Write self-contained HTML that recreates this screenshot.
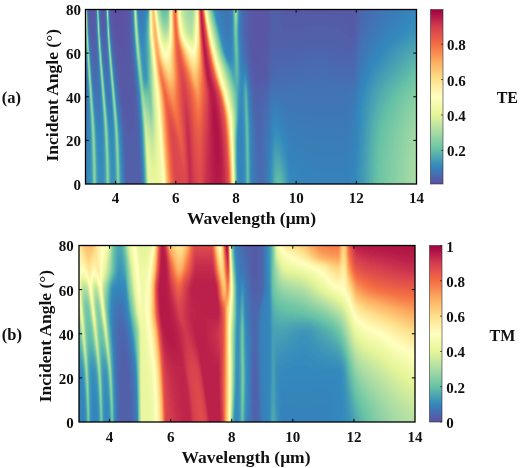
<!DOCTYPE html>
<html lang="en"><head><meta charset="utf-8"><title>TE / TM absorption maps</title>
<style>html,body{margin:0;padding:0;background:#fff}svg{display:block}text{fill:#111}</style></head><body>
<svg width="520" height="468" viewBox="0 0 520 468" font-family="'Liberation Serif','Times New Roman',serif" font-weight="bold">
<defs><linearGradient id="cb" x1="0" y1="1" x2="0" y2="0"><stop offset="0" stop-color="#5e4fa2"/><stop offset="0.05" stop-color="#496aaf"/><stop offset="0.1" stop-color="#3387bc"/><stop offset="0.15" stop-color="#4ba4b1"/><stop offset="0.2" stop-color="#66c2a5"/><stop offset="0.25" stop-color="#89d0a4"/><stop offset="0.3" stop-color="#aadca4"/><stop offset="0.35" stop-color="#c8e99e"/><stop offset="0.4" stop-color="#e6f598"/><stop offset="0.45" stop-color="#f3faac"/><stop offset="0.5" stop-color="#fffebe"/><stop offset="0.55" stop-color="#fff0a6"/><stop offset="0.6" stop-color="#fee08b"/><stop offset="0.65" stop-color="#fdc776"/><stop offset="0.7" stop-color="#fdad60"/><stop offset="0.75" stop-color="#f88c51"/><stop offset="0.8" stop-color="#f46d43"/><stop offset="0.85" stop-color="#e45549"/><stop offset="0.9" stop-color="#d43d4f"/><stop offset="0.95" stop-color="#b81e48"/><stop offset="1" stop-color="#9e0142"/></linearGradient></defs>
<rect width="520" height="468" fill="#fff"/>
<g fill="none" stroke-width="1.02" shape-rendering="crispEdges" transform="translate(0.5 0)">
<path stroke="#5c51a3" d="M113 10v2m1-2v7m1-7v11m1-11v16m1-16v18m1-18v19m1-19v19m1-19v18m1-18v16m1-16v12m1-12v6"/>
<path stroke="#5b53a4" d="M91 10v2m1-2v2m20-2v6m1-4v9m1-4v10m1-6v12m1-7v13m1-11v15m1-14v17m1-17v18m1-19v20m1-22v21m1-25v24m1-30v27m1-33v29m1-29v21m1-21v9"/>
<path stroke="#5956a5" d="M90 10v6m1-4v7m1-7v8m1-10v7m9-7v2m9-2v6m1 0v6m1-1v7m1-1v8m1-2v8m1-2v8m1-4v10m1-7v12m1-11v14m1-13v15m1-16v18m1-19v19m1-22v22m1-26v25m1-33v30m1-42v34m1-43v28m126-28v37m1-37v52m1-52v54m1-54v55m1-55v54m1-54v54m1-54v53m1-53v51m1-51v48m1-48v44m1-44v40m1-40v38m1-38v36m1-36v33m1-33v25"/>
<path stroke="#5758a6" d="M89 10v3m1 3v5m1-2v7m1-6v8m1-11v9m1-16v5m7-5v4m1-2v7m1-9v8m7-8v1m1 5v4m1 2v6m1 0v6m1 1v5m1 1v5m1 1v6m1 0v6m1-1v8m1-5v11m1-9v15m1-13v19m1-19v25m1-25v29m1-30v32m1-35v37m1-45v45m1-60v59m1-87v84m123-84v34m1-34v50m1-13v21m1-6v11m1-9v11m1-10v11m1-12v12m1-12v12m1-13v12m1-14v14m1-17v16m1-20v18m1-22v20m1-22v20m1-22v18m1-21v14m1-22v13m1-38v28"/>
<path stroke="#555aa7" d="M89 13v4m1 4v5m1 0v6m1-4v6m1-8v8m1-19v12m7-13v4m1 1v5m1-6v8m1-16v4m6-3v4m1 5v4m1 4v4m1 2v5m1 1v5m1 1v5m1 2v5m1 1v6m1 1v5m1 1v7m1-1v9m1-3v12m1-6v14m1-10v15m1-13v16m1-14v16m1-16v18m1-19v19m1-22v23m1-107v106m1-61v59m1-44v41m1-25v18m117-94v25m1-25v37m1-3v17m1-1v9m1-1v8m1-3v7m1-5v6m1-5v6m1-6v6m1-6v6m1-7v7m1-7v6m1-7v7m1-9v8m1-10v9m1-11v10m1-14v13m1-20v17m1-26v17m1-27v12m1-40v28m14-28v1m1-1v5m1-5v7m1-7v7m1-7v7m1-7v7m1-7v7m1-7v7m1-7v7m1-7v7m1-7v7m1-7v7m1-7v7m1-7v6m1-6v6m1-6v6m1-6v6m1-6v6m1-6v6m1-6v6m1-6v5m1-5v5m1-5v5m1-5v5m1-5v5m1-5v5m1-5v5m1-5v5m1-5v5m1-5v5m1-5v4m1-4v4m1-4v4m1-4v4m1-4v4m1-4v4m1-4v4m1-4v4m1-4v4m1-4v4m1-4v4m1-4v4m1-4v4m1-4v5m1-5v5m1-5v5m1-5v5m1-5v5m1-5v5m1-5v5m1-5v5m1-5v6m1-6v6m1-6v6m1-6v6m1-6v6m1-6v7m1-7v7m1-7v8m1-8v8m1-8v9m1-9v10m1-10v11m1-11v13m1-13v15m1-15v16m1-16v18m1-18v19m1-19v19m1-19v18m1-18v14m1-14v2"/>
<path stroke="#545ca8" d="M89 17v4m1 5v4m1 2v4m1-2v5m1-5v6m1-13v9m6-26v2m1 6v4m1 2v5m1-3v6m1-18v13m6-12v2m1 7v4m1 4v4m1 3v3m1 3v4m1 2v4m1 3v4m1 3v4m1 2v5m1 3v5m1 3v6m1 3v6m1 2v6m1-1v8m1-5v11m1-9v14m1-12v15m1-15v17m1-16v18m1-19v20m1-95v14m0 59v21m1-76v11m0 41v23m1-64v16m0 18v27m1-49v45m1-32v24m114-109v28m1-3v12m1 0v12m1 2v7m1 1v7m1 0v5m1-1v4m1-3v5m1-4v4m1-4v4m1-4v4m1-4v4m1-5v5m1-5v4m1-5v4m1-5v5m1-6v5m1-6v5m1-8v7m1-16v12m1-27v16m1-28v12m1-40v28m10-28v10m1-10v15m1-15v18m1-17v19m1-15v16m1-14v15m1-15v15m1-15v15m1-15v15m1-15v15m1-15v14m1-14v14m1-14v14m1-14v14m1-14v14m1-14v13m1-14v14m1-14v14m1-14v13m1-13v13m1-13v13m1-13v12m1-12v12m1-13v13m1-13v13m1-13v12m1-12v12m1-12v12m1-12v12m1-12v11m1-11v11m1-11v11m1-11v11m1-12v12m1-12v11m1-11v11m1-11v11m1-11v11m1-11v11m1-11v11m1-11v11m1-11v11m1-11v11m1-11v11m1-11v11m1-11v11m1-10v11m1-11v11m1-11v11m1-11v11m1-11v12m1-12v12m1-12v12m1-12v13m1-12v12m1-12v12m1-12v13m1-13v13m1-13v14m1-13v13m1-13v14m1-13v14m1-14v14m1-13v14m1-13v14m1-13v14m1-12v13m1-11v12m1-11v12m1-10v10m1-9v10m1-10v10m1-11v10m1-14v12m1-24v18m1-20v9"/>
<path stroke="#525fa9" d="M89 21v3m1 6v4m1 2v4m1-1v5m1-4v6m1-10v8m6-32v3m1 7v4m1 3v4m1-1v5m1-10v9m6-19v3m1 8v3m1 5v3m1 3v4m1 3v3m1 3v4m1 3v4m1 3v4m1 3v4m1 4v5m1 4v4m1 5v4m1 4v4m1 3v5m1 1v8m1-3v17m1-14v32m1-30v51m1-49v49m1-48v48m1-174v1m0 15v15m0 94v49m1-133v8m0 75v50m1-120v6m0 61v53m1-108v6m0 45v57m1-98v9m0 24v65m1-85v85m1-63v10m0 17v36m1-19v19m1-10v10m109-174v28m1 0v9m1 0v10m1 2v7m1 2v6m1 2v5m1 0v4m1-1v4m1-2v4m1-4v5m1-5v5m1-5v5m1-5v4m1-4v4m1-5v4m1-5v4m1-4v4m1-5v4m1-5v4m1-5v4m1-8v5m1-16v10m1-26v15m1-27v13m1-41v31m5-31v18m1-18v24m1-24v26m1-26v28m1-18v19m1-14v15m1-12v12m1-10v11m1-10v10m1-9v10m1-10v10m1-10v10m1-10v10m1-10v9m1-10v10m1-10v10m1-10v10m1-10v10m1-10v9m1-10v10m1-10v10m1-10v10m1-11v10m1-10v10m1-10v10m1-11v10m1-10v10m1-10v10m1-10v9m1-10v10m1-10v10m1-10v9m1-9v9m1-10v10m1-10v9m1-9v9m1-9v9m1-9v9m1-10v10m1-10v9m1-9v9m1-9v9m1-9v9m1-9v9m1-9v9m1-9v9m1-9v9m1-9v9m1-9v10m1-10v10m1-9v9m1-9v9m1-9v9m1-9v10m1-9v9m1-9v10m1-10v10m1-9v9m1-9v10m1-10v10m1-9v10m1-10v10m1-9v10m1-10v11m1-10v10m1-9v10m1-10v10m1-9v9m1-8v9m1-8v8m1-7v8m1-7v7m1-6v6m1-6v7m1-6v6m1-6v6m1-7v6m1-8v6m1-12v8m1-19v13m1-22v12"/>
<path stroke="#5061aa" d="M88 10v2m1 12v3m1 7v3m1 3v4m1 0v4m1-2v5m1-7v7m1-41v33m5-28v2m1 9v2m1 5v4m1 0v5m1-6v7m6-23v2m1 9v2m1 6v3m1 4v3m1 3v4m1 3v3m1 4v3m1 4v3m1 4v4m1 5v3m1 5v4m1 5v3m1 5v3m1 5v4m1 5v7m1 7v14m1 4v21m4-173v15m1 18v7m1 8v5m1 7v5m1 6v4m1 6v7m1 7v15m0 10v17m1-25v42m1-16v25m1-8v18m107-174v28m1 0v8m1 1v8m1 2v6m1 3v5m1 3v4m1 3v3m1 1v4m1-1v5m1-3v5m1-4v6m1-6v6m1-6v5m1-6v6m1-6v5m1-6v5m1-6v5m1-5v4m1-5v4m1-5v4m1-5v3m1-6v3m1-9v5m1-16v10m1-24v13m1-23v12m1-43v38m1-38v36m1-36v36m1-36v37m1-19v19m1-13v13m1-11v12m1-10v10m1-9v9m1-8v9m1-9v9m1-8v8m1-8v8m1-7v7m1-7v7m1-7v7m1-7v7m1-8v8m1-8v8m1-8v8m1-8v8m1-8v7m1-8v8m1-8v8m1-8v8m1-8v7m1-8v8m1-8v8m1-8v7m1-8v8m1-8v8m1-8v7m1-8v8m1-8v8m1-8v7m1-8v8m1-8v8m1-8v7m1-8v8m1-8v8m1-8v8m1-8v7m1-7v7m1-8v8m1-8v8m1-8v8m1-8v8m1-8v8m1-8v8m1-8v8m1-8v8m1-8v8m1-7v7m1-7v7m1-7v8m1-8v8m1-8v8m1-7v8m1-8v8m1-7v8m1-8v8m1-8v9m1-8v8m1-8v9m1-8v8m1-8v9m1-8v8m1-7v8m1-8v8m1-7v8m1-8v8m1-8v8m1-7v7m1-7v7m1-6v6m1-6v6m1-6v6m1-5v5m1-5v5m1-5v5m1-6v6m1-8v6m1-10v6m1-12v7m1-17v11m1-23v13"/>
<path stroke="#4e63ac" d="M88 12v2m1 13v2m1 8v3m1 4v3m1 1v5m1-2v5m1-5v7m1-15v10m5-36v2m1 9v3m1 6v2m1 3v3m1-2v5m1-22v18m5-22v2m1 9v2m1 7v2m1 5v3m1 4v3m1 3v3m1 4v3m1 4v4m1 4v3m1 5v3m1 6v3m1 5v3m1 5v3m1 6v4m1 8v8m1 13v13m6-135v7m1 10v5m1 8v4m1 7v4m1 6v4m1 8v6m1 9v8m1 9v17m1 6v11m1 9v9m105-174v27m1 1v6m1 2v6m1 3v5m1 3v4m1 4v4m1 3v4m1 2v3m1 2v4m1 0v8m1-6v11m1-9v11m1-11v11m1-12v11m1-11v8m1-9v7m1-8v6m1-7v5m1-6v4m1-5v4m1-5v3m1-5v4m1-7v4m1-8v4m1-10v5m1-16v10m1-21v13m1-18v12m1-14v12m1-12v12m1-11v10m1-10v10m1-10v10m1-9v9m1-9v9m1-9v9m1-8v8m1-8v8m1-8v8m1-8v8m1-8v7m1-7v7m1-7v7m1-7v7m1-7v7m1-7v7m1-7v6m1-6v6m1-7v7m1-7v7m1-7v7m1-7v6m1-7v7m1-7v7m1-7v7m1-8v7m1-7v7m1-7v7m1-8v7m1-7v7m1-7v6m1-7v7m1-7v7m1-7v6m1-7v7m1-7v7m1-7v7m1-7v6m1-7v7m1-7v7m1-7v7m1-7v7m1-7v6m1-6v6m1-6v6m1-6v6m1-6v6m1-6v7m1-7v7m1-7v7m1-7v7m1-6v7m1-7v7m1-7v8m1-7v7m1-7v8m1-7v7m1-7v8m1-7v8m1-8v8m1-7v8m1-8v8m1-7v8m1-8v8m1-7v7m1-7v7m1-6v7m1-7v7m1-7v7m1-7v7m1-7v7m1-7v7m1-7v7m1-7v7m1-7v7m1-7v7m1-7v6m1-6v6m1-8v6m1-10v6m1-11v6m1-12v7m1-17v10m1-23v14m1-14v4"/>
<path stroke="#4d65ad" d="M88 14v2m1 13v2m1 9v2m1 5v3m1 3v4m1-1v5m1-3v6m1-11v10m5-44v2m1 10v2m1 6v3m1 3v3m1 0v5m1-35v8m0 18v9m4-43v1m1 13v2m1 9v2m1 7v2m1 6v2m1 5v2m1 4v3m1 4v3m1 5v3m1 4v3m1 5v3m1 6v2m1 6v2m1 6v3m1 7v4m1 12v7m1 19v12m6-156v9m1 13v4m1 9v4m1 7v4m1 7v3m1 7v5m1 10v5m1 10v7m1 14v9m1 12v8m104-165v25m1 2v6m1 1v6m1 2v6m1 2v4m1 3v4m1 4v4m1 3v2m1 3v3m1 3v6m1 2v8m1-3v12m1-10v16m1-16v20m1-21v20m1-23v16m1-18v12m1-14v9m1-11v7m1-9v6m1-7v5m1-7v5m1-6v4m1-7v3m1-7v4m1-9v4m1-10v5m1-13v8m1-14v9m1-11v9m1-9v8m1-9v8m1-8v8m1-8v7m1-7v7m1-7v7m1-7v6m1-6v6m1-6v6m1-6v6m1-6v6m1-7v6m1-6v6m1-6v6m1-6v6m1-6v5m1-5v5m1-6v6m1-6v6m1-6v5m1-5v5m1-5v5m1-6v6m1-6v5m1-5v5m1-5v5m1-6v6m1-6v5m1-5v5m1-6v6m1-6v5m1-6v6m1-6v6m1-6v6m1-7v6m1-6v6m1-6v6m1-6v6m1-7v7m1-7v6m1-6v6m1-6v6m1-6v6m1-7v7m1-7v7m1-7v7m1-7v7m1-7v7m1-6v6m1-6v6m1-6v7m1-7v7m1-6v6m1-6v7m1-6v6m1-6v7m1-6v6m1-6v7m1-6v6m1-5v6m1-6v6m1-5v6m1-6v6m1-5v5m1-5v6m1-6v6m1-6v6m1-5v5m1-5v6m1-6v6m1-6v6m1-6v6m1-6v6m1-6v6m1-6v6m1-6v6m1-6v6m1-7v6m1-6v6m1-8v6m1-10v5m1-10v5m1-10v5m1-12v6m1-15v9m1-19v11m1-15v8m1-8v1"/>
<path stroke="#4b68ae" d="M88 16v2m1 13v2m1 9v2m1 6v3m1 4v3m1 1v5m1-2v6m1-7v8m1-28v22m4-44v2m1 10v2m1 7v2m1 4v3m1 2v4m1-45v6m0 35v7m4-49v2m1 13v1m1 10v2m1 7v2m1 6v2m1 5v3m1 4v3m1 4v3m1 5v2m1 5v3m1 5v3m1 5v3m1 5v3m1 6v3m1 8v4m1 15v6m7-149v18m1 17v5m1 10v3m1 8v3m1 8v3m1 7v3m1 10v5m1 10v5m1 13v8m1 14v7m103-157v14m1 11v6m1 2v5m1 2v5m1 3v3m1 3v3m1 4v4m1 4v2m1 3v3m1 3v4m1 5v7m1 3v8m1 1v8m1-2v11m1-7v14m1-15v21m1-28v28m1-34v26m1-31v15m1-19v10m1-13v8m1-10v6m1-8v5m1-7v4m1-8v4m1-7v3m1-8v4m1-9v4m1-9v5m1-10v7m1-9v7m1-8v7m1-8v7m1-7v6m1-7v7m1-7v6m1-6v6m1-7v6m1-6v6m1-6v6m1-6v6m1-6v5m1-6v6m1-6v6m1-6v5m1-5v5m1-6v6m1-6v6m1-6v5m1-5v5m1-6v6m1-6v5m1-5v5m1-5v5m1-6v5m1-5v5m1-5v5m1-5v5m1-6v5m1-5v5m1-5v5m1-6v6m1-6v5m1-5v5m1-5v5m1-6v6m1-6v6m1-6v5m1-5v5m1-5v5m1-6v6m1-6v6m1-6v6m1-6v6m1-6v5m1-5v5m1-5v5m1-5v5m1-5v5m1-5v6m1-6v6m1-5v5m1-5v5m1-5v6m1-5v5m1-5v6m1-5v5m1-5v6m1-5v5m1-5v6m1-5v5m1-5v6m1-5v5m1-5v5m1-5v6m1-5v5m1-5v5m1-5v6m1-6v6m1-5v5m1-5v5m1-5v5m1-5v5m1-5v5m1-5v5m1-5v5m1-5v5m1-5v5m1-6v6m1-6v6m1-8v6m1-11v7m1-12v6m1-11v5m1-11v5m1-11v6m1-14v9m1-16v10m1-17v12m1-13v8m1-8v3"/>
<path stroke="#496aaf" d="M88 18v2m1 13v2m1 9v2m1 7v2m1 5v3m1 3v4m1 0v5m1-4v6m1-41v7m0 22v12m4-54v1m1 11v2m1 7v2m1 5v3m1 3v3m1-50v2m0 48v5m1-19v18m3-51v1m1 13v2m1 10v1m1 8v2m1 6v2m1 6v2m1 5v2m1 5v3m1 4v3m1 5v2m1 6v2m1 6v2m1 6v2m1 7v3m1 9v5m1 16v7m8-125v4m1 11v4m1 8v3m1 8v3m1 7v3m1 9v4m1 11v4m1 13v5m1 17v5m1 19v5m102-160v15m1 2v5m1 2v5m1 2v4m1 2v3m1 3v3m1 5v3m1 3v3m1 3v3m1 4v6m1 6v6m1 5v6m1 3v7m1 2v9m1-2v11m1-5v12m1-12v17m1-25v28m1-44v35m1-44v19m1-24v11m1-15v8m1-11v7m1-10v6m1-10v5m1-9v4m1-8v3m1-8v4m1-8v4m1-7v4m1-6v5m1-6v5m1-6v6m1-7v6m1-6v6m1-7v6m1-6v6m1-7v6m1-6v6m1-6v5m1-5v5m1-6v6m1-6v6m1-6v5m1-6v6m1-6v6m1-6v5m1-5v5m1-6v6m1-6v5m1-5v5m1-6v6m1-6v5m1-5v5m1-6v6m1-6v5m1-5v5m1-5v5m1-6v6m1-6v5m1-5v5m1-5v5m1-6v6m1-6v5m1-5v5m1-5v5m1-5v5m1-6v6m1-6v5m1-5v5m1-5v5m1-5v5m1-5v5m1-5v5m1-6v6m1-6v6m1-6v6m1-6v6m1-6v6m1-5v5m1-5v5m1-5v5m1-5v6m1-5v5m1-5v6m1-5v5m1-5v5m1-4v5m1-5v5m1-4v5m1-5v5m1-4v5m1-5v5m1-5v6m1-5v5m1-5v6m1-6v6m1-5v5m1-5v5m1-5v5m1-5v5m1-5v5m1-5v5m1-5v6m1-6v6m1-6v6m1-6v6m1-6v6m1-6v6m1-6v5m1-7v5m1-9v6m1-12v6m1-12v6m1-12v5m1-10v5m1-10v5m1-11v7m1-12v8m1-13v9m1-14v10m1-13v9m1-9v5"/>
<path stroke="#486cb0" d="M88 20v1m1 14v2m1 9v2m1 7v3m1 5v3m1 4v4m1 1v4m1-2v6m1-51v4m0 41v6m1-17v12m3-54v1m1 12v1m1 8v2m1 6v2m1 4v3m1 2v4m1-28v5m0 18v8m3-58v1m1 14v1m1 10v2m1 8v1m1 7v2m1 6v2m1 5v3m1 5v2m1 5v2m1 5v3m1 5v3m1 5v2m1 6v2m1 8v2m1 12v5m1 18v9m8-138v4m1 12v3m1 10v2m1 9v2m1 8v2m1 9v3m1 11v4m1 12v5m1 17v5m1 18v6m101-169v24m1 5v4m1 3v4m1 3v4m1 2v2m1 3v2m1 4v3m1 5v2m1 4v2m1 4v3m1 7v5m1 7v5m1 6v6m1 4v8m1 3v8m1 1v9m1-2v11m1-6v13m1-10v15m1-24v25m1-50v50m1-63v18m1-25v11m1-15v8m1-12v7m1-12v6m1-11v5m1-10v4m1-8v3m1-7v3m1-6v4m1-5v4m1-5v4m1-4v4m1-5v5m1-5v4m1-5v5m1-5v5m1-6v5m1-5v5m1-6v6m1-6v6m1-6v5m1-5v5m1-6v6m1-6v6m1-6v5m1-6v6m1-6v6m1-6v5m1-6v6m1-6v6m1-6v6m1-7v6m1-6v6m1-6v6m1-7v6m1-6v6m1-6v6m1-6v5m1-6v6m1-6v6m1-6v6m1-6v5m1-6v6m1-6v6m1-6v6m1-6v5m1-5v5m1-6v6m1-6v6m1-6v6m1-6v6m1-6v6m1-6v5m1-5v5m1-5v5m1-5v5m1-5v5m1-5v5m1-5v6m1-6v6m1-6v6m1-5v5m1-5v6m1-5v5m1-5v6m1-6v6m1-5v6m1-6v6m1-5v6m1-6v6m1-5v6m1-6v6m1-5v6m1-6v6m1-5v5m1-5v6m1-6v6m1-6v6m1-6v6m1-6v6m1-6v6m1-6v6m1-5v5m1-5v5m1-5v5m1-5v5m1-5v4m1-4v4m1-5v5m1-7v5m1-8v5m1-11v6m1-12v6m1-13v6m1-11v5m1-10v5m1-9v5m1-9v6m1-10v7m1-11v8m1-12v8m1-12v8m1-13v10m1-10v6m1-6v3"/>
<path stroke="#466eb1" d="M88 21v1m1 15v1m1 10v1m1 9v2m1 6v3m1 5v3m1 2v4m1 0v4m1-58v3m0 51v6m1-31v8m0 12v10m3-63v2m1 11v1m1 9v1m1 7v2m1 5v3m1 3v3m1-34v3m0 31v5m1-14v13m2-61v1m1 14v1m1 11v1m1 8v2m1 7v2m1 6v2m1 6v2m1 5v2m1 5v3m1 5v2m1 6v2m1 5v2m1 6v3m1 7v3m1 14v4m1 23v9m8-152v5m1 13v3m1 10v3m1 8v3m1 7v3m1 8v3m1 11v3m1 13v3m1 17v5m1 18v5m101-139v6m1 3v4m1 3v5m1 2v2m1 2v2m1 3v2m1 5v2m1 5v2m1 4v2m1 5v4m1 8v5m1 7v6m1 6v6m1 6v8m1 3v10m1 0v11m1-2v11m1-4v6m1-1v1m3-45v45m1-59v15m1-22v10m1-15v7m1-13v7m1-13v5m1-11v4m1-9v4m1-8v4m1-6v3m1-4v3m1-4v4m1-4v4m1-4v3m1-4v4m1-4v4m1-4v4m1-5v5m1-5v5m1-5v5m1-5v5m1-6v6m1-6v5m1-5v5m1-5v5m1-6v6m1-6v6m1-6v6m1-7v6m1-6v6m1-6v6m1-6v6m1-7v6m1-6v6m1-6v6m1-7v7m1-7v7m1-7v6m1-7v7m1-7v7m1-7v7m1-7v6m1-7v7m1-7v7m1-7v7m1-7v6m1-7v7m1-7v7m1-7v7m1-7v7m1-7v7m1-7v7m1-7v6m1-7v7m1-7v7m1-7v7m1-7v7m1-7v7m1-7v7m1-6v7m1-7v7m1-7v7m1-7v7m1-6v7m1-7v7m1-6v7m1-7v7m1-6v6m1-6v7m1-6v6m1-6v6m1-5v6m1-6v6m1-5v5m1-5v6m1-6v6m1-5v5m1-5v5m1-5v5m1-5v5m1-5v5m1-5v5m1-5v5m1-5v5m1-5v4m1-4v4m1-4v4m1-5v5m1-5v4m1-4v4m1-6v4m1-7v5m1-10v6m1-12v6m1-13v6m1-12v5m1-10v5m1-9v5m1-8v5m1-8v5m1-8v6m1-10v7m1-11v8m1-11v7m1-11v8m1-11v8m1-11v8m1-8v5m1-5v3"/>
<path stroke="#4471b2" d="M88 22v2m1 14v1m1 10v2m1 9v2m1 7v2m1 6v2m1 4v3m1 1v4m1-64v2m0 60v5m1-41v5m0 30v6m1-13v5m1-76v1m1 16v1m1 11v2m1 8v2m1 7v2m1 6v2m1 4v3m1-40v3m0 39v4m1-23v5m0 13v8m2-68v2m1 13v1m1 11v1m1 9v1m1 8v1m1 7v1m1 7v2m1 5v2m1 6v2m1 5v3m1 5v2m1 5v2m1 7v2m1 8v4m1 14v5m9-130v5m1 15v3m1 11v2m1 9v2m1 8v2m1 8v3m1 11v3m1 12v4m1 16v4m1 18v5m100-158v24m1 6v4m1 3v4m1 4v3m1 1v2m1 2v2m1 3v2m1 5v3m1 4v2m1 4v3m1 6v5m1 8v5m1 8v5m1 7v8m1 6v10m1 3v11m1 0v11m1-2v2m6-44v44m1-56v12m1-20v10m1-16v8m1-16v6m1-13v5m1-10v4m1-8v3m1-6v3m1-4v3m1-3v3m1-3v3m1-4v4m1-4v4m1-4v4m1-4v4m1-4v4m1-4v4m1-4v4m1-4v4m1-4v4m1-5v6m1-6v6m1-6v6m1-6v6m1-6v6m1-6v6m1-7v7m1-7v7m1-7v7m1-7v6m1-7v7m1-7v7m1-7v7m1-7v7m1-7v7m1-8v8m1-8v8m1-8v7m1-7v7m1-8v8m1-8v8m1-8v8m1-8v8m1-9v8m1-8v8m1-8v8m1-8v8m1-8v8m1-8v8m1-8v8m1-9v9m1-9v9m1-9v8m1-8v8m1-8v8m1-8v8m1-8v9m1-8v8m1-8v8m1-8v8m1-8v8m1-7v7m1-7v8m1-7v7m1-7v7m1-7v7m1-6v6m1-6v7m1-7v7m1-6v6m1-6v6m1-6v6m1-5v5m1-5v5m1-5v5m1-5v5m1-5v5m1-5v6m1-6v5m1-5v5m1-5v5m1-5v5m1-6v5m1-5v5m1-5v4m1-4v4m1-5v4m1-4v3m1-5v4m1-6v3m1-7v4m1-10v6m1-13v6m1-13v6m1-11v5m1-9v5m1-8v4m1-7v5m1-7v4m1-7v5m1-8v5m1-9v7m1-10v7m1-10v7m1-10v7m1-10v8m1-10v7m1-10v8m1-8v5m1-5v3m1-3v1"/>
<path stroke="#4273b3" d="M86 77v24m2-77v1m1 14v1m1 11v1m1 10v1m1 8v2m1 6v3m1 4v3m1 2v4m1-70v2m0 67v4m1-48v3m0 41v6m1-28v9m0 5v11m1-86v1m1 16v1m1 12v1m1 9v1m1 8v1m1 7v2m1 5v2m1-44v2m0 46v3m1-30v4m0 26v4m1-12v12m2-56v1m1 11v1m1 9v1m1 8v1m1 7v2m1 7v1m1 6v2m1 6v2m1 6v2m1 5v2m1 5v2m1 7v2m1 10v3m1 16v5m9-140v5m1 17v3m1 11v3m1 9v2m1 9v1m1 8v2m1 11v3m1 12v3m1 15v5m1 18v4m100-129v5m1 5v3m1 4v5m1 2v2m1 1v1m1 3v1m1 4v2m1 6v1m1 5v2m1 5v2m1 9v5m1 8v5m1 8v6m1 9v10m1 6v12m1 2v11m9-44v17m1-27v10m1-18v9m1-19v8m1-16v6m1-12v5m1-10v4m1-7v4m1-5v3m1-3v3m1-3v3m1-3v3m1-3v3m1-3v4m1-4v4m1-4v4m1-4v5m1-5v5m1-5v5m1-5v6m1-5v5m1-5v6m1-6v6m1-6v6m1-6v6m1-6v6m1-6v6m1-6v6m1-6v6m1-7v7m1-7v7m1-7v7m1-7v7m1-7v7m1-7v7m1-7v7m1-7v7m1-8v8m1-8v8m1-8v8m1-8v8m1-8v8m1-8v8m1-9v9m1-9v9m1-9v9m1-9v9m1-9v9m1-9v9m1-9v9m1-9v9m1-9v9m1-10v10m1-10v10m1-10v10m1-10v10m1-9v9m1-9v9m1-9v9m1-9v9m1-9v9m1-9v9m1-8v8m1-8v8m1-8v8m1-8v8m1-8v8m1-7v7m1-7v7m1-7v7m1-7v7m1-7v7m1-7v7m1-7v7m1-7v7m1-7v7m1-7v7m1-6v6m1-7v7m1-7v7m1-7v6m1-6v5m1-6v6m1-6v5m1-6v5m1-5v4m1-5v4m1-5v4m1-5v3m1-6v4m1-7v4m1-8v4m1-11v6m1-13v7m1-13v6m1-10v5m1-9v5m1-7v4m1-7v5m1-7v5m1-8v5m1-7v5m1-8v6m1-9v6m1-9v6m1-8v6m1-9v6m1-8v6m1-9v7m1-9v7m1-9v7m1-8v6m1-6v4m1-4v2"/>
<path stroke="#4175b4" d="M86 72v5m0 24v7m2-83v1m1 14v1m1 11v2m1 9v2m1 8v2m1 7v2m1 5v3m1 3v3m1-75v2m0 73v4m1-54v2m0 50v4m1-36v4m0 25v7m1-92v1m1 16v1m1 12v1m1 9v1m1 8v2m1 7v1m1 6v3m1-49v2m0 51v3m1-35v2m0 34v4m1-21v5m0 12v7m1-77v1m1 14v1m1 11v1m1 9v1m1 8v1m1 8v1m1 7v2m1 6v2m1 6v2m1 6v2m1 5v2m1 5v2m1 7v3m1 10v4m1 17v6m9-152v6m1 20v2m1 12v2m1 10v2m1 9v2m1 7v2m1 10v3m1 12v3m1 15v3m1 19v4m1 22v3m99-145v4m1 4v5m1 4v3m1 1v2m1 0v2m1 2v2m1 4v2m1 5v2m1 5v2m1 5v4m1 10v4m1 9v5m1 9v9m1 10v12m1 6v13m10-27v27m1-44v12m1-21v9m1-20v9m1-19v7m1-14v5m1-11v4m1-7v3m1-5v4m1-4v3m1-3v3m1-3v4m1-4v4m1-3v3m1-3v4m1-4v4m1-3v4m1-4v5m1-5v6m1-5v5m1-5v6m1-5v6m1-6v7m1-7v7m1-7v7m1-7v7m1-7v7m1-7v8m1-8v8m1-8v8m1-8v8m1-8v8m1-8v8m1-8v8m1-8v8m1-8v9m1-9v9m1-9v9m1-9v9m1-9v9m1-9v9m1-9v9m1-9v9m1-9v9m1-9v9m1-9v9m1-9v9m1-9v10m1-10v10m1-10v10m1-10v10m1-10v10m1-10v10m1-10v10m1-10v10m1-10v10m1-10v10m1-10v10m1-10v10m1-10v10m1-10v10m1-10v10m1-10v10m1-10v10m1-10v10m1-10v10m1-10v10m1-10v10m1-10v9m1-9v9m1-9v9m1-9v9m1-9v9m1-9v9m1-9v9m1-9v9m1-9v9m1-9v9m1-9v9m1-9v8m1-9v8m1-9v8m1-8v7m1-8v7m1-8v6m1-7v6m1-7v5m1-6v4m1-6v4m1-6v4m1-7v3m1-7v4m1-9v5m1-11v5m1-12v6m1-11v6m1-10v5m1-8v5m1-7v4m1-6v4m1-7v5m1-7v5m1-7v4m1-7v5m1-8v6m1-8v6m1-9v6m1-8v6m1-8v6m1-8v6m1-8v6m1-8v6m1-8v6m1-8v6m1-8v6m1-6v5m1-5v3m1-3v1"/>
<path stroke="#3f77b5" d="M86 69v3m0 36v6m1-18v5m1-75v1m1 14v1m1 12v1m1 10v1m1 9v2m1 7v2m1 6v2m1 4v3m1-80v2m0 79v4m1-60v2m0 56v4m1-42v2m0 36v4m1-95v1m0 71v20m1-75v1m2 22v1m1 9v1m1 7v2m1 7v1m1-51v1m0 56v2m1-39v2m0 40v3m1-27v3m0 24v5m1-81v1m0 67v12m1-65v1m1 11v1m1 9v1m1 8v1m1 8v1m1 8v1m1 7v2m1 6v2m1 6v1m1 6v2m1 5v3m1 7v2m1 12v4m1 19v8m9-166v6m1 24v2m1 12v2m1 10v2m1 9v2m1 8v1m1 10v2m1 13v2m1-105v3m0 117v3m1 19v3m1 21v5m82-171v4m1-4v7m1-7v9m1-9v9m1-9v5m12 2v18m1 8v3m1 6v5m1 2v3m1 0v1m1 1v1m1 3v1m1 5v2m1 5v2m1 5v2m1 7v4m1 10v5m1 9v6m1 12v12m1 10v19m12-32v32m1-44v9m1-20v9m1-21v8m1-17v5m1-12v5m1-9v4m1-5v3m1-4v4m1-4v4m1-3v3m1-3v3m1-3v4m1-3v4m1-4v5m1-4v5m1-4v5m1-4v5m1-5v6m1-5v7m1-6v7m1-6v7m1-7v8m1-8v8m1-8v8m1-8v9m1-8v8m1-8v8m1-8v8m1-8v9m1-9v9m1-9v9m1-9v9m1-9v10m1-9v9m1-9v9m1-9v9m1-9v10m1-10v10m1-10v10m1-10v10m1-10v10m1-10v10m1-10v11m1-11v11m1-11v11m1-10v10m1-10v10m1-10v10m1-10v10m1-10v10m1-10v10m1-10v10m1-10v10m1-10v10m1-10v10m1-10v10m1-10v10m1-10v10m1-10v10m1-10v10m1-10v10m1-10v10m1-10v10m1-10v10m1-10v10m1-10v10m1-11v11m1-11v11m1-11v11m1-11v11m1-11v11m1-11v11m1-11v11m1-11v11m1-11v10m1-10v10m1-10v10m1-11v10m1-11v11m1-12v10m1-11v10m1-11v9m1-11v9m1-10v8m1-10v8m1-10v7m1-9v5m1-7v4m1-8v4m1-7v4m1-8v4m1-10v5m1-11v6m1-11v6m1-11v6m1-9v6m1-9v5m1-7v5m1-7v4m1-6v4m1-7v5m1-7v5m1-7v5m1-7v5m1-8v6m1-8v6m1-8v5m1-7v5m1-7v5m1-7v5m1-7v6m1-8v6m1-8v6m1-7v5m1-7v6m1-8v6m1-7v6m1-6v4m1-4v2"/>
<path stroke="#3d79b6" d="M86 67v2m0 45v5m1-31v8m0 5v11m1-85v1m1 14v1m1 12v1m1 10v1m1 10v1m1 8v2m1 6v3m1 4v3m1-84v1m0 85v3m1-64v1m0 62v4m1-48v2m0 42v5m1-99v1m0 67v3m0 20v6m1-80v1m1 11v1m1 10v1m1 9v1m1 8v1m1 7v2m1-55v2m0 59v2m1-42v1m0 45v3m1-32v2m0 32v3m1-83v1m0 61v5m0 12v6m1-70v1m2 21v1m1 8v1m1 8v2m1 7v1m1 8v1m1 7v2m1 5v2m1 6v2m1 6v2m1 7v3m1 13v5m1 22v8m10-147v3m1 12v2m1 10v2m1 9v2m1 8v2m1 9v2m1-88v4m0 96v3m1-100v5m0 109v3m1-120v7m0 131v4m1 20v4m80-166v4m1-4v8m1-4v8m1-5v9m1-7v9m1-9v11m1-15v14m1-19v9m11-9v7m0 18v4m1 7v4m1 7v3m1 2v2m1-1v2m1 0v2m1 2v2m1 5v1m1 6v1m1 6v2m1 9v4m1 11v5m1 10v9m1 15v19m14-25v11m1-22v8m1-21v8m1-20v7m1-14v5m1-10v5m1-7v4m1-4v3m1-3v3m1-3v4m1-4v4m1-3v4m1-3v4m1-3v4m1-3v4m1-3v5m1-4v5m1-4v6m1-4v6m1-5v7m1-6v7m1-6v8m1-8v8m1-8v9m1-8v8m1-8v9m1-9v9m1-9v10m1-9v9m1-9v9m1-9v10m1-10v10m1-9v10m1-10v10m1-10v10m1-10v11m1-10v10m1-10v10m1-10v11m1-11v11m1-11v11m1-11v12m1-11v11m1-11v11m1-11v11m1-11v11m1-11v12m1-12v12m1-12v12m1-12v12m1-12v12m1-12v12m1-12v12m1-12v12m1-12v12m1-12v12m1-12v12m1-12v12m1-12v12m1-12v12m1-12v12m1-12v12m1-12v12m1-12v12m1-12v12m1-12v12m1-12v12m1-12v12m1-12v12m1-12v12m1-12v12m1-12v12m1-12v12m1-12v12m1-13v13m1-13v13m1-13v12m1-13v13m1-13v12m1-14v12m1-13v11m1-13v11m1-13v11m1-13v10m1-12v10m1-13v9m1-13v9m1-12v6m1-10v4m1-7v3m1-7v3m1-8v4m1-9v5m1-10v5m1-10v6m1-9v5m1-9v6m1-8v5m1-8v5m1-7v5m1-7v4m1-6v4m1-6v4m1-6v5m1-7v5m1-7v5m1-8v6m1-8v6m1-8v6m1-8v6m1-7v5m1-7v5m1-7v5m1-7v6m1-7v5m1-7v6m1-7v5m1-7v6m1-8v7m1-9v7m1-7v6m1-6v4m1-4v3"/>
<path stroke="#3b7cb7" d="M86 65v2m0 52v5m1-40v4m0 24v7m1-91v1m1 14v1m1 12v1m1 10v2m1 9v2m1 8v2m1 7v2m1 5v2m1-88v2m0 89v3m1-69v2m0 67v3m1-53v2m0 49v4m1-38v3m0 29v5m1-84v1m0 71v1m1-61v1m1 10v1m1 9v1m1 8v2m1 7v2m1-58v1m0 63v2m1-46v2m0 49v3m1-37v2m0 37v3m1-85v1m0 58v2m0 23v4m1-9v5m1-58v1m1 10v1m1 8v1m1 9v1m1 7v2m1 7v2m1 7v1m1 6v2m1 6v2m1 6v2m1 8v3m1 15v4m11-123v2m1 13v2m1 11v1m1 10v1m1 9v1m1 9v2m1-82v3m0 91v2m1-92v4m0 102v3m1-110v5m0 123v3m1-138v7m0 151v4m78-162v1m1-1v6m1-2v6m1-2v7m1-3v6m1-2v6m1-4v7m1-5v6m1-7v8m1-18v15m1-24v3m10 26v3m1 8v5m1 5v3m1 1v2m1-1v2m1 0v1m1 3v1m1 5v2m1 5v2m1 6v2m1 11v4m1 12v5m1 14v14m1 20v10m14-24v24m1-38v9m1-22v9m1-22v7m1-16v6m1-11v4m1-7v4m1-5v4m1-4v4m1-3v3m1-3v4m1-3v4m1-3v4m1-3v4m1-3v5m1-3v5m1-4v6m1-4v6m1-4v6m1-4v7m1-6v8m1-6v8m1-8v9m1-8v9m1-9v10m1-9v9m1-9v10m1-9v9m1-9v10m1-10v11m1-10v10m1-10v11m1-10v10m1-10v11m1-11v11m1-10v11m1-11v12m1-12v12m1-11v12m1-12v12m1-12v12m1-11v12m1-12v12m1-12v13m1-13v13m1-13v13m1-12v12m1-12v13m1-13v13m1-13v13m1-13v13m1-13v13m1-13v13m1-13v13m1-13v13m1-13v13m1-13v13m1-13v13m1-13v13m1-13v13m1-13v13m1-13v13m1-13v13m1-13v13m1-13v13m1-13v13m1-13v13m1-13v13m1-13v13m1-13v13m1-13v13m1-13v13m1-13v13m1-13v13m1-13v14m1-14v13m1-14v14m1-14v14m1-15v14m1-16v14m1-16v14m1-16v14m1-16v13m1-16v13m1-15v12m1-16v12m1-16v10m1-16v9m1-15v7m1-11v5m1-9v4m1-8v4m1-8v4m1-9v5m1-9v5m1-9v6m1-9v5m1-8v5m1-8v5m1-7v4m1-7v5m1-7v5m1-7v5m1-6v4m1-6v4m1-6v4m1-6v4m1-6v5m1-7v5m1-7v5m1-7v5m1-7v5m1-7v6m1-7v5m1-7v5m1-6v5m1-7v6m1-7v5m1-6v5m1-7v6m1-7v6m1-8v6m1-7v6m1-9v8m1-8v6m1-6v5m1-5v3m1-3v1"/>
<path stroke="#3a7eb8" d="M86 63v2m0 59v6m1-48v2m0 35v7m1-97v1m1 14v1m1 12v1m1 11v1m1 10v1m1 9v1m1 8v2m1 5v3m1-92v1m0 94v2m1-72v1m0 72v4m1-58v1m0 55v4m1-106v1m0 61v2m0 37v5m1-26v9m0 1v12m1-72v1m1 10v1m1 9v1m1 9v1m1 8v1m1-60v1m0 66v2m1-49v1m0 54v2m1-40v1m0 42v3m1-31v2m0 29v4m1-77v1m0 57v6m0 5v8m1-65v1m2 19v1m1 9v1m1 8v1m1 8v1m1 7v2m1 6v2m1 6v2m1 6v2m1 9v4m1 15v5m11-130v2m1 14v1m1 11v2m1 9v2m1 8v2m1-74v2m0 80v2m1-77v3m0 86v2m1-86v3m0 96v3m1-102v4m0 116v3m1-128v6m0 142v3m1-158v3m76-3v2m1-1v6m1-1v5m1-1v5m1 0v5m1-2v5m1-1v4m1-1v4m1-3v5m1-4v5m1-8v6m1-27v20m10 9v3m1 10v5m1 3v3m1 0v2m1-1v1m1 0v1m1 3v1m1 6v1m1 6v1m1 7v3m1 12v5m1 12v7m1 21v25m16-24v11m1-24v8m1-23v8m1-18v6m1-13v5m1-8v4m1-5v4m1-4v4m1-4v4m1-3v4m1-3v4m1-3v4m1-3v4m1-2v4m1-2v4m1-2v5m1-3v5m1-3v6m1-3v6m1-4v7m1-5v8m1-7v9m1-8v9m1-8v9m1-9v10m1-9v10m1-10v11m1-10v11m1-10v10m1-10v11m1-10v11m1-11v12m1-11v12m1-12v13m1-12v12m1-11v12m1-12v13m1-12v13m1-13v13m1-13v14m1-13v14m1-14v14m1-13v14m1-14v14m1-14v15m1-15v15m1-14v14m1-14v15m1-15v15m1-15v15m1-15v15m1-15v15m1-15v15m1-15v15m1-15v15m1-15v15m1-15v15m1-15v16m1-16v16m1-16v16m1-16v16m1-16v16m1-16v16m1-16v16m1-16v16m1-16v16m1-16v16m1-16v16m1-16v16m1-16v16m1-16v16m1-16v16m1-16v16m1-15v15m1-16v16m1-16v15m1-15v15m1-16v15m1-17v15m1-17v15m1-17v14m1-17v15m1-18v15m1-18v14m1-18v14m1-20v13m1-20v11m1-19v9m1-15v6m1-11v4m1-8v4m1-8v4m1-8v4m1-8v5m1-8v5m1-9v5m1-8v5m1-8v5m1-8v5m1-7v4m1-6v4m1-6v4m1-6v4m1-6v4m1-6v5m1-7v5m1-6v4m1-6v4m1-6v5m1-7v5m1-7v5m1-6v4m1-6v5m1-7v5m1-6v5m1-6v5m1-7v5m1-6v5m1-6v5m1-6v5m1-7v6m1-7v5m1-6v5m1-7v6m1-7v6m1-8v7m1-9v8m1-9v7m1-7v6m1-6v4m1-4v2"/>
<path stroke="#3880b9" d="M86 61v2m0 67v9m1-60v3m0 44v7m1-29v16m1-75v1m1 12v1m1 11v1m1 10v1m1 9v2m1 8v2m1 6v2m1-95v1m0 97v3m1-76v1m0 77v3m1-63v2m0 60v4m1-109v1m0 58v2m0 44v5m1-93v1m0 58v3m0 22v6m1-77v1m1 10v1m1 9v1m1 9v1m1 8v1m1-62v1m0 69v1m1-51v1m0 57v2m1-44v2m0 46v2m1-89v1m0 53v2m0 35v3m1-79v1m0 53v3m0 19v5m2-59v1m1 9v1m2 18v1m1 8v1m1 8v1m1 7v1m1 7v1m1 7v3m1 10v4m1 16v6m11-138v2m1 14v2m1 11v1m1 10v1m1 9v1m1-70v2m0 77v1m1-72v2m0 81v3m1-81v3m0 91v2m1-95v4m0 108v4m1-119v5m0 134v3m1-152v7m75-10v2m1 0v5m1 0v4m1 0v5m1-1v5m1 0v4m1-1v4m1-1v4m1-1v4m1-2v4m1-3v4m1-6v6m1-13v8m9-10v1m1 13v3m1 12v3m1 3v3m1-1v2m1-2v2m1-1v1m1 3v2m1 5v1m1 6v2m1 8v4m1 13v4m1 15v11m1 35v5m16-18v18m1-34v9m1-24v7m1-19v6m1-14v5m1-9v4m1-5v3m1-3v3m1-3v4m1-3v4m1-3v4m1-3v4m1-3v5m1-3v5m1-3v5m1-2v5m1-3v6m1-3v6m1-3v6m1-3v7m1-4v8m1-6v9m1-8v10m1-9v10m1-9v10m1-9v11m1-10v11m1-10v11m1-11v12m1-11v12m1-11v12m1-11v12m1-11v12m1-11v13m1-13v14m1-13v14m1-13v14m1-13v14m1-14v15m1-14v15m1-14v15m1-15v16m1-15v16m1-16v16m1-15v16m1-16v17m1-17v17m1-16v17m1-17v17m1-17v18m1-18v18m1-18v18m1-18v18m1-18v18m1-18v18m1-18v18m1-18v18m1-17v17m1-17v17m1-17v17m1-17v17m1-17v17m1-17v17m1-17v17m1-17v17m1-17v17m1-17v17m1-17v17m1-17v17m1-17v17m1-17v17m1-17v17m1-17v17m1-17v17m1-17v17m1-18v18m1-18v17m1-18v17m1-19v17m1-19v16m1-19v16m1-18v15m1-18v15m1-19v15m1-19v14m1-21v15m1-24v14m1-24v12m1-21v10m1-17v7m1-11v4m1-8v4m1-8v4m1-7v4m1-7v4m1-8v5m1-8v5m1-8v4m1-7v4m1-7v5m1-7v4m1-6v4m1-6v4m1-6v5m1-6v4m1-6v4m1-6v5m1-7v5m1-6v4m1-6v4m1-6v5m1-7v5m1-6v4m1-6v5m1-6v4m1-5v4m1-6v5m1-6v5m1-6v5m1-6v4m1-5v4m1-6v5m1-6v5m1-6v5m1-6v5m1-6v5m1-6v5m1-7v6m1-7v6m1-8v6m1-8v7m1-9v8m1-8v6m1-6v4m1-4v2"/>
<path stroke="#3682ba" d="M86 60v1m0 78v13m1-74v1m0 54v12m1-115v1m0 68v5m0 16v10m2-71v1m1 11v1m1 10v1m1 10v1m1 9v1m1 7v2m1-98v1m0 101v3m1-80v1m0 81v3m1-67v1m0 66v4m1-112v1m0 56v1m0 51v5m1-97v1m0 55v2m0 31v7m2-72v1m1 9v1m1 9v1m1 8v1m1-64v1m0 71v2m1-54v1m0 60v1m1-46v1m0 50v2m1-90v1m0 51v1m0 40v3m1-30v2m0 27v5m1-74v1m0 58v12m1-60v1m1 9v1m1 8v1m1 9v1m1 8v2m1 7v2m1 6v2m1 6v2m1 8v2m1 12v5m1 17v8m11-148v2m1 15v1m1 11v2m1 9v2m1 9v1m1-67v1m0 74v2m1-69v2m0 78v1m1-75v3m0 86v2m1-89v4m0 101v3m1-110v5m0 126v3m1-142v6m1-16v5m73-5v2m1 0v4m1 1v4m1 0v4m1 1v3m1 1v3m1 1v3m1 0v3m1 0v4m1-1v3m1-1v4m1-3v4m1-4v5m1-10v7m1-38v18m8-11v14m0 1v6m1 10v4m1 11v4m1 2v3m1-2v3m1-3v1m1-1v2m1 3v1m1 5v1m1 7v1m1 11v4m1 13v5m1 21v16m18-1v10m1-27v7m1-20v6m1-15v5m1-10v5m1-7v4m1-4v4m1-3v3m1-2v3m1-2v3m1-2v4m1-2v4m1-2v4m1-2v4m1-1v4m1-1v5m1-2v5m1-2v6m1-2v7m1-3v7m1-4v8m1-6v10m1-9v11m1-10v11m1-9v11m1-10v11m1-10v12m1-11v12m1-11v13m1-12v13m1-12v14m1-13v14m1-12v14m1-13v15m1-14v15m1-14v16m1-15v16m1-15v17m1-16v17m1-16v16m1-15v15m1-14v14m1-14v14m1-13v13m1-12v12m1-12v12m1-11v11m1-11v11m1-10v10m1-10v10m1-10v10m1-10v10m1-10v10m1-10v10m1-10v10m1-10v10m1-10v10m1-10v10m1-10v10m1-10v10m1-10v10m1-10v10m1-10v10m1-10v10m1-10v10m1-10v10m1-10v10m1-10v10m1-10v10m1-10v10m1-10v10m1-10v10m1-10v10m1-10v10m1-10v10m1-11v11m1-12v12m1-14v14m1-17v17m1-20v20m1-23v19m1-22v18m1-22v17m1-22v17m1-23v15m1-25v15m1-27v15m1-26v12m1-22v10m1-17v7m1-11v4m1-8v4m1-7v4m1-7v4m1-7v4m1-7v4m1-8v5m1-8v5m1-7v4m1-7v5m1-7v4m1-6v4m1-5v3m1-5v4m1-6v4m1-5v4m1-6v4m1-6v4m1-6v5m1-6v4m1-6v4m1-6v5m1-6v4m1-6v5m1-6v4m1-5v4m1-5v4m1-5v4m1-6v5m1-6v5m1-6v5m1-6v5m1-6v5m1-6v5m1-6v5m1-6v5m1-6v5m1-6v4m1-6v5m1-6v5m1-6v5m1-7v6m1-8v7m1-9v7m1-9v8m1-8v6m1-6v5m1-5v3"/>
<path stroke="#3585bb" d="M86 59v1m0 92v20m1-96v2m0 67v17m1-131v1m0 64v3m0 31v15m1-99v1m2 25v1m1 10v1m1 10v1m1 9v2m1 7v2m1-102v2m0 105v2m1-83v1m0 85v4m1-72v1m0 71v5m1-61v1m0 57v7m1-50v2m0 40v8m1-91v1m0 59v23m2-61v1m1 9v1m1 8v2m1-67v1m0 74v1m1-56v1m0 62v2m1-49v1m0 53v2m1-41v1m0 44v3m1-84v1m0 48v2m0 34v4m1-77v1m0 53v4m0 12v7m3-47v1m1 9v1m1 9v1m1 8v1m1 7v1m1 7v2m1 8v4m1 13v4m1 21v7m11-157v2m1 15v2m1 11v1m1 10v1m1 10v1m1-65v2m0 71v1m1-65v2m0 74v2m1-71v2m0 82v2m1-83v3m0 96v2m1-102v4m0 119v3m1-133v5m0 150v3m1-169v5m1-10v1m71-1v1m1 1v4m1 0v4m1 1v3m1 1v3m1 1v3m1 1v3m1 1v3m1 0v3m1 1v3m1-1v3m1 0v3m1-2v4m1-3v4m1-7v6m1-26v16m8-34v7m0 21v3m1 11v6m0 78v48m1-117v3m0 67v47m1-112v3m0 100v9m1-111v2m1-4v2m1-1v1m1 3v1m1 5v1m1 7v2m1 13v3m1 15v6m1 31v24m18-15v12m1-32v8m1-22v6m1-16v5m1-10v4m1-7v4m1-4v4m1-4v4m1-3v4m1-3v4m1-2v4m1-2v4m1-2v4m1-2v5m1-2v5m1-1v4m1-1v5m1-1v6m1-1v5m1-1v7m1-3v8m1-4v9m1-7v10m1-9v11m1-9v11m1-10v12m1-10v12m1-11v13m1-11v13m1-12v14m1-12v12m1-11v11m1-9v9m1-7v7m1-6v6m1-4v4m1-3v3m1-1v1m43-4v4m1-8v8m1-13v13m1-18v18m1-26v18m1-28v16m1-28v15m1-29v15m1-27v12m1-22v9m1-16v7m1-11v4m1-7v4m1-7v3m1-6v4m1-7v4m1-7v4m1-7v4m1-7v4m1-6v4m1-7v4m1-6v4m1-6v4m1-5v3m1-5v4m1-5v3m1-5v4m1-6v4m1-5v3m1-5v4m1-6v4m1-5v4m1-6v4m1-5v3m1-5v4m1-5v4m1-5v3m1-4v3m1-4v3m1-4v3m1-4v3m1-4v3m1-4v3m1-4v4m1-5v4m1-5v4m1-5v4m1-6v5m1-6v5m1-6v5m1-6v5m1-6v5m1-6v4m1-6v5m1-6v5m1-7v6m1-7v6m1-8v6m1-9v8m1-8v7m1-7v5m1-5v3m1-3v2"/>
<path stroke="#3387bc" d="M86 57v2m0 113v12m1-109v1m0 86v22m1-152v1m0 61v2m0 49v23m1-121v1m1 12v1m2 23v1m1 10v2m1 9v1m1 8v2m1-105v1m0 109v3m1-87v1m0 90v4m1-77v1m0 77v7m1-123v1m0 53v1m0 65v10m1-113v1m0 50v2m0 50v12m1-46v3m0 23v14m1-85v1m2 20v1m1 9v1m1-69v1m0 76v2m1 7v1m1-51v1m0 56v2m1-93v1m0 48v1m0 48v3m1-39v1m0 40v4m1-30v3m0 23v7m1-73v1m1 9v1m1 9v1m1 9v1m1 9v1m1 8v1m1 7v2m1 7v2m1 10v3m1 14v5m12-136v2m1 16v1m1 12v1m1 10v1m1 9v2m1-62v2m0 68v1m1-62v2m0 70v2m1-67v3m0 77v2m1-78v3m0 90v3m1-96v4m0 112v3m1-125v5m0 141v4m1-161v5m1-14v3m71-3v3m1 2v2m1 2v3m1 1v3m1 1v3m1 1v3m1 1v3m1 1v3m1 0v3m1 1v2m1 0v3m1 0v3m1-1v2m1-1v2m1-3v3m1-13v10m8-13v2m0 85v56m1-126v5m0 59v14m1-66v4m0 47v16m1-62v3m0 53v44m1-100v2m0 101v6m1-111v1m1-1v1m1 3v1m1 5v2m1 7v2m1 14v4m1 17v7m19 45v3m1-27v9m1-25v6m1-17v6m1-12v5m1-8v4m1-4v3m1-3v3m1-2v3m1-2v4m1-2v3m1-1v3m1-1v4m1-1v3m1 0v4m1-1v4m1 0v5m1 0v4m1 0v6m1 0v6m1-1v7m1-2v8m1-5v11m1-9v12m1-10v10m1-8v8m1-6v6m1-4v4m1-2v2m56-8v8m1-20v19m1-32v16m1-30v15m1-30v15m1-28v13m1-22v9m1-16v7m1-10v4m1-8v4m1-6v3m1-6v3m1-6v4m1-7v4m1-7v4m1-6v4m1-7v4m1-6v4m1-6v4m1-6v4m1-5v3m1-5v3m1-4v3m1-5v3m1-5v4m1-5v3m1-5v4m1-5v3m1-5v4m1-6v4m1-5v4m1-5v3m1-5v4m1-5v4m1-5v4m1-5v3m1-4v4m1-5v4m1-5v4m1-4v3m1-4v3m1-4v3m1-4v3m1-4v4m1-5v4m1-5v4m1-5v4m1-5v4m1-6v5m1-6v4m1-5v4m1-5v4m1-5v4m1-6v5m1-6v5m1-6v5m1-7v6m1-8v6m1-7v6m1-8v7m1-7v5m1-5v4m1-4v2m1-2v1"/>
<path stroke="#3389bd" d="M86 56v1m1-47v1m0 63v1m1 17v2m0 74v16m1-136v1m0 69v41m1-98v1m1 11v1m1 11v1m1 11v1m1 9v2m1 8v1m1-107v1m0 113v2m1 6v4m1-82v1m0 85v8m1-130v1m0 51v1m0 76v10m1-73v1m0 64v15m1-117v1m0 52v3m0 40v19m1-103v1m1 9v1m1 10v1m1 9v1m1-71v1m0 79v1m1-60v1m0 66v2m1 6v2m1-47v1m0 52v2m1-88v1m0 45v1m0 45v4m1-84v1m0 47v2m0 33v8m1-80v1m0 56v21m1-68v1m1 9v1m2 19v1m1 8v1m1 8v1m1 8v2m1 11v4m1 15v5m12-142v1m1 17v1m1 12v1m1 10v1m1 9v1m1-58v1m0 66v1m1-59v2m0 67v1m1-62v2m0 73v2m1-73v3m0 85v2m1-89v4m0 105v3m1-117v5m0 133v3m1-152v5m1-16v3m1-7v1m69-1v2m1 2v2m1 2v2m1 3v2m1 2v2m1 2v2m1 2v2m1 2v2m1 2v2m1 1v2m1 1v3m1 0v2m1 1v1m1 0v2m1-1v2m1-2v2m1-5v4m7 72v53m1-140v2m0 75v8m1-65v4m0 45v10m1-48v4m0 31v12m1-43v3m0 36v14m1-54v2m0 65v34m1-104v2m1-2v1m1 3v1m1 6v1m1 8v2m1 16v4m1 20v11m20 19v10m1-29v6m1-17v5m1-12v4m1-8v4m1-5v4m1-4v4m1-3v4m1-2v3m1-2v4m1-2v4m1-1v3m1-1v4m1 0v4m1-1v4m1 1v4m1 0v5m1 1v5m1 1v5m1 1v6m1 0v8m1-2v3m63-1v1m1-17v17m1-32v17m1-32v15m1-30v14m1-27v12m1-21v9m1-15v7m1-11v5m1-8v4m1-7v4m1-6v3m1-6v4m1-7v4m1-6v3m1-6v4m1-6v3m1-5v3m1-5v3m1-5v3m1-5v4m1-5v3m1-5v4m1-5v3m1-5v4m1-5v3m1-5v4m1-5v3m1-5v4m1-5v3m1-5v4m1-5v3m1-4v3m1-4v3m1-5v4m1-4v3m1-4v3m1-4v3m1-4v3m1-4v3m1-4v3m1-4v3m1-3v3m1-4v3m1-4v3m1-4v3m1-4v3m1-4v3m1-5v4m1-5v4m1-5v4m1-5v4m1-5v4m1-5v4m1-5v4m1-5v4m1-6v5m1-6v5m1-6v5m1-7v5m1-6v5m1-7v6m1-7v6"/>
<path stroke="#358bbc" d="M86 55v1m1-45v1m0 61v1m1-41v1m0 56v2m1 21v5m0 41v25m1-122v1m1 11v1m1 11v1m1 11v1m1 10v1m1 8v2m1-110v1m0 116v3m1-93v1m0 99v5m1-88v1m0 94v8m1-87v1m0 87v15m1-137v1m0 47v1m0 80v19m1-135v1m0 50v1m0 62v21m1-63v58m0 3v2m1-113v1m3-52v1m0 81v1m1-62v1m0 69v1m1-55v1m0 61v2m1-96v1m0 45v1m0 55v3m1-46v1m0 50v5m1-42v1m0 43v9m1-36v4m0 21v17m3-65v1m2 19v1m1 8v1m1 9v2m1 13v4m1 16v7m12-151v2m1 17v1m1 12v1m1 10v1m1 9v1m1-56v1m0 64v1m1-56v1m0 64v2m1-59v1m0 70v2m1-68v2m0 81v2m1-83v4m0 99v2m1-109v6m0 124v3m1-144v6m1-19v3m1-9v2m69-1v1m1 3v2m1 2v2m1 3v1m1 3v1m1 3v1m1 3v1m1 3v2m1 2v1m1 2v2m1 2v1m1 1v2m1 0v2m1 0v1m1 0v1m1-1v2m1-3v2m7 66v4m0 53v1m1-139v3m0 65v7m1-53v4m0 32v9m1-34v6m0 11v14m1-28v5m0 21v10m1-38v2m0 47v16m1-68v2m1-3v2m1 2v1m1 6v1m1 9v3m1 17v4m1 27v13m20 16v8m1-31v7m1-19v4m1-12v4m1-8v4m1-5v3m1-3v3m1-2v3m1-2v3m1-1v3m1-1v3m1-1v4m1-1v4m1 0v3m1 0v4m1 1v4m1 1v4m1 2v4m1 2v5m1 2v6m1 2v1m66-15v15m1-32v17m1-33v15m1-30v15m1-27v12m1-20v9m1-15v7m1-11v5m1-8v4m1-7v4m1-6v3m1-6v3m1-6v4m1-6v3m1-6v4m1-6v4m1-6v3m1-5v3m1-4v3m1-5v3m1-4v2m1-4v3m1-4v3m1-5v3m1-4v3m1-5v3m1-4v3m1-5v3m1-4v3m1-5v4m1-5v3m1-4v3m1-4v3m1-4v3m1-4v2m1-3v2m1-3v3m1-4v3m1-4v3m1-4v3m1-3v2m1-3v2m1-3v3m1-4v3m1-4v3m1-4v3m1-4v3m1-4v4m1-5v4m1-5v4m1-5v4m1-5v4m1-5v4m1-5v4m1-5v4m1-5v3m1-4v3m1-5v4m1-5v4m1-5v4m1-5v4"/>
<path stroke="#378ebb" d="M87 12v1m0 59v1m1-39v1m0 54v1m1-41v1m0 60v3m2-38v1m1 11v1m1 11v1m1 10v1m1 9v2m1 8v3m1-97v1m0 105v6m1 9v10m1-147v1m0 48v1m0 103v11m1-101v1m1 14v2m1-39v1m0 55v4m0 58v3m2-100v1m1 9v1m1 10v1m1 8v1m1-57v1m0 64v2m1-53v1m0 59v2m1-92v1m0 42v1m0 56v5m1-93v1m0 43v2m0 53v9m1-97v1m0 48v3m0 42v18m1-102v1m0 67v29m1-87v1m1 9v1m1 9v1m1 9v1m1 8v2m1 9v2m1 15v3m1 20v11m12-164v2m1 18v1m1 12v1m1 10v1m1 9v1m1-54v1m0 62v1m1-54v2m0 61v1m1-56v2m0 67v1m1-64v3m0 76v2m1-77v4m0 92v3m1-101v8m0 113v3m1-135v6m1-22v4m1-11v1m69-1v1m1 4v1m1 3v1m1 3v1m1 3v1m1 3v1m1 3v2m1 3v1m1 2v1m1 3v1m1 2v1m1 2v1m2 2v1m1 0v1m1 0v1m1-2v2m1-52v50m5 79v20m1-36v3m1-78v3m0 57v5m1-42v4m0 17v11m1-19v11m1-9v21m1-26v3m0 35v9m1-50v1m0 83v22m1-107v1m1 2v1m1 6v1m1 11v3m1 18v3m1 37v20m21-20v7m1-22v5m1-13v4m1-8v3m1-5v3m1-3v3m1-2v3m1-2v3m1-1v3m1-1v3m1 0v3m1 0v3m1 0v3m1 1v4m1 1v3m1 2v4m1 2v4m1 3v5m1 3v3m68-15v15m1-33v17m1-32v14m1-29v14m1-25v12m1-20v9m1-15v7m1-11v5m1-8v4m1-7v4m1-7v4m1-6v3m1-6v4m1-6v3m1-5v3m1-6v4m1-6v4m1-5v3m1-5v3m1-5v3m1-4v3m1-4v2m1-4v3m1-4v3m1-5v3m1-4v3m1-5v3m1-4v3m1-4v3m1-5v3m1-4v3m1-4v3m1-4v2m1-4v3m1-4v3m1-3v2m1-3v2m1-3v2m1-3v2m1-3v3m1-4v3m1-3v2m1-3v2m1-3v2m1-3v3m1-4v3m1-3v2m1-3v2m1-3v3m1-4v3m1-4v3m1-4v3m1-4v3m1-4v3m1-5v4m1-5v4m1-5v4m1-5v4m1-5v4m1-5v4"/>
<path stroke="#3990ba" d="M86 54v1m1-42v1m0 57v1m1 16v1m1 19v2m1-47v1m0 81v39m1-108v1m1 11v1m1 11v1m1 10v1m1 10v1m1 10v3m1-101v1m0 112v6m1-101v1m0 113v17m1-116v1m1-32v1m0 44v1m1-33v1m0 46v1m1 16v3m1-45v1m0 74v37m1-101v1m1 9v1m1-75v1m0 84v1m1-65v1m0 72v1m1 9v1m1-98v1m0 42v1m0 62v3m1-53v1m0 62v6m1-56v1m0 64v10m1-60v2m0 63v9m1-53v10m0 29v14m2-90v1m1 9v1m1 9v1m1 9v1m1 10v2m1 16v4m13-138v1m1 19v1m1 12v1m1 10v1m1-54v1m0 62v1m1-52v2m0 59v1m1-51v1m0 59v1m1-53v2m0 63v2m1-60v2m0 72v2m1-71v4m0 86v2m1-90v9m0 102v2m1-126v29m1-47v4m1-14v2m68-6v1m1 3v1m2 8v1m1 3v1m1 3v1m1 3v1m3 11v1m1 3v1m1 2v1m2 3v1m1 1v1m1 0v1m1 0v1m1-1v1m1-3v2m5 72v5m0 20v13m1-53v4m1-72v6m0 44v7m1-33v17m3-8v2m0 26v7m1-40v1m0 67v15m1-84v1m1 2v1m1 6v1m1 13v3m1 18v4m1 53v4m21-17v9m1-26v5m1-14v4m1-9v4m1-6v3m1-3v3m1-2v3m1-2v3m1-1v3m1-1v3m1 0v3m1 0v3m1 0v4m1 1v3m1 1v4m1 2v4m1 2v4m1 4v4m70-14v16m1-34v17m1-32v15m1-28v14m1-25v11m1-19v9m1-15v7m1-11v5m1-8v4m1-7v3m1-6v4m1-6v3m1-6v4m1-6v3m1-5v3m1-5v3m1-5v3m1-5v3m1-5v3m1-4v3m1-5v3m1-4v3m1-4v2m1-4v3m1-4v3m1-5v3m1-4v3m1-4v3m1-5v3m1-4v3m1-4v3m1-5v3m1-4v3m1-4v3m1-4v3m1-4v3m1-4v3m1-4v3m1-3v2m1-3v2m1-3v2m1-3v3m1-4v3m1-3v2m1-3v2m1-3v2m1-3v3m1-3v2m1-3v2m1-3v2m1-3v3m1-4v3m1-4v3m1-4v3m1-4v3m1-4v3m1-4v3m1-4v3m1-4v3"/>
<path stroke="#3b92b9" d="M86 53v1m1 16v1m1-36v1m0 51v1m1-38v1m0 55v2m1-44v1m0 69v11m2-56v1m1 11v1m1 10v2m1 9v2m1 11v3m1 15v6m1-108v1m1-32v1m0 45v1m1 13v1m1 14v1m1-35v1m0 49v2m1-41v1m0 63v10m2-53v1m1-77v1m0 86v1m1-67v1m0 74v2m1-61v1m0 68v2m1-99v1m0 107v3m1-97v1m0 109v5m1-103v1m0 40v1m0 75v14m1-120v1m0 44v1m1-36v1m0 52v4m1-47v1m0 82v17m2-79v1m1 9v1m1 9v1m1 11v3m1 17v4m13-144v2m1 19v1m1 12v1m1 10v1m1-52v1m0 60v1m1-49v1m0 57v1m1-49v1m0 57v1m1-50v1m0 61v1m1-56v2m0 68v2m1-65v3m0 80v3m1-79v5m0 94v3m1-95v5m1-48v5m0 33v11m1-61v2m1-8v1m67 0v1m1 3v1m1 3v1m2 8v1m1 3v1m1 3v1m1 3v1m1 3v1m1 3v1m3 8v1m1 1v1m1 1v1m1 0v1m1 0v1m1-1v2m1-3v2m5 68v2m0 38v5m1-153v13m0 78v4m1-62v6m0 30v8m4-15v3m0 15v8m1-32v2m0 54v11m1-68v1m1 2v1m1 6v1m1 15v3m1 19v5m22 44v8m1-29v5m1-15v4m1-9v3m1-6v3m1-3v3m1-2v3m1-2v3m1-1v3m1-1v3m1 0v2m1 1v3m1 1v3m1 1v3m1 2v3m1 3v3m1 3v4m1 4v2m71-17v17m1-34v16m1-30v14m1-28v13m1-23v10m1-18v8m1-14v7m1-11v5m1-9v4m1-6v3m1-6v3m1-5v3m1-6v4m1-6v3m1-5v3m1-5v3m1-5v3m1-5v3m1-4v2m1-4v3m1-4v2m1-4v3m1-4v3m1-4v2m1-4v3m1-4v3m1-4v2m1-4v3m1-4v3m1-4v3m1-5v3m1-4v3m1-4v3m1-4v2m1-3v2m1-3v2m1-3v2m1-3v2m1-3v2m1-3v3m1-3v2m1-3v2m1-3v2m1-3v2m1-3v3m1-3v2m1-3v2m1-3v2m1-3v3m1-3v2m1-3v2m1-3v2m1-3v3m1-4v3m1-4v3m1-4v3m1-4v3m1-4v4"/>
<path stroke="#3d95b8" d="M86 52v1m1-39v1m0 54v1m1 16v1m1-36v1m0 52v2m1 23v5m1-57v1m2 24v1m1 11v1m1 10v2m1 12v4m1-109v1m0 125v7m2-145v1m1 15v1m1 12v1m0 43v1m1 15v1m1 19v6m1-53v1m1 10v1m1-79v1m1 98v1m1-63v1m0 71v1m1-59v1m0 69v3m1-60v1m0 74v5m1-68v1m1 14v1m1 15v3m1-42v1m0 68v13m1-72v1m2 20v1m1 9v1m1 13v2m1 19v4m13-149v1m1 20v1m1 12v1m1 10v1m1-50v1m0 58v1m1-47v1m0 55v1m1-47v2m0 54v1m1-48v1m0 59v1m1-53v2m0 64v2m1-60v2m0 76v2m1-71v3m0 89v2m1-87v2m1-45v10m0 15v8m0 11v2m1-61v2m1-9v1m68 4v1m1 3v1m1 3v1m3 12v1m1 3v1m1 3v1m1 3v1m1 2v1m1 2v1m4 7v1m1 0v1m1 0v1m1-2v1m1-11v5m4 71v2m0 45v3m1-160v4m0 13v3m0 71v4m1-52v5m0 20v5m4-4v15m1-22v1m0 46v7m1-56v1m1 2v1m1 6v1m1 17v2m1 22v5m23 23v6m1-17v4m1-10v3m1-6v3m1-3v3m1-2v2m1-1v2m1 0v2m1 0v2m1 0v3m1 1v2m1 2v2m1 2v3m1 2v3m1 3v3m1 4v4m73-16v18m1-34v16m1-31v15m1-28v12m1-22v9m1-16v7m1-13v6m1-11v6m1-9v4m1-7v4m1-6v3m1-5v3m1-6v3m1-5v3m1-5v3m1-5v3m1-5v3m1-5v3m1-4v3m1-5v3m1-4v3m1-4v2m1-4v3m1-4v3m1-4v2m1-4v3m1-4v3m1-4v3m1-4v2m1-4v3m1-4v3m1-4v2m1-4v3m1-4v3m1-4v3m1-4v3m1-4v3m1-4v3m1-3v2m1-3v2m1-3v2m1-3v2m1-3v2m1-2v2m1-3v2m1-3v2m1-3v2m1-2v2m1-3v2m1-3v2m1-3v3m1-3v2m1-3v2m1-3v2m1-3v3m1-4v3m1-3v2"/>
<path stroke="#3f97b7" d="M86 51v1m1-37v1m0 52v1m1-33v1m0 48v1m1 17v1m1-39v1m0 59v4m1-51v1m0 96v9m1-94v1m1 12v1m1 11v1m1 11v1m1 15v3m1-113v1m0 133v9m1-125v1m1 14v1m1 13v1m1 13v1m1-32v1m0 45v2m1-37v1m0 53v3m1-46v1m0 80v18m2-168v1m0 89v1m1-69v1m0 78v1m1 9v2m1-101v1m0 38v1m0 73v3m1-102v1m0 37v1m0 80v6m1-113v1m1 52v1m1-33v1m0 46v2m1 23v7m1-58v1m1 9v1m2 20v1m1 14v3m1 20v4m13-155v2m1 20v1m1 12v1m2-37v1m1 12v1m1 10v1m0 52v1m1-46v2m0 55v2m1-50v1m0 62v1m1-56v3m0 70v3m1-66v2m0 85v2m1-83v1m1-36v15m0 21v1m1-60v2m0 50v6m1-66v1m67-1v1m2 8v1m1 3v1m1 3v1m1 3v1m5 19v1m2 4v1m1 1v1m1 1v1m2 2v1m1 0v1m1-2v2m1-19v6m0 5v4m4 65v2m0 50v3m1-167v4m0 20v2m0 66v3m1-43v5m0 11v4m5-5v1m0 39v6m1-48v1m1 2v1m1 6v2m1 17v3m1 24v7m23 22v6m1-19v4m1-11v4m1-7v3m1-3v2m1-2v3m1-2v3m1-1v3m1-1v3m1 0v3m1 0v3m1 1v3m1 2v3m1 2v3m1 3v4m1 4v2m74-18v18m1-34v16m1-32v14m1-27v12m1-21v9m1-16v7m1-12v6m1-11v6m1-9v4m1-7v4m1-6v3m1-6v4m1-6v3m1-5v3m1-5v3m1-5v3m1-5v3m1-4v3m1-5v3m1-4v2m1-4v3m1-4v2m1-3v2m1-4v3m1-4v3m1-4v2m1-3v2m1-4v3m1-4v3m1-4v2m1-4v3m1-4v3m1-4v3m1-4v2m1-3v2m1-3v2m1-3v2m1-3v2m1-3v2m1-3v2m1-3v2m1-3v3m1-3v2m1-3v2m1-3v2m1-3v2m1-2v2m1-3v2m1-3v2m1-2v2m1-3v2m1-3v2m1-3v3m1-3v2m1-3v2m1-3v3"/>
<path stroke="#4199b6" d="M87 16v1m0 50v1m1 16v1m1-33v1m0 49v1m1 20v2m1 38v12m1-84v1m1 12v1m1 11v1m1 11v2m1 16v4m1 26v8m1-134v1m1-28v1m0 41v1m1-27v1m0 39v1m1-28v1m0 40v1m1 14v1m1 17v2m1 29v9m1-70v1m1 10v1m1 10v1m1-66v1m0 75v1m1 14v3m1 20v7m1-82v1m1-28v1m0 40v1m1 13v2m1-36v1m0 56v4m2-40v1m1 9v1m1 10v2m1 15v2m1 22v5m13-161v1m1 21v1m2 24v1m1-47v1m0 55v1m1-44v1m0 52v1m1-43v1m0 50v1m1-43v1m0 53v1m1-47v2m0 59v1m1-52v1m0 67v2m1-61v2m0 81v2m1-80v1m0 102v2m1-104v1m1-59v2m0 43v5m0 6v2m1-67v2m67-2v1m1 3v1m4 16v1m1 3v1m1 3v1m1 3v1m1 3v1m2 5v1m4 7v1m2 2v1m1-1v1m1-25v5m0 15v3m4 61v1m0 55v1m1-171v3m0 26v2m0 59v5m1-35v11m5 0v2m0 32v5m1 43v18m2-91v1m1 19v2m1 29v8m23 20v7m1-22v4m1-11v3m1-7v3m1-4v3m1-2v2m1-1v2m1 0v2m1 0v2m1 1v2m1 1v3m1 1v3m1 2v3m1 2v3m1 4v3m76-15v18m1-36v16m1-31v13m1-25v10m1-19v8m1-14v6m1-11v5m1-10v5m1-8v4m1-7v4m1-6v3m1-6v3m1-5v3m1-5v3m1-5v3m1-5v3m1-4v2m1-4v3m1-5v3m1-4v3m1-5v3m1-4v3m1-4v2m1-3v2m1-4v3m1-4v3m1-4v3m1-4v2m1-4v3m1-4v3m1-4v3m1-4v2m1-4v3m1-4v3m1-4v3m1-4v3m1-4v2m1-3v2m1-3v2m1-3v2m1-2v2m1-3v2m1-3v2m1-3v2m1-3v2m1-2v2m1-3v2m1-3v2m1-2v2m1-3v2m1-3v2m1-2v1m1-2v2m1-3v2m1-2v2"/>
<path stroke="#439bb5" d="M86 50v1m2-14v1m0 45v1m1 17v1m1-36v1m0 54v2m1-44v1m0 75v8m1-71v1m1 12v1m1 11v1m1 12v1m1 19v3m1-121v1m4 59v1m1-29v1m0 42v1m1-33v1m0 48v2m1-40v1m0 65v5m1-60v1m1-83v1m0 92v1m1-72v1m1 92v1m1-102v1m0 36v1m0 80v3m1-107v1m0 35v1m0 94v10m1-129v1m0 35v1m1 13v1m1-30v1m0 42v1m1 19v4m1-46v1m0 80v6m2-66v1m1 11v1m1 16v2m1 25v9m13-172v2m1 21v1m1 13v1m1 10v1m1 9v1m1-42v1m0 50v1m2-32v1m0 51v1m1-44v1m0 56v2m1-50v2m0 63v2m1-57v1m0 78v2m1-77v1m0 98v3m1-101v1m1-58v3m0 35v5m0 13v1m1-66v1m69 6v1m1 3v1m1 3v1m3 12v1m1 3v1m5 13v1m1 1v1m2 2v1m2 1v1m1-32v6m0 23v2m4 58v1m1-117v3m0 31v2m0 47v10m6-17v1m0 26v5m1-36v1m0 74v9m1-81v1m1 8v2m1 19v3m1 34v8m23 19v5m1-23v4m1-12v3m1-7v3m1-4v2m1-2v3m1-2v3m1-1v2m1 0v3m1 0v3m1 1v2m1 2v2m1 3v2m1 3v3m1 4v3m77-20v20m1-38v15m1-30v13m1-24v9m1-17v7m1-13v6m1-11v6m1-10v5m1-8v4m1-7v3m1-6v4m1-6v3m1-5v3m1-5v3m1-5v3m1-5v3m1-4v2m1-4v3m1-4v2m1-4v3m1-4v2m1-4v3m1-4v3m1-4v2m1-3v2m1-3v2m1-4v3m1-4v3m1-4v2m1-3v2m1-4v3m1-4v3m1-4v3m1-4v2m1-3v2m1-4v3m1-4v3m1-4v3m1-4v3m1-3v2m1-3v2m1-3v2m1-3v2m1-3v2m1-2v2m1-3v2m1-3v2m1-2v1m1-2v2m1-3v2m1-3v2m1-2v2m1-3v2m1-2v1"/>
<path stroke="#459eb4" d="M86 49v1m1-33v1m0 48v1m1-29v1m1 14v1m0 46v1m1 18v2m1 29v5m3-37v1m1 12v2m1 20v4m1-126v1m1 17v1m1-26v1m0 39v1m1-25v1m0 37v1m1-26v1m0 37v1m1 14v1m1 15v2m1 23v5m1-54v1m1-85v1m0 94v1m1 9v1m1-110v1m0 41v1m0 78v2m1 17v3m1-75v1m1 11v1m1-25v1m0 37v1m1 13v1m1-32v1m0 48v3m1 31v8m1-70v1m1 10v1m1 11v1m1 17v2m1 32v1m13-174v1m1 22v1m1 13v1m2-33v1m1 62v1m1-40v1m0 48v1m1-40v1m0 49v1m1-42v2m0 53v1m1-46v2m0 60v1m1-54v1m0 75v2m1-74v1m0 94v3m1-97v1m1-56v5m0 19v11m0 19v1m1-66v1m67-3v1m1 3v1m4 16v1m1 3v1m3 11v1m1 2v1m2 4v1m3 5v1m1 1v1m1 0v1m1 0v1m1-39v6m0 31v1m4 55v2m1-80v2m0 40v5m6-6v2m0 20v4m1-30v1m0 65v8m1-71v1m1 9v2m1 20v3m1 39v10m24-5v5m1-14v3m1-7v2m1-4v3m1-2v2m1-1v2m1-1v3m1 0v2m1 1v2m1 1v2m1 2v3m1 2v3m1 3v2m79-18v20m1-37v14m1-29v12m1-22v9m1-16v7m1-12v5m1-10v5m1-9v4m1-8v5m1-7v3m1-6v3m1-5v3m1-5v3m1-5v3m1-5v3m1-5v3m1-4v3m1-5v3m1-4v2m1-4v3m1-4v3m1-4v2m1-4v3m1-4v3m1-4v3m1-4v2m1-3v2m1-4v3m1-4v3m1-4v3m1-4v2m1-3v2m1-4v3m1-4v3m1-4v3m1-4v2m1-3v2m1-3v2m1-3v2m1-3v2m1-3v2m1-3v2m1-3v2m1-2v1m1-2v2m1-3v2m1-3v2m1-2v1m1-2v2m1-3v2m1-2v1m1-2v2m1-3v2"/>
<path stroke="#47a0b3" d="M87 18v1m0 46v1m1 16v1m1 16v1m1-33v1m0 49v2m1-39v1m0 65v4m1-57v1m1 12v1m1 12v1m1 13v2m1 22v4m4-84v1m2-13v1m0 39v1m1-30v1m0 44v1m1-35v1m0 56v3m2-134v1m1 22v1m0 83v1m1-110v1m0 39v1m0 81v1m1-104v1m0 34v1m0 87v3m3-53v1m1-27v1m0 39v1m1 16v2m1-38v1m0 65v6m1-61v1m2 22v1m1 18v2m16-107v1m1 11v1m1-43v1m0 51v1m1-40v1m1 10v1m0 46v1m1-38v1m0 47v1m1-39v1m0 51v1m1-43v1m0 57v2m1-52v1m0 72v2m1-71v1m0 91v2m1-93v1m1-52v19m0 31v1m1-66v1m66-8v1m3 12v1m1 3v1m1 3v1m3 12v1m1 3v1m3 8v1m6 11v1m1 0v1m1-46v6m0 38v2m4 52v1m1-76v3m0 35v2m6 1v3m0 11v6m1-25v1m0 57v7m1-62v1m1 10v3m1 20v2m1 47v14m24-14v4m1-15v4m1-9v3m1-4v2m1-2v2m1-1v2m1 0v2m1 0v2m1 1v2m1 1v3m1 2v2m1 3v2m1 3v3m79-1v3m1-26v18m1-35v14m1-27v10m1-19v7m1-14v6m1-11v5m1-10v5m1-8v4m1-8v4m1-7v4m1-6v3m1-5v3m1-5v3m1-5v3m1-5v3m1-4v2m1-4v3m1-5v3m1-4v3m1-4v2m1-4v3m1-4v3m1-4v2m1-3v2m1-4v3m1-4v3m1-4v3m1-4v2m1-3v2m1-4v3m1-4v3m1-4v3m1-4v2m1-3v2m1-4v3m1-4v3m1-4v2m1-3v2m1-3v2m1-3v2m1-3v2m1-3v2m1-3v2m1-2v2m1-3v2m1-3v2m1-3v2m1-2v2m1-3v2m1-3v2m1-2v1m1-2v2"/>
<path stroke="#49a2b2" d="M86 48v1m1-30v1m1 19v1m0 41v1m1-28v1m0 43v1m1 17v1m1-36v1m0 60v4m1-52v1m1 12v1m1 12v1m1 14v1m1 25v3m1-134v1m1 17v1m1-24v1m0 37v1m1-23v1m1 48v1m1 13v1m1 15v1m1 20v3m1-45v1m1-89v2m0 97v1m1-76v1m0 85v1m1-110v1m0 121v2m1 20v3m1-115v1m0 32v1m1-22v1m0 32v1m1-23v1m0 34v1m1 13v1m1-29v1m0 43v2m1-35v1m0 60v4m2-44v1m1 12v1m1 19v2m15-123v1m2 24v1m1-41v1m0 49v1m1-38v1m0 46v1m1-37v1m0 44v1m1-36v1m0 45v1m1-37v1m0 49v1m1-41v1m0 55v1m1-49v1m0 69v2m1 21v2m2-91v1m1-66v2m0 53v6m66-68v1m1 3v1m1 3v1m4 16v1m1 3v1m3 11v1m1 2v1m3 6v1m1 1v1m1 1v1m1 1v1m2 2v1m1-62v2m0 7v6m0 46v1m1-15v9m3 55v2m1-72v8m0 24v3m6 6v11m1-18v1m0 50v6m1-54v1m1 12v2m1 20v3m25 48v5m1-16v3m1-9v3m1-5v3m1-3v2m1-1v2m1 0v2m1 0v2m1 1v2m1 2v2m1 2v2m1 3v2m1 4v2m80-8v8m1-29v17m1-34v13m1-25v9m1-17v7m1-13v6m1-11v5m1-9v4m1-8v5m1-8v4m1-7v4m1-6v3m1-5v3m1-5v3m1-5v3m1-5v3m1-4v2m1-4v3m1-4v2m1-4v3m1-4v2m1-3v2m1-4v3m1-4v3m1-4v2m1-3v2m1-3v2m1-4v3m1-4v3m1-4v3m1-4v2m1-3v2m1-4v3m1-4v3m1-4v2m1-3v2m1-4v3m1-4v3m1-4v3m1-4v3m1-4v2m1-3v2m1-3v2m1-2v2m1-3v2m1-3v2m1-3v2m1-2v1m1-2v2m1-3v2m1-3v2m1-2v2"/>
<path stroke="#4ba4b1" d="M86 47v1m1-28v1m0 43v1m2 32v1m1-30v1m0 46v1m1 23v3m2-34v1m1 12v1m1 14v2m1 26v5m1-140v1m2-4v1m1 49v1m1-23v1m0 34v1m1-24v1m0 36v1m1-27v1m0 41v1m1-32v1m0 49v3m1 35v8m1-174v1m0 100v1m1 10v1m1-110v1m0 36v1m0 85v1m1-106v1m0 32v1m0 94v3m4-84v1m0 36v1m1 15v1m1 25v3m1-50v1m1 10v1m1 12v1m1 20v3m15-127v1m1 13v1m2-28v1m1 12v1m0 44v1m1-35v1m1 9v1m1 9v1m0 47v1m1-39v1m0 52v2m1-47v1m0 66v2m1-66v1m0 86v2m1-88v1m2-65v1m0 48v4m0 6v2m69-57v1m1 3v1m1 3v1m3 12v1m5 14v1m5 9v1m1 1v1m1-61v7m0 53v2m1-20v3m0 9v4m3 49v2m1-62v9m0 12v3m7 3v1m0 44v5m1-47v1m1 13v2m1 21v3m25 50v5m1-18v3m1-9v2m1-4v2m1-3v3m1-2v3m1-1v2m1 0v3m1 0v2m1 2v2m1 2v3m1 2v3m82-9v12m1-33v16m1-32v12m1-22v8m1-15v6m1-12v5m1-10v5m1-8v4m1-8v4m1-7v4m1-7v4m1-6v3m1-5v3m1-5v3m1-5v3m1-5v3m1-4v2m1-4v3m1-4v2m1-4v3m1-4v3m1-4v2m1-3v2m1-4v3m1-4v3m1-4v3m1-4v2m1-3v2m1-3v2m1-4v3m1-4v3m1-4v2m1-3v2m1-4v3m1-4v3m1-4v2m1-3v2m1-3v2m1-3v2m1-4v3m1-4v3m1-4v3m1-3v2m1-3v2m1-3v2m1-3v2m1-3v2m1-2v1m1-2v2m1-3v2m1-2v1"/>
<path stroke="#4ea7b0" d="M88 40v1m0 39v1m1-26v1m0 40v1m1 17v1m1-33v1m0 53v3m1-44v1m2 26v1m1 15v2m1 29v5m1-146v1m1 18v1m1 14v1m1-21v1m3 75v1m1 17v2m1-38v1m0 69v6m2-142v1m0 88v1m1-110v1m0 122v2m1 23v3m1-120v1m0 30v1m1-20v1m0 30v1m1 12v1m1 12v1m1-26v1m0 39v2m1-31v1m0 53v3m2-35v1m1 12v1m1 22v2m15-130v1m1 13v1m1 11v1m1 9v1m1-35v1m1 10v1m0 41v1m1-33v1m0 42v1m1-34v1m0 45v1m1-37v1m0 50v1m1 20v2m1-63v1m0 83v2m1-85v1m1-2v1m1-64v2m0 40v6m0 12v1m67-66v1m1 3v1m4 16v1m1 3v1m2 7v1m3 8v1m5 10v1m1 1v1m1 1v1m1 0v1m1-24v3m0 16v3m3 43v3m1-51v12m7 7v1m0 39v4m1-41v1m1 14v2m1 22v3m26 37v4m1-11v3m1-5v2m1-2v2m1-1v2m1-1v2m1 1v2m1 0v3m1 1v2m1 3v2m1 3v2m83-16v17m1-37v15m1-29v11m1-20v7m1-14v6m1-11v5m1-9v4m1-8v4m1-7v4m1-7v4m1-7v4m1-6v3m1-5v3m1-5v2m1-4v3m1-5v3m1-4v2m1-4v3m1-4v2m1-3v2m1-4v3m1-4v3m1-4v2m1-3v2m1-3v2m1-4v3m1-4v3m1-4v2m1-3v2m1-3v2m1-4v3m1-4v3m1-4v2m1-3v2m1-4v3m1-4v3m1-4v2m1-3v2m1-3v2m1-3v2m1-3v2m1-3v2m1-3v2m1-3v2m1-3v2m1-3v2m1-3v2m1-2v1m1-2v2m1-3v2"/>
<path stroke="#50a9af" d="M86 46v1m1-26v1m0 41v1m1 15v1m1 15v1m1-27v1m0 43v1m1 20v2m1-40v1m0 79v8m1-75v1m2 30v2m1 32v8m1-155v1m1 18v1m1-20v1m1 47v1m1-21v1m0 32v1m1 13v1m1-25v1m0 38v1m1-29v1m0 45v1m1-35v1m0 64v4m1-58v1m1 11v1m1-76v1m0 89v2m1-109v1m0 30v1m0 101v3m3-100v1m0 31v1m1 12v1m1 14v1m1 23v2m1-43v1m2 24v2m1 22v2m15-133v1m3-11v1m1 55v1m1 8v1m1 10v1m1-32v1m0 43v1m1-35v1m0 48v1m1-43v1m0 61v2m1 21v2m2-83v1m1-63v1m0 28v11m0 19v1m66-71v1m3 12v1m1 3v1m1 3v1m3 12v1m2 6v1m1 2v1m3 6v1m1 1v1m1 1v1m4 7v1m1-28v3m0 22v3m2 61v24m1-75v8m0 18v4m8-28v1m0 34v4m1-36v1m1 15v2m1 23v4m26 37v3m1-11v3m1-6v2m1-2v2m1-1v2m1-1v2m1 1v2m1 1v2m1 1v2m1 3v2m1 3v1m84-22v22m1-40v13m1-26v9m1-17v6m1-12v5m1-10v5m1-9v4m1-7v4m1-7v3m1-6v3m1-6v4m1-6v3m1-6v4m1-5v2m1-4v3m1-5v3m1-4v2m1-4v3m1-4v2m1-3v2m1-3v2m1-4v3m1-4v2m1-3v2m1-3v2m1-3v2m1-4v3m1-4v3m1-4v3m1-4v2m1-3v2m1-4v3m1-4v3m1-4v2m1-3v2m1-4v3m1-4v3m1-4v2m1-3v2m1-3v2m1-3v2m1-3v2m1-3v2m1-3v2m1-3v2m1-3v2m1-3v2m1-2v1m1-2v2"/>
<path stroke="#52abae" d="M87 22v1m0 39v1m1-22v1m1 14v1m0 37v1m1 17v1m1-30v1m0 48v2m1 37v5m1-66v1m1 12v1m1 18v2m1 38v2m3-123v1m3 5v1m0 33v1m1 14v1m1 16v2m1 28v3m2-133v1m1-19v1m0 125v1m1 26v4m1-97v1m1 11v1m2-9v1m1 47v1m1-27v1m0 48v2m2-29v1m1 14v1m1 23v2m16-121v1m1 11v1m1-36v1m0 44v1m1-33v1m0 40v1m1-31v1m1 9v1m0 39v1m1-30v1m0 41v1m1-33v1m0 46v1m1-41v1m0 58v2m1-58v1m0 78v2m1-80v1m2-63v3m0 17v8m0 31v1m1-74v1m66 6v1m1 3v1m4 16v1m1 3v1m2 7v1m4 10v1m5 10v1m1 1v1m1 1v1m1-31v2m0 28v3m2 56v2m0 24v5m1-137v9m0 46v2m0 8v18m8-23v1m0 29v4m1-31v1m0 82v9m1-75v3m1 24v4m26 36v4m1-12v3m1-7v3m1-3v2m1-1v2m1-1v2m1 1v2m1 1v2m1 1v2m1 3v2m86-25v18m1-35v13m1-24v9m1-16v6m1-11v5m1-10v5m1-8v4m1-8v4m1-7v4m1-6v3m1-6v3m1-5v3m1-6v4m1-5v2m1-4v3m1-5v3m1-4v2m1-4v3m1-4v2m1-3v2m1-3v2m1-4v3m1-4v3m1-4v2m1-3v2m1-3v2m1-3v2m1-3v2m1-4v3m1-4v2m1-3v2m1-3v2m1-4v3m1-4v2m1-3v2m1-3v2m1-4v3m1-4v2m1-3v2m1-3v2m1-3v2m1-3v2m1-3v2m1-3v2m1-3v2m1-3v2m1-3v2m1-2v2"/>
<path stroke="#54aead" d="M86 45v1m1-23v1m1 54v1m2-9v1m0 40v1m1 19v1m1-35v1m0 68v5m2-47v1m1 19v2m2-120v1m1 18v1m1-18v1m1 14v1m0 30v1m1-19v1m0 30v1m2-9v1m0 35v1m1-26v1m0 41v1m1-31v1m0 57v3m1-50v1m1-82v1m0 92v1m1-110v1m0 31v1m0 93v2m1-111v1m0 28v1m0 109v4m1-130v1m1 11v1m1 10v1m0 29v1m1 12v1m1-23v1m0 35v1m1 21v2m1-38v1m1 11v1m1 14v1m1 24v3m15-139v1m2 25v1m1 9v1m1-31v1m1 10v1m0 37v1m1-29v1m0 37v1m1-28v1m0 39v1m1-31v1m0 43v2m1 18v1m1-55v1m0 76v1m1-77v1m1-2v1m1-60v3m0 8v6m0 40v1m1-74v1m65 1v1m4 16v1m1 3v1m7 24v1m4 8v1m1 1v1m2 4v1m1 1v1m1-35v3m0 33v1m2 54v1m0 31v4m1-144v3m0 9v2m0 43v1m8 6v2m0 23v4m1-26v2m0 70v10m1-63v2m1 26v6m26 34v4m1-13v2m1-6v2m1-3v2m1-1v2m1-1v2m1 1v1m1 2v1m1 2v2m1 3v2m86-9v9m1-31v16m1-31v12m1-22v7m1-13v5m1-10v4m1-8v4m1-8v4m1-7v4m1-7v4m1-7v4m1-6v3m1-5v3m1-6v4m1-5v2m1-4v3m1-5v3m1-4v2m1-4v3m1-4v2m1-3v2m1-3v2m1-3v2m1-4v3m1-4v2m1-3v2m1-3v2m1-3v2m1-3v2m1-4v3m1-4v3m1-4v2m1-3v2m1-4v3m1-4v2m1-3v2m1-3v2m1-4v3m1-4v3m1-4v2m1-3v2m1-3v2m1-3v2m1-3v2m1-3v2m1-3v2m1-3v2m1-2v1"/>
<path stroke="#56b0ad" d="M86 44v1m1-21v1m0 36v1m1-20v1m0 34v1m1-21v1m0 35v1m1 16v1m1-27v1m0 44v2m1 32v3m1-55v1m1 13v1m1 20v2m2-123v1m1-16v1m1 18v1m0 30v1m3 7v1m0 31v1m1 13v1m1 15v2m1 25v3m1-46v1m1-84v1m0 94v1m1-110v1m0 126v2m1 30v8m1-110v1m1 11v1m1 11v1m1-19v1m0 30v1m1 13v1m1-24v1m0 43v2m1-35v1m2 26v2m1 25v2m15-142v1m1 14v1m2-22v1m1 51v1m2-18v1m1 48v1m1-29v1m0 41v1m1-37v1m0 54v2m1 21v2m2-76v1m1-58v8m0 47v1m1-74v1m66 5v1m1 3v1m1 3v1m3 12v1m1 3v1m1 3v1m1 3v1m1 2v1m1 2v1m3 6v1m1 1v1m3 6v1m1 2v1m1 1v1m1-38v2m0 37v1m1-5v7m1 0v5m0 44v2m0 36v2m1-148v2m0 14v2m0 39v2m8 9v2m0 16v5m1-20v2m0 60v8m1-51v2m1 30v7m27 20v3m1-7v2m1-3v2m1-1v1m1 0v2m1 0v2m1 1v2m1 2v2m88-12v15m1-34v14m1-29v11m1-19v7m1-13v6m1-10v4m1-8v4m1-7v3m1-6v3m1-6v3m1-6v4m1-6v3m1-5v3m1-6v4m1-5v2m1-4v3m1-5v3m1-4v2m1-4v3m1-4v2m1-3v2m1-3v2m1-3v2m1-4v3m1-4v2m1-3v2m1-3v2m1-3v2m1-3v2m1-3v2m1-4v3m1-4v2m1-3v2m1-4v3m1-4v3m1-4v2m1-3v2m1-3v2m1-4v3m1-4v2m1-3v2m1-3v2m1-3v2m1-3v2m1-3v2m1-3v2m1-3v2"/>
<path stroke="#58b2ac" d="M89 92v1m1-22v1m0 37v1m1 18v1m1-31v1m0 61v3m1-51v1m1 13v1m1 21v2m2-126v1m1-14v1m0 32v1m2-1v1m0 28v1m1 12v1m1 12v1m1-20v1m0 32v1m1-23v1m0 37v1m1-27v1m0 51v2m2-30v1m1-81v1m0 98v2m1-114v1m0 26v1m1-15v1m4 43v1m0 32v1m1 19v2m1 32v6m1-59v1m1 16v1m1 26v3m15-146v1m2 26v1m1 9v1m1-29v1m1 10v1m0 35v1m1-26v1m0 34v1m1-26v1m1 50v1m1 17v2m1-51v1m0 72v1m1-73v1m2-3v1m1-74v1m0 62v4m64-70v1m1 3v1m4 16v1m1 3v1m8 26v1m4 8v1m3 7v1m1-41v2m0 40v1m1-21v15m0 7v2m1-4v2m0 5v2m0 41v1m0 40v3m1-153v2m0 18v2m0 34v3m8 13v16m1-13v2m0 52v6m1-41v2m1 35v7m27 16v3m1-8v2m1-3v2m1-2v2m1 0v2m1 0v2m1 1v2m1 2v2m89-19v20m1-38v14m1-26v10m1-17v6m1-12v5m1-9v4m1-8v4m1-7v4m1-7v4m1-6v3m1-6v4m1-6v3m1-5v3m1-6v4m1-5v3m1-5v3m1-5v3m1-4v2m1-4v3m1-4v2m1-3v2m1-3v2m1-3v2m1-4v3m1-4v2m1-3v2m1-3v2m1-3v2m1-3v2m1-3v2m1-4v3m1-4v2m1-3v2m1-3v2m1-4v3m1-4v2m1-3v2m1-3v2m1-4v3m1-4v2m1-3v2m1-3v2m1-3v2m1-3v2m1-3v2m1-3v2"/>
<path stroke="#5ab4ab" d="M86 43v1m1-19v1m0 34v1m1-18v1m0 32v1m1-19v1m1 49v1m1-24v1m0 41v1m1-29v1m0 57v3m2-33v1m1 22v3m2-130v1m2 6v1m0 28v1m2-3v1m3 70v1m1 24v2m1-40v1m1-86v1m0 97v1m1-111v1m0 129v1m2-76v1m1-15v1m0 25v1m1-16v1m0 26v1m1-17v1m0 28v1m2-8v1m0 38v2m1-30v1m0 59v4m1-52v1m1 16v1m1 28v4m16-135v1m2-20v1m1 13v1m0 35v1m1 8v1m1 9v1m1-24v1m0 35v1m1-27v1m1 5v1m0 50v1m1 22v2m1 23v1m1-96v1m1-2v1m1-74v1m0 55v6m0 4v3m67-60v1m1 3v1m3 12v1m1 3v1m1 3v1m4 11v1m3 6v1m1 1v1m2 4v1m1 2v1m1 2v1m1-45v3m0 43v1m1-25v3m0 24v1m1-7v2m0 9v2m0 38v1m0 44v2m1-157v2m0 22v3m0 28v3m9 21v3m0 42v7m1-33v3m1 39v10m27 9v3m1-9v3m1-4v2m1-2v2m1 0v2m1 0v2m1 1v2m1 2v1m90-24v21m1-37v12m1-23v8m1-15v6m1-11v5m1-9v4m1-7v4m1-7v4m1-7v4m1-6v3m1-6v4m1-6v3m1-5v3m1-5v3m1-5v3m1-5v3m1-5v3m1-4v2m1-4v3m1-4v2m1-3v2m1-3v2m1-3v2m1-4v2m1-3v2m1-3v2m1-3v2m1-3v2m1-3v2m1-3v2m1-4v3m1-4v2m1-3v2m1-3v2m1-4v2m1-3v2m1-3v2m1-3v2m1-4v2m1-3v2m1-3v2m1-3v2m1-3v2m1-3v2m1-3v2"/>
<path stroke="#5cb7aa" d="M87 26v1m0 32v1m2 31v1m1-20v1m1 53v1m1 28v2m1-44v1m1 14v1m1 24v2m2-133v1m1-11v1m0 30v1m2 1v1m0 26v1m1 12v1m1-17v1m0 28v1m1 13v1m1-21v1m0 34v1m1-24v1m0 46v2m2-124v1m0 99v1m1-84v1m0 102v2m1-116v1m0 24v1m1-13v1m4 43v1m0 30v1m1 17v1m1 29v3m2-30v2m1 30v6m15-157v1m2 26v1m1-30v1m0 38v1m2-16v1m1 10v1m1 10v1m0 33v1m1-25v1m0 37v1m1-33v1m0 48v1m1-47v1m0 68v1m1-69v1m0 91v2m1-94v1m1-2v1m1-74v1m0 44v10m0 13v2m64-74v1m1 3v1m1 3v1m4 16v1m4 15v1m1 2v1m1 2v1m3 6v1m3 6v1m1 2v1m3-42v2m0 47v1m1-28v2m0 28v1m1-11v3m0 13v1m0 36v1m0 47v1m1-160v2m0 27v3m0 8v17m9 27v3m0 33v6m1-23v3m1 46v14m27-2v2m1-8v2m1-4v2m1-2v2m1 0v1m1 1v2m1 1v2m91-2v3m1-28v18m1-33v12m1-21v8m1-14v5m1-10v5m1-8v4m1-7v3m1-6v3m1-6v4m1-6v3m1-6v4m1-6v3m1-5v3m1-5v3m1-5v3m1-5v3m1-5v3m1-4v2m1-4v3m1-4v2m1-3v2m1-3v2m1-4v3m1-4v2m1-3v2m1-3v2m1-3v2m1-3v2m1-3v2m1-3v2m1-4v2m1-3v2m1-3v2m1-4v3m1-4v2m1-3v2m1-3v2m1-4v3m1-4v2m1-3v2m1-3v2m1-3v2m1-3v2m1-3v2"/>
<path stroke="#5eb9a9" d="M86 42v1m2 1v1m0 30v1m1-17v1m0 30v1m1 16v1m1-22v1m0 38v1m1-26v1m0 51v3m1-41v1m1 14v1m1 25v2m2-136v1m2 9v1m0 26v1m2-1v1m2 22v1m0 29v1m1 14v1m1 22v2m1-35v1m1-89v1m1-10v1m0 131v2m3-93v1m0 23v1m1 11v1m1 12v1m1 12v1m1-19v1m0 34v2m1-26v1m0 52v3m1-44v1m1 18v1m1 35v2m15-160v1m1 15v1m3-4v1m0 33v1m1-24v1m0 31v1m1-22v1m0 30v1m1-21v1m0 31v1m1 13v1m1 15v2m1 21v2m1-67v1m0 88v2m3-165v1m0 34v9m0 25v2m67-63v1m1 3v1m1 3v1m3 12v1m1 3v1m5 13v1m3 6v1m3 7v1m1 2v1m1-51v3m0 50v1m1-31v2m0 31v1m1-16v4m0 17v3m0 32v1m0 49v2m1-163v1m0 32v8m9 47v4m0 23v6m1-14v3m29 51v2m1-4v2m1-2v2m1-1v2m1 1v2m1 1v1m92-10v10m1-31v16m1-29v11m1-20v8m1-13v5m1-9v4m1-8v4m1-7v4m1-6v3m1-6v4m1-6v3m1-6v4m1-6v3m1-5v3m1-5v3m1-5v3m1-5v3m1-5v3m1-4v2m1-4v3m1-4v2m1-3v2m1-3v2m1-4v2m1-3v2m1-3v2m1-3v2m1-3v2m1-3v2m1-3v2m1-4v2m1-3v2m1-3v2m1-3v2m1-4v3m1-4v2m1-3v2m1-3v2m1-4v2m1-3v2m1-3v2m1-3v2m1-3v2m1-3v2"/>
<path stroke="#60bba8" d="M87 27v1m0 30v1m1 15v1m2-2v1m0 32v1m1 17v1m1 25v2m2-22v1m1 26v2m2-139v1m1-8v1m0 28v1m1-11v1m1 13v1m0 24v1m1 12v1m1-15v1m0 26v1m2-5v1m1 11v1m0 41v2m1-32v1m1 12v1m1-111v1m0 24v1m0 107v1m1-118v1m1 35v1m2-2v1m1 10v1m0 25v1m1-16v1m0 27v1m1 16v1m1 27v2m1-40v1m1 18v2m18-98v1m1-28v1m3 64v1m2-10v1m0 34v1m1-30v1m0 44v1m1-43v1m0 64v1m1 23v1m1-89v1m1-2v1m1-73v2m0 28v4m0 36v1m65-72v1m1 3v1m4 16v1m1 3v1m6 19v1m3 6v1m2 4v1m1 2v1m1 2v1m1 2v1m1-55v3m0 54v1m1-34v2m0 34v1m1-23v6m0 24v3m0 28v1m0 52v2m1-167v2m9 92v6m0 9v8m1-5v4m29 49v3m1-5v2m1-2v2m1-1v2m1 1v1m94-14v15m1-33v15m1-27v11m1-19v7m1-12v6m1-10v5m1-8v4m1-7v4m1-6v3m1-6v4m1-6v3m1-6v4m1-6v4m1-6v3m1-5v3m1-5v3m1-5v3m1-5v3m1-4v2m1-4v3m1-4v2m1-3v2m1-4v3m1-4v2m1-3v2m1-3v2m1-3v2m1-3v2m1-3v1m1-3v2m1-3v2m1-3v2m1-3v2m1-3v2m1-4v2m1-3v2m1-3v2m1-4v3m1-4v2m1-3v2m1-3v2m1-3v2m1-3v2"/>
<path stroke="#62bda7" d="M86 41v1m1-14v1m1 16v1m1 14v1m0 28v1m2-3v1m0 35v1m1-23v1m0 46v2m1-35v1m1 15v1m1 27v3m2-143v1m1-6v1m0 26v1m1 15v1m2 1v1m1 36v1m1-15v1m0 27v1m1 14v1m1 20v1m2-120v1m0 103v1m1 22v2m1-97v1m1-11v1m1 33v1m1 11v1m3 41v1m1-22v1m0 46v3m1-37v1m1 19v1m16-127v1m1 15v1m2 21v1m1-24v1m0 31v1m1-22v1m0 29v1m1-20v1m1 10v1m0 29v1m1 12v1m1 15v1m1 22v1m1-63v1m0 84v2m1-87v1m1-2v1m1-72v1m0 25v2m0 41v2m64-78v1m4 16v1m1 3v1m3 12v1m2 6v1m1 2v1m4 9v1m2 4v1m5-46v2m1 21v3m0 37v1m1-28v4m0 33v4m0 22v2m0 55v1m1-169v1m9 100v9m1 7v8m0 30v15m29-1v1m1-4v2m1-2v2m1-1v2m1 0v1m95-18v18m1-34v14m1-26v11m1-17v7m1-12v5m1-9v5m1-8v4m1-7v4m1-6v3m1-6v4m1-6v3m1-5v3m1-6v4m1-6v4m1-6v3m1-5v3m1-5v3m1-5v3m1-4v3m1-5v3m1-4v2m1-3v2m1-4v2m1-3v2m1-3v2m1-3v2m1-3v2m1-4v2m1-3v2m1-3v2m1-3v2m1-3v2m1-3v2m1-4v2m1-3v2m1-3v2m1-3v2m1-4v2m1-3v2m1-3v2m1-3v2m1-3v2"/>
<path stroke="#64c0a6" d="M86 40v1m1 16v1m1 15v1m2 0v1m0 30v1m1 16v1m1-21v1m0 43v2m1-32v1m1 15v1m1 29v2m4-131v1m1 36v1m1 12v1m1-13v1m2 22v1m0 29v1m1-19v1m0 37v2m1-28v1m0 61v4m1-158v1m0 105v1m1-89v1m0 111v2m1-121v1m1 33v1m1-11v1m1 10v1m1 10v1m0 23v1m1 12v1m1-16v1m0 30v1m1 24v2m2-13v2m16-130v1m2 27v1m1-26v1m3 35v1m0 26v1m1-17v1m0 27v1m1-20v1m1 5v1m0 41v1m1-40v1m0 60v2m1 21v2m2-85v1m1-72v1m0 22v2m0 45v1m15-81v1m1-1v1m1-1v1m48 6v1m1 3v1m1 3v1m3 12v1m1 3v1m2 7v1m3 8v1m2 4v1m4 9v1m1 2v1m1 2v1m1 2v1m1-60v2m0 60v1m1-40v2m0 41v2m1-34v4m0 41v3m0 18v1m0 58v1m1-171v1m10 125v30m30 13v2m1-2v1m1 0v1m97-20v20m1-35v14m1-24v11m1-18v8m1-12v5m1-9v5m1-8v4m1-7v4m1-6v3m1-6v4m1-6v3m1-5v3m1-5v3m1-6v4m1-6v4m1-6v4m1-6v4m1-5v3m1-5v3m1-5v3m1-4v2m1-4v3m1-4v2m1-3v2m1-3v2m1-3v1m1-3v2m1-3v2m1-3v2m1-3v2m1-3v2m1-3v2m1-4v2m1-3v2m1-3v2m1-3v2m1-4v2m1-3v2m1-3v2m1-3v2m1-3v2"/>
<path stroke="#66c2a5" d="M87 29v1m0 26v1m1-11v1m1 14v1m0 26v1m1 15v1m1-17v1m0 32v1m1 23v1m2-13v1m1 30v3m2-149v1m1 21v1m1 15v1m1-10v1m2 47v1m1-13v1m0 25v1m1 13v1m1 19v1m1 32v4m1-47v1m1-113v1m0 136v2m1-102v1m1-9v1m2 43v1m2-1v1m0 24v1m1 15v1m1-19v1m0 42v1m1-31v1m1 21v1m17-115v1m2-13v1m0 33v1m1-22v1m0 29v1m1-20v1m0 27v1m3 34v1m1 14v1m1 21v1m1-59v1m0 80v1m1-82v1m1-1v1m1-72v1m0 19v2m0 48v1m15-81v1m1-1v1m1-1v1m47 1v1m4 16v1m1 3v1m3 12v1m2 6v1m1 2v1m2 4v1m3 6v1m1 2v1m2 5v1m2 5v1m1-63v2m0 63v1m1-43v2m0 45v1m1-38v3m0 48v4m0 12v2m1-112v1m41 170v1m99-21v21m1-34v13m1-23v11m1-18v8m1-12v6m1-10v5m1-8v5m1-8v4m1-6v4m1-7v4m1-6v4m1-6v3m1-5v3m1-5v3m1-5v3m1-5v3m1-5v3m1-5v3m1-5v3m1-5v3m1-4v2m1-4v3m1-4v2m1-3v2m1-4v3m1-4v2m1-3v2m1-3v2m1-3v2m1-3v2m1-3v1m1-3v2m1-3v2m1-3v2m1-3v2m1-4v3m1-4v2m1-3v2m1-3v2m1-3v2"/>
<path stroke="#69c3a5" d="M86 39v1m2 32v1m1 14v1m1-13v1m0 27v1m1-15v1m0 30v1m1-18v1m0 39v2m1-28v1m1 16v1m1 32v4m2-154v1m1-3v1m2 53v1m1-10v1m0 21v1m2 25v1m1-14v1m0 26v1m1-16v1m0 33v2m1-24v1m0 53v3m1-151v1m0 108v1m1 25v2m2-92v1m1-9v1m0 19v1m2 23v1m2-1v1m0 27v1m1 23v2m1-29v1m1 21v2m16-134v1m2-12v1m0 38v1m3 1v1m1 10v1m0 24v1m1-15v1m0 25v1m1-18v1m0 29v1m1-25v1m0 38v1m1-37v1m0 57v1m1 22v1m3-151v2m0 14v3m0 51v1m1-14v10m13-79v1m1 1v1m1-1v1m1-1v1m1-3v2m48 10v1m1 3v1m3 12v1m1 3v1m2 7v1m6 15v1m3 7v1m2 5v1m2-62v2m0 66v1m1-46v2m0 48v1m1-41v2m0 55v12m1-111v1m141 151v21m1-33v13m1-23v12m1-18v9m1-14v6m1-9v5m1-9v5m1-7v4m1-7v4m1-6v3m1-6v4m1-6v4m1-6v3m1-5v3m1-5v3m1-5v3m1-5v3m1-5v3m1-5v3m1-5v3m1-4v2m1-4v3m1-4v2m1-3v2m1-4v2m1-3v2m1-3v2m1-3v2m1-3v2m1-4v2m1-3v2m1-3v2m1-3v2m1-3v2m1-3v1m1-3v2m1-3v2m1-3v2m1-3v2"/>
<path stroke="#6bc4a5" d="M87 30v1m0 24v1m1-9v1m1 14v1m2 56v1m1 21v2m1-25v1m1 16v2m1 34v4m3-136v1m1-6v1m0 20v1m1-8v1m2 23v1m0 21v1m3 45v1m1-21v1m0 49v3m1-38v1m1-114v1m0 20v1m0 118v2m1-126v1m0 18v1m3 15v1m0 19v1m1-10v1m1 10v1m0 22v1m1 14v1m1-16v1m0 37v2m1-26v1m1 22v1m17-119v1m2-11v1m0 31v1m1-20v1m0 27v1m1 8v1m1-15v1m0 22v1m1-13v1m0 23v1m1 12v1m1 14v1m1 21v1m1-56v1m0 76v2m1-79v1m1-1v1m1-70v2m0 10v2m0 55v2m1-24v8m0 10v5m13-83v1m1 1v1m1-1v1m1-1v1m1-2v1m46 1v1m1 3v1m4 16v1m7 24v1m2 4v1m2 4v1m1 2v1m1 2v1m1 2v1m1 2v1m1 2v1m1-68v2m0 69v1m1-50v3m0 51v1m1-63v21m1-43v1m142 153v20m1-31v14m1-23v11m1-19v10m1-14v7m1-11v5m1-8v5m1-8v4m1-7v4m1-6v4m1-6v3m1-6v4m1-6v4m1-6v4m1-6v3m1-5v3m1-5v3m1-5v3m1-5v3m1-5v3m1-4v3m1-5v3m1-4v2m1-4v3m1-4v2m1-3v2m1-3v2m1-3v1m1-3v2m1-3v2m1-3v2m1-3v2m1-3v2m1-4v2m1-3v2m1-3v2m1-3v2m1-3v2"/>
<path stroke="#6ec5a5" d="M86 38v1m2 32v1m1 14v1m1-11v1m0 25v1m1-13v1m0 27v1m1-15v1m0 34v2m1 37v6m1-47v1m1 37v9m2-168v1m1-1v1m3 44v1m0 19v1m2 2v1m0 22v1m1-12v1m0 24v1m1-14v1m0 30v1m1 27v3m1-146v1m0 111v1m1 27v3m2-116v1m0 17v1m1 11v1m2 23v1m2 1v1m0 24v1m1-14v1m0 34v2m1-23v1m1 22v2m16-138v1m2-10v1m3 40v1m2 22v1m1 7v1m1 5v1m0 35v1m1-34v1m0 53v2m1 21v1m1-76v1m1-1v1m1-69v4m0 2v4m0 59v1m1-32v7m0 23v3m13-85v1m2 1v1m1-1v1m1-2v1m1-4v1m44-1v1m3 12v1m1 3v1m1 3v1m2 8v1m1 3v1m1 3v1m1 3v1m1 2v1m1 2v1m2 4v1m2 4v1m6 17v1m1-72v3m1 19v3m0 55v2m1-67v2m144 135v17m1-29v17m1-26v13m1-20v10m1-16v9m1-12v6m1-10v5m1-8v5m1-7v4m1-7v4m1-6v4m1-6v3m1-5v3m1-6v4m1-6v4m1-6v4m1-6v4m1-6v4m1-6v4m1-5v3m1-5v3m1-5v3m1-4v2m1-4v2m1-3v2m1-3v2m1-4v2m1-3v2m1-3v2m1-3v2m1-3v2m1-3v2m1-4v2m1-3v2m1-3v2m1-3v2m1-3v2"/>
<path stroke="#71c6a5" d="M87 31v1m0 22v1m1-7v1m1 14v1m1 13v1m0 23v1m2 3v1m0 32v1m1-20v1m0 54v4m1-40v1m4-101v1m1-4v1m0 18v1m1 13v1m2 4v1m0 19v1m2 26v1m1 16v2m1-18v1m0 43v2m1-30v1m1-115v1m0 18v1m0 124v3m1-114v1m2 6v1m1 10v1m0 17v1m1-8v1m1 10v1m0 20v1m1 13v1m1 21v1m2 4v2m16-141v1m1 16v1m1 11v1m1-21v1m0 29v1m1-18v1m0 25v1m1 8v1m1-13v1m0 20v1m1 11v1m1-14v1m0 25v1m1 13v1m1 20v1m1-52v1m0 73v1m2-74v1m1-66v2m0 64v1m1-38v5m0 33v3m14-86v1m1 0v1m1-1v1m1-2v1m1-4v1m45 3v1m1 3v1m4 16v1m7 24v1m2 4v1m2 4v1m1 2v1m1 2v1m1 2v1m1 2v1m2-74v5m0 75v1m1-56v2m0 60v2m1-71v2m145 142v12m1-25v23m1-33v14m1-21v11m1-17v9m1-14v7m1-10v6m1-9v5m1-8v5m1-7v4m1-7v4m1-6v4m1-6v4m1-6v3m1-5v3m1-5v3m1-5v3m1-5v3m1-5v3m1-5v3m1-5v3m1-5v3m1-5v3m1-4v2m1-3v2m1-4v3m1-4v2m1-3v2m1-3v2m1-3v2m1-3v1m1-3v2m1-3v2m1-3v2m1-3v2m1-3v2"/>
<path stroke="#74c7a5" d="M86 37v1m1 15v1m1 16v1m1 14v1m2 5v1m0 25v1m1 19v1m1-18v1m0 49v4m1-35v2m3-126v1m1 1v1m2 31v1m1 30v1m2 4v1m0 20v1m1-10v1m1 11v1m0 26v1m1-15v1m0 40v2m1-142v1m0 114v2m1 30v3m1-134v1m2 40v1m2 23v1m1 11v1m1-9v1m0 21v1m1-11v1m0 30v2m1-19v1m1 25v2m18-150v1m3 40v1m0 21v1m1-11v1m1 10v1m0 19v1m1 12v1m2-17v1m0 50v1m1 22v1m1-73v1m1 0v1m1 0v2m1-44v4m0 41v2m12-92v1m1 2v1m1 1v1m1 0v1m1-1v1m1-2v1m1-4v1m44-2v1m3 12v1m1 3v1m1 3v1m2 8v1m1 3v1m1 3v1m13 37v1m1 3v1m1-59v2m0 64v3m1-75v1m146 154v2m1-21v21m1-31v15m1-23v12m1-19v11m1-15v8m1-12v6m1-9v5m1-8v5m1-8v5m1-7v4m1-6v4m1-7v4m1-6v4m1-6v4m1-6v3m1-5v3m1-5v3m1-5v3m1-5v3m1-5v3m1-5v3m1-5v3m1-4v3m1-4v2m1-4v2m1-3v2m1-3v2m1-3v2m1-4v2m1-3v2m1-3v2m1-3v2m1-3v2m1-3v2"/>
<path stroke="#76c8a5" d="M86 36v1m1-5v1m1 16v1m0 19v1m1-6v1m1 13v1m0 21v1m1 15v1m1-11v1m0 28v2m1-16v1m0 46v2m1-29v2m4-106v1m1 15v1m1 13v1m1-6v1m1 11v1m0 17v1m2 26v1m1 15v1m1 25v2m1-23v1m1-100v1m0 131v6m2-127v1m0 15v1m2 22v1m2 5v1m1 31v1m1 20v1m1-16v1m1 26v2m16-146v1m1 16v1m1-23v1m0 33v1m1-19v1m1 12v1m0 23v1m2 17v1m1-8v1m0 17v1m1-11v1m1 4v1m0 32v1m1 19v1m1-49v1m0 69v2m1-71v1m1 0v1m1 1v1m1-48v3m0 47v1m1-9v10m11-93v1m1 2v1m1 1v1m1 0v1m3-5v1m45 2v1m1 3v1m4 16v1m4 15v1m1 2v1m1 2v1m2 4v1m2 4v1m1 2v1m1 2v1m1 2v1m1 2v1m1 2v1m1 3v1m1 3v1m1-62v2m0 69v1m0 34v11m1-123v2m148 141v16m1-27v19m1-27v13m1-20v11m1-17v10m1-14v7m1-10v6m1-9v5m1-8v5m1-7v4m1-7v4m1-6v4m1-6v3m1-6v4m1-6v4m1-6v4m1-6v3m1-5v3m1-5v3m1-5v3m1-5v3m1-4v3m1-5v3m1-5v3m1-4v2m1-3v2m1-3v2m1-4v2m1-3v2m1-3v2m1-3v2m1-3v1m1-2v1"/>
<path stroke="#79c9a5" d="M87 52v1m2 31v1m1 14v1m1-8v1m0 22v1m1-9v1m0 26v1m1 30v3m1-25v2m3-131v1m2 21v1m1 13v1m3 35v1m0 18v1m1-8v1m0 19v1m1-9v1m0 23v1m1-12v1m0 35v2m1-139v1m0 118v2m1-119v1m0 154v5m1-129v1m2 8v1m1 10v1m1 10v1m0 16v1m1 11v1m1-7v1m1 11v1m0 26v2m1-14v2m0 42v4m1-20v3m16-150v1m3 39v1m2-4v1m0 19v1m1-9v1m0 16v1m1 10v1m1 13v1m1 13v1m1-29v1m0 46v2m1-47v1m0 67v1m1-68v1m1 0v1m1 1v1m1-51v2m0 51v2m1-14v3m0 10v2m11-94v1m1 2v1m1 1v1m2-1v1m1-2v1m1-3v1m44-3v1m3 12v1m1 3v1m1 3v1m2 8v1m1 3v1m1 3v1m4 11v1m2 4v1m6 17v1m2 7v1m1-65v2m0 72v2m0 30v2m0 11v8m1-132v1m149 151v8m1-22v22m1-31v15m1-22v12m1-19v11m1-15v9m1-13v7m1-10v6m1-9v5m1-8v5m1-7v4m1-7v5m1-7v4m1-6v4m1-6v3m1-6v4m1-6v4m1-6v4m1-6v4m1-6v4m1-5v3m1-5v3m1-5v3m1-5v3m1-4v2m1-3v2m1-4v3m1-4v2m1-3v2m1-3v2m1-4v2m1-3v2"/>
<path stroke="#7ccaa5" d="M86 35v1m1-3v1m1 16v1m0 17v1m2 10v1m2 53v1m1-12v1m0 39v3m1-20v2m4-129v1m1 33v1m1 13v1m1-4v1m0 15v1m1 11v1m1 12v1m2 6v1m0 21v1m1-10v1m0 32v2m1-16v1m2-104v1m1 12v1m0 13v1m1 11v1m1 10v1m1 11v1m1-5v1m1 29v1m1-7v1m0 24v1m1-10v1m0 37v4m1-13v4m17-137v1m1-21v1m0 31v1m1-17v1m1 12v1m1 11v1m1 11v1m0 14v1m1-5v1m1 7v1m0 20v1m1-17v1m0 29v1m1 18v1m1 22v1m1-66v1m1 0v1m1 1v1m1-53v1m0 55v1m1-19v4m0 15v2m14-90v1m1-1v1m1-2v1m1-3v1m45 1v1m1 3v1m4 16v1m4 15v1m1 2v1m3 7v1m2 4v1m1 2v1m1 2v1m1 2v1m1 2v1m2 6v1m1 4v1m1-67v1m0 76v2m0 26v2m0 21v4m1-137v1m151 144v16m1-26v22m1-30v14m1-20v11m1-17v10m1-14v8m1-12v6m1-9v5m1-8v5m1-7v4m1-7v4m1-6v4m1-7v4m1-6v4m1-6v3m1-5v3m1-5v3m1-5v3m1-5v3m1-5v3m1-5v3m1-5v3m1-5v3m1-4v3m1-4v2m1-4v2m1-3v2m1-3v2m1-4v3m1-4v2"/>
<path stroke="#7ecca5" d="M87 51v1m2 13v1m0 17v1m1 14v1m1-6v1m0 20v1m1-7v1m0 23v1m1-10v1m0 36v2m1-15v2m3-136v1m1 22v1m1 0v1m3 37v1m2 23v1m0 17v1m1 14v1m1 23v1m1-13v2m1-106v1m1 13v1m3 21v1m1 10v1m1 26v1m1-5v1m0 16v1m1 17v2m1-8v1m0 33v3m1-5v5m16-160v1m3 14v1m0 24v1m1 8v1m1 7v1m1-6v1m1 10v1m0 13v1m1 12v1m2-12v1m0 43v1m1-43v1m0 64v1m1-64v1m1 0v1m1 1v1m1-55v1m0 57v1m1-24v4m0 21v2m11-97v1m1 2v1m1 1v1m1 0v1m1-1v1m1-2v1m1-3v1m44-4v1m3 12v1m1 3v1m1 3v1m2 8v1m1 3v1m1 3v1m3 8v1m3 7v1m4 11v1m1 2v1m1 2v1m1 3v1m1 4v2m1-70v1m0 79v2m0 22v2m0 27v4m1-142v1m152 157v4m1-20v20m1-29v17m1-24v13m1-19v11m1-17v11m1-15v8m1-11v6m1-9v5m1-8v5m1-7v4m1-7v4m1-6v4m1-7v4m1-6v4m1-6v4m1-6v3m1-5v3m1-5v3m1-5v3m1-5v3m1-5v3m1-4v3m1-5v3m1-5v3m1-4v2m1-3v2m1-3v2m1-4v3"/>
<path stroke="#81cda5" d="M87 34v1m1 16v1m0 15v1m1 14v1m1-3v1m0 16v1m1-4v1m0 18v1m1 17v1m1-8v1m0 33v2m1-11v2m6-100v1m0 13v1m1 12v1m1 11v1m1-4v1m0 15v1m1 12v1m1-5v1m0 18v1m1-7v1m0 28v2m1-135v1m0 124v2m1-123v1m3 39v1m0 12v1m2 22v1m1-3v1m0 13v1m1-3v1m0 14v1m1-4v1m0 20v1m1-5v2m0 27v4m1 3v8m16-169v1m1 17v1m1-19v1m0 29v1m2-2v1m1 11v1m1 24v1m1-2v1m0 11v1m1-6v1m1 4v1m0 27v1m1 17v1m1-41v1m0 62v1m1-62v1m1 0v1m1 1v1m1-57v1m0 59v1m1-30v5m0 27v1m10-101v1m1 3v1m1 2v1m1 1v1m1 0v1m1-1v1m1-2v1m1-3v1m45 0v1m1 3v1m3 12v1m1 3v1m7 23v1m3 7v1m1 2v1m1 2v1m3 9v1m1 3v1m1 5v1m1-73v2m0 82v2m0 19v1m0 33v3m1-146v1m154 150v12m1-23v23m1-31v15m1-21v12m1-19v11m1-16v10m1-14v8m1-11v6m1-9v5m1-8v5m1-7v4m1-7v4m1-6v4m1-6v3m1-6v4m1-6v4m1-6v4m1-6v4m1-6v4m1-6v4m1-5v3m1-5v3m1-5v3m1-5v3m1-4v3m1-4v2m1-3v2"/>
<path stroke="#84cea5" d="M86 34v1m1 15v1m2 15v1m2 45v1m1-4v1m0 19v2m1-6v1m0 29v3m1-7v3m3-142v1m1 6v1m0 15v1m1 15v1m2 12v1m1 11v1m2 23v1m1 29v1m1-5v1m0 25v2m1-6v2m2-109v1m1 12v1m0 11v1m2 22v1m3 35v1m1-2v1m0 17v2m1-2v2m0 22v3m17-155v1m3 17v1m0 22v1m1 8v1m1 7v1m1-4v1m0 10v1m1 0v1m0 9v1m1-4v1m0 16v1m1 13v1m1-24v1m0 40v1m1-39v1m0 60v1m1-60v1m1 0v1m1 1v1m1-59v1m0 61v1m1-36v5m0 33v1m10-101v1m3 8v1m1 0v1m2-2v1m1-3v1m44-5v1m3 12v1m1 3v1m3 12v1m1 3v1m2 6v1m1 2v1m3 7v1m4 11v1m1 2v1m1 2v1m3 13v2m1-76v1m0 86v2m0 15v2m0 37v2m1-149v1m156 147v16m1-25v25m1-33v14m1-20v12m1-18v11m1-16v9m1-13v7m1-10v6m1-9v5m1-8v5m1-7v4m1-7v4m1-6v4m1-6v3m1-5v3m1-5v3m1-5v3m1-5v3m1-5v3m1-5v3m1-5v3m1-5v3m1-4v2m1-4v3m1-4v2"/>
<path stroke="#86cfa5" d="M88 66v1m1 14v1m1-1v1m0 14v1m1-2v1m1 14v1m0 17v1m1-3v1m0 26v2m1-1v3m5-119v1m1 13v1m1 24v1m1 11v1m1-2v1m0 13v1m1 12v1m1-3v1m0 15v1m1-3v1m0 22v2m1-132v1m0 129v2m0 30v2m1-145v1m1 13v1m2 12v1m1 10v1m1 10v1m0 11v1m1-1v1m0 11v1m1-1v1m1 12v1m0 15v1m1 2v2m0 17v3m18-134v1m1-17v1m2 28v1m1 11v1m0 13v1m1-2v2m0 7v1m1 2v1m0 6v2m1 13v1m1-12v1m0 24v1m1 17v1m1-37v1m0 58v1m1-58v1m1 0v1m1 1v1m1-61v1m0 63v1m1-41v4m0 39v1m11-98v1m1 2v1m3 2v1m3-12v2m42-2v1m2 8v1m1 3v1m3 12v1m1 3v1m3 11v1m3 8v1m3 7v1m1 2v1m1 2v1m4 12v1m1 3v1m1 7v1m1-78v1m0 89v2m0 11v2m0 41v2m1-152v1m158 145v19m1-27v18m1-25v13m1-20v12m1-18v11m1-15v8m1-12v6m1-9v5m1-8v5m1-8v5m1-7v4m1-7v4m1-6v4m1-6v4m1-6v3m1-5v3m1-5v3m1-5v3m1-5v3m1-5v3m1-5v4m1-5v3m1-5v3"/>
<path stroke="#89d0a4" d="M86 33v1m1 1v1m0 13v1m1 2v1m1 14v1m1 27v1m1 0v1m0 14v1m1-1v1m0 15v1m1-1v1m0 23v2m1 4v6m0 17v4m3-173v1m1 8v1m1 29v1m1 13v1m2 12v1m2 23v1m0 12v1m1-1v1m0 13v1m1-1v1m0 19v2m1 2v3m0 20v7m1-156v1m2 38v1m1 11v1m1 10v1m2 22v1m1 12v1m1 14v2m1 5v3m0 10v4m17-150v1m2 3v1m0 26v1m1-12v1m1 29v1m1-6v1m1 13v1m0 4v2m1 4v6m1 0v1m2 7v1m0 37v1m1-35v1m0 56v1m1-56v1m1 0v1m1 1v1m1-63v1m0 65v1m1-44v2m0 44v2m1-11v5m9-97v1m1 3v1m1 2v1m1 1v1m1 0v1m1-1v1m1-2v1m1-3v1m1-8v1m43 2v1m3 12v1m1 3v1m2 8v1m1 3v1m1 3v1m2 6v1m3 7v1m1 2v1m4 11v1m1 2v1m1 2v1m1 3v1m1 3v1m1 7v2m1-81v1m0 92v3m0 5v3m0 45v2m1-155v1m159 156v9m1-21v21m1-29v16m1-23v12m1-19v11m1-17v10m1-14v8m1-11v6m1-9v5m1-8v5m1-8v5m1-7v4m1-6v4m1-7v4m1-6v4m1-6v4m1-6v4m1-6v4m1-6v4m1-5v3m1-5v3m1-5v3"/>
<path stroke="#8cd1a4" d="M88 65v1m1 14v1m1 1v1m1 27v1m1 15v1m1 1v1m0 19v3m1 12v17m4-146v1m3 30v1m0 10v1m1 11v1m1 0v1m0 11v1m1 0v1m1 24v1m1 1v1m0 16v2m1 7v5m0 7v8m1-137v1m1 3v1m0 9v1m1 2v1m2 22v1m1 10v1m0 9v1m1 1v1m1 11v1m0 9v1m1 2v2m0 9v2m1 10v10m17-147v1m1 18v1m2 22v1m1-9v1m1 12v1m0 10v1m1 2v4m2 13v1m0 12v1m1-10v1m0 22v1m1-20v1m0 35v1m1-33v1m0 54v1m1-54v1m0 77v2m1-79v1m1 1v1m1-65v1m0 67v1m1-48v3m0 48v1m1-17v5m0 5v4m9-100v1m3 8v1m1 0v1m1-1v1m1-2v1m1-3v1m1-8v1m42-3v1m2 8v1m1 3v1m3 12v1m4 15v1m2 5v1m1 2v1m3 7v1m1 2v1m1 2v1m5 17v1m1 8v1m1-83v1m0 96v5m0 50v2m1-158v1m161 153v13m1-24v24m1-32v15m1-22v12m1-18v10m1-15v9m1-13v7m1-10v5m1-8v5m1-8v5m1-7v4m1-7v4m1-6v4m1-6v3m1-5v3m1-5v3m1-5v3m1-5v3m1-5v3m1-5v3"/>
<path stroke="#8fd2a4" d="M86 32v1m1 3v1m0 11v1m1 4v1m1 14v1m1 25v1m1 2v1m0 11v1m1 2v1m0 12v1m1 3v2m0 15v2m4-138v1m2 28v1m1 13v1m0 9v1m3 36v1m1 12v1m1 1v1m0 10v1m1 3v1m0 13v2m1-127v1m0 140v7m4-100v1m0 8v1m1 10v1m2 14v1m0 7v1m1 3v1m0 7v1m1 5v1m0 6v2m20-119v1m0 24v1m1-10v1m1 12v1m0 14v1m1 6v1m3 32v1m1 13v1m1-18v1m0 33v1m1-31v1m0 52v1m1-52v1m0 75v1m1-76v1m1 1v1m1-67v1m0 69v1m1-50v1m0 52v1m1-21v3m0 14v2m10-98v1m1 2v1m5 0v1m1-8v1m43 1v1m3 12v1m1 3v1m2 8v1m1 3v1m1 3v1m5 14v1m4 11v1m1 2v1m1 2v1m1 2v1m1 3v1m1 4v1m1 8v1m1-85v1m0 154v1m164-9v17m1-27v19m1-27v14m1-20v11m1-17v10m1-15v8m1-11v6m1-9v5m1-8v5m1-8v5m1-7v4m1-7v4m1-6v4m1-6v4m1-6v4m1-6v3m1-5v3m1-5v4"/>
<path stroke="#91d3a4" d="M88 64v1m1 14v1m1 3v1m0 9v1m1 4v1m0 9v1m1 4v1m0 9v2m1 6v2m0 9v4m5-125v1m0 11v1m1 15v1m2 16v1m0 8v1m1 2v1m0 8v1m1 2v1m1 12v1m0 8v1m1 3v1m0 8v1m1 5v2m0 8v3m2-117v1m2 36v1m2 14v1m1 10v1m0 7v1m1 10v1m1 5v1m0 5v1m1 7v6m18-124v1m1 18v1m2 22v1m2 6v1m0 7v1m3 22v1m0 9v1m1-7v1m0 19v1m1 16v1m1 22v1m1-50v1m0 72v2m1-74v1m1 1v1m1-69v1m0 71v1m1-53v2m0 54v1m1-24v2m0 19v2m8-107v1m1 3v1m1 3v1m1 2v1m1 1v1m1 0v1m1-1v1m1-2v1m2-9v1m42-4v1m3 12v1m3 12v1m4 15v1m1 2v1m1 2v1m3 7v1m1 2v1m1 2v1m4 12v1m1 3v1m1 4v2m1 7v1m1-87v1m0 156v2m1-162v1m164 159v8m1-21v21m1-30v16m1-23v12m1-19v11m1-16v9m1-13v7m1-10v6m1-9v5m1-8v5m1-8v5m1-7v4m1-6v4m1-6v3m1-6v4m1-6v4m1-5v3"/>
<path stroke="#94d4a4" d="M87 37v1m0 9v1m1 6v1m1 14v1m0 8v1m1 5v1m0 7v1m1 6v1m0 7v1m1 6v2m0 6v1m1 10v9m7-88v1m0 7v1m2 16v1m1 11v1m0 7v1m1 4v1m0 6v1m1 5v1m0 6v1m1 8v8m2-104v1m1 5v1m0 7v1m1 4v1m1 11v1m0 6v1m1 10v1m1 4v1m0 5v1m1 5v2m0 3v1m1 7v5m19-111v1m1 18v1m1-11v1m0 22v1m1-8v1m1 12v1m0 12v1m1-1v2m0 4v1m3 24v1m0 7v1m2-1v1m0 30v1m1-28v1m0 49v1m1-48v1m0 70v1m1-71v1m1 1v1m1-71v1m0 73v1m1-56v2m0 57v1m1-28v3m0 23v1m9-103v1m4 9v1m1-1v1m1-2v1m1-3v1m1-7v1m43 0v1m1 3v1m2 8v1m1 3v1m2 8v1m1 3v1m5 15v1m5 14v1m1 2v1m1 2v1m3 13v1m1 7v2m1-90v1m0 159v1m1-164v1m166 154v14m1-25v25m1-33v14m1-21v12m1-18v11m1-15v8m1-12v6m1-9v5m1-8v5m1-8v5m1-7v4m1-7v4m1-6v4m1-6v4m1-6v4"/>
<path stroke="#97d5a4" d="M86 31v1m2 31v1m1 6v1m1 14v1m0 5v1m1 8v1m0 5v1m1 9v6m7-82v1m0 7v1m2 18v1m0 6v1m1 11v1m1 5v1m0 5v1m1 6v1m0 4v1m1 7v6m2-106v1m1 9v1m2 34v1m2 16v1m0 4v1m1 6v1m0 3v1m1 8v3m23-72v1m0 15v1m2 10v4m3 26v2m0 3v2m1-4v1m0 17v1m1-14v1m0 28v1m1-26v1m0 47v1m1-46v1m0 68v1m1-69v1m1 1v1m1 3v1m1-58v1m0 60v1m1-32v3m0 27v2m8-109v1m2 7v1m1 2v1m1 1v1m3 0v1m1-3v1m1-7v1m42-5v1m3 12v1m3 12v1m3 11v1m5 14v1m1 2v1m1 2v1m1 2v1m4 12v1m1 3v1m1 6v1m1 8v1m1-92v1m0 161v2m1-167v1m168 150v19m1-28v18m1-25v13m1-20v12m1-18v11m1-15v8m1-11v6m1-9v5m1-8v5m1-8v5m1-7v4m1-6v4m1-6v4"/>
<path stroke="#99d6a4" d="M86 10v1m1 27v1m0 7v1m1 8v1m0 6v1m1 14v1m1 8v1m0 3v1m1 10v5m7-84v1m0 9v1m2 22v1m0 5v1m2 18v1m0 4v1m1 7v1m0 3v1m1 8v4m5-66v1m0 5v1m1 6v1m1 11v1m0 4v1m1 6v1m0 2v1m1 8v3m22-68v1m1-9v1m0 20v1m2 7v1m0 10v1m4 34v3m1-1v1m0 15v1m1-12v1m0 26v1m1-24v1m0 45v1m1-44v1m0 66v1m1-67v1m1 1v1m1-74v1m1 17v1m1 25v5m0 32v1m8-109v1m1 3v1m1 3v1m1 2v1m1 1v1m1 0v1m1-1v1m2-3v1m1-7v1m43-1v1m1 3v1m2 8v1m1 3v1m2 8v1m1 3v1m2 6v1m1 2v1m1 2v1m6 17v1m1 2v1m1 2v1m1 3v1m1 3v1m1 6v1m1 8v1m1-94v1m0 164v1m1-169v1m169 160v10m1-22v22m1-30v15m1-22v12m1-19v11m1-16v9m1-13v7m1-10v6m1-9v5m1-8v5m1-7v4m1-6v4"/>
<path stroke="#9cd7a4" d="M86 30v1m2 25v1m1 14v2m0 2v2m1 10v3m9-49v1m0 5v1m2 20v1m0 4v1m1 7v1m0 2v1m1 9v3m4-80v1m1 18v1m2 25v1m1 7v1m0 2v1m1 8v2m24-63v1m1 15v1m0 13v1m1-2v1m0 8v1m5 38v1m0 13v1m1 15v1m1-22v1m0 43v1m1-42v1m0 64v1m1-65v2m1 0v1m1-76v1m0 77v1m1-62v2m0 63v1m1-43v5m0 38v1m9-105v1m4 9v1m1-1v1m1-2v1m2-8v1m42-6v1m3 12v1m3 12v1m3 11v1m4 11v1m1 2v1m1 2v1m1 2v1m1 2v1m5 17v1m1 6v1m1 8v1m1-96v1m0 166v2m172-15v15m1-25v25m1-33v14m1-21v12m1-18v11m1-15v8m1-12v7m1-10v5m1-8v5m1-7v5"/>
<path stroke="#9fd8a4" d="M86 11v1m1 27v1m0 5v1m1 11v1m0 2v2m1 11v2m9-52v1m0 7v1m2 24v1m0 3v1m1 8v1m0 2v1m1 9v2m6-55v1m1 15v1m0 3v1m1 8v1m0 2v1m1 9v2m24-46v1m1 12v1m2 10v1m0 6v1m5 40v1m0 11v1m1-9v1m1 46v1m1-40v1m0 62v1m1-62v1m1 0v1m1-78v1m0 79v1m1-64v1m0 66v1m1-48v4m0 44v1m8-110v1m2 7v1m1 2v1m1 1v1m3 0v1m1-3v1m1-6v1m22-11v4m1-4v4m20 5v1m1 3v1m2 8v1m1 3v1m2 8v1m1 3v1m2 6v1m1 2v1m7 20v1m1 2v1m1 2v1m1 3v1m1 4v1m1 6v1m1 8v1m1-98v1m1-3v1m173 152v19m1-28v18m1-25v13m1-20v12m1-17v10m1-15v8m1-11v6m1-8v5"/>
<path stroke="#a2d9a4" d="M87 40v1m0 3v1m1 13v2m11-18v1m0 3v1m1 10v3m1 10v2m7-37v1m1 10v1m0 1v1m1 10v2m26-39v1m1 15v1m0 11v1m1 1v1m0 4v1m5 42v1m0 9v1m1-7v1m0 22v1m1-20v1m0 40v1m1-38v1m0 59v2m1-60v1m1 0v1m1-80v1m0 81v1m1-66v1m0 68v1m1-51v2m0 49v2m1-15v6m7-102v1m1 3v1m3 8v1m1 0v1m1-1v1m2-3v1m1-6v1m21-12v6m1-2v3m1-3v3m1-7v1m17-1v1m4 17v1m3 12v1m3 11v1m3 8v1m1 2v1m1 2v1m1 2v1m1 2v1m1 2v1m3 9v1m2 8v1m1 6v1m1 8v2m1-101v1m1-3v1m174 162v10m1-22v22m1-30v15m1-22v12m1-19v12m1-17v10m1-13v8"/>
<path stroke="#a4daa4" d="M86 29v1m1 11v3m11-20v1m0 5v1m1 12v3m8-30v1m1 13v1m0 3v1m1 12v1m26-22v1m1-4v1m0 15v1m1-1v1m0 9v1m1 3v4m5 44v1m0 7v1m1-5v1m0 20v1m1-18v1m0 38v1m1-36v1m0 57v1m1-57v1m1 0v1m1-107v1m0 24v1m0 83v1m1-68v1m0 70v1m1-54v2m0 53v1m1-20v4m0 6v4m9-98v1m1 2v1m3 3v1m1-2v1m22-19v6m1 0v2m1-1v3m1-3v2m1-8v3m18 1v1m2 8v1m2 8v1m1 3v1m13 43v1m1 2v1m2 6v1m1 5v1m1 6v1m1 9v1m1-103v1m177 156v15m1-25v25m1-32v14m1-21v12m1-17v11"/>
<path stroke="#a7dba4" d="M86 12v1m12 12v1m0 3v1m10 1v3m29 6v1m6 61v7m1 16v1m1-16v1m0 36v1m1 22v1m1-55v1m1 0v2m1-108v2m0 21v1m0 85v1m1-70v1m0 72v1m1-57v2m0 56v1m1-24v3m0 14v2m6-112v1m1 4v1m1 3v1m3 8v1m1 0v1m2-1v1m1-3v1m1-6v1m19-13v4m1 2v2m1 0v2m1 0v2m1-3v2m1-7v2m17-5v1m2 8v1m2 8v1m3 12v1m1 3v1m1 3v1m2 6v1m1 2v1m1 2v1m4 11v1m1 2v1m3 9v1m1 3v1m1 5v1m1 6v1m1 9v1m0 21v2m1-128v1m1-2v1m178 155v18m1-27v18m1-24v14"/>
<path stroke="#aadca4" d="M86 28v1m12-3v3m9-14v1m28 9v1m1-2v1m0 13v1m1 9v1m7 57v1m0 17v1m1 21v1m1-33v1m0 54v1m1-53v1m1 1v1m1-107v2m0 17v2m0 87v1m1-72v1m0 74v1m1-59v1m0 59v1m1-28v3m0 19v2m9-101v1m1 2v1m2 3v1m1-1v1m2-3v1m1-6v1m19-10v3m1 1v2m1 0v2m1 0v1m1-2v1m1-6v1m18-1v1m2 8v1m2 8v1m1 3v1m4 15v1m4 11v1m1 2v1m1 2v1m3 9v1m1 2v1m2 7v1m1 5v1m1 6v1m1 9v2m0 14v5m0 2v4m1-133v1m180 164v9m1-19v19"/>
<path stroke="#acdda4" d="M107 14v1m28 9v1m1 0v1m0 11v1m1 3v2m0 4v1m7 59v1m0 15v1m1-13v1m0 33v1m1-31v1m0 52v1m1-51v1m1 1v1m1-106v3m0 12v2m0 90v1m1-74v1m0 76v1m1-61v1m0 61v1m1-32v3m0 24v2m6-115v1m1 4v1m1 3v1m1 3v1m1 2v1m1 1v1m2 1v1m1-2v1m2-7v1m18-15v5m1 2v2m1 1v2m1 0v2m1-1v2m1-3v2m1-7v2m17-7v1m2 8v1m2 8v1m3 12v1m1 3v1m1 3v1m8 24v1m1 2v1m3 9v1m2 10v1m1 6v1m1 10v4m0 5v5m0 11v4"/>
<path stroke="#aedea3" d="M86 13v1m50 12v1m1 16v4m7 61v1m0 13v1m1-11v1m0 31v1m1-29v1m0 50v1m1-49v1m1 1v1m1-104v12m0 93v1m1-76v1m0 78v1m1-63v1m0 63v1m1-36v3m0 29v2m6-116v1m2 8v1m4 9v1m3-3v1m18-20v1m1 4v2m1 2v2m1 1v1m1 1v1m1 0v1m1-2v2m1-7v2m1-11v1m17 6v1m2 8v1m2 8v1m1 3v1m4 15v1m1 2v1m1 2v1m1 2v1m1 2v1m1 2v1m1 2v1m3 9v1m1 2v1m1 3v1m1 3v1m2 13v1m1 13v5m0 20v3"/>
<path stroke="#b1dfa3" d="M86 27v1m21-18v4m28 9v1m1 3v1m0 8v1m8 72v1m0 11v1m1-9v1m0 29v1m1-27v1m0 48v1m1-47v1m1 1v1m1 1v1m1 3v1m1-65v1m0 65v1m1-41v4m0 34v1m7-112v1m2 7v1m1 2v1m1 1v1m2 1v1m1-2v1m2-7v1m17-15v4m1 2v2m1 2v1m1 1v2m1 0v2m1-1v2m1-2v1m1-6v1m1-11v2m16 0v1m2 8v1m2 8v1m3 12v1m1 3v1m1 3v1m8 24v1m1 2v1m4 14v1m1 5v1m2 48v3"/>
<path stroke="#b3e0a2" d="M135 22v1m1 5v1m0 6v1m8 74v2m0 8v1m1-7v1m0 27v1m1-25v1m0 46v1m1-45v1m1 1v1m1 1v2m1-80v1m0 81v1m1-67v1m0 67v2m1-47v4m0 39v2m6-118v1m1 4v1m1 3v1m3 8v1m1 0v1m2-1v1m1-3v1m1-5v1m17-12v2m1 2v1m1 2v1m1 2v1m1 1v1m1 0v1m1-2v1m1-6v2m1-11v1m17 4v1m2 8v1m2 8v1m1 3v1m5 18v1m1 2v1m1 2v1m1 2v1m1 2v1m1 2v1m3 9v1m1 2v1m1 3v1m1 4v1m1 5v1m1 6v1m1 43v2"/>
<path stroke="#b5e1a2" d="M86 14v1m0 11v1m50 2v2m0 2v2m8 77v2m0 3v3m1 21v1m1-23v1m0 44v1m1-43v1m1 1v1m1 2v1m1-82v1m0 83v1m1-69v1m0 70v1m1-52v4m0 45v1m9-106v1m1 2v1m2 3v1m1-1v1m2-3v1m1-5v1m16-18v4m1 3v1m1 2v2m1 1v2m1 1v1m1 1v1m1 0v1m1-2v2m1-6v1m1-11v2m18 7v1m2 8v1m3 12v1m1 3v1m2 6v1m7 21v1m1 2v1m4 15v1m1 5v1m1 6v1m1 44v2"/>
<path stroke="#b8e2a1" d="M135 21v1m1 9v2m8 81v3m1-2v1m0 23v2m1 22v1m1-41v1m1 1v2m1 1v1m1 2v1m1-71v1m0 72v1m1-57v4m0 50v2m1-23v14m5-111v1m1 4v1m1 3v1m3 8v1m3 0v1m18-20v2m1 2v2m1 2v1m1 2v1m1 1v1m1 1v2m1-1v2m1-2v1m1-6v2m1-11v2m16-4v1m1 4v1m2 8v1m2 8v1m1 3v1m3 11v1m7 21v1m3 9v1m1 2v1m1 3v1m2 11v1m1 6v1m1 45v3"/>
<path stroke="#bae3a1" d="M86 15v1m0 9v1m49-6v1m10 95v1m0 21v1m1-19v1m0 41v1m1-39v1m1 2v1m1 1v1m1-85v1m0 86v1m1-73v1m0 74v1m1-60v2m0 56v1m1-28v4m0 14v3m8-101v1m1 2v1m2 3v1m1-1v1m2-3v1m1-5v1m15-19v1m1 5v1m1 3v1m1 2v1m1 2v1m1 1v1m1 2v1m1 0v1m1-2v1m1-5v1m1-10v1m18 5v1m2 8v1m3 12v1m3 10v1m1 2v1m1 2v1m1 2v1m1 2v1m1 2v1m2 6v1m1 2v1m2 6v1m1 3v1m1 4v1m2 13v1m1 47v2"/>
<path stroke="#bce4a0" d="M135 19v1m10 97v1m0 18v2m1-17v1m1 3v1m1 2v1m1 1v1m1-87v1m0 88v2m1-76v1m0 76v2m1-64v2m0 59v2m1-33v3m0 21v3m5-116v1m1 4v1m1 3v1m3 8v1m3 0v1m2-6v1m15-19v3m1 3v2m1 2v1m1 2v1m1 2v1m1 1v2m1 1v1m2-1v1m1-5v1m1-10v2m15-11v1m1 4v1m3 13v1m2 8v1m1 3v1m2 7v1m1 3v1m7 21v1m3 9v1m3 12v1m1 5v1m1 7v1m1 48v2"/>
<path stroke="#bfe5a0" d="M86 24v1m49-15v1m0 7v1m10 99v1m0 16v1m1-14v1m0 38v1m1-36v1m1 2v1m1 1v2m1 2v1m1-78v1m0 79v1m1-67v2m0 63v2m1-38v3m0 27v2m8-105v1m1 2v1m2 3v1m1-1v1m2-3v1m2-24v2m14 2v1m1 4v1m1 2v1m1 2v1m1 2v1m1 2v1m2 1v1m1-1v1m1-5v2m1-10v1m17-2v1m1 4v1m2 8v1m9 32v1m1 2v1m1 2v1m3 9v1m2 6v1m1 3v1m1 5v1m1 5v1m1 7v1m1 49v1"/>
<path stroke="#c1e6a0" d="M86 16v1m49-6v3m0 2v2m10 101v1m0 13v2m1-12v1m0 36v1m1-34v1m1 2v1m1 2v1m1-91v1m0 92v1m1-80v1m0 81v1m1-69v1m0 67v1m1-42v3m0 32v2m5-119v1m1 4v1m1 3v1m3 8v1m3 0v1m2-6v1m1-19v2m14 1v2m1 3v1m1 2v1m1 2v1m1 2v1m2 3v1m1 0v1m1-1v1m1-4v1m1-10v2m15-13v1m1 4v1m3 13v1m3 12v1m1 3v1m1 3v1m2 6v1m1 2v1m1 2v1m4 12v1m1 2v1m2 6v1m2 7v1m2 11v1m1 7v1m1 49v2"/>
<path stroke="#c3e79f" d="M86 17v1m0 5v1m49-10v2m10 104v2m0 10v1m1-9v1m0 34v1m1-32v1m0 54v1m1-53v1m1 2v1m1-93v1m0 94v2m1-83v1m0 83v2m1-72v1m0 69v2m1-46v2m0 37v2m4-127v1m4 18v1m1 2v1m2 3v1m1-1v1m2-3v1m1-4v1m1-18v1m13-5v1m1 6v1m1 3v1m1 2v1m1 2v1m1 2v1m1 1v1m1 1v1m3-3v1m1-9v1m1-15v2m16 9v1m1 4v1m2 8v1m1 3v1m4 15v1m6 18v1m3 9v1m2 6v1m2 9v1m2 14v1m1 50v2"/>
<path stroke="#c6e89f" d="M86 18v1m0 3v1m59 99v2m0 5v3m1 25v2m1-30v1m0 51v2m1-51v1m1 2v1m1 3v1m1-85v1m0 86v2m1-75v1m0 72v2m1-51v3m0 41v2m5-122v1m1 4v1m1 3v1m3 8v1m3 0v1m3-22v2m13-6v2m1 5v1m1 3v1m1 2v1m1 2v1m1 2v1m1 1v1m2 1v1m1-1v1m1-3v1m1-9v1m1-14v1m18 18v1m3 12v1m1 3v1m1 3v1m3 9v1m1 2v1m1 2v1m1 2v1m2 6v1m1 2v1m2 6v1m2 7v1m1 5v1m1 5v1m1 8v2m1 50v2"/>
<path stroke="#c8e99e" d="M86 19v3m59 102v5m1-4v1m0 30v1m1-27v1m0 49v1m1-48v2m1 1v1m1-96v1m0 98v1m1-87v1m0 89v1m1-77v1m0 75v2m1-56v3m0 46v3m1-27v14m3-118v1m4 18v1m1 2v1m3 3v1m2-3v1m1-4v1m1-16v1m13-5v1m1 5v1m1 3v1m1 2v1m1 2v1m3 5v1m2 0v1m1-3v1m1-9v2m1-15v2m14-3v1m1 4v1m1 4v1m4 17v1m5 18v1m5 15v1m3 9v1m2 6v1m1 4v1m2 11v1m1 9v1m1 51v1"/>
<path stroke="#caea9e" d="M146 126v1m0 28v1m1-25v1m0 46v2m1-45v1m1 1v2m1 2v2m1-90v1m0 91v2m1-80v1m0 78v1m1-60v3m0 52v2m1-33v4m0 14v4m5-110v1m1 3v1m3 8v1m1 0v1m2-1v1m3-20v2m13-6v1m1 5v1m1 3v1m1 2v1m1 2v1m1 1v1m1 1v1m2 1v1m2-2v1m1-8v1m1-14v1m17 11v1m2 8v1m5 19v1m4 12v1m1 2v1m3 9v1m2 6v1m1 3v1m1 4v1m1 4v1m2 16v2m1 50v2"/>
<path stroke="#cdeb9d" d="M146 127v1m0 26v1m1-23v1m0 44v1m1-42v1m1 2v1m1-100v1m0 102v1m1 3v1m1-82v1m0 80v2m1-65v3m0 57v2m1-38v3m0 22v3m3-124v1m1 5v1m3 12v1m1 2v1m3 3v1m2-3v1m1-4v1m1-14v1m13-6v1m1 5v1m2 6v1m2 4v1m2 2v1m2 0v1m2-9v2m1-15v2m14-5v1m1 4v1m1 4v1m2 8v1m2 8v1m1 3v1m1 3v1m1 3v1m3 9v1m1 2v1m3 9v1m1 2v1m6 24v1m1 5v1m1 11v3m1 49v1"/>
<path stroke="#cfec9d" d="M146 128v2m0 23v1m1-21v1m0 42v1m1-40v1m1 2v1m1-102v1m0 104v2m1-94v1m0 95v2m1-85v1m0 83v2m1-69v2m0 62v2m1-43v3m0 28v4m6-112v1m4 9v1m2-1v1m2-5v1m1-14v1m13-6v1m2 8v1m2 5v1m2 3v1m2 1v1m2-2v1m1-6v1m1-14v2m17 8v1m2 8v1m5 19v1m1 2v1m4 12v1m3 9v1m1 2v1m1 3v1m1 3v1m1 4v1m2 11v1m1 13v4m1 46v2"/>
<path stroke="#d1ed9c" d="M146 130v1m0 21v1m1-19v1m0 39v2m1-38v1m1 2v2m1 3v1m1-96v1m0 98v2m1-88v1m0 86v2m1-73v2m0 66v2m1-48v3m0 35v3m4-124v1m1 4v1m2 7v1m1 2v1m1 1v1m2 1v1m2-3v1m2-16v2m13-7v1m1 4v1m1 3v1m1 2v1m1 2v1m1 1v1m2 2v1m2 0v1m1-2v1m1-6v1m1-13v1m15-2v1m3 13v1m2 8v1m1 3v1m1 3v1m5 16v1m1 2v1m2 6v1m1 2v1m5 19v1m1 4v1m1 6v1m1 16v5m1 43v2"/>
<path stroke="#d3ed9c" d="M146 131v1m0 18v2m1-17v1m0 37v1m1-35v1m1 3v1m1-106v1m0 108v2m1-99v1m0 101v1m1-90v1m0 89v2m1-77v2m0 70v3m1-53v2m0 41v3m3-133v1m3 15v1m4 9v1m4-5v1m1-12v1m13-7v1m1 4v1m1 3v1m1 2v1m3 5v1m2 1v1m3-6v1m1-13v2m14-9v1m2 9v1m1 4v1m2 8v1m4 15v1m2 6v1m1 2v1m3 9v1m3 9v1m1 2v1m1 3v1m1 3v1m2 10v1m2 27v4m1 41v1"/>
<path stroke="#d6ee9b" d="M146 132v2m0 15v1m1-14v1m0 35v1m1-33v1m1 3v2m1-109v1m0 111v2m1 2v2m1-93v1m0 92v2m1-80v1m0 75v2m1-57v2m0 46v3m1-29v11m4-106v1m2 7v1m1 2v1m1 1v1m2 1v1m1-2v1m1-2v1m2-14v1m12-16v2m1 7v1m1 4v1m2 6v1m1 1v1m1 1v1m5 2v1m1-5v1m1-12v1m18 10v1m3 12v1m3 10v1m4 12v1m3 9v1m4 14v1m1 4v1m2 11v1m1 24v2m1 40v2"/>
<path stroke="#d8ef9b" d="M146 134v2m0 10v3m1-12v1m0 32v2m1-31v2m1 3v1m1 4v1m1-103v1m0 105v2m1 0v2m1-84v2m0 78v2m1-62v3m0 51v3m1-37v5m0 11v7m3-118v1m2 9v1m4 9v1m4-5v1m1-11v1m12-15v1m3 15v1m4 8v1m1 0v1m1 0v1m1-1v1m2-5v1m1-12v2m14-11v1m1 4v1m1 4v1m3 13v1m1 3v1m2 7v1m1 3v1m3 9v1m1 2v1m3 9v1m3 9v1m1 3v1m3 14v1m1 6v1m1 25v2m1 40v2"/>
<path stroke="#daf09a" d="M146 136v5m0 1v4m1-8v1m0 30v1m1-27v1m1 3v2m1-113v1m0 115v2m1-106v1m0 108v2m1-98v1m0 97v2m1-87v1m0 82v3m1-67v2m0 57v3m1-43v3m0 23v5m2-129v1m2 11v1m2 7v1m1 2v1m1 1v1m3 0v1m1-2v1m2-13v1m12-15v1m1 6v1m1 4v1m1 3v1m1 2v1m1 1v1m1 1v1m5 2v1m1-4v1m1-11v1m13-17v1m4 19v1m1 4v1m7 26v1m4 12v1m2 6v1m1 2v1m3 11v1m1 4v1m2 12v1m1 26v2"/>
<path stroke="#ddf19a" d="M146 141v1m1-3v1m0 28v1m1-25v1m1 4v1m1-115v1m0 118v2m1 3v2m1-101v1m0 100v2m1-90v1m0 86v2m1-71v2m0 62v3m1-49v3m0 31v6m3-128v1m2 9v1m4 9v1m1-1v1m3-5v1m1-10v1m12-15v1m1 6v1m1 4v1m8 13v1m3-14v2m1-19v1m13 5v1m1 4v1m1 4v1m4 17v1m1 3v1m1 3v1m2 6v1m3 9v1m1 2v1m2 6v1m3 9v1m1 3v1m3 14v1m1 7v1m1 27v2"/>
<path stroke="#dff299" d="M147 140v2m0 24v2m1-23v2m1 3v2m1 4v2m1-111v1m0 113v2m1-104v1m0 103v2m1-93v1m0 89v3m1-76v2m0 67v4m1-55v2m0 40v4m2-138v1m4 19v1m2 4v1m3 0v1m3-13v1m12-15v1m3 14v1m1 2v1m1 1v1m2 2v1m1 0v1m1 0v1m2-1v1m1-4v1m1-9v1m1-19v2m16 18v1m2 8v1m4 15v1m3 9v1m3 9v1m3 9v1m3 11v1m1 4v1m1 5v1m2 36v2"/>
<path stroke="#e1f399" d="M147 142v1m0 21v2m1-19v1m1 4v1m1-119v1m0 123v2m1 3v2m1-107v1m0 106v3m1-97v1m0 93v3m1-81v2m0 73v3m1-60v2m0 46v5m4-131v1m3 10v1m3 3v1m2-3v1m1-3v1m1-9v1m13-9v1m1 4v1m1 3v1m3 5v1m4 3v1m2-4v1m1-9v2m1-19v2m12-4v1m5 24v1m7 26v1m3 9v1m3 9v1m2 6v1m1 3v1m1 4v1m1 4v1m2 12v2m1 29v1"/>
<path stroke="#e4f498" d="M147 143v2m0 17v2m1-16v2m1 3v2m1-122v1m0 126v2m1-116v1m0 118v3m1 0v2m1-100v1m0 97v2m1-85v2m0 78v3m1-65v2m0 53v5m1-40v22m2-123v1m2 9v1m4 9v1m2-1v1m3-12v1m12-16v1m1 6v1m3 10v1m1 1v1m3 3v1m3 0v1m2-10v1m1-18v1m13 1v1m1 4v1m1 4v1m1 4v1m2 8v1m1 3v1m1 3v1m1 3v1m2 6v1m3 9v1m2 6v1m1 2v1m2 6v1m5 22v1m1 8v1m1 29v2"/>
<path stroke="#e6f598" d="M147 145v2m0 13v2m1-12v1m0 31v2m1-29v2m1-125v1m0 129v2m1-119v1m0 122v2m1-113v1m0 112v3m1-104v1m0 100v4m1-90v1m0 83v4m1-71v2m0 60v4m1-48v4m0 22v9m1-138v1m2 11v1m2 7v1m1 2v1m1 1v1m2 1v1m2-3v1m1-3v1m1-8v1m12-16v1m2 10v1m1 3v1m4 6v1m2 1v1m3-3v1m1-7v1m1-18v2m12-6v1m5 24v1m5 19v1m3 9v1m2 6v1m3 9v1m2 6v1m1 3v1m1 4v1m1 4v1m2 14v1m1 30v2"/>
<path stroke="#e7f59a" d="M147 147v3m0 7v3m1-9v2m0 26v3m1-25v2m1-128v1m0 132v2m1 4v3m1-117v1m0 116v3m1-108v1m0 105v3m1-94v1m0 88v5m1-78v2m0 66v6m1-57v3m0 35v8m4-129v1m4 9v1m17-26v1m1 5v1m1 4v1m2 5v1m2 2v1m4 3v1m1-1v1m1-3v1m1-7v1m1-17v2m14 3v1m1 4v1m4 17v1m1 3v1m3 10v1m1 2v1m2 6v1m3 9v1m7 29v1m1 9v1m1 31v1"/>
<path stroke="#e8f69b" d="M147 150v7m1-4v3m0 21v2m1-20v2m1-132v2m0 135v3m1-125v1m0 128v4m1-122v1m0 120v4m1-113v1m0 109v5m1-101v2m0 94v6m1-86v2m0 74v7m1-67v3m0 46v8m2-147v1m3 13v1m1 2v1m1 1v1m3 0v1m1-2v1m2-10v1m15-1v1m2 3v1m3 3v1m1 0v1m4-8v1m1-16v2m13-4v1m3 14v1m2 8v1m3 11v1m4 13v1m3 9v1m3 9v1m1 3v1m1 3v1m1 4v1m1 4v1m1 5v1m1 9v2m1 30v2"/>
<path stroke="#e9f69d" d="M148 156v3m0 14v4m1-16v3m1-136v1m0 140v3m1 5v4m1-1v4m1-2v2m1-104v1m0 102v1m1-89v2m0 83v4m1-174v1m0 100v2m0 57v14m1-167v1m0 122v12m2-123v1m1 4v1m4 9v1m1-1v1m3-5v1m1-7v1m11-25v1m1 8v1m1 5v1m1 4v1m4 8v1m1 0v1m5 0v1m1-6v1m1-15v2m12-11v1m5 24v1m5 19v1m2 6v1m3 9v1m2 6v1m1 2v1m3 11v1m4 26v1m1 31v1"/>
<path stroke="#eaf79e" d="M148 159v6m0 2v6m1-9v3m1-140v1m0 144v5m1-134v1m0 137v3m1-130v1m1 11v1m1 12v1m1 13v2m1 14v2m1 18v11m0 12v22m0 9v1m1-160v1m3 13v1m2 4v1m3 0v1m3-10v1m11-25v1m1 8v1m1 5v1m2 7v1m1 1v1m6 6v1m1-1v1m2-7v1m1-14v1m13-6v1m1 4v1m1 4v1m1 4v1m2 8v1m1 3v1m1 3v1m1 3v1m2 6v1m3 9v1m2 6v1m3 9v1m1 3v1m2 8v1m1 4v1m1 5v1m1 11v2m1 30v2"/>
<path stroke="#ebf7a0" d="M148 165v2m1 0v5m1-147v2m0 150v7m2-131v1m1 11v1m1 12v1m1 13v1m1 14v2m1-91v1m0 106v4m0 45v9m2-153v1m3 10v1m3 3v1m2-3v1m1-3v1m12-30v1m3 18v1m3 6v1m3 3v1m1 0v1m3-2v1m1-5v1m1-14v2m12-13v1m5 24v1m8 29v1m2 6v1m3 9v1m3 11v1m3 15v1m1 12v1m1 31v1"/>
<path stroke="#ecf7a1" d="M149 172v12m1-160v1m1 17v1m1 9v1m1 11v1m1 12v1m1 12v2m1-81v1m0 93v2m1 15v3m1 47v12m2-149v1m1 3v1m3 5v1m2-1v1m3-10v1m11-24v1m1 7v1m1 5v1m5 12v1m1 0v1m3 2v1m1-1v1m1-2v1m2-17v2m14-4v1m1 4v1m7 28v1m2 6v1m2 6v1m3 9v1m2 6v1m1 3v1m2 8v1m1 4v1m2 19v2m1 30v1"/>
<path stroke="#edf8a3" d="M150 23v1m4 52v1m1 12v1m1 13v2m1 14v3m1-97v1m0 120v26m1-141v1m3 10v1m1 1v1m2 1v1m2-3v1m1-3v1m12-29v1m3 17v1m1 2v1m1 1v1m9 1v1m1-11v1m13-10v1m3 14v1m2 8v1m1 3v1m1 3v1m1 3v1m2 6v1m5 16v1m5 18v1m3 15v1m1 14v2m1 29v2"/>
<path stroke="#eef8a4" d="M150 21v2m1 18v1m1 9v1m1 11v1m1 11v1m1 12v1m1 13v1m1-84v1m0 97v2m1 20v7m1 32v6m1-148v1m4 9v1m2-1v1m3-10v1m12-16v1m1 5v1m4 10v1m3 3v1m1 0v1m2 0v1m1-2v1m1-5v1m1-11v2m12-17v1m5 24v1m5 19v1m3 9v1m2 6v1m3 9v1m4 16v1m1 4v1m1 6v1m1 15v1m1 30v1"/>
<path stroke="#eff9a6" d="M150 19v2m3 41v1m1 11v1m1 12v1m1-76v1m0 87v2m1 13v2m1 17v5m1 26v13m2-138v1m1 2v1m1 1v1m2 1v1m2-3v1m1-3v1m1-6v1m11-24v1m1 7v1m2 9v1m5 8v1m3 2v1m3-5v1m1-10v1m13-12v1m1 4v1m1 4v1m1 4v1m3 12v1m1 3v1m4 13v1m2 6v1m2 6v1m1 2v1m2 6v1m1 3v1m1 4v1m4 32v2m1 29v2"/>
<path stroke="#f0f9a7" d="M150 18v1m1 21v1m1 9v1m1 10v1m1 11v1m1 11v2m1 11v2m1 13v2m1-89v1m0 103v4m1-102v1m0 123v9m1 17v2m4-137v1m16-32v1m2 12v1m2 6v1m1 1v1m2 2v1m6 3v1m2-13v1m1-24v1m17 34v1m3 11v1m2 6v1m2 6v1m2 6v1m3 9v1m4 16v1m1 4v1m1 6v1m1 17v2m1 29v1"/>
<path stroke="#f1f9a9" d="M150 16v2m2 31v1m3 34v1m1-72v1m0 83v1m1-78v1m0 90v2m1 14v3m1 20v6m1-119v1m0 137v7m1-141v1m2 4v1m3 0v1m3-9v1m11-23v1m1 6v1m1 5v1m4 9v1m3 3v1m1 0v1m2 0v1m2-5v1m1-9v2m1-25v3m10-4v1m1 5v1m2 10v1m1 4v1m2 8v1m5 19v1m2 6v1m2 6v1m3 9v1m2 6v1m1 3v1m4 21v1m1 18v1m1 29v2"/>
<path stroke="#f2faaa" d="M150 10v6m1 23v1m2 20v1m1 11v1m1 10v1m1 11v2m1 12v2m1-84v1m0 97v2m1-94v1m0 111v5m1 18v7m2-131v1m3 3v1m2-3v1m1-3v1m2-35v5m13 19v1m5 8v1m3 2v1m2-1v1m1-4v1m1-8v1m1-23v3m12 5v1m3 14v1m3 12v1m1 3v1m8 27v1m5 18v1m1 4v1m1 4v1m1 7v1m1 18v2m1 29v1"/>
<path stroke="#f3faac" d="M152 48v1m1 10v1m1 11v1m2 22v1m1 13v1m1 14v2m1 17v3m1-107v1m0 124v5m1 14v2m3-136v1m2-1v1m3-9v1m1-26v5m10-2v1m1 6v1m1 5v1m2 5v1m1 1v1m2 2v1m5 4v1m4-31v2m17 27v1m3 11v1m2 6v1m2 6v1m2 6v1m3 9v1m1 3v1m1 3v1m4 22v1m1 19v1m1 29v2"/>
<path stroke="#f4faad" d="M151 38v1m3 31v1m1 11v1m1-69v1m0 78v1m1-73v1m0 84v2m1 13v2m1 15v4m1 16v5m1-121v1m0 134v5m1-137v1m1 1v1m2 1v1m2-3v1m1-3v1m1-5v1m1-22v3m10-4v1m1 6v1m2 8v1m3 5v1m3 3v1m1 0v1m4-3v1m1-8v1m1-19v3m10-11v1m1 5v1m2 10v1m1 4v1m2 8v1m5 19v1m2 6v1m2 6v1m3 9v1m4 15v1m2 9v1m1 8v1m1 19v2m1 29v2"/>
<path stroke="#f5fbaf" d="M152 47v1m1 10v1m1 10v1m1 11v1m1 10v1m1 11v2m1-78v1m0 90v2m1-87v1m0 101v2m1 16v4m1 15v4m3-128v1m2-1v1m4-27v3m12 6v1m6 11v1m3 2v1m2-1v1m2-10v1m1-17v2m12-1v1m3 14v1m3 12v1m1 3v1m5 17v1m3 9v1m2 6v1m2 7v1m2 8v1m1 5v1m1 8v1m1 20v1m1 30v1"/>
<path stroke="#f6fbb0" d="M151 37v1m2 19v1m2 22v1m1 10v1m1 11v1m1 13v2m1 14v3m1-97v1m0 111v3m1-111v1m0 124v5m1-127v1m1 1v1m2 1v1m2-3v1m1-3v1m1-5v1m1-17v3m9-19v1m1 9v1m1 6v1m3 10v1m1 1v1m2 2v1m5 4v1m2-4v1m1-7v1m1-16v2m16 17v1m1 3v1m3 11v1m2 6v1m4 13v1m2 6v1m2 6v1m2 8v1m3 19v1m1 20v1m1 30v2"/>
<path stroke="#f7fcb2" d="M152 46v1m2 21v1m1 10v1m1-65v1m0 74v1m1-69v1m0 79v1m1-74v1m0 85v2m1 14v2m1 15v3m1 14v3m1 13v3m2-134v1m2-1v1m4-22v2m9-20v1m7 30v1m4 4v1m1 0v1m2-1v1m1-3v1m1-7v1m1-15v2m10-16v1m1 5v1m2 10v1m1 4v1m7 28v1m2 6v1m2 6v1m6 21v1m2 8v1m1 5v1m1 9v1m1 20v1m1 31v3"/>
<path stroke="#f8fcb4" d="M151 36v1m2 19v1m1 10v1m2 21v1m1 10v2m1 12v1m1-80v1m0 93v2m1-91v1m0 104v3m1 13v4m1 13v3m1-132v1m2 1v1m2-3v1m1-3v1m1-5v1m1-13v2m9-21v1m1 8v1m1 6v1m1 4v1m1 2v1m5 8v1m1 0v1m6-6v1m1-14v2m12-6v1m3 14v1m3 12v1m1 3v1m3 10v1m2 6v1m2 6v1m1 2v1m2 6v1m1 3v1m5 29v1m1 20v2m1 32v3"/>
<path stroke="#f9fcb5" d="M153 55v1m2 22v1m1 9v1m1-66v1m0 75v1m1 12v2m1 13v2m1 14v2m1-101v1m0 114v2m1-114v1m0 127v3m2-127v1m2-1v1m4-19v1m9-21v1m1 8v1m7 21v1m5 4v1m1-1v1m1-3v1m2-18v2m16 12v1m1 3v1m3 11v1m5 17v1m3 9v1m4 15v1m1 4v1m1 5v1m1 10v1m1 21v1m1 34v1"/>
<path stroke="#fafdb7" d="M151 35v1m1 9v1m2 20v1m1 10v1m1-62v1m0 70v1m1 10v1m1-69v1m0 80v1m1-76v1m0 88v2m1 14v2m1 13v3m1 13v3m1-125v1m2 1v1m2-3v1m1-3v1m1-5v1m1-11v1m11-6v1m1 4v1m2 4v1m1 1v1m5 6v1m1 0v1m4-8v1m1-11v1m10-20v1m1 5v1m2 10v1m1 4v1m7 28v1m2 6v1m4 13v1m2 6v1m1 3v1m1 3v1m4 26v1m1 21v1"/>
<path stroke="#fbfdb8" d="M151 34v1m2 19v1m1 10v1m1 10v1m1 9v1m1 9v2m1 11v2m1 12v2m1-84v1m0 97v2m1 13v2m1-108v1m0 120v3m2-120v1m2-1v1m4-18v1m9-22v1m1 8v1m3 13v1m3 5v1m2 2v1m1 0v1m3 2v1m1-1v1m1-3v1m1-6v1m1-11v2m12-10v1m3 14v1m3 12v1m1 3v1m3 10v1m2 6v1m2 6v1m6 22v1m1 4v1m1 5v1m1 11v1m1 21v1"/>
<path stroke="#fcfeba" d="M152 44v1m4 40v1m1-62v1m0 70v1m1-65v1m0 76v1m1 13v1m1 14v2m1-94v1m0 106v2m1 13v2m1 13v2m2-131v1m2-3v1m1-3v1m1-5v1m1-10v1m9-22v1m2 14v1m6 14v1m7 3v1m1-6v1m1-10v1m17 13v1m3 11v1m5 17v1m3 9v1m3 11v1m3 15v1m1 11v2m1 20v2"/>
<path stroke="#fdfebb" d="M151 33v1m2 19v1m1 10v1m1 10v1m1-59v1m1 76v1m1 12v1m1-71v1m0 82v2m1 13v2m1 13v2m1 13v2m1-116v1m0 128v2m1-129v1m2-1v1m4-17v1m10-14v1m1 6v1m1 3v1m8 13v1m1 0v1m1 0v1m1-1v1m3-16v1m10-23v1m1 5v1m2 10v1m1 4v1m2 8v1m5 19v1m2 6v1m4 13v1m2 6v1m1 3v1m2 8v1m1 4v1m2 19v1m1 21v1"/>
<path stroke="#fefebd" d="M151 32v1m1 10v1m1 8v1m1 10v1m1 10v1m1 9v1m1-60v1m0 67v1m1 11v2m1 12v1m1-78v1m0 90v2m1-89v1m0 101v2m1-101v1m0 113v2m1 13v2m2-126v1m2-3v1m1-3v1m1-5v1m1-9v1m9-23v1m4 21v1m1 1v1m1 1v1m4 5v1m5 1v1m1-6v1m1-9v1m12-12v1m3 14v1m3 12v1m4 14v1m2 6v1m2 6v1m8 34v1m1 13v1m1 21v1"/>
<path stroke="#ffffbe" d="M151 31v1m4-22v1m1 7v1m0 64v1m1 8v1m1-61v1m0 71v1m1-67v1m0 78v2m1 13v1m1 13v2m1 13v2m1-111v1m0 123v2m3-124v1m1-2v1m2-7v1m1-9v1m9-23v1m1 7v1m1 6v1m5 11v1m2 2v1m3 3v1m2 0v1m2-7v1m1-9v1m17 11v1m2 7v1m1 3v1m3 10v1m2 6v1m3 9v1m2 7v1m1 3v1m3 16v1m1 13v1m1 21v1"/>
<path stroke="#fffebe" d="M151 30v1m1 11v1m1 8v1m1 10v1m1 10v1m1 8v1m2 20v1m1 12v1m1 13v2m1 13v1m1-96v1m0 108v2m1 13v2m1-122v1m1 0v1m1-1v1m2-5v1m12-26v1m2 9v1m5 9v1m3 3v1m2 1v1m2-2v1m1-5v1m1-9v1m10-25v1m1 5v1m2 10v1m1 4v1m2 8v1m5 19v1m8 27v1m3 12v1m1 4v1m1 7v1m1 13v1m1 21v2"/>
<path stroke="#fffdbc" d="M151 29v1m3 31v1m1-51v1m0 60v1m2-47v1m0 64v1m1-59v1m0 68v1m1 12v1m1-73v1m0 85v1m1-83v1m0 95v2m1 13v1m1-106v1m0 119v1m4-120v1m2-7v1m1-9v1m9-23v1m5 22v1m5 7v1m4 3v1m1-2v1m2-13v1m12-14v1m3 14v1m7 27v1m2 6v1m3 9v1m4 15v1m3 17v1m1 13v1m1 22v1"/>
<path stroke="#fffcba" d="M151 28v1m1 12v1m1 8v1m3-32v1m0 61v1m1 8v1m1 10v1m1-63v1m0 73v2m1 13v1m1 13v1m1 13v2m1 13v2m1-118v1m1 0v1m1-1v1m2-5v1m2-12v1m10-15v1m1 5v1m2 5v1m2 3v1m1 1v1m2 2v1m2 2v1m1 0v1m1 0v1m3-6v1m18 2v1m1 3v1m1 3v1m1 3v1m3 10v1m3 9v1m2 6v1m2 7v1m3 13v1m2 22v1m1 22v1"/>
<path stroke="#fffbb8" d="M151 27v1m3 32v1m1 10v1m2-45v1m0 61v1m1-56v1m0 65v1m1 11v1m1-69v1m0 81v2m1-80v1m0 92v1m1-91v1m0 103v1m1 14v1m4-116v1m1-3v1m1-5v1m1-8v1m9-24v1m8 27v1m2 2v1m4 3v1m1-2v1m1-5v1m1-9v1m1-32v12m10 0v1m2 10v1m1 4v1m2 8v1m5 19v1m4 13v1m4 13v1m3 12v1m2 13v1m1 14v1m1 22v2"/>
<path stroke="#fffab6" d="M151 26v1m2 22v1m2-38v1m0 57v1m1-51v1m0 59v1m2 18v1m1 11v1m1 13v1m1 13v2m1 13v1m1-101v1m0 113v2m1-114v1m1 0v1m1-1v1m1-2v1m13-29v1m2 8v1m9 15v1m1 0v1m3-5v1m1-9v1m1-21v4m9-10v1m12 54v1m2 6v1m3 9v1m4 15v1m2 9v1m1 8v1m1 14v1m1 23v1"/>
<path stroke="#fff8b4" d="M151 25v1m1 14v1m2 18v1m2 19v1m1 8v1m1 9v1m1-59v1m0 69v1m1 13v1m1 13v1m1-87v1m0 100v1m1 13v1m1 14v2m4-130v1m1-5v1m1-8v1m9-24v1m2 13v1m3 7v1m1 1v1m3 4v1m2 2v1m3 2v1m1-2v1m2-12v1m1-18v4m11-2v1m3 14v1m3 12v1m1 3v1m7 24v1m4 14v1m2 8v1m2 14v1m1 14v2m1 22v1"/>
<path stroke="#fff7b2" d="M151 24v1m2 23v1m1 9v1m1 10v1m2-42v1m0 58v1m1-53v1m0 61v1m1 11v1m1-65v1m0 77v1m1-75v1m0 87v1m1 13v2m1-98v1m0 110v1m1 14v1m1-124v1m1-1v1m1-2v1m1-3v1m1-5v1m1-8v1m10-16v1m3 10v1m3 5v1m3 4v1m2 2v1m1 0v1m2-1v1m1-5v1m1-8v1m1-15v2m8-22v1m8 41v1m3 11v1m3 10v1m2 6v1m3 9v1m1 3v1m4 18v1m1 9v1m1 15v1m1 22v2"/>
<path stroke="#fff6b0" d="M151 23v1m1 15v1m3-27v1m1 7v1m0 56v1m2 17v1m1 11v1m1 12v2m1 13v1m1 13v1m1 14v1m1-109v1m0 122v1m2-122v1m1-2v1m11-49v1m1 10v1m8 26v1m3 4v1m3 2v1m2-5v1m1-8v1m1-14v2m9-17v1m1 5v1m2 10v1m1 4v1m2 8v1m5 19v1m3 10v1m7 25v1m4 36v1m1 23v1"/>
<path stroke="#fff5ae" d="M151 21v2m3 34v1m1 10v1m2-40v1m0 56v1m1 8v1m1-55v1m0 65v1m1 12v1m1 14v1m1-83v1m0 95v1m1 14v1m1 14v1m1-121v1m3-4v1m1-5v1m1-8v1m8-35v1m3 23v1m1 2v1m6 11v1m3 4v1m1 0v1m2-1v1m3-23v2m11-7v1m3 14v1m7 27v1m5 16v1m3 11v1m2 8v1m1 5v1m1 9v1m1 16v1m1 23v1"/>
<path stroke="#fff3ac" d="M151 20v1m1 17v1m1 8v1m2 19v1m1 9v1m1 7v1m1-50v1m0 57v1m1 11v1m1-61v1m0 72v1m1-70v1m0 83v1m1 13v1m1-93v1m0 105v2m1-106v1m0 118v2m2-119v1m1-2v1m1-3v1m1-5v1m1-8v1m9-25v1m1 7v1m4 12v1m1 1v1m4 6v1m4 4v1m2-5v1m1-8v1m1-11v1m16 16v1m1 3v1m1 3v1m1 3v1m3 10v1m3 9v1m2 6v1m1 3v1m5 29v1m1 16v1m1 23v2"/>
<path stroke="#fff2aa" d="M151 19v1m1 17v1m2 18v1m1-43v1m1 7v1m2 70v1m1-52v1m0 62v1m1 12v1m1 13v2m1-80v1m0 92v1m1 13v1m1 14v1m3-117v1m1-3v1m1-5v1m1-8v1m1-24v10m7-22v1m5 28v1m3 5v1m1 1v1m3 4v1m2 2v1m1 0v1m1-2v1m1-4v1m1-8v1m1-11v1m8-27v1m12 57v1m4 13v1m6 22v1m2 10v1m1 10v1m1 16v1m1 24v1"/>
<path stroke="#fff1a8" d="M151 17v2m2 27v1m2 19v1m1 9v1m1-47v1m0 53v1m2 19v1m1-58v1m0 69v1m1-67v1m0 79v1m1 14v1m1 13v1m1 14v1m1-116v1m1 0v1m3-7v1m2-40v8m0 10v2m8-13v1m1 7v1m1 4v1m1 2v1m6 11v1m1 1v1m2 2v1m4-2v1m1-8v1m1-11v1m9-21v1m1 5v1m2 10v1m1 4v1m2 8v1m6 23v1m2 6v1m3 9v1m5 20v1m1 6v1m1 10v1m1 16v1m1 24v2"/>
<path stroke="#fff0a6" d="M151 16v1m1 19v1m2 18v1m1-41v1m1 7v1m2 13v1m0 54v1m1 10v1m1 12v1m1 13v1m1 14v1m1-89v1m0 101v1m1-101v1m0 114v1m3-114v1m1-3v1m1-4v1m1-9v1m1-39v6m0 20v2m7-25v1m12 41v1m2 2v1m1 0v1m1-2v1m2-10v1m1-11v1m11-10v1m3 14v1m14 52v1m1 3v1m5 44v1m1 25v2"/>
<path stroke="#feefa3" d="M151 14v2m2 29v1m2 19v1m1 9v1m1-45v1m0 51v1m1 7v1m1-49v1m0 58v1m1 12v1m1 13v1m1-75v1m0 88v1m1 13v1m1 14v1m1-113v1m1 0v1m1-1v1m1-3v1m2-12v1m1-12v1m7-25v1m1 9v1m1 7v1m5 13v1m1 1v1m1 1v1m1 1v1m3 4v1m3 1v1m1-4v1m1-7v1m1-11v1m16 13v1m1 3v1m1 3v1m1 3v1m3 10v1m3 9v1m2 6v1m3 12v1m1 4v1m1 6v1m1 10v1m1 17v1m1 26v2"/>
<path stroke="#feeda1" d="M151 11v3m1 21v1m2 18v1m2 19v1m3 26v1m1-54v1m0 65v1m1-63v1m0 75v1m1 14v1m1-86v1m0 98v1m1-98v1m0 111v1m4-112v1m1-5v1m1-8v1m1-12v1m12 2v1m1 1v1m5 9v1m3 4v1m1 0v1m2-4v1m1-7v1m1-11v1m8-30v1m12 57v1m4 13v1m9 46v1m1 17v1m1 27v3"/>
<path stroke="#feec9f" d="M151 10v1m1 23v1m1 9v1m2-29v1m0 47v1m1-41v1m1 57v1m1-45v1m0 51v1m1 9v1m1 12v1m1 13v1m1 14v1m1 13v1m1 14v1m2-109v1m1-1v1m1-2v1m1-5v1m1-8v1m1-12v1m7-26v1m1 9v1m2 11v1m1 2v1m8 15v1m1 1v1m3 1v1m2-9v1m1-11v1m10-18v1m2 10v1m1 4v1m2 8v1m6 23v1m8 28v1m3 16v1m1 11v1m1 17v2m1 28v3"/>
<path stroke="#feeb9d" d="M154 53v1m2 19v1m1-42v1m1 56v1m1-46v1m0 54v1m1 12v1m1 13v1m1-71v1m0 84v1m1 13v1m1 14v1m1-109v1m2 1v1m2-6v1m2-19v1m9-9v1m8 19v1m1 1v1m3 4v1m1 0v1m2-4v1m2-16v1m9-25v1m14 61v1m3 9v1m2 7v1m3 13v1m1 7v1m1 11v1m1 18v1m1 30v1"/>
<path stroke="#feea9b" d="M152 33v1m3 29v1m2 17v1m1-43v1m1 58v1m1-50v1m0 61v1m1-59v1m0 71v1m1 14v1m1-82v1m0 94v1m1-94v1m0 107v1m2-106v1m2-2v1m1-4v1m1-9v2m1-12v1m7-27v1m1 9v1m6 20v1m1 1v1m1 1v1m3 5v1m4 3v1m1-3v1m1-7v1m1-10v1m11-14v1m3 14v1m2 8v1m1 3v1m1 3v1m1 3v1m3 10v1m5 16v1m3 12v1m3 25v1m1 18v1"/>
<path stroke="#fee999" d="M152 32v1m1 10v1m1 8v1m1-36v1m0 44v1m1-38v1m0 46v1m2 15v1m1 8v1m1 12v1m1 13v1m1 14v1m1 13v1m1 14v1m1-106v1m0 119v1m2-119v1m1-2v1m1-4v1m1-8v1m1-12v1m12-1v1m1 1v1m7 13v1m1 1v1m1 0v1m1-1v1m2-9v1m1-10v1m20 25v1m5 16v1m6 25v1m1 7v1m1 12v1m1 18v1"/>
<path stroke="#fee797" d="M152 31v1m5 1v1m0 46v1m2-36v1m0 50v1m1 12v1m1-56v1m0 68v1m1-67v1m0 80v1m1 13v1m1 14v1m1 14v1m3-118v1m1-4v1m1-8v1m1-12v1m7-28v1m2 16v1m1 3v1m7 15v1m1 1v1m6 3v1m1-6v1m1-10v1m8-34v1m7 37v1m6 23v1m3 9v1m5 18v1m3 18v1m2 31v1"/>
<path stroke="#fee695" d="M152 30v1m1 11v1m1 8v1m1-34v1m0 42v1m1-36v1m0 44v1m2-32v1m0 46v1m2-38v1m0 57v1m1 13v1m1 14v1m1-78v1m0 90v1m1-90v1m0 103v1m1 14v1m1-117v1m1 0v1m2-4v1m1-8v2m1-13v1m8-19v1m3 13v1m5 10v1m3 5v1m1 1v1m2 2v1m1-1v1m1-3v1m1-6v1m1-10v1m10-22v1m2 10v1m1 4v1m10 39v1m3 9v1m2 7v1m2 8v1m3 26v1m1 19v1"/>
<path stroke="#fee593" d="M152 29v1m5 4v1m0 44v1m2 15v1m1 11v1m1 13v1m1 14v1m1 13v1m1 14v1m1-102v1m0 115v1m3-115v1m1-3v1m1-7v2m1-14v1m7-29v1m7 29v1m1 1v1m6 11v1m4-6v1m1-10v1m9-29v1m2 11v1m3 14v1m2 8v1m1 3v1m1 3v1m1 3v1m8 27v1m4 18v1m1 8v1m1 12v1m1 19v1"/>
<path stroke="#fee491" d="M152 27v2m1 12v1m1-32v1m0 39v1m1 9v1m1 9v1m2 15v1m1-41v1m0 47v1m1-44v1m0 54v1m1-52v1m0 64v1m1-63v1m0 76v1m1 13v1m1 14v1m1 14v1m1-114v1m1 0v1m1-1v1m1-3v1m1-6v1m1-14v1m8-20v1m4 15v1m1 1v1m4 8v1m1 1v1m1 1v1m1 1v1m2 2v1m1-1v1m1-3v1m1-5v1m1-10v1m20 22v1m2 6v1m3 9v1m4 15v1m3 19v1m1 12v1m1 19v1"/>
<path stroke="#fee28f" d="M152 26v1m1 13v1m2-22v1m1 7v1m1 50v1m1-38v1m2 63v1m1 13v1m1 14v1m1-74v1m0 86v1m1-86v1m0 99v1m1 14v1m3-111v1m1-3v1m1-6v2m1-15v1m7-30v1m2 15v1m1 3v1m6 13v1m5 9v1m3-1v1m2-14v1m15 1v1m15 57v1m1 5v1m2 22v1m1 19v1"/>
<path stroke="#fee18d" d="M152 25v1m2-15v1m0 37v1m1 9v1m1 9v1m1-35v1m1 49v1m1 7v1m1 10v1m1 12v2m1 14v1m1 13v1m1 14v1m1-98v1m0 111v1m2-110v1m2-2v1m1-5v1m1-15v1m8-21v1m3 12v1m4 8v1m3 6v1m4 6v1m1-1v1m2-7v1m1-9v1m8-38v1m2 12v1m2 10v1m1 4v1m8 32v1m3 9v1m2 6v1m1 3v1m1 3v1m4 24v1m1 13v1m1 19v1"/>
<path stroke="#fee08b" d="M152 24v1m1 14v1m3-12v1m1 48v1m2-31v1m0 44v1m1-41v1m0 50v1m1-48v1m0 59v1m1-58v1m0 72v1m2 28v1m1 14v1m1-110v1m2 1v1m1-2v1m1-5v2m1-16v1m14-2v1m3 6v1m2 3v1m1 1v1m1 1v1m2 1v1m1-3v1m1-5v1m1-9v1m1-20v3m8-15v1m5 26v1m3 12v1m1 3v1m5 17v1m8 33v1m1 9v1m1 13v1m1 19v1"/>
<path stroke="#fede89" d="M152 23v1m2 24v1m1-29v1m0 37v1m1 9v1m2-27v1m0 41v1m2 17v1m1 12v1m1 15v1m1-70v1m0 83v1m1-83v1m0 95v1m1 14v1m2-107v1m2-1v1m1-4v1m1-16v1m7-32v1m2 15v1m4 10v1m3 6v1m6 11v1m2-2v1m1-5v1m1-9v1m1-27v6m0 3v5m10-8v1m5 23v1m3 11v1m1 3v1m2 6v1m7 25v1m1 4v1m3 30v1m1 19v1"/>
<path stroke="#fedc88" d="M152 21v2m1 15v1m1-27v1m2 54v1m1-32v1m0 39v1m2 14v1m1 9v1m1 12v1m1 15v1m1 14v1m1 13v1m1-94v1m0 107v1m1-107v1m2 1v1m2-4v1m1-16v1m8-23v1m4 14v1m3 6v1m2 4v1m1 1v1m1 1v1m1 1v1m1 1v1m2 1v1m2-6v1m1-9v1m1-31v3m0 14v2m14 10v1m10 36v1m3 11v1m3 15v1m1 9v1m1 14v1m1 19v2"/>
<path stroke="#feda86" d="M152 20v1m1 16v1m1 9v1m1-27v1m0 35v1m1-29v1m2 53v1m1-36v1m1 4v1m0 46v1m1-44v1m0 55v1m1-54v1m0 68v1m1 14v1m1 13v1m1 14v1m2-104v1m1 0v1m1-2v1m1-3v1m1-16v2m7-34v1m3 18v1m1 2v1m11 23v1m2-2v1m1-4v1m1-9v1m1-35v3m0 19v1m20 33v1m11 51v1m1 14v1m1 20v1"/>
<path stroke="#fed884" d="M152 19v1m1 16v1m1-24v1m1 42v1m1 9v1m1 8v1m1-33v1m1 46v1m1 8v1m1 12v1m1 15v1m1-66v1m0 79v1m1-79v1m0 91v1m1-91v1m0 104v1m4-102v1m1-3v1m1-15v2m1-25v8m7-9v1m6 18v1m2 4v1m4 8v1m1 1v1m1 1v1m1-1v1m1-2v1m2-12v1m1-38v2m0 23v1m7-30v1m2 12v1m2 10v1m1 4v1m4 17v1m1 3v1m6 20v1m2 6v1m1 3v1m2 8v1m1 4v1m1 6v1m2 25v1m1 20v1"/>
<path stroke="#fed683" d="M152 17v2m2 27v1m1-25v1m1 7v1m1 6v1m1 44v1m1-34v1m0 39v1m1 8v1m1 12v1m1 14v2m1 14v1m1 13v1m1 14v1m1-103v1m1 1v1m1 0v1m1-1v1m1-3v1m1-14v8m1-35v2m0 8v2m6-20v1m2 14v1m4 10v1m2 4v1m2 4v1m1 1v1m1 1v1m4 6v1m2-6v1m1-8v2m1-42v2m0 26v2m8-25v1m2 11v1m3 14v1m2 8v1m3 11v1m4 13v1m9 45v1m1 15v1m1 20v1"/>
<path stroke="#fed481" d="M152 16v1m1 18v1m1-22v1m1 40v1m1 9v1m1 8v1m3-21v1m1 3v1m0 51v1m1-50v1m0 63v1m1 15v1m1 13v1m1 14v1m4-98v1m1-3v1m1-7v3m1-41v3m0 12v2m11 2v1m9 20v1m1 1v1m2-2v1m1-4v1m1-7v1m1-44v1m0 30v1m19 26v1m2 6v1m6 21v1m3 16v1m1 10v1m1 15v1m1 20v2"/>
<path stroke="#fed27f" d="M152 14v2m1 18v1m1 10v1m3-8v1m1 5v1m0 36v1m1 6v1m1 8v1m1 11v1m1 14v1m1-61v1m0 75v1m1-75v1m0 87v1m1-87v1m0 100v1m1-100v1m2 2v1m2-2v1m1-5v1m1-44v2m0 17v2m5-36v1m1 12v1m1 8v1m2 8v1m1 2v1m3 6v1m2 4v1m3 6v1m1 1v1m3 4v1m1-2v1m1-4v1m1-7v1m1-47v2m0 32v1m14 5v1m10 36v1m5 21v1m3 34v1m1 21v1"/>
<path stroke="#fed07e" d="M152 12v2m1 19v1m1-19v1m0 28v1m1-22v1m0 30v1m1-24v1m0 32v1m1 8v1m2-24v1m1 4v1m0 40v1m1 11v1m1 14v1m1 15v1m1 13v1m1 14v1m1 14v1m1-112v1m2 1v1m1-2v1m1-5v2m1-48v2m0 21v1m5-36v1m9 42v1m2 4v1m1 1v1m3 6v1m1 1v1m1 0v1m1-2v1m2-10v1m1-49v1m0 35v1m7-34v1m4 23v1m1 4v1m8 32v1m6 20v1m2 8v1m2 12v1m1 10v1m1 16v1m1 21v2"/>
<path stroke="#fece7c" d="M152 10v2m1 20v1m2 20v1m3-9v1m1 41v1m1 7v1m1-37v1m0 47v1m1-46v1m0 59v1m1 15v1m1 13v1m1 14v1m1 14v1m2-109v1m1 0v1m1-2v1m1-4v1m1-51v2m0 24v1m6-24v1m1 8v1m1 4v1m4 10v1m7 16v1m5 0v1m1-6v1m1-52v2m0 37v1m9-22v1m4 20v1m2 8v1m1 3v1m1 3v1m1 3v1m5 16v1m2 6v1m4 18v1m1 7v1m1 10v1m1 16v1m1 22v1"/>
<path stroke="#fecc7b" d="M153 30v2m1-16v1m0 26v1m1-20v1m1 7v1m0 30v1m1-25v1m0 32v1m1 7v1m3 25v1m1 14v1m1-57v1m0 71v1m1-71v1m0 83v1m1-83v1m0 96v1m1-96v1m0 109v1m1-109v1m1 1v1m3-4v1m1-54v2m0 27v2m5-38v1m6 34v1m4 9v1m2 4v1m1 1v1m2 4v1m1 1v1m1 0v1m1-2v1m1-4v1m1-6v1m1-54v1m0 40v2m8-30v1m2 11v1m9 39v1m3 9v1m5 18v1m4 29v1m1 16v1m1 22v2"/>
<path stroke="#feca79" d="M153 29v1m1 12v1m1 9v1m1 9v1m3-12v1m0 34v1m1-31v1m0 37v1m1 10v1m1 13v2m1 15v1m1 13v1m1 14v1m1 13v2m3-105v1m1-2v1m1-3v1m1-58v3m0 31v1m9-9v1m4 9v1m1 2v1m2 4v1m6 12v1m1-2v1m1-4v1m1-6v1m1-12v1m14 1v1m7 26v1m7 26v1m2 13v1m2 28v1m1 23v2"/>
<path stroke="#fec877" d="M153 28v1m1-12v1m0 23v1m1-17v1m0 25v1m1-19v1m1 6v1m0 30v1m1-26v1m0 32v1m2 13v1m1-34v1m0 43v1m1-42v1m0 54v1m1 15v2m1 13v1m1 14v1m1-93v1m0 105v1m1-105v1m1 1v1m1 0v1m1-2v1m1-3v1m1-62v3m0 35v1m5-39v1m1 11v1m4 19v1m2 4v1m6 14v1m1 1v1m1 2v1m1 1v1m3-3v1m1-6v1m1-12v2m24 36v1m2 7v1m3 14v1m2 19v1m2 42v2"/>
<path stroke="#fdc776" d="M153 27v1m3 33v1m3-10v1m0 32v1m2 17v1m1 13v1m1-52v1m0 66v1m1-66v1m0 79v1m1-79v1m0 92v1m1 13v1m4-101v1m1-3v1m1-66v3m0 39v2m0 11v5m5-56v1m2 19v1m8 23v1m2 4v1m4 9v1m1 0v1m1-2v1m1-3v1m1-6v1m1-11v1m7-40v1m4 23v1m1 4v1m4 17v1m1 3v1m3 10v1m5 16v1m5 27v1m1 11v1m1 16v1m1 26v3"/>
<path stroke="#fdc574" d="M153 10v1m0 14v2m1-9v1m0 21v1m1-15v1m0 23v1m1-17v1m0 25v1m1-20v1m0 28v1m1-24v1m0 30v1m2-22v1m0 34v1m1 9v1m1 13v1m1 15v1m1 14v1m1 14v1m1 13v1m1-102v1m1 1v1m1 0v1m1-1v1m1-3v1m1-23v11m0 5v3m6-47v1m2 12v1m3 8v1m2 4v1m1 2v1m2 4v1m3 6v1m1 2v1m2 3v1m1-2v1m2-8v1m1-11v2m9-29v1m4 20v1m2 8v1m3 11v1m5 16v1m4 15v1m1 4v1m1 5v1m2 20v1m1 16v1m1 28v1"/>
<path stroke="#fdc372" d="M153 11v1m0 12v1m1-6v1m0 19v1m1 9v1m1 9v1m1 9v1m2-17v1m0 30v1m1 6v1m1-31v1m0 39v1m1-38v1m0 49v2m1 15v1m1 14v1m1-76v1m0 89v1m1-89v1m0 101v1m3-97v1m2-3v1m1-5v1m5-59v1m10 43v1m3 6v1m3 7v1m2 0v1m1-4v1m1-5v1m1-10v1m8-36v1m2 11v1m4 19v1m5 19v1m11 48v1m1 12v1m1 16v1"/>
<path stroke="#fdc171" d="M153 12v2m0 8v2m1 14v1m1-12v1m1 7v1m1 6v1m1 5v1m0 28v1m3 22v1m1 12v1m1-47v1m0 62v1m1-62v1m0 75v1m1 13v2m1 13v1m2-97v1m2 0v1m1-2v1m1-5v2m6-49v1m1 7v1m2 7v1m1 2v1m2 4v1m5 12v1m2 4v1m1 2v1m2 3v1m1-1v1m1-4v1m1-5v1m1-10v2m6-52v1m16 75v1m4 14v1m4 24v1m1 12v1m1 16v1"/>
<path stroke="#fdbf6f" d="M153 14v1m0 5v2m1-2v1m0 16v1m1-10v1m0 19v1m1 9v1m1 9v1m3-11v1m0 31v1m1 8v1m1 12v1m1 15v2m1 14v1m1 13v1m1-85v1m0 98v1m1-98v1m2 3v1m1-1v1m1-2v1m1-4v1m5-61v1m6 32v1m2 4v1m1 2v1m2 4v1m2 4v1m3 7v1m1 1v1m1-1v1m1-4v1m1-5v1m1-9v1m12-16v1m9 35v1m3 9v1m1 3v1m4 19v1m3 39v1"/>
<path stroke="#fdbd6d" d="M153 15v5m1 1v1m0 14v1m1 10v1m1-12v1m0 20v1m1-15v1m0 23v1m1 8v1m1-23v1m0 28v1m2-22v1m0 35v1m1-34v1m0 45v1m1 15v1m1-58v1m0 72v1m1-72v1m0 84v1m1 14v1m2-94v1m2 1v1m2-5v1m6-50v1m2 11v1m7 19v1m2 4v1m2 4v1m1 2v1m4 1v1m1-5v1m1-9v1m11-22v1m2 9v1m2 8v1m1 3v1m1 3v1m1 3v1m2 6v1m7 25v1m1 4v1m2 15v1m1 12v1m1 17v1"/>
<path stroke="#fdbb6c" d="M154 22v1m0 12v1m1-7v1m0 16v1m1 9v1m2-8v1m2 39v1m1 7v1m1 11v2m1-43v1m0 56v2m1 14v2m1 13v1m1-82v1m0 94v2m1-95v1m2 3v1m2-2v1m1-3v1m5-62v1m2 18v1m5 15v1m1 2v1m8 20v1m1 1v1m1-1v1m1-3v1m1-5v1m1-9v2m7-48v1m2 12v1m20 86v1m1 9v1m1 12v1m1 17v1"/>
<path stroke="#fdb96a" d="M154 23v1m0 9v2m1-5v1m0 14v1m1-9v1m1 6v1m0 21v1m1 8v1m1-21v1m0 26v1m1-24v1m1 36v1m1 11v1m1 15v1m1 15v1m1-68v1m0 81v1m1 13v1m2-90v1m2 1v1m1-2v1m1-3v1m5-62v1m1 10v1m3 14v1m1 2v1m4 10v1m2 4v1m2 4v1m2 5v1m3 4v1m1-3v1m1-5v1m1-8v1m1-24v5m5-37v1m2 13v1m2 11v1m4 19v1m5 19v1m4 12v1m3 11v1m5 39v1m1 17v1"/>
<path stroke="#fdb768" d="M154 24v3m0 3v3m1-2v1m0 12v1m1-7v1m0 16v1m1 9v1m1-16v1m0 23v1m2 13v1m1-26v1m1 2v1m0 40v1m1 14v2m1-53v1m0 67v1m1 13v2m1-79v1m0 91v1m1-91v1m0 103v2m2-102v1m1 0v1m1-2v1m1-3v1m1-43v10m0 21v6m10-25v1m4 10v1m2 4v1m2 4v1m2 5v1m1 1v1m1 0v1m1-3v1m1-5v1m1-8v1m1-28v3m0 5v5m21 34v1m3 10v1m2 8v1m1 4v1m1 6v1m1 9v1m1 13v1m1 17v1"/>
<path stroke="#fdb567" d="M154 27v3m1 2v1m0 10v1m1-5v1m0 14v1m1-10v1m1 5v1m1 29v1m2 13v1m1 10v1m1-38v1m0 51v1m1 16v1m1-65v1m0 77v1m1 14v1m1 13v1m1-101v1m1 1v1m2-1v1m1-3v1m1-46v2m0 10v4m0 14v3m0 6v2m4-58v1m1 10v1m2 10v1m4 11v1m1 2v1m3 7v1m2 4v1m2 5v1m2 4v1m1 0v1m1-3v1m1-5v1m1-8v1m1-31v2m0 13v3m10-13v1m1 4v1m1 4v1m3 12v1m1 3v1m4 13v1m3 9v1m6 35v1m1 13v1m1 17v1"/>
<path stroke="#fdb365" d="M155 33v1m0 7v2m1 10v1m1-8v1m0 17v1m1 8v1m1-18v1m1 3v1m0 26v1m1 6v1m1 10v1m1 13v2m1-49v1m0 63v2m1 13v1m1-75v1m0 87v2m1-88v1m0 100v1m3-97v1m1-1v1m1-3v1m1-49v2m0 16v14m0 11v2m6-42v1m7 21v1m3 7v1m2 4v1m2 5v1m3 1v2m1-6v1m1-8v2m1-34v1m0 18v3m8-27v1m6 29v1m3 11v1m2 6v1m8 31v1m1 6v1m2 24v1m1 17v2"/>
<path stroke="#fdb163" d="M155 34v3m0 1v3m1-1v1m0 11v1m1 10v1m1-12v1m1 27v1m1 5v1m1-23v1m0 28v1m1-27v1m0 36v1m1 13v1m1 16v1m1-61v1m0 73v2m1 13v1m1 13v2m1-98v1m1 1v1m1 0v1m1-1v1m1-3v1m1-52v2m0 45v1m4-60v1m1 10v1m3 13v1m1 2v1m1 2v1m4 10v1m3 7v1m2 5v1m2 4v1m1 0v1m1-1v1m1-6v2m1-8v1m1-36v1m0 22v2m6-42v1m3 18v1m4 19v1m12 44v1m3 17v1m1 9v1m1 14v1m1 18v1"/>
<path stroke="#fdaf62" d="M155 37v1m1 3v2m0 7v2m1-5v1m0 14v1m1 9v1m1-16v1m1 3v1m2 41v1m1-34v1m0 45v2m1 15v2m1 13v1m1-71v1m0 83v2m1-84v1m0 96v1m3-92v1m2-3v1m1-54v1m0 48v1m11-27v1m1 2v1m3 7v1m3 7v1m2 5v1m2 3v1m1-1v1m1-5v1m1-8v1m1-39v2m0 25v2m5-51v1m2 13v1m11 51v1m4 12v1m4 16v1m3 23v1m1 14v1m1 18v1"/>
<path stroke="#fdad60" d="M156 43v2m0 3v2m1-2v1m0 12v1m1-9v1m0 17v1m1 7v1m1 5v1m1 6v1m1 8v2m1 12v1m1-43v1m0 57v2m1-57v1m0 69v2m1 13v1m1 13v2m1-94v1m1 1v1m2 0v1m1-2v1m1-57v2m0 50v2m4-62v1m3 20v1m6 17v1m3 7v1m3 8v1m2 4v1m2 1v1m1-5v2m1-9v2m1-42v1m0 29v2m11-16v1m13 49v1m3 14v1m1 7v1m2 25v1m1 18v1"/>
<path stroke="#fcaa5f" d="M156 45v3m1 1v1m0 10v1m1-7v1m1 3v1m2 6v1m1 2v1m0 31v1m1-30v1m0 41v2m1 14v2m1 14v1m1-67v1m0 79v2m1-80v1m0 91v2m3-88v1m1-1v1m1-2v1m1-59v1m0 54v1m5-52v1m1 5v1m4 13v1m1 2v1m3 7v1m3 7v1m1 2v1m2 5v1m2 3v1m2-3v1m1-8v1m1-44v1m0 32v2m10-23v1m2 9v1m2 8v1m1 3v1m1 3v1m1 3v1m4 12v1m2 6v1m6 37v1m2 34v1"/>
<path stroke="#fca85e" d="M157 50v2m0 6v2m1 10v1m1 7v1m1-17v1m0 21v1m1 6v1m1 7v1m1 12v1m1-39v1m0 53v1m1-52v1m0 65v2m1 12v2m1-77v1m0 89v1m1-89v1m1 1v1m1 1v1m1-1v1m1-2v1m1-62v2m0 56v1m4-63v1m4 23v1m1 2v1m3 8v1m3 7v1m1 2v1m3 8v1m2 4v1m1 1v1m1-1v1m1-3v2m1-9v2m1-47v1m0 35v1m6-48v1m2 12v1m12 51v1m5 18v1m1 4v1m2 13v1m1 10v1m1 14v1m1 19v2"/>
<path stroke="#fca55d" d="M157 52v6m1-3v1m0 13v1m1-11v1m0 17v1m2 12v1m2 19v2m1 14v2m1 13v2m1-63v1m0 75v1m1 13v2m2-85v1m2 1v1m1-2v1m1-64v1m0 59v1m1-14v5m3-54v1m1 9v1m8 27v1m1 2v1m3 7v1m1 2v1m2 5v1m3 4v1m1-2v1m1-8v2m1-50v1m0 37v2m9-31v1m4 19v1m6 22v1m8 32v1m2 19v1m1 14v1m1 20v1"/>
<path stroke="#fba35c" d="M158 56v1m0 11v1m2-6v1m0 19v1m1-18v1m1 2v1m0 28v1m1-27v1m0 36v1m1-35v1m0 48v2m1-48v1m0 61v1m1 13v2m1-73v1m0 84v2m1-85v1m0 97v1m2-95v1m1 0v1m1-2v1m1-67v2m0 61v1m1-19v4m0 5v3m5-41v1m1 3v1m3 9v1m1 2v1m4 10v1m4 11v1m2 4v1m1 1v1m1 0v1m1-2v1m1-7v2m1-53v1m0 40v2m5-59v1m2 13v1m11 51v1m4 12v1m2 7v1m4 23v1m2 26v1m1 20v1"/>
<path stroke="#fba05b" d="M158 57v1m0 9v1m1-8v1m0 15v1m2 12v1m1 7v1m1 10v1m1 13v2m1 14v2m1-59v1m0 70v2m1 13v1m1-82v1m0 94v2m1-95v1m1 1v1m1 0v1m1-2v1m1-69v1m0 64v1m1-25v5m0 12v2m3-58v1m1 9v1m4 15v1m3 8v1m1 2v1m3 7v1m1 2v1m1 2v1m2 5v1m2 4v1m1 0v1m1-2v1m1-6v2m1-57v2m0 43v1m10-28v1m1 4v1m1 4v1m2 8v1m1 3v1m1 3v1m7 23v1m2 8v1m1 4v1m1 5v1m1 8v1m1 10v1m1 15v1m1 20v2"/>
<path stroke="#fb9d59" d="M158 58v1m0 7v1m2-3v1m0 17v1m1-16v1m1 2v1m0 25v1m1-24v1m0 32v2m1-32v1m0 43v2m1-43v1m0 56v2m1 13v1m1-68v1m0 80v2m1 12v2m3-89v1m1-2v1m1-72v2m0 66v1m1-31v5m0 19v2m7-37v1m6 17v1m5 14v1m2 4v1m2 3v1m1-2v2m1-6v2m1-60v1m0 46v2m17 1v1m4 12v1m8 47v1m1 15v1m1 21v1"/>
<path stroke="#fa9b58" d="M158 59v2m0 4v1m1-5v1m0 13v1m2 12v1m1 6v1m1 9v1m1 13v1m1 15v1m1-54v1m0 66v2m1 12v2m1-78v1m0 89v2m1-90v1m1 1v1m2 0v1m1-74v1m0 69v1m1-36v4m0 26v2m2-76v1m1 14v1m6 28v1m1 2v1m1 2v1m3 7v1m1 2v1m1 2v1m1 2v1m2 5v1m2 4v1m2 1v1m1-5v2m1-63v1m0 49v2m6-56v1m2 12v1m1 5v1m4 19v1m7 25v1m7 30v1m1 8v1m1 11v1m1 15v1m1 21v2"/>
<path stroke="#fa9857" d="M158 61v4m1-3v1m0 11v1m1 6v1m3-8v1m0 29v1m1-28v1m0 39v2m1-39v1m0 52v2m1 12v2m1-64v1m0 75v2m1 13v1m1-87v1m1 1v1m1 0v1m1-1v1m1-77v2m0 71v2m1-47v9m0 32v1m2-76v1m2 23v1m1 4v1m1 3v1m2 6v1m4 11v1m5 14v1m1 2v1m2 4v1m2 3v1m1 0v1m1-4v1m1-12v2m1-20v4m6-35v1m12 54v1m5 17v1m2 9v1m3 27v1m1 15v1m1 22v2"/>
<path stroke="#fa9656" d="M160 65v1m1 2v1m0 18v1m1-17v1m0 22v1m1 8v1m1 12v1m1 14v2m1-50v1m0 62v1m1-61v1m0 73v1m1-73v1m0 85v2m2-83v1m1 0v1m1-1v1m1-81v3m0 75v1m1-51v3m0 42v2m2-77v1m1 13v1m4 21v1m3 9v1m3 7v1m1 2v1m1 2v1m1 2v1m3 8v1m1 2v1m1 1v1m1 1v1m1 0v1m1-4v2m1-67v1m0 54v3m1-28v5m0 4v5m4-54v1m5 31v1m1 4v1m1 4v1m3 12v1m1 3v1m2 6v1m4 12v1m1 3v1m2 8v1m2 11v1m1 8v1m1 12v1m1 15v1m1 23v3"/>
<path stroke="#f99355" d="M159 63v1m0 9v1m1-8v1m0 13v1m2 12v1m1-19v1m0 26v1m1-25v1m0 35v2m1-35v1m0 47v2m1-47v1m0 59v2m1 12v2m1-71v1m0 82v2m1-83v1m2 3v1m1-1v2m1-86v3m0 79v2m1-55v2m0 47v2m2-78v1m1 13v1m6 27v1m2 5v1m1 2v1m5 14v1m1 2v1m3 7v1m1 1v1m1 0v1m1-3v2m1-70v1m0 58v3m1-34v3m0 14v3m13-6v1m14 62v1m2 28v1m1 25v1"/>
<path stroke="#f99153" d="M159 64v1m0 7v1m2-4v1m0 16v1m1-15v1m1 28v1m1 11v1m1 13v2m1 13v2m1-57v1m0 68v2m1 12v2m1-80v1m1 1v1m1 1v1m1 0v1m1-88v1m0 84v1m1-57v1m0 51v1m1-20v7m1-65v1m2 21v1m1 4v1m1 3v1m2 6v1m5 14v1m1 2v1m1 2v1m1 2v1m3 8v1m1 2v1m2 4v1m1 0v1m1-2v1m1-72v1m0 62v3m1-39v2m0 20v2m7-38v1m1 5v1m4 19v1m4 15v1m7 24v1m2 9v1m1 6v1m2 21v1m1 16v1"/>
<path stroke="#f98e52" d="M159 65v1m0 5v1m1-5v1m0 11v1m2 12v1m1-17v1m0 23v1m1-22v1m0 31v2m1-31v1m0 43v1m1-42v1m0 55v1m1-54v1m0 65v2m1-66v1m0 77v2m1 13v1m1-89v1m1 1v1m1 0v1m1-3v2m1-61v2m0 53v2m1-27v5m0 7v5m1-69v1m1 12v1m6 27v1m1 2v1m1 2v1m5 14v1m1 2v1m1 2v1m1 2v1m2 4v1m1 2v1m1 0v1m1-2v2m1-75v1m0 66v2m1-43v2m0 24v3m5-54v1m15 67v1m4 16v1m3 21v1m1 12v1m1 16v1"/>
<path stroke="#f88c51" d="M159 66v5m2-1v1m0 14v1m1-13v1m0 17v1m1 7v1m1 10v1m1 13v2m1 13v2m1 11v2m1-63v1m0 74v2m1-75v1m0 87v2m1-87v1m1 1v1m1 0v2m1-3v2m1-64v1m0 57v2m1-32v3m0 17v3m1-71v1m1 12v1m4 19v1m5 15v1m1 2v1m1 2v1m1 2v1m5 14v1m1 2v1m1 2v1m1 0v2m1-2v1m1-77v1m0 69v3m1-47v1m0 29v2m4-63v1m2 13v1m3 17v1m1 4v1m1 4v1m3 12v1m4 13v1m1 2v1m3 10v1m3 14v1m1 6v1m1 9v1m1 12v1m1 16v1"/>
<path stroke="#f88950" d="M160 68v1m0 9v1m1-8v1m0 12v1m2-8v1m1 2v1m0 28v1m1-27v1m0 38v2m1-38v1m0 50v2m1-50v1m0 61v1m1 13v1m1-72v1m0 84v2m2-82v1m1 1v1m1-2v2m1-68v2m0 60v2m1-37v3m0 23v3m1-73v1m2 19v1m1 4v1m3 10v1m2 6v1m1 2v1m5 14v1m1 2v1m1 2v1m1 2v1m1 2v1m1 2v1m1 2v1m1 1v1m1-2v2m1-80v1m0 73v2m1-50v1m0 32v3m13-15v1m2 7v1m2 6v1m4 12v1m5 26v1m2 22v1m1 16v1"/>
<path stroke="#f8864f" d="M160 69v1m0 7v1m2-4v1m0 15v1m1 7v1m1-18v1m0 26v1m1-25v1m0 35v2m1-35v1m0 47v2m1-47v1m0 58v2m1-59v1m0 70v2m1-70v1m0 81v2m1-82v1m2 4v1m1-1v2m1-71v1m0 64v3m1-42v2m0 29v2m2-62v1m3 15v1m3 10v1m3 8v1m1 2v1m1 2v1m1 2v1m6 18v1m1 2v1m1 1v1m1-1v1m1-5v2m1-53v1m0 36v3m7-48v1m1 5v1m4 19v1m4 15v1m7 24v1m1 4v1m3 22v1m1 13v1m1 16v1"/>
<path stroke="#f7844e" d="M160 70v1m0 5v1m1-5v1m0 10v1m1-9v1m1 2v1m0 18v1m1 9v1m1 11v1m1 14v1m1 12v2m1-56v1m0 67v2m1 12v2m1-79v1m1 1v1m1 2v1m1 0v1m1-74v2m0 68v3m1-47v2m0 33v4m1-78v1m1 12v1m1 6v1m3 11v1m1 3v1m8 24v1m1 2v1m1 2v1m1 2v1m1 2v1m1 3v1m1 2v1m1 1v1m1-1v2m1-84v1m0 78v1m1-55v1m0 40v4m5-65v1m20 90v1m1 7v1m1 9v1m1 13v1m1 16v1"/>
<path stroke="#f7814c" d="M160 71v5m1-3v1m1 15v1m1-11v1m0 16v1m1-15v1m0 22v2m1-22v1m0 31v2m1-31v1m0 43v2m1-43v1m0 54v1m1-53v1m0 64v2m1-65v1m0 76v2m1-76v1m1 1v1m2 3v1m1-76v1m0 73v2m1-51v2m0 39v4m1-81v1m1 12v1m2 10v1m4 14v1m1 2v1m1 2v1m1 2v1m1 2v1m1 2v1m1 2v1m2 6v1m1 2v1m1 2v1m1 2v1m1 3v1m1 2v1m1 1v2m1-1v1m1-86v1m0 80v2m1-58v1m0 45v4m6-62v1m3 17v1m1 4v1m1 4v1m3 12v1m6 19v1m2 7v1m5 33v1m1 13v1m1 16v2"/>
<path stroke="#f67f4b" d="M161 74v1m0 7v1m1-7v1m0 11v1m1 6v1m1 8v1m1 11v1m1-28v1m0 40v2m1-40v1m0 51v2m1 11v2m1-62v1m0 73v2m2-71v1m1 1v1m1 1v1m1-79v2m0 76v2m1-56v3m0 45v4m1-84v1m0 52v7m4-33v1m1 3v1m8 25v1m1 2v1m4 12v1m1 3v1m1 2v2m1 1v1m1-1v2m1-89v1m0 83v2m1-61v1m0 50v3m1-28v8m3-59v1m9 50v1m2 7v1m4 12v1m2 6v1m2 8v1m1 4v1m1 5v1m1 7v1m1 10v1m1 13v1m1 17v1"/>
<path stroke="#f67c4a" d="M161 75v1m0 5v1m1-5v1m1 2v1m0 13v1m1-12v1m0 19v1m1-18v1m0 27v2m1 12v2m1 12v2m1-49v1m0 59v2m1-59v1m0 70v2m1-71v1m1 2v1m1 1v1m1 1v1m1-81v1m0 80v2m1-61v3m0 52v4m1-87v1m0 47v4m0 7v6m1-53v1m1 5v1m4 15v1m2 6v1m1 2v1m1 2v1m1 2v1m1 2v1m2 6v1m1 2v1m1 2v1m1 2v1m1 3v1m1 3v1m1 3v1m1 1v2m1-1v1m1-4v2m1-64v1m0 54v2m1-33v3m0 8v5m6-43v1m1 5v1m4 19v1m5 18v1m1 2v1m8 38v1m2 24v1m1 17v1"/>
<path stroke="#f67a49" d="M161 76v2m0 1v2m1-3v1m0 8v1m1-7v1m1 2v1m0 17v1m1-16v1m0 25v1m1-24v1m0 35v2m1-35v1m0 46v2m1-46v1m0 57v1m1 12v2m1-68v1m0 81v1m2-78v1m1 1v1m1-84v2m0 83v1m1-65v3m0 59v3m1-89v1m0 44v2m0 17v6m3-48v1m1 3v1m3 10v1m6 18v1m3 9v1m1 2v1m1 3v1m1 3v1m1 3v1m1 2v1m1-1v2m1-93v1m0 88v1m1-66v1m0 57v2m1-38v3m0 16v4m4-60v1m5 29v1m6 24v1m6 20v1m3 15v1m2 18v1m1 14v1m1 17v1"/>
<path stroke="#f57748" d="M161 78v1m1 0v1m0 6v1m1 6v1m1 7v1m1 10v1m1-22v1m0 33v1m1-32v1m0 44v1m1-43v1m0 54v2m1-55v1m0 65v2m1-65v1m0 78v2m1-79v1m2 4v1m1-87v2m0 86v1m1-68v2m0 65v2m1-90v1m0 41v2m0 25v15m1-73v1m1 5v1m3 11v1m1 3v1m2 6v1m1 2v1m1 2v1m1 2v1m1 2v1m2 6v1m1 2v1m2 6v1m1 3v1m1 3v2m1 2v2m1 1v2m1-1v1m1-95v1m0 90v2m1-69v1m0 60v2m1-41v1m0 23v4m5-57v1m3 17v1m2 9v1m3 12v1m6 19v1m3 12v1m1 4v1m2 14v1m1 10v1m1 14v1m1 17v2"/>
<path stroke="#f57547" d="M162 80v1m0 4v1m1-4v1m0 9v1m1-8v1m0 14v1m1-13v1m0 21v2m1 11v2m1 12v2m1 11v2m1-52v1m0 62v2m1 13v3m1-76v1m1 1v1m1 2v1m1-90v2m0 89v1m1-71v2m0 69v2m1-91v1m0 38v2m0 42v6m1-78v1m6 24v1m5 15v1m1 2v1m2 6v1m1 2v1m1 3v1m1 3v1m1 4v1m1 3v1m1 2v1m1-1v2m1-4v2m1-8v2m1-45v2m0 28v4m3-75v1m9 50v1m2 7v1m6 19v1m4 20v1m1 8v1m1 10v1m1 14v1m1 18v1"/>
<path stroke="#f57245" d="M162 81v4m1-2v1m0 7v1m1-6v1m0 12v1m1-11v1m0 19v1m1-18v1m0 28v2m1-28v1m0 39v2m1-39v1m0 49v2m1-49v1m0 59v2m1-60v1m0 72v2m1-72v1m1 1v1m1 2v1m1-94v3m0 92v1m1-74v2m0 73v2m1-92v2m0 34v2m0 50v4m2-76v1m1 3v1m1 3v1m1 3v1m1 3v1m2 6v1m1 2v1m1 2v1m1 2v1m2 6v1m1 2v1m1 3v1m1 2v1m1 3v1m1 3v1m1 4v1m1 3v2m1 1v2m1-1v2m1-100v1m0 95v2m1-74v1m0 65v2m1-49v2m0 34v3m6-57v1m1 5v1m4 19v1m6 21v1m1 2v1m5 21v1m3 26v1m1 14v1m1 18v2"/>
<path stroke="#f47044" d="M163 84v2m0 4v1m1-4v1m0 10v1m1-9v1m0 17v1m1-16v1m0 26v1m1-25v1m0 36v2m1-36v1m0 46v2m1-46v1m0 57v1m1-57v1m0 69v2m2-67v1m2-95v3m0 96v1m1-105v1m0 27v2m0 77v1m1-91v1m0 31v2m0 56v2m1-83v1m0 41v4m6-21v1m4 12v1m1 2v1m2 6v1m2 6v1m1 3v1m1 3v2m1 3v2m1 3v1m1 2v1m1 0v1m1-102v1m0 98v2m1-77v1m0 68v2m1-52v1m0 39v3m4-73v1m1 6v1m3 17v1m1 4v1m1 4v1m5 19v1m1 2v1m5 17v1m1 4v1m2 11v1m1 8v1m1 11v1m1 14v1m1 19v1"/>
<path stroke="#f46d43" d="M163 86v4m1-2v1m0 8v1m1 9v1m1 10v2m1-23v1m0 33v2m1-33v1m0 44v1m1 12v2m1-55v1m0 66v2m1-67v1m2 4v1m1-103v5m0 100v1m1-105v3m0 21v3m0 80v1m1-91v1m0 28v2m0 60v2m1-84v1m0 35v5m0 4v8m0 10v20m2-74v1m1 3v1m1 3v1m1 3v1m2 6v1m1 2v1m1 2v1m2 6v1m1 2v1m1 3v1m1 2v1m1 3v1m1 3v1m1 4v1m1 4v1m1 3v2m1 1v2m1-1v2m1-105v1m0 101v1m1-79v1m0 71v2m1-55v1m0 43v2m1-21v5m11-15v1m1 3v1m7 23v1m3 14v1m1 6v1m1 8v1m1 11v1m1 14v1m1 19v2"/>
<path stroke="#f36b43" d="M164 89v1m0 5v2m1-6v1m0 13v2m1-13v1m0 21v2m1 12v1m1 12v2m1-42v1m0 52v2m1 11v3m1-64v1m1 1v1m1 2v1m2-100v3m0 15v3m1-6v2m0 24v2m0 64v1m1-52v3m0 17v10m0 20v3m1-81v1m5 19v1m3 9v1m1 2v1m2 6v1m2 6v1m1 3v1m1 3v2m1 3v2m1 3v2m1 3v1m1 2v2m1-1v2m1-4v2m1-7v2m1-58v1m0 46v3m1-29v5m0 5v4m2-70v1m3 20v1m1 5v1m4 19v1m3 11v1m5 15v1m6 35v1m1 11v1m1 14v1m1 20v2"/>
<path stroke="#f26944" d="M164 90v5m1-3v1m0 11v1m1-10v1m0 19v1m1-18v1m0 29v2m1-29v1m0 39v2m1-39v1m0 49v2m1-50v1m0 60v2m1-60v1m1 1v1m1 2v1m1 1v1m1-100v5m0 6v4m0 87v1m1-89v2m0 19v3m0 67v1m1-85v1m0 29v2m0 53v2m1-10v7m1-75v1m1 3v1m1 3v1m1 3v1m2 6v1m1 2v1m2 6v1m1 2v1m2 6v1m1 3v1m1 3v1m1 4v1m1 4v1m1 4v2m1 2v2m1 2v2m1-1v2m1-110v1m0 105v2m1-84v1m0 76v3m1-62v1m0 50v2m1-34v3m0 14v4m1-82v1m7 45v1m9 33v1m3 11v1m1 4v1m1 5v1m1 6v1m2 21v1m1 14v1m1 21v2"/>
<path stroke="#f06744" d="M165 93v2m0 7v2m1-8v1m0 16v2m1-16v1m0 26v2m1-26v1m0 36v2m1-36v1m0 46v2m1-47v1m0 57v2m1 14v3m1-72v1m2 4v1m1-96v6m0 92v1m1-88v2m0 14v3m0 71v1m1-85v1m0 26v2m0 57v2m1-84v1m0 65v6m0 7v6m5-65v1m3 9v1m2 6v1m1 2v1m1 3v1m1 3v1m1 3v1m1 4v2m1 3v2m1 4v1m1 3v2m1 2v1m1 0v2m1-4v2m1-87v1m0 80v2m1-65v1m0 53v3m1-39v2m0 21v4m3-70v1m1 6v1m3 17v1m2 9v1m3 12v1m3 9v1m1 2v1m7 33v1m1 8v1m1 12v1m1 14v2m1 21v3"/>
<path stroke="#ef6645" d="M165 95v2m0 3v2m1-5v1m0 14v1m1-13v1m0 23v2m1-23v1m0 33v2m1 11v2m1-44v1m0 54v2m1-55v1m0 67v3m2-66v1m1 2v1m1 2v1m1-87v2m0 9v3m0 75v1m1-85v1m0 23v2m0 61v1m1-84v1m0 58v6m0 19v2m1-82v1m1 3v1m1 3v1m1 3v1m2 6v1m1 2v1m1 3v1m1 2v1m2 6v1m1 3v1m1 3v1m1 3v2m1 4v1m1 4v2m1 3v2m1 3v2m1 1v2m1 0v2m1-4v3m1-7v2m1-68v1m0 57v2m1-42v1m0 27v3m2-80v1m3 20v1m1 5v1m4 19v1m1 3v1m3 10v1m4 12v1m1 3v1m2 9v1m1 5v1m2 16v1m1 12v1m1 15v1"/>
<path stroke="#ee6445" d="M165 97v3m1-2v1m0 11v2m1-11v1m0 20v2m1 11v2m1-31v1m0 41v2m1-41v1m0 51v2m1-52v1m0 63v3m1-65v1m1 2v1m1 2v1m2-83v9m0 79v1m1-64v2m0 64v1m1-50v24m0 27v2m1-14v14m4-68v1m2 6v1m2 6v1m1 2v1m1 3v1m2 7v1m1 4v1m1 4v2m1 4v2m1 3v2m1 3v2m1 1v3m1-1v2m1-3v2m1-93v1m0 85v2m1-71v1m0 60v3m1-47v2m0 31v3m1-91v1m7 45v1m5 20v1m7 24v1m3 18v1m1 9v1m1 12v1m1 15v1"/>
<path stroke="#ed6246" d="M166 99v2m0 7v2m1-8v1m0 17v2m1-18v1m0 28v2m1-28v1m0 38v2m1 11v2m1-49v1m0 60v2m1-61v1m1 2v1m2 4v1m2-82v2m0 17v2m0 67v1m1-85v1m0 29v4m0 53v1m1-84v1m0 64v4m0 14v3m1-82v1m1 3v1m1 3v1m2 6v1m2 6v1m1 3v1m1 2v1m1 3v1m1 2v1m1 4v1m1 4v2m1 4v2m1 4v2m1 3v2m1 3v2m1 2v2m1-1v2m1-3v2m1-96v1m0 88v3m1-75v1m0 64v2m1-50v1m0 36v2m1-21v7m2-63v1m1 6v1m3 17v1m2 9v1m8 28v1m5 23v1m1 7v1m1 9v1m1 12v1m1 15v2"/>
<path stroke="#eb6046" d="M166 101v7m1-5v1m0 14v2m1-15v1m0 25v2m1-25v1m0 35v2m1-36v1m0 45v3m1-46v1m0 56v3m1-58v1m2 4v1m1 2v1m1 2v1m1-84v1m0 14v2m0 70v1m1-85v1m0 25v3m0 58v1m1-24v4m0 21v2m1-83v1m0 71v10m1-78v1m2 6v1m2 6v1m1 3v1m2 6v1m2 6v1m1 4v1m1 5v1m1 5v1m1 5v2m1 3v2m1 3v2m1 2v2m1-1v3m1-4v3m1-100v1m0 92v2m1-78v1m0 67v3m1-55v2m0 39v3m1-27v3m0 7v4m4-53v1m1 5v1m4 19v1m1 3v1m1 3v1m4 12v1m3 10v1m1 4v1m1 4v1m2 14v1m1 9v1m1 12v2m1 15v1"/>
<path stroke="#ea5e47" d="M167 104v1m0 11v2m1-12v1m0 22v2m1-22v1m0 32v2m1-33v1m0 42v2m1 12v2m1-54v1m1 1v1m1 2v1m1 2v1m1 2v1m1-84v2m0 9v3m0 73v1m1-85v1m0 22v2m0 62v1m1-85v1m0 53v6m0 27v2m1-17v4m0 10v4m2-78v1m1 3v1m1 2v1m1 3v1m1 3v1m1 2v1m1 3v1m1 2v1m1 3v1m1 4v1m1 5v2m1 4v2m1 5v2m1 3v3m1 2v3m1 1v3m1-1v3m1-4v3m1-104v1m0 95v3m1-82v1m0 71v2m1-58v1m0 44v3m1-32v2m0 14v3m1-77v1m6 37v1m6 23v1m1 2v1m3 9v1m4 20v1m2 18v1m1 13v1m1 15v1"/>
<path stroke="#e95c47" d="M167 105v2m0 6v3m1-9v1m0 19v2m1-19v1m0 29v2m1-30v1m0 39v2m1-40v1m0 50v3m1-51v1m0 63v3m1-65v1m1 2v1m1 2v1m1 2v1m1-83v9m0 77v1m1-85v1m0 19v2m0 65v1m1-85v1m0 42v10m0 35v1m1-85v1m0 63v3m0 18v3m1-84v1m0 75v3m1-75v1m2 6v1m1 3v1m2 6v1m1 3v1m1 2v1m1 3v1m1 4v2m1 5v1m1 5v2m1 5v2m1 4v2m1 3v2m1 2v2m1 0v3m1-4v3m1-8v3m1-86v1m0 74v3m1-62v1m0 48v3m1-101v1m0 64v1m0 19v4m2-73v1m1 6v1m3 17v1m2 9v1m4 15v1m6 20v1m1 4v1m1 4v1m1 6v1m1 7v1m1 10v1m1 13v1m1 15v2"/>
<path stroke="#e85b48" d="M167 107v6m1-5v2m0 14v3m1-16v1m0 26v2m1-27v1m0 36v2m1-37v1m0 46v3m1 13v3m1-61v1m1 2v1m2 5v1m2-81v1m0 15v3m0 68v2m1-86v1m0 30v11m0 46v2m1-86v1m0 58v4m0 24v2m1-85v1m0 68v6m0 3v7m2-78v1m1 3v1m2 6v1m1 3v1m1 3v1m1 2v1m1 3v2m1 4v2m1 4v2m1 5v3m1 4v3m1 3v3m1 2v3m1 1v3m1 0v3m1-4v3m1-111v1m0 102v3m1-11v3m1-66v1m0 52v3m1-41v2m0 24v3m4-62v1m1 5v1m4 19v1m1 3v1m1 3v1m5 15v1m4 18v1m2 14v1m1 10v1m1 13v1m1 16v2"/>
<path stroke="#e75948" d="M168 110v1m0 11v2m1-12v1m0 22v3m1-24v1m0 32v3m1-34v1m0 43v2m1-44v1m0 56v3m1-57v1m2 4v1m1 3v1m1 2v2m1-85v2m0 11v2m0 73v1m1-86v1m0 25v4m0 59v1m1-86v1m0 51v6m0 30v2m1-21v3m0 16v4m1-85v1m1 3v1m2 6v1m1 3v1m1 3v1m1 3v1m1 2v1m1 4v1m1 5v1m1 5v2m1 6v2m1 5v2m1 4v3m1 2v3m1 1v4m1-1v4m1-5v4m1-116v1m0 106v4m1-94v1m0 81v3m1-70v1m0 56v3m1-46v2m0 29v3m1-86v1m0 66v5m5-39v1m1 4v1m8 29v1m2 6v1m4 21v1m1 8v1m1 10v1m1 13v2m1 16v2"/>
<path stroke="#e55749" d="M168 111v4m0 2v5m1-9v1m0 19v2m1-20v1m0 29v2m1-30v1m0 39v3m1-41v1m0 51v4m1-53v1m1 1v1m1 2v1m1 3v1m1 3v1m1-84v11m0 76v1m1-86v1m0 20v4m0 64v1m1-86v1m0 44v6m0 38v1m1-87v1m0 61v3m0 23v2m1-86v1m0 72v12m2-78v1m1 3v1m1 3v1m1 3v1m1 3v1m1 2v2m1 3v2m1 4v2m1 5v2m1 6v2m1 5v3m1 4v3m1 2v3m1 2v3m1 0v3m1-4v4m1-9v4m1-99v1m0 85v3m1-74v1m0 60v3m1-109v1m0 58v1m0 34v3m1-25v3m0 5v5m1-69v1m1 6v1m5 27v1m4 15v1m1 2v1m1 2v1m4 14v1m1 4v1m1 5v1m1 6v1m1 8v1m1 10v2m1 13v1m1 17v2"/>
<path stroke="#e45549" d="M168 115v2m1-3v2m0 14v3m1-17v1m0 26v2m1-27v1m0 36v2m1-37v1m0 47v3m1-48v1m1 1v1m1 2v1m1 3v1m1 3v1m1 3v1m1-86v2m0 15v3m0 69v2m1-87v1m0 36v7m0 45v2m1-88v1m0 55v5m0 28v3m1-88v1m0 66v5m0 12v5m1-86v1m1 3v1m1 3v1m1 3v1m1 3v1m1 3v1m1 3v1m1 4v1m1 5v2m1 5v2m1 6v3m1 5v3m1 4v3m1 2v4m1 1v4m1-1v4m1-4v5m1-126v1m0 115v5m1-105v1m0 89v4m1-79v1m0 64v3m1-54v1m0 38v3m1-91v1m0 60v2m0 13v3m3-58v1m1 5v1m2 10v1m2 8v1m1 3v1m1 3v1m5 15v1m1 3v1m2 9v1m1 5v1m1 6v1m1 8v1m1 11v1m1 13v2m1 17v2"/>
<path stroke="#e3534a" d="M169 116v2m0 9v3m1-13v1m0 22v3m1-24v1m0 32v3m1-34v2m0 42v3m1-44v1m0 57v2m1-58v2m1 1v1m1 3v1m1 3v1m1 3v2m1-86v2m0 9v4m0 74v1m1-87v1m0 27v8m0 54v2m1-89v1m0 50v4m0 36v1m1-88v1m0 62v3m0 22v3m1-88v1m1 3v1m1 3v1m1 3v1m1 3v1m1 3v1m1 3v1m1 4v2m1 5v2m1 5v3m1 6v3m1 5v3m1 4v3m1 3v3m1 2v3m1 0v4m1-3v4m1-131v1m0 121v5m1-16v5m1-85v1m0 68v3m1-114v1m0 54v2m0 42v3m1-35v2m0 18v4m1-75v1m1 6v1m3 17v1m2 9v1m7 24v1m3 11v1m3 18v1m1 8v1m1 11v2m1 13v1m1 18v3"/>
<path stroke="#e2514a" d="M169 118v9m1-9v2m0 17v3m1-20v2m0 27v3m1-29v1m0 37v4m1-40v1m0 51v5m1-54v1m1 1v2m1 2v1m1 3v2m1 3v2m1-86v9m0 79v2m1-88v1m0 21v5m0 64v1m1-89v1m0 44v5m0 41v2m1-89v1m0 57v4m0 28v3m1-90v1m0 71v18m1-86v1m1 3v1m1 3v1m1 3v1m1 3v1m1 3v2m1 4v2m1 5v2m1 6v2m1 7v2m1 6v3m1 4v4m1 2v4m1 1v4m1 0v4m1-3v5m1-137v1m0 127v5m1-116v1m0 99v5m1-91v1m0 72v4m1-64v1m0 47v4m1-40v1m0 24v3m3-64v1m1 5v1m4 19v1m1 3v1m2 6v1m1 2v1m1 2v1m3 10v1m2 9v1m1 5v1m1 7v1m1 8v2m1 11v1m1 13v2m1 19v3"/>
<path stroke="#e1504b" d="M170 120v2m0 12v3m1-15v1m0 23v3m1-25v1m0 33v3m1-35v2m0 44v5m1-48v1m1 2v1m1 2v2m1 3v2m1 3v2m1 2v2m1-89v2m0 14v5m0 70v3m1-91v1m0 37v6m0 48v2m1-90v1m0 52v4m0 35v2m1-91v1m0 65v5m0 18v4m1-89v1m1 3v1m1 3v1m1 3v1m1 3v2m1 3v2m1 4v2m1 5v2m1 6v3m1 6v4m1 5v4m1 4v3m1 3v3m1 2v4m1 0v5m1-3v5m1-9v5m1-122v1m0 105v6m1-98v1m0 77v4m1-69v1m0 52v3m1-100v1m0 55v1m0 28v3m1-20v6m1-59v1m3 17v1m1 4v1m1 4v1m3 11v1m5 15v1m2 8v1m1 5v1m1 5v1m1 7v1m1 9v1m1 11v2m1 13v2m1 20v2"/>
<path stroke="#df4e4b" d="M170 122v12m1-11v2m0 18v3m1-21v2m0 27v4m1-30v1m0 38v5m1-42v2m1 1v2m1 2v2m1 3v2m1 3v2m1 2v3m1-90v4m0 4v6m0 78v2m1-92v2m0 28v7m0 56v3m1-92v1m0 47v4m0 41v2m1-92v1m0 60v4m0 27v3m1-91v1m0 77v10m1-84v1m1 3v1m1 3v1m1 4v1m1 4v2m1 4v2m1 5v2m1 7v2m1 8v3m1 6v3m1 4v4m1 2v4m1 2v5m1 0v5m1-3v7m1-150v1m0 138v7m1-17v6m1-105v1m0 82v6m1-127v1m0 50v1m0 56v4m1-49v1m0 32v4m1-84v1m0 56v3m0 6v5m2-57v1m1 5v1m5 23v1m5 15v1m2 7v1m1 4v1m2 11v1m1 7v1m1 9v1m1 12v2m1 13v2"/>
<path stroke="#de4c4b" d="M171 125v3m0 11v4m1-16v2m0 21v4m1-25v2m0 31v5m1-35v2m0 45v5m1-49v2m1 2v3m1 2v4m1 1v4m1 1v3m1-89v4m0 86v3m1-93v2m0 19v7m0 66v3m1-94v1m0 42v4m0 47v3m1-94v2m0 54v4m0 34v3m1-93v2m0 68v7m0 10v8m1-91v1m1 3v2m1 2v2m1 3v2m1 4v2m1 4v2m1 5v3m1 6v3m1 8v3m1 6v4m1 4v4m1 2v5m1 2v5m1 0v7m1-3v11m1-162v1m0 146v15m1-145v1m0 118v6m1-112v1m0 89v6m1-83v1m0 61v4m1-107v1m0 52v1m0 37v4m1-33v2m0 14v5m1-68v1m3 17v1m1 4v1m1 4v1m1 3v1m2 7v1m1 2v1m1 2v1m1 2v1m2 6v1m3 14v1m1 6v1m1 7v1m1 9v2m1 12v2m1 13v3"/>
<path stroke="#dd4a4c" d="M171 128v11m1-10v3m0 13v5m1-19v3m0 23v5m1-28v3m0 33v9m1-42v5m1 0v6m1 0v5m1 0v5m1-1v5m1-1v5m1-96v3m0 9v7m0 76v4m1-97v2m0 34v6m0 54v4m1-96v1m0 49v4m0 41v4m1-95v1m0 62v5m0 25v4m1-94v2m1 3v1m1 3v1m1 4v2m1 4v2m1 4v2m1 6v2m1 7v3m1 8v4m1 6v4m1 4v4m1 3v4m1 3v5m1 2v8m3-146v1m0 125v10m1-123v1m0 96v6m1-138v1m0 47v1m0 66v5m1-60v1m0 42v3m1-90v1m0 51v2m0 21v4m2-65v1m1 5v1m5 23v1m5 15v1m2 7v1m1 4v1m1 5v1m1 6v1m1 7v2m1 9v2m1 12v2m1 14v3"/>
<path stroke="#dc484c" d="M172 132v13m1-11v5m0 8v10m1-20v9m0 12v12m1-28v12m0 17v13m1-36v14m1-9v15m1-10v15m1-11v14m1-10v12m1-105v9m0 87v10m1-105v2m0 25v7m0 64v9m1-104v2m0 44v3m0 49v8m1-102v1m0 57v4m0 34v7m1-99v1m0 73v23m1-93v1m1 3v2m1 4v2m1 4v2m1 4v3m1 5v3m1 7v4m1 8v3m1 7v4m1 4v4m1 3v6m1 2v9m3-162v1m1 152v10m1-134v1m0 103v7m1-98v1m0 72v6m1-117v1m0 48v2m0 46v4m1-93v1m0 49v1m0 27v4m1-75v1m3 17v1m1 4v1m1 4v1m1 3v1m3 10v1m1 2v1m1 2v1m2 6v1m1 4v1m1 4v1m1 5v1m1 6v2m1 7v2m1 9v2m1 12v2m1 15v3"/>
<path stroke="#da464d" d="M173 139v8m1-1v12m1-4v17m1-9v22m1-16v16m1-11v11m1-8v8m1-6v6m1-5v5m1-108v4m0 11v10m0 80v3m1-105v2m0 37v5m0 60v1m1-102v2m0 51v4m1-53v2m0 65v6m0 23v2m1-94v2m1 3v2m1 4v2m1 4v2m1 5v2m1 6v3m1 8v3m1 8v4m1 7v4m1 4v5m1 4v6m1 5v1m3-164v1m1 16v1m1 123v8m1-152v1m0 44v1m0 79v6m1-75v1m0 52v5m1-49v1m0 32v4m1-27v11m1-56v1m1 5v1m1 5v1m1 4v1m2 8v1m1 3v1m1 2v1m4 12v1m1 3v1m1 4v1m1 4v1m1 5v2m1 6v1m1 8v2m1 9v3m1 11v3m1 15v5"/>
<path stroke="#d9444d" d="M182 80v11m1-10v3m0 29v5m1-34v2m0 45v4m1-47v2m0 58v5m1-61v2m0 77v13m1-87v2m1 4v2m1 4v2m1 5v3m1 6v3m1 8v4m1 8v4m1 7v5m1 4v6m1 4v6m4-165v1m1 16v1m1 12v1m0 119v15m1-166v1m0 42v1m0 86v7m1-129v1m0 45v1m0 58v5m1-102v1m0 46v1m0 37v5m1-83v1m0 48v2m0 11v6m1-61v1m1 5v1m3 14v1m4 14v1m1 2v1m1 2v1m2 7v1m1 4v1m1 4v1m1 6v1m1 6v2m1 8v2m1 10v2m1 12v3m1 17v6"/>
<path stroke="#d8434e" d="M183 84v6m0 13v10m1-27v3m0 38v4m1-41v2m0 52v4m1-54v2m0 67v8m1-72v2m1 4v2m1 4v3m1 5v2m1 7v4m1 8v4m1 8v5m1 7v5m1 5v7m5-163v1m1 16v1m1 12v1m1 11v1m0 94v7m1-135v1m0 43v1m0 64v6m1-62v1m0 43v4m1-86v1m0 45v2m0 19v5m3-54v1m1 4v1m1 4v1m1 3v1m1 3v1m1 2v1m4 12v1m1 4v1m1 4v1m1 4v2m1 5v1m1 7v2m1 8v2m1 10v3m1 12v4"/>
<path stroke="#d7414e" d="M183 90v13m1-14v4m0 30v4m1-35v3m0 45v4m1-48v3m0 59v5m1-62v2m0 80v1m1-77v2m1 5v2m1 5v3m1 8v3m1 9v5m1 8v5m1 7v6m1 6v3m7-137v1m1-29v1m0 39v1m0 102v10m1-102v1m0 71v7m1-114v1m0 43v1m0 48v6m1-47v1m0 26v6m1-71v1m1 5v1m2 10v1m2 8v1m3 9v1m1 2v1m1 2v1m1 3v1m1 4v1m1 4v1m1 5v1m1 5v2m1 7v2m1 8v3m1 10v3m1 13v5"/>
<path stroke="#d63f4f" d="M184 93v7m0 16v7m1-28v3m0 38v4m1-41v2m0 53v4m1-55v3m0 68v9m1-74v2m1 5v2m1 6v3m1 8v4m1 10v4m1 9v6m1 7v9m6-167v1m1 16v1m1-25v1m0 35v1m1 11v1m0 113v12m1-156v1m0 40v1m0 79v8m1-121v1m0 41v1m0 55v6m1-97v1m0 41v2m0 33v6m1-76v1m0 46v6m1-47v1m1 4v1m2 9v1m2 7v1m1 2v1m3 9v1m1 3v1m1 4v1m1 4v1m1 5v1m1 6v2m1 7v2m1 9v2m1 11v4m1 14v6"/>
<path stroke="#d43d4f" d="M184 100v16m1-18v4m0 30v4m1-35v3m0 45v5m1-48v2m0 61v5m1-63v3m1 4v3m1 6v4m1 8v5m1 9v6m1 9v7m7-159v1m1 16v1m1-23v1m1 8v1m0 36v1m1-29v1m0 38v1m0 88v8m1-128v1m0 39v1m0 62v7m1-103v1m0 39v1m0 41v6m1-39v4m0 6v9m2-50v1m1 4v1m1 4v1m1 3v1m2 6v1m1 2v1m1 2v1m1 3v1m1 3v1m1 4v1m1 4v2m1 4v2m1 6v2m1 7v2m1 9v4m1 11v4m1 16v8"/>
<path stroke="#d23a4e" d="M185 102v5m0 20v5m1-28v3m0 38v4m1-41v3m0 53v5m1-55v2m1 5v3m1 7v3m1 10v6m1 9v7m1 9v9m7-169v1m1 16v1m1 12v1m1-25v1m0 34v1m1 10v1m0 97v14m1-103v1m0 70v7m1-109v1m0 37v1m0 48v7m1-88v1m0 39v2m0 19v8m1-63v1m1 5v1m1 4v1m2 8v1m1 2v1m3 9v1m2 7v1m1 4v1m1 5v1m1 5v2m1 6v2m1 7v3m1 10v3m1 12v5"/>
<path stroke="#d0384e" d="M185 107v20m1-20v4m0 30v4m1-34v3m0 45v5m1-48v3m0 61v4m1-60v3m1 7v5m1 11v5m1 11v8m8-160v1m2-3v1m0 31v1m1-23v1m0 32v1m1-26v1m0 35v1m0 112v5m1-146v1m0 36v1m0 78v9m1-81v1m0 56v9m1-96v1m0 36v2m0 29v9m1-71v1m2 10v1m1 3v1m2 7v1m1 2v1m1 2v1m2 6v1m1 4v1m1 4v2m1 4v1m1 6v2m1 6v2m1 8v3m1 10v4m1 13v5"/>
<path stroke="#cd364d" d="M186 111v4m0 21v5m1-27v3m0 37v5m1-40v3m0 52v6m1-53v3m1 9v5m1 11v7m1 12v10m8-171v1m1 17v1m1-19v1m0 29v1m1 10v1m1-24v1m0 33v1m1-27v1m0 34v1m0 88v11m1-128v1m0 34v1m0 66v8m1-103v1m0 34v1m0 40v10m1-80v1m0 41v3m1-40v1m2 9v1m1 3v1m2 6v1m1 2v1m1 2v1m1 3v1m1 4v1m1 5v1m1 4v2m1 6v2m1 6v3m1 8v3m1 11v4m1 14v10"/>
<path stroke="#cb334d" d="M186 115v21m1-19v3m0 28v6m1-32v3m0 43v6m1-44v4m1 10v6m1 12v10m9-160v1m1 17v1m1-17v1m0 27v1m1-20v1m0 29v1m1-22v1m0 31v1m1-25v1m0 32v1m0 100v10m1-137v1m0 32v1m0 75v10m1-112v1m0 31v2m0 51v10m1-89v1m0 34v6m0 3v15m1-54v1m1 4v1m1 4v1m1 3v1m1 2v1m2 6v1m1 2v1m1 3v2m1 3v2m1 4v1m1 5v2m1 6v2m1 7v2m1 9v4m1 11v5m1 19v4"/>
<path stroke="#c9314c" d="M187 120v5m0 17v6m1-23v4m0 32v7m1-34v5m1 11v9m1 13v12m9-173v1m1 17v1m2-6v1m0 27v1m1-20v1m0 29v1m1-23v1m0 30v1m1-25v1m0 30v1m0 86v18m1-99v1m0 63v11m1-68v3m0 24v18m1-71v1m1 4v1m1 4v1m2 6v1m1 2v1m2 6v1m1 4v1m1 4v1m1 4v2m1 5v2m1 6v2m1 7v3m1 10v4m1 12v6"/>
<path stroke="#c72e4c" d="M187 125v17m1-13v6m0 16v10m1-22v11m0 23v11m1-25v16m10-165v1m1 17v1m1-14v1m0 25v1m1-17v1m0 25v1m1-18v1m0 27v1m1-21v1m0 28v1m1-23v1m1 5v1m0 28v1m0 75v17m1-116v1m0 29v1m0 45v13m1-83v1m1 4v1m2 7v1m2 6v1m1 2v1m1 3v1m1 4v1m1 4v2m1 4v2m1 5v2m1 6v3m1 7v3m1 11v4m1 14v12"/>
<path stroke="#c52c4b" d="M188 135v16m1-1v23m1 2v9m11-157v1m1-12v2m0 22v1m1-15v1m0 23v1m1-16v1m0 24v2m1-19v1m0 26v1m1-21v1m0 27v1m1-23v1m0 26v1m0 93v7m1-122v1m0 26v2m0 59v17m1-99v1m0 30v16m0 4v11m1-57v1m1 3v1m1 3v1m1 2v1m1 3v1m1 2v1m1 3v1m1 4v2m1 4v1m1 5v1m1 6v2m1 7v2m1 8v4m1 11v6m1 20v5"/>
<path stroke="#c32a4b" d="M201 25v2m1-9v1m0 20v1m1-13v1m0 21v1m1-14v1m0 22v1m1-16v1m0 24v1m1-19v1m0 24v2m1-21v1m0 24v1m1-20v1m0 24v1m0 78v17m1-115v1m0 25v4m0 16v4m0 11v25m1-81v1m1 3v1m1 3v1m1 2v1m2 6v1m1 3v2m1 4v1m1 4v2m1 4v3m1 5v3m1 6v3m1 9v5m1 12v7"/>
<path stroke="#c1274a" d="M201 24v1m1-6v1m0 18v1m1-11v2m0 18v1m1-12v1m0 20v1m1-14v1m0 21v2m1-17v1m0 22v1m1-18v2m0 21v1m1-18v2m0 20v2m1-18v1m0 22v2m0 60v29m1-109v1m1 3v1m1 3v1m1 2v1m1 2v1m1 3v1m1 4v2m1 3v2m1 4v2m1 5v2m1 6v3m1 6v4m1 10v5m1 14v18"/>
<path stroke="#be254a" d="M201 10v1m0 12v1m1-4v1m0 15v2m1-8v1m0 16v1m1-10v2m0 17v1m1-12v1m0 19v1m1-14v1m0 20v1m1-15v1m0 19v1m1-15v1m0 18v1m1-15v1m0 19v2m1-17v1m0 24v83m1-104v1m1 3v1m1 2v1m1 2v2m1 2v2m1 4v2m1 3v2m1 4v2m1 5v3m1 6v3m1 7v4m1 11v7"/>
<path stroke="#bc2249" d="M201 11v4m0 5v3m1-2v2m0 12v1m1-5v2m0 12v2m1-7v1m0 14v2m1-10v2m0 15v2m1-12v2m0 16v2m1-13v1m0 17v1m1-13v1m0 16v1m1-13v2m0 15v2m1-14v1m0 18v5m1-20v1m0 90v12m1-99v1m1 2v1m1 3v1m1 3v2m1 4v2m1 3v2m1 4v2m1 6v3m1 6v3m1 8v6m1 12v25"/>
<path stroke="#ba2049" d="M201 15v5m1 3v4m0 5v3m1-2v2m0 9v1m1-4v2m0 10v2m1-6v1m0 12v2m1-8v1m0 14v1m1-10v2m0 14v1m1-11v2m0 13v1m1-10v1m0 12v2m1-11v2m0 13v3m1-14v1m0 40v49m1-86v1m0 87v10m1-95v2m1 2v2m1 3v2m1 4v2m1 3v2m1 4v3m1 6v3m1 6v5m1 9v8"/>
<path stroke="#b81e48" d="M202 27v5m1 3v9m1-1v3m0 4v3m1-3v3m0 7v2m1-5v3m0 8v3m1-7v2m0 10v2m1-8v2m0 9v2m1-8v2m0 9v1m1-7v1m0 9v3m1-10v2m0 12v26m1-36v2m0 49v36m1-83v2m0 80v11m1-89v3m1 2v3m1 3v2m1 3v3m1 4v4m1 5v4m1 7v6m1 11v29"/>
<path stroke="#b61b48" d="M204 46v4m1 3v7m1 0v8m1-2v10m1-4v9m1-4v4m0 1v4m1-5v3m0 3v3m1-5v3m0 4v5m1-8v3m0 31v15m1-45v4m0 56v20m1-75v4m0 69v13m1-81v3m0 73v5m1-76v3m1 3v3m1 5v4m1 5v5m1 8v10m0 22v8"/>
<path stroke="#b41947" d="M209 81v1m1 2v3m1 1v4m1 0v31m1-26v8m0 25v23m1-51v4m0 48v17m1-65v3m0 58v12m1-68v3m0 59v11m1-67v5m0 55v7m1-58v5m0 47v6m1-48v8m0 29v11m1-30v22"/>
<path stroke="#b11747" d="M213 105v9m0 4v12m1-24v4m0 22v22m1-45v4m0 38v16m1-53v5m0 42v12m1-51v6m0 37v12m1-46v9m0 24v14m1-34v29"/>
<path stroke="#af1446" d="M213 114v4m1-8v22m1-19v38m1-32v42m1-33v37m1-25v24"/>
</g>
<g fill="none" stroke-width="1.02" shape-rendering="crispEdges" transform="translate(0.5 0)">
<path stroke="#555aa7" d="M252 246v4m1-4v24m1-24v27m1-27v26"/>
<path stroke="#545ca8" d="M250 246v4m1-4v12m1-8v23m1-3v8m1-5v7m1-8v8m1-34v32m1-32v29"/>
<path stroke="#525fa9" d="M123 368v54m1-58v58m1-58v58m1-54v54m1-45v45m1-21v21m120-176v2m1-2v6m1-2v9m1-1v15m1 0v7m1-2v6m1-4v6m1-6v6m1-8v7m1-10v8m1-37v33"/>
<path stroke="#5061aa" d="M121 361v61m1-69v69m1-72v18m1-18v14m1-11v11m1-6v10m1-4v13m1-5v29m1-7v28m1-6v6m116-176v1m1-1v4m1-2v5m1-1v7m1 0v11m1 3v7m1 0v6m1-2v7m1-5v7m0 99v30m1-136v8m0 110v18m1-137v8m1-10v8m1-12v9m1-42v36"/>
<path stroke="#4e63ac" d="M119 368v14m1-31v71m1-78v17m1-21v13m1-13v10m1-8v8m1-4v7m1-2v7m1-1v7m1 0v8m1 2v20m1 1v21m1 0v6m114-176v2m1-1v4m1-1v4m1-1v6m1 0v8m1 3v8m1 2v6m1 0v7m1-2v7m0 74v50m1-129v7m0 59v33m1-98v6m0 62v42m1-111v6m0 83v40m1-131v7m0 123v1m1-134v8m1-14v11m1-47v39"/>
<path stroke="#4d65ad" d="M118 362v21m1-38v23m0 14v40m1-86v15m1-19v12m1-13v9m1-8v8m1-4v6m1-1v5m1 0v5m1 1v5m1 1v6m1 2v8m1 5v16m1 6v15m1 5v1m111-176v1m1-1v3m1-1v4m1-1v3m1 0v4m1 1v6m1 2v8m1 3v6m1 2v7m1 0v6m0 122v1m1-124v6m0 51v17m1-72v7m0 39v13m1-59v7m0 42v13m1-63v7m0 55v21m1-84v6m0 84v33m1-125v5m0 120v1m1-129v6m1-14v10m1-49v43"/>
<path stroke="#4b68ae" d="M118 341v21m0 21v39m1-92v15m1-19v10m1-11v7m1-7v6m1-4v5m1-1v5m1 0v5m1 1v4m1 2v4m1 2v4m1 3v5m1 4v9m1 9v13m1 6v14m110-175v1m1 0v3m1-1v3m1 0v3m1-1v5m1-1v5m1 2v7m1 3v6m1 3v7m1 2v6m1 0v7m0 62v53m1-117v51m1-48v39m1-39v42m1-43v20m0 17v18m1-57v9m0 55v20m1-87v6m0 92v22m1-122v4m1-8v5m1-11v7m1-50v44"/>
<path stroke="#496aaf" d="M117 339v50m1-62v14m1-18v7m1-10v6m1-6v5m1-4v4m1-2v4m1 0v4m1 1v4m1 2v4m1 2v4m1 2v4m1 3v4m1 3v6m1 6v12m1 9v10m1 9v6m108-176v1m1 0v3m1 0v3m1-1v4m1-1v4m1 0v4m1 0v7m1 2v6m1 3v6m1 4v6m1 2v7m1 0v22m0 19v21m4-42v17m1-30v11m0 28v16m1-61v4m0 71v17m1-96v3m0 108v8m1-122v2m1-6v3m1-9v5"/>
<path stroke="#486cb0" d="M116 342v23m1-39v13m0 50v20m1-89v7m1-10v6m1-7v4m1-4v4m1-3v4m1-1v3m1 1v3m1 1v4m1 2v4m1 2v4m1 3v3m1 3v4m1 3v4m1 5v7m1 11v10m1 9v10m108-169v3m1 0v3m1 0v4m1-1v4m1-1v5m1-1v6m1 1v6m1 2v6m1 3v7m1 3v6m1 3v13m0 85v18m1-94v19m5-23v28m1-41v5m0 54v12m1-76v2m0 95v11m1-112v2m1-5v1m1-5v2m1-51v44"/>
<path stroke="#466eb1" d="M116 326v16m0 23v13m1-59v7m0 83v13m1-107v5m1-8v5m1-6v5m1-4v4m1-2v3m1 0v3m1 1v3m1 1v3m1 3v3m1 3v3m1 3v4m1 3v3m1 4v3m1 5v4m1 8v10m1 11v8m1 9v7m106-176v3m1 1v3m1 0v4m1 0v4m1-1v5m1-1v5m1 0v5m1 2v5m1 3v6m1 4v6m1 3v9m1 7v19m0 12v54m7-88v4m0 41v9m1-62v1m0 84v10m1-99v1m1-5v1m1-4v1m1-8v3"/>
<path stroke="#4471b2" d="M115 328v25m1-35v8m0 52v9m1-74v6m1-9v5m1-6v3m1-4v3m1-2v3m1-1v3m1 0v3m1 1v3m1 2v2m1 3v3m1 3v3m1 3v3m1 4v3m1 4v3m1 4v4m1 6v6m1 13v8m1 10v7m105-169v1m1 2v4m1 0v4m1 0v5m1-1v5m1-1v5m1-1v5m1 0v5m1 2v6m1 3v6m1 4v7m1 5v10m0 95v5m1-84v12m7-30v5m0 25v11m1-52v2m0 73v9m1-88v1m0 112v4m1-121v1m1-4v1m1-6v2"/>
<path stroke="#4273b3" d="M115 319v9m0 25v10m1-50v5m0 69v10m1-88v4m1-6v3m1-4v3m1-3v2m1-1v2m1-1v3m1 0v3m1 2v2m1 2v3m1 2v3m1 3v3m1 3v3m1 4v3m1 4v3m1 4v3m1 5v5m1 11v8m1 11v7m1 10v4m104-175v4m1 2v4m1 0v5m1 0v5m1-1v4m1 0v3m1 1v4m1 1v5m1 3v5m1 4v7m1 4v8m1 7v13m0 68v14m8-92v25m1-39v3m0 60v10m1-78v1m0 102v9m1-116v1m1-4v1m1-5v1"/>
<path stroke="#4175b4" d="M114 322v19m1-28v6m0 44v8m1-63v5m0 84v11m1-102v3m1-5v3m1-3v2m1-2v2m1-1v2m1-1v2m1 1v2m1 2v3m1 2v2m1 3v2m1 3v3m1 3v3m1 4v3m1 4v3m1 4v3m1 5v3m1 8v8m1 12v7m1 10v7m103-172v2m1 3v4m1 2v5m1 0v6m1-1v4m1-1v3m1 0v3m1 2v3m1 3v5m1 3v6m1 5v6m1 6v8m1 12v68m9-89v4m0 47v9m1-67v1m0 92v9m1-106v1m1-4v1m1-5v1m1-51v46"/>
<path stroke="#3f77b5" d="M114 315v7m0 19v8m1-41v5m0 58v6m1-72v3m0 100v14m1-119v3m1-4v2m1-2v2m1-2v2m1-1v2m1-1v2m1 1v2m1 1v3m1 2v3m1 3v2m1 3v2m1 4v2m1 4v3m1 4v3m1 4v3m1 5v3m1 6v5m1 14v6m1 11v6m103-163v4m1 3v5m1 2v6m1 0v3m1 0v2m1 0v2m1 1v3m1 2v4m1 4v5m1 4v7m1 4v7m1 7v9m0 83v7m10-104v5m0 31v11m1-57v2m0 79v11m1-96v1m1-4v1m1-5v1m1-6v2"/>
<path stroke="#3d79b6" d="M113 319v10m1-20v6m0 34v7m1-52v4m0 69v5m1-80v3m1-4v2m1-3v2m1-2v2m1-2v2m1-1v2m1-1v2m1 0v3m1 1v2m1 3v2m1 3v3m1 3v2m1 3v3m1 4v2m1 5v2m1 5v2m1 5v3m1 6v3m1 12v7m1 12v5m1 14v3m101-176v2m1 4v5m1 3v6m1 2v4m1-1v3m1-1v2m1 0v2m1 2v2m1 4v3m1 6v5m1 6v6m1 5v7m1 9v15m0 57v11m10-92v31m1-44v3m0 62v14m1-84v2m0 107v8m1-120v1m1-5v1m1-5v2"/>
<path stroke="#3b7cb7" d="M113 312v7m0 10v8m1-32v4m0 47v5m1-60v3m0 78v6m1-88v2m1-4v3m1-3v2m1-2v2m1-2v2m1-1v2m1-1v2m1 0v2m1 2v2m1 2v3m1 3v2m1 3v3m1 3v2m1 4v3m1 4v3m1 4v3m1 4v3m1 6v3m1 8v7m1 13v6m1 13v6m101-171v4m1 5v5m1 4v6m1 0v3m1-1v2m1-1v1m1 1v1m1 3v2m1 5v4m1 7v6m1 6v6m1 6v7m0 90v2m1-75v57m11-91v8m0 37v17m1-68v2m0 86v19m1-111v2m1-6v2m1-5v1m1-51v46"/>
<path stroke="#3a7eb8" d="M113 307v5m0 25v6m1-42v4m0 56v3m1-65v2m0 87v6m1-97v3m1-4v2m1-2v2m1-2v2m1-2v2m1-1v2m1-1v2m1 0v2m1 1v3m1 2v2m1 4v2m1 3v2m1 4v2m1 4v2m1 5v2m1 5v2m1 5v2m1 6v3m1 7v4m1 15v5m1 15v4m101-161v5m1 5v7m1 3v4m1-1v3m1-2v2m1-2v2m1 0v2m1 3v3m1 6v5m1 8v6m1 6v6m1 7v11m0 71v8m12-99v37m1-49v10m0 44v32m1-90v3m0 97v17m1-121v2m1-6v3m1-8v3"/>
<path stroke="#3880b9" d="M79 421v1m33-111v15m1-24v5m0 36v4m1-49v3m0 63v4m1-72v3m0 95v7m1-106v2m1-3v2m1-2v2m1-2v2m1-2v2m1-2v3m1-1v2m1 0v2m1 1v2m1 2v3m1 3v3m1 3v2m1 4v2m1 4v2m1 4v3m1 4v3m1 4v3m1 5v3m1 6v4m1 13v6m1 16v4m100-163v5m1 6v6m1 6v5m1 2v3m1-1v2m1-2v1m1-1v1m1 1v1m1 5v2m1 9v5m1 9v5m1 7v6m1 12v13m0 48v10m13-93v44m1-55v97m1-102v11m0 67v41m1-122v5m1-10v4m1-14v7"/>
<path stroke="#3682ba" d="M79 395v26m1-22v23m1-16v16m1-6v6m30-117v6m0 15v5m1-32v3m0 45v4m1-55v2m0 70v4m1-78v2m0 105v10m1-118v2m1-3v2m1-3v3m1-3v3m1-3v3m1-2v2m1-1v3m1-1v3m1 0v3m1 2v2m1 4v2m1 4v2m1 4v2m1 4v2m1 4v2m1 5v2m1 5v2m1 6v2m1 7v2m1 11v6m1 17v5m100-154v4m1 8v6m1 5v4m1 1v4m1-3v3m1-4v2m1-2v1m1 1v2m1 5v3m1 11v5m1 9v5m1 8v9m0 78v6m1-68v18m0 12v18m15-88v67m1-76v117m1-123v123m1-176v39m0 7v19m0 96v15m16-15v15m1-17v17m1-17v17m1-17v17m1-17v17m1-17v17m1-17v17m1-16v16m1-16v16m1-16v16m1-16v16m1-15v15m1-15v15m1-15v15m1-14v14m1-14v14m1-14v14m1-14v14m1-13v13m1-13v13m1-13v13m1-13v13m1-13v13m1-13v13m1-14v14m1-14v14m1-14v14m1-15v15m1-15v15m1-15v15m1-16v16m1-16v16m1-17v17m1-17v17m1-17v17m1-18v18m1-18v18m1-18v18m1-18v18m1-18v18m1-18v18m1-18v18m1-17v17m1-15v15m1-13v13m1-8v8"/>
<path stroke="#3585bb" d="M79 382v13m1-8v12m1-6v13m1-5v15m1-4v10m10-2v2m1-9v9m1-6v6m17-122v5m0 26v4m1-40v4m0 52v3m1-61v3m0 76v5m1-85v2m0 117v11m1-132v3m1-4v3m1-3v2m1-2v2m1-2v2m1-2v3m1-2v3m1-1v3m1 0v3m1 2v3m1 3v3m1 4v2m1 4v2m1 4v2m1 4v2m1 5v2m1 5v2m1 6v2m1 6v3m1 9v4m1 20v3m100-145v5m1 9v4m1 5v4m1 1v3m1-3v2m1-4v2m1-3v2m1 1v1m1 7v3m1 13v5m1 9v6m1 11v11m0 59v8m1-44v12m18-73v96m1-127v142m14-27v27m1-31v16m1-17v15m1-15v15m1-15v15m1-15v15m1-15v15m1-15v15m1-15v16m1-15v15m1-15v15m1-15v15m1-15v16m1-16v16m1-16v16m1-16v17m1-16v16m1-16v16m1-16v16m1-16v17m1-17v17m1-17v17m1-17v17m1-17v17m1-17v17m1-17v16m1-16v16m1-17v17m1-17v16m1-16v16m1-16v16m1-17v16m1-16v16m1-16v15m1-15v15m1-15v15m1-15v14m1-15v15m1-15v15m1-15v15m1-15v15m1-15v15m1-15v15m1-14v15m1-15v17m1-17v19m1-18v23m1-22v30m1-29v29m1-27v27m1-24v24m1-18v18"/>
<path stroke="#3387bc" d="M79 375v7m1-4v9m1-3v9m1-1v9m1 1v10m1 6v4m8-8v8m1-22v20m1-21v14m1-11v14m1-6v12m10-10v10m1-6v6m4-112v11m1-24v3m0 35v4m1-46v2m0 59v3m1-66v2m0 84v5m1-93v3m1-4v2m1-3v2m1-3v3m1-3v3m1-3v3m1-3v3m1-2v3m1-2v4m1-2v5m1 1v4m1 3v3m1 5v2m1 4v2m1 4v2m1 4v2m1 5v2m1 5v2m1 6v2m1 6v2m1 9v3m1 20v4m99-151v4m1 10v4m1 9v4m1 5v5m1-1v6m1-7v3m1-5v1m1-2v1m1 1v2m1 8v4m1 14v4m1 11v7m0 84v4m1-73v10m0 39v10m20-148v20m1 15v127m12-35v35m1-41v14m1-16v12m1-12v11m1-11v11m1-11v11m1-11v11m1-12v12m1-12v12m1-12v12m1-12v13m1-13v13m1-13v13m1-13v13m1-13v13m1-13v13m1-13v13m1-13v14m1-14v14m1-14v14m1-14v14m1-14v14m1-14v14m1-14v14m1-14v14m1-14v14m1-14v14m1-14v14m1-14v13m1-13v13m1-13v13m1-13v13m1-13v12m1-12v12m1-12v12m1-12v12m1-12v12m1-12v12m1-12v11m1-11v11m1-11v11m1-11v11m1-11v11m1-11v11m1-11v12m1-12v12m1-12v12m1-12v13m1-13v14m1-14v15m1-15v17m1-17v20m1-20v26m1-26v44m1-44v44m1-44v44m1-43v43m1-41v41"/>
<path stroke="#3389bd" d="M79 371v4m1-2v5m1-1v7m1 1v7m1 3v7m1 6v10m8-24v20m1-26v12m1-11v10m1-5v8m1-1v9m1 4v8m8-18v18m1-22v12m1-7v11m1 1v5m3-118v6m0 11v4m1-32v4m0 42v3m1-52v3m0 64v3m1-72v3m0 91v6m1-101v2m1-3v2m1-4v3m1-4v3m1-3v3m1-3v3m1-3v3m1-2v3m1-2v3m1-2v4m1 2v4m1 5v2m1 5v3m1 5v1m1 4v2m1 4v2m1 4v3m1 5v2m1 6v2m1 6v2m1 9v2m1 19v4m99-143v4m0 166v2m1-158v4m0 149v5m1-145v3m1 7v8m1-3v5m1-9v4m1-8v2m1-3v1m1 2v2m1 10v3m1 15v4m1 14v10m0 67v7m1-59v39m20-152v14m1 21v14m1 10v117m10-43v43m1-48v13m1-15v9m1-11v9m1-9v9m1-9v9m1-10v10m1-10v10m1-10v9m1-10v10m1-10v10m1-10v10m1-11v11m1-11v11m1-11v11m1-12v12m1-12v12m1-12v12m1-12v12m1-13v13m1-13v13m1-13v13m1-13v13m1-13v13m1-13v13m1-13v13m1-13v13m1-13v13m1-12v12m1-12v12m1-11v11m1-11v11m1-10v10m1-10v10m1-10v10m1-9v9m1-9v9m1-9v9m1-8v8m1-8v8m1-8v8m1-8v8m1-8v8m1-8v8m1-8v8m1-8v8m1-8v8m1-8v8m1-8v8m1-8v8m1-8v8m1-8v8m1-8v8m1-8v8m1-7v7m1-7v7m1-7v7m1-7v8m1-8v10m1-10v51m1-49v49m1-45v45m1-23v23m1-8v8"/>
<path stroke="#358bbc" d="M79 369v2m1 0v2m1 0v4m1 2v6m1 5v5m1 7v6m7-1v15m1-41v13m1-15v9m1-6v7m1-2v7m1 1v6m1 6v7m7 4v4m1-30v12m1-11v7m1-1v6m1 4v8m3-118v5m0 21v3m1-37v2m0 49v3m1-57v2m0 70v3m1-76v1m0 100v7m1-110v2m1-3v2m1-4v2m1-3v2m1-3v3m1-3v3m1-2v2m1-2v3m1-2v3m1-1v2m1 2v4m1 6v3m1 5v2m1 6v2m1 4v1m1 5v1m1 5v1m1 6v2m1 6v2m1 6v2m1 8v3m1 17v4m1 31v2m98-168v3m0 155v8m1-152v3m0 130v16m1-137v3m0 125v14m1-127v8m1-6v4m1-9v3m1-9v2m1-4v1m1 3v2m1 11v5m1 14v5m1 19v9m0 51v7m22-143v13m1 17v7m9 67v45m1-49v11m1-13v8m1-9v7m1-8v6m1-6v6m1-7v7m1-7v6m1-7v7m1-7v7m1-8v7m1-7v7m1-8v8m1-9v8m1-8v8m1-9v9m1-9v8m1-9v9m1-10v10m1-10v10m1-11v10m1-11v11m1-11v11m1-11v11m1-12v12m1-12v12m1-11v11m1-11v11m1-10v10m1-10v11m1-10v10m1-9v10m1-9v9m1-8v9m1-8v8m1-8v8m1-7v8m1-7v7m1-7v7m1-6v7m1-7v7m1-6v6m1-6v6m1-5v5m1-5v5m1-5v5m1-5v5m1-5v5m1-4v4m1-4v4m1-4v4m1-4v4m1-4v4m1-4v4m1-4v4m1-3v4m1-4v4m1-4v4m1-4v4m1-4v4m1-3v3m1-2v4m1-2v6m1-2v24m1-12v27m1-16v24m1-13v13"/>
<path stroke="#378ebb" d="M79 367v2m1-1v3m1 0v2m1 2v4m1 6v5m1 8v4m1 15v5m6-41v26m1-33v7m1-7v5m1-3v6m1 0v5m1 4v4m1 7v5m7-16v27m1-35v9m1-5v6m1 1v5m1 5v5m3-113v3m0 29v3m1-42v2m0 54v2m1-60v1m0 75v3m1-81v2m0 108v10m1-121v1m1-3v2m1-4v2m1-4v3m1-4v3m1-3v3m1-2v3m1-2v2m1-1v2m1 0v2m1 2v2m1 8v2m1 7v1m1 6v2m1 5v1m1 4v2m1 4v2m1 6v1m1 6v2m1 7v1m1 9v1m1 16v4m1 30v5m97 1v1m1-165v2m0 146v7m1-141v2m0 115v13m1-118v4m0 87v34m1-105v8m0 102v9m1-121v5m1-11v2m1-9v2m1-5v2m1 3v1m1 15v4m1 15v5m0 89v3m1-69v10m0 31v10m22-147v11m1 23v7m1 27v59m7-16v43m1-47v8m0 45v5m1-60v6m1-7v5m1-6v5m1-5v4m1-5v5m1-6v5m1-5v5m1-6v5m1-6v6m1-6v5m1-6v6m1-7v6m1-7v6m1-6v6m1-7v6m1-7v7m1-8v7m1-8v7m1-8v8m1-8v7m1-8v7m1-8v8m1-8v8m1-9v8m1-8v8m1-7v8m1-8v8m1-7v8m1-7v7m1-6v7m1-6v7m1-6v7m1-6v7m1-6v7m1-6v6m1-5v6m1-5v6m1-5v5m1-4v5m1-5v5m1-4v5m1-4v4m1-4v5m1-4v4m1-4v4m1-4v4m1-3v3m1-3v4m1-4v4m1-4v4m1-3v3m1-3v3m1-3v3m1-3v3m1-2v3m1-3v3m1-3v3m1-2v2m1-2v2m1-2v3m1-1v2m1 0v2m1 0v4m1 0v12m1-2v13m1-2v13m1-3v16m1-3v3"/>
<path stroke="#3990ba" d="M79 365v2m1-1v2m1 1v2m1 2v2m1 7v3m1 9v4m1 14v5m6-44v8m1-10v3m1-3v3m1-1v3m1 2v4m1 5v4m1 7v4m1 13v7m6-44v13m1-14v6m1-1v5m1 3v4m1 6v4m1 14v4m1-112v8m1-25v3m0 35v2m1-45v1m0 58v2m1-63v1m0 79v4m1-86v1m0 120v17m1-140v2m1-4v2m1-4v2m1-5v3m1-4v3m1-3v3m1-1v2m1-1v2m1-1v2m1 0v2m1 3v1m1 8v2m1 7v2m1 6v1m1 6v1m1 4v1m1 5v1m1 6v2m1 6v1m1 8v1m1 8v2m1 14v3m1 30v4m97-169v1m0 171v3m1-162v2m0 139v5m1-132v2m0 95v18m1-101v12m0 26v49m1-63v16m0 64v22m1-107v4m1-13v3m1-10v2m1-5v1m1 3v3m1 16v3m1 17v9m0 75v5m1-56v31m22-148v11m1 25v9m1 18v16m0 59v33m6-50v33m1-39v7m0 43v9m1-62v6m1-7v5m1-6v5m1-5v4m1-5v5m1-5v4m1-5v4m1-5v5m1-5v4m1-5v4m1-5v5m1-6v5m1-6v5m1-5v4m1-5v5m1-6v5m1-6v5m1-6v5m1-6v5m1-6v5m1-6v6m1-7v6m1-7v6m1-6v6m1-7v6m1-6v6m1-5v6m1-6v6m1-5v6m1-5v6m1-5v6m1-5v6m1-5v6m1-4v5m1-4v5m1-4v5m1-4v5m1-4v5m1-4v5m1-4v5m1-4v4m1-3v4m1-3v4m1-4v4m1-3v4m1-4v4m1-3v3m1-3v4m1-3v3m1-3v3m1-3v3m1-2v3m1-3v3m1-3v3m1-2v2m1-2v3m1-3v3m1-2v2m1-2v3m1-2v2m1-2v2m1-1v3m1-1v3m1 0v2m1 1v3m1 1v9m1 2v9m1 2v8m1 1v12m1-3v6"/>
<path stroke="#3b92b9" d="M79 363v2m1 0v1m1 1v2m1 2v2m1 5v4m1 9v3m1 14v4m6-42v3m1-4v2m1-2v2m1 0v2m1 2v3m1 5v4m1 8v3m1 12v5m6-42v5m1-4v3m1 1v4m1 4v4m1 7v3m1 13v5m1-114v6m0 8v4m1-31v2m0 40v2m1-48v1m0 61v2m1-66v1m0 84v6m1-93v1m1-3v1m1-3v1m1-4v2m1-6v3m1-4v3m1-3v3m1-1v3m1-1v2m1 0v1m1 1v1m1 3v2m1 7v2m1 8v1m1 7v1m1 5v2m1 4v1m1 5v1m1 6v1m1 7v1m1 7v2m1 8v1m1 14v2m1 30v3m97-164v2m0 166v3m1-157v2m0 134v3m1-125v2m0 73v20m1-71v26m1 2v64m1-81v6m1-16v3m1-11v2m1-6v2m1 4v2m1 17v3m1 23v8m0 62v5m24-141v9m1 22v5m0 108v5m6-63v8m0 33v12m1-57v6m0 59v2m1-68v4m1-5v4m1-5v4m1-4v4m1-5v4m1-4v4m1-5v4m1-5v4m1-4v4m1-5v4m1-5v4m1-5v4m1-5v4m1-5v5m1-6v5m1-6v5m1-6v5m1-6v5m1-6v5m1-6v5m1-6v5m1-6v5m1-6v5m1-5v5m1-6v5m1-5v5m1-4v5m1-5v5m1-4v5m1-4v5m1-4v5m1-4v5m1-3v4m1-3v5m1-4v5m1-3v4m1-3v4m1-3v4m1-3v4m1-3v4m1-3v4m1-3v4m1-3v4m1-3v3m1-3v4m1-3v3m1-2v3m1-3v3m1-2v3m1-3v3m1-3v3m1-2v3m1-3v3m1-2v2m1-2v3m1-2v2m1-2v2m1-1v2m1-2v2m1-1v2m1-2v2m1 0v1m1 0v2m1 0v3m1 0v3m1 0v4m1 3v8m1 4v7m1 3v6m1 1v8m1 0v6"/>
<path stroke="#3d95b8" d="M79 362v1m1 0v2m1 1v1m1 2v2m1 5v2m1 10v3m1 13v4m5-35v29m1-35v3m1-4v3m1-2v2m1 0v2m1 2v2m1 5v3m1 9v3m1 12v3m5-35v26m1-30v2m1-2v3m1 1v3m1 6v2m1 9v2m1 13v3m1-113v4m0 18v2m1-35v2m0 44v3m1-52v1m0 64v3m1-70v1m0 91v6m1-100v1m1-3v1m1-4v2m1-5v2m1-6v2m1-4v3m1-3v3m1 0v2m1 0v2m1 0v2m1 1v1m1 3v1m1 8v1m1 8v2m1 6v2m1 5v1m1 5v1m1 5v1m1 5v2m1 7v1m1 7v1m1 9v1m1 13v2m1 29v3m97-159v1m0 163v2m1-152v2m0 129v3m1-120v1m0 59v13m3-34v6m0 89v11m1-119v2m1-11v2m1-6v1m1 5v2m1 18v3m1 28v7m0 49v6m24-146v10m1 27v4m5 61v27m1-39v6m0 53v7m1-68v4m1-6v5m1-5v4m1-5v4m1-4v4m1-5v4m1-4v4m1-5v4m1-4v3m1-4v4m1-5v4m1-4v3m1-4v3m1-4v3m1-4v3m1-4v3m1-4v3m1-4v3m1-5v4m1-5v4m1-5v4m1-5v4m1-5v4m1-4v3m1-3v3m1-3v2m1-2v2m1-2v3m1-3v3m1-3v4m1-3v4m1-3v4m1-3v4m1-2v4m1-3v4m1-3v4m1-2v4m1-3v4m1-3v4m1-2v3m1-2v3m1-2v3m1-2v3m1-2v3m1-2v3m1-3v3m1-2v3m1-2v3m1-3v3m1-2v3m1-3v3m1-2v2m1-2v3m1-2v2m1-1v2m1-2v2m1-1v2m1-2v2m1-1v2m1-2v2m1-1v2m1-1v1m1 0v2m1 0v1m1 1v1m1 1v2m1 1v2m1 2v5m1 7v5m1 4v6m1 2v5m1 1v7m1 0v6"/>
<path stroke="#3f97b7" d="M79 360v2m1 0v1m1 1v2m1 2v1m1 5v2m1 10v2m1 14v2m5-35v4m0 29v20m1-57v2m1-2v1m1-1v2m1 0v2m1 2v2m1 5v2m1 9v3m1 12v3m5-37v5m0 26v21m1-54v3m1-2v2m1 2v2m1 6v3m1 8v3m1 12v3m1-113v3m0 24v2m1-38v1m0 49v2m1-55v1m0 68v2m1-73v1m0 98v5m1-106v1m1-3v1m1-4v1m1-5v2m1-7v3m1-6v4m1-3v3m1 0v3m1 0v2m1 0v2m1 1v2m1 3v1m1 7v2m1 8v1m1 7v1m1 6v1m1 5v1m1 5v1m1 5v1m1 7v2m1 7v1m1 9v1m1 12v2m1 29v2m97-155v2m0 159v2m1-148v2m0 123v4m1-116v2m0 50v7m3-15v7m0 53v29m1-106v2m1-11v1m1-6v2m1 5v3m1 18v4m1 31v8m0 33v8m24-149v9m1 33v4m1 23v69m4-37v10m0 27v13m1-57v5m0 66v3m1-76v5m1-5v3m1-4v4m1-4v3m1-4v4m1-4v3m1-3v3m1-4v3m1-4v4m1-4v3m1-4v3m1-4v4m1-5v4m1-5v4m1-5v4m1-5v4m1-5v4m1-5v4m1-5v3m1-4v3m1-4v3m1-3v2m1-2v1m1-2v2m1-2v2m1-2v2m1-2v2m1-2v2m1-2v2m1-1v1m1-1v2m1-1v2m1-2v3m1-2v4m1-2v3m1-2v3m1-2v4m1-2v3m1-2v3m1-2v4m1-2v3m1-2v3m1-2v3m1-2v3m1-2v3m1-2v2m1-2v3m1-2v3m1-2v2m1-2v3m1-2v2m1-1v2m1-2v2m1-1v2m1-2v3m1-2v2m1-1v2m1-2v2m1-1v2m1-1v1m1-1v2m1-1v2m1-1v2m1 0v2m1 0v2m1 0v2m1 1v2m1 2v2m1 6v6m1 5v4m1 4v4m1 2v4m1 1v6m1 2v4"/>
<path stroke="#4199b6" d="M79 358v2m1 0v2m1 1v1m1 3v1m1 4v2m1 10v2m1 13v3m5-36v3m1-6v2m1-2v2m1-1v1m1 1v1m1 2v2m1 5v2m1 9v2m1 13v2m5-36v2m1-4v2m1 0v1m1 2v2m1 6v2m1 9v2m1 12v3m1-112v2m0 29v2m1-41v1m0 52v2m1-58v1m0 71v3m1-77v1m0 104v4m1-111v1m1-3v1m1-5v2m1-7v3m1-8v3m1-6v3m1-2v3m1 0v3m1 1v2m1 1v1m1 2v1m1 4v1m1 7v1m1 9v1m1 7v1m1 6v1m1 5v1m1 5v1m1 5v1m1 7v1m1 8v1m1 8v2m1 11v2m1 28v3m97-151v1m0 156v2m1-144v1m0 119v3m1-110v1m0 46v3m3-1v53m1-75v3m1-13v2m1-6v2m1 6v2m1 20v3m0 94v2m1-60v12m0 8v13m24-149v8m1 38v4m1 21v6m0 69v14m4-58v7m0 50v8m1-69v4m1-6v4m1-4v4m1-5v4m1-4v4m1-4v3m1-3v3m1-4v4m1-4v3m1-4v3m1-3v3m1-4v3m1-4v3m1-4v3m1-3v2m1-3v2m1-4v3m1-4v3m1-4v3m1-3v2m1-3v2m1-2v1m1-2v2m1-2v2m1-2v1m1-1v1m1-1v1m1-1v1m1-1v1m1-1v1m1-1v2m1-1v1m1-1v2m1-2v2m1-1v2m1-1v3m1-2v3m1-2v3m1-1v3m1-2v3m1-2v3m1-1v3m1-2v3m1-2v3m1-2v3m1-2v3m1-2v3m1-2v2m1-1v2m1-2v3m1-2v2m1-1v2m1-2v3m1-2v2m1-1v2m1-2v2m1-1v2m1-1v2m1-2v2m1-1v2m1-1v2m1-1v1m1-1v2m1 0v1m1 0v2m1 0v2m1 1v1m1 1v2m1 2v2m1 4v4m1 7v4m1 4v4m1 2v4m1 1v4m1 2v6m1 3v1"/>
<path stroke="#439bb5" d="M79 357v1m1 1v1m1 2v1m1 2v2m1 4v1m1 10v2m1 13v2m5-35v2m1-5v2m1-2v2m1-1v2m1 1v1m1 2v1m1 5v2m1 9v2m1 13v2m5-37v3m1-3v1m1 0v2m1 2v1m1 6v2m1 9v2m1-81v6m0 87v2m1-111v2m0 33v1m1-43v1m0 55v1m1-60v1m0 75v3m1 29v4m2-118v1m1-5v1m1-8v3m1-8v3m1-6v3m1-2v3m1 0v3m1 1v3m1 1v2m1 2v1m1 4v1m1 7v1m1 9v1m1 7v1m3 18v1m1 5v1m1 7v1m1 8v1m1 8v1m1 12v1m1 28v2m97-147v2m0 153v1m1-141v2m0 114v3m1-106v2m0 42v2m4-17v3m1-14v2m1-6v1m1 7v3m1 20v5m0 86v3m1-46v8m25-96v6m1 18v7m0 89v10m3-65v46m1-55v6m0 65v6m1-80v5m1-5v3m1-4v4m1-4v3m1-3v3m1-3v3m1-3v3m1-4v3m1-3v3m1-3v2m1-3v3m1-4v3m1-3v2m1-3v2m1-3v3m1-4v3m1-4v2m1-3v2m1-2v1m1-2v2m1-2v1m1-2v2m1-2v1m1-1v1m1-1v1m1-1v1m1-2v2m1-2v2m1-1v1m1-1v1m1-1v1m1-1v2m1-1v1m1-1v1m1 0v1m1-1v2m1-1v2m1-1v2m1-1v3m1-2v3m1-1v2m1-1v3m1-2v3m1-2v3m1-1v2m1-1v2m1-1v2m1-2v3m1-2v3m1-2v2m1-1v2m1-1v2m1-2v2m1-1v2m1-1v2m1-1v1m1-1v2m1-1v2m1-1v1m1 0v1m1-1v2m1-1v2m1-1v1m1 0v2m1 0v1m1 1v1m1 1v2m1 1v1m1 2v2m1 3v3m1 7v4m1 4v4m1 3v3m1 2v3m1 2v4m1 3v6"/>
<path stroke="#459eb4" d="M79 356v1m1 0v2m1 1v2m1 2v1m1 5v1m1 9v2m1 13v2m1 21v4m4-60v2m1-4v1m1-1v1m1 0v1m1 1v2m1 2v1m1 5v1m1 10v1m1 13v2m1 21v1m3-52v9m1-16v2m1-2v2m1 0v1m1 3v1m1 5v2m1 10v1m1-84v5m0 6v3m0 83v1m1-111v2m0 36v2m1-46v1m0 57v2m1 17v5m1-86v1m0 113v3m1-119v1m1-4v1m1-6v2m1-10v3m1-9v4m1-6v3m1-2v3m1 1v2m1 2v2m1 2v2m1 2v2m1 4v1m1 7v1m1 9v1m1 7v1m1 7v1m1 5v1m1 4v1m1 5v1m1 7v1m1 8v1m1 8v1m1 12v1m1 27v2m97-143v1m0 150v2m1-138v1m0 108v5m1-101v1m0 38v3m4-12v4m1-16v1m1-6v2m1 8v3m1 22v7m0 76v3m26-138v7m1 20v4m0 106v6m1-96v67m1-48v43m1-50v13m0 46v9m1-70v6m0 77v3m1-87v4m1-4v4m1-4v3m1-3v3m1-3v3m1-3v3m1-3v3m1-4v3m1-3v3m1-3v3m1-4v3m1-3v2m1-3v3m1-4v3m1-4v3m1-3v2m1-3v2m1-2v1m1-2v2m1-2v1m1-2v2m1-2v1m1-1v1m1-1v1m1-1v1m1-1v1m1-2v1m1-1v1m1 0v1m1-1v1m1-1v1m1-1v1m1 0v1m1-1v1m1-1v2m1-1v1m1 0v1m1-1v2m1-1v2m1-1v2m1-1v3m1-2v3m1-1v2m1-1v2m1-1v3m1-2v3m1-2v3m1-2v2m1-1v2m1-1v2m1-1v2m1-1v2m1-2v2m1-1v2m1-1v2m1-1v2m1-1v1m1-1v2m1-1v2m1-1v2m1-1v1m1 0v1m1 0v1m1 0v1m1 1v1m1 1v1m1 1v1m1 1v2m1 1v2m1 3v2m1 6v4m1 5v3m1 4v3m1 2v3m1 2v3m1 3v4m1 3v4"/>
<path stroke="#47a0b3" d="M79 354v2m1 0v1m1 2v1m1 3v1m1 5v1m1 8v2m1 14v1m1 20v3m3-51v14m1-21v2m1-4v2m1-2v2m1 0v1m1 1v1m1 3v1m1 5v1m1 9v2m1 12v2m1 19v4m3-55v4m0 9v6m1-23v1m1-1v1m1 1v1m1 3v1m1 5v1m1 10v2m1-86v3m0 14v2m0 79v2m1-112v2m0 40v1m1 13v2m1-65v1m0 84v3m1-90v1m0 117v4m1-124v1m1-4v1m1-7v2m1-11v3m1-9v3m1-5v3m1-2v3m1 1v3m1 2v2m1 2v2m1 3v1m1 5v1m1 7v1m1 9v1m1 7v1m1 7v1m1 5v1m2 10v1m1 7v1m1 7v2m1 8v1m1 11v2m1 25v3m97-140v2m0 146v2m1-135v1m0 101v6m1-95v3m0 33v2m4-5v3m1-18v2m1-6v2m1 9v2m1 27v6m0 67v3m26-144v9m1 25v2m1 15v5m0 67v9m1-74v17m0 43v11m1-69v8m0 68v7m1-82v5m1-5v4m1-4v4m1-3v3m1-3v3m1-3v3m1-3v3m1-3v3m1-3v2m1-2v2m1-3v3m1-3v2m1-3v3m1-3v2m1-3v2m1-2v1m1-2v2m1-2v1m1-2v2m1-2v1m1-1v1m1-2v1m1-1v1m1-1v1m1-1v1m1-1v1m1-1v1m3-1v1m1-1v1m1-1v1m1-1v1m1 0v1m1-1v1m1-1v1m1 0v1m1-1v2m1-1v1m1 0v1m1-1v2m1-1v2m1-1v2m1-1v3m1-1v2m1-1v2m1-1v2m1-1v2m1-1v2m1-1v2m1-1v2m1-1v2m1-1v2m1-2v2m1-1v2m1-1v2m1-1v2m1-1v2m1-1v1m1 0v1m1-1v2m1-1v2m1-1v2m1-1v2m1 0v1m1 0v2m1 0v2m1 0v2m1 1v1m1 2v1m1 3v2m1 5v3m1 6v3m1 4v3m1 2v3m1 2v3m1 2v4m1 2v5m1 2v2"/>
<path stroke="#49a2b2" d="M79 353v1m1 1v1m1 2v1m1 3v1m1 5v1m1 8v1m1 14v2m1 19v2m3-52v4m0 14v5m1-28v2m1-4v2m1-1v1m1 0v2m1 1v1m1 3v1m1 5v1m1 8v2m1 13v1m1 18v3m3-54v3m0 19v5m1-30v2m1-2v2m1 1v1m1 3v1m1 5v1m1 10v1m1-87v3m0 19v2m0 76v1m1-111v1m0 43v2m0 84v4m1-138v1m0 62v2m1-68v1m0 88v3m1-94v1m0 122v4m1-129v1m1-5v2m1-9v3m1-12v3m1-9v3m1-5v3m1-2v3m1 1v3m1 2v3m1 2v2m1 4v1m1 5v1m1 7v1m1 9v1m1 7v1m1 7v1m1 5v1m1 5v1m1 4v1m1 6v2m1 7v1m1 9v1m1 11v1m1 25v2m96 28v1m1-164v1m0 143v2m1-132v1m0 93v7m1-86v12m0 18v3m4 0v3m0 88v11m1-118v2m1-6v1m1 10v3m1 30v5m0 58v4m26-156v15m1 31v3m1 13v4m0 81v8m1-86v4m0 71v7m1-79v3m0 83v6m1-91v3m1-3v3m1-2v2m1-2v3m1-3v3m1-3v3m1-3v3m1-3v3m1-3v3m1-3v3m1-3v2m1-2v2m1-3v2m1-2v2m1-3v2m1-2v2m1-2v1m1-2v2m1-2v1m1-1v1m1-2v2m1-2v1m1-1v1m1-1v1m1-1v1m1-1v1m1-1v1m1-1v1m1-1v1m1-1v1m1-1v1m1-1v1m1-1v1m1 0v1m1-1v1m1-1v1m1 0v1m1-1v1m1 0v1m1 0v1m1-1v1m1 0v1m1 0v1m1 0v1m1 0v2m1-1v2m1-1v2m1-1v2m1-1v2m1-1v2m1-1v2m1-1v2m1-1v2m1-1v1m1 0v1m1-1v2m1-1v2m1-1v2m1-1v2m1-1v2m1-1v1m1 0v1m1 0v1m1 0v1m1 0v2m1 0v1m1 1v1m1 1v1m1 1v2m1 1v2m1 2v2m1 4v3m1 6v3m1 4v3m1 2v3m1 2v3m1 3v2m1 3v3m1 3v4"/>
<path stroke="#4ba4b1" d="M79 351v2m1 1v1m1 2v1m1 3v1m1 5v1m1 7v2m1 13v2m1 18v3m3-53v3m0 23v5m1-35v2m1-3v1m1-1v2m1 0v1m1 2v1m1 3v1m1 5v1m1 8v1m1 13v2m1 17v2m3-53v2m0 27v4m1-36v2m1-1v1m1 2v1m1 3v1m1 5v1m1 9v2m1-88v2m0 24v1m0 73v2m1-111v1m0 46v2m0 80v2m1-135v1m0 65v2m1 22v3m1 30v5m1-135v1m1-5v1m1-10v3m1-13v4m1-9v3m1-5v3m1-3v4m1 1v3m1 3v2m1 3v2m1 4v2m1 5v1m1 7v1m1 9v1m1 7v1m1 7v1m2 11v1m2 11v1m1 8v1m1 9v1m1 11v1m1 24v2m96 29v1m1-162v1m0 141v1m1-129v1m0 81v11m1-67v18m4 6v4m0 46v38m1-105v1m1-6v2m1 11v2m1 33v5m0 49v4m26-161v9m1 43v3m1 12v4m0 93v6m1-95v3m0 82v7m1-89v3m0 92v3m1-97v3m1-2v2m1-2v3m1-2v2m1-2v2m1-2v2m1-2v2m1-2v2m1-2v2m1-2v2m1-2v2m1-2v2m1-2v1m1-2v2m1-2v1m1-1v1m1-2v2m1-2v1m1-1v1m1-1v1m1-2v1m1-1v1m1-1v1m1-1v1m1-1v1m1-1v1m1-1v1m1-1v1m1-1v1m1-1v1m1-1v1m1-1v1m1-1v1m1 0v1m1-1v1m1-1v1m1 0v1m1-1v1m1 0v1m1-1v2m1-1v1m1 0v1m1-1v2m1-1v2m1-1v2m1-1v2m1-1v2m1-1v2m1-1v2m1-1v2m1-1v2m1-1v2m1-1v2m1-1v2m1-1v2m1-1v1m1 0v1m1 0v1m1 0v1m1 0v1m1-1v2m1-1v2m1-1v2m1 0v1m1 0v1m1 1v1m1 1v1m1 1v1m1 1v1m1 2v1m1 3v1m1 4v2m1 6v3m1 4v3m1 3v2m1 3v2m1 3v3m1 2v3m1 3v3m1 2v4"/>
<path stroke="#4ea7b0" d="M79 350v1m1 2v1m1 2v1m1 3v1m1 5v1m1 7v1m1 14v1m1 18v2m3-52v2m0 31v4m1-41v2m1-3v2m1-1v1m1 1v1m1 2v1m1 3v1m1 5v1m1 8v1m1 13v1m1 17v2m3-53v2m0 33v4m1-41v1m1 0v1m1 2v1m1 3v1m1 5v1m1 9v1m1-88v2m0 27v2m0 70v1m1-110v1m0 49v1m0 77v2m1-65v3m1-74v1m0 95v2m1-100v1m0 132v11m1-147v1m1-5v1m1-13v4m1-13v3m1-7v2m3 1v2m1 4v2m1 4v1m1 5v1m1 6v1m1 7v1m1 9v1m1 7v1m1 7v1m1 6v1m1 4v1m1 5v1m1 5v1m1 8v1m1 9v1m1 11v1m1 22v3m96-143v1m0 171v2m1-160v1m0 138v2m1-127v1m0 70v10m5-28v5m0 24v17m1-66v2m1-6v2m1 11v2m1 36v5m0 39v5m27-107v2m1 12v3m0 103v6m1-104v3m0 92v6m1-98v3m1-1v2m1-1v2m1-2v2m1-1v2m1-2v2m1-2v2m1-2v2m1-1v1m1-1v1m1-2v2m1-2v2m1-2v2m1-2v2m1-2v1m1-2v2m1-2v2m1-2v1m1-1v1m1-1v1m1-1v1m1-2v1m1-1v1m1-1v1m1-1v1m1-1v1m1-1v1m1-1v1m1-1v1m1-1v1m1-1v1m1-1v1m1-1v1m2 0v1m1-1v1m2 0v1m1-1v1m1 0v1m1-1v1m1 0v1m1 0v1m1-1v1m1 0v1m1 0v1m1-1v2m1-1v2m1-1v2m1-1v2m1-1v2m1-1v2m1-1v2m1-1v2m1-1v2m1-1v2m1-1v2m1-1v2m1-1v2m1-1v2m1-1v2m1-1v1m1 0v1m1 0v1m1 0v2m1 0v1m1 0v2m1 1v1m1 1v1m1 1v1m1 2v1m1 2v2m1 4v1m1 5v3m1 5v2m1 4v2m1 3v2m1 3v2m1 3v2m1 3v3m1 2v3m1 2v2"/>
<path stroke="#50a9af" d="M79 349v1m1 1v2m1 2v1m1 3v1m1 5v1m1 7v1m1 14v1m1 18v1m3-53v3m0 37v4m1-47v2m1-2v1m1 0v1m1 1v1m1 2v1m1 3v1m1 5v1m1 7v2m1 13v1m1 17v1m3-53v2m0 39v4m1-47v2m1 0v1m1 2v1m1 3v1m1 5v1m1-63v2m0 70v1m1-89v2m0 31v1m0 68v1m1-58v2m0 73v2m1-132v1m0 71v2m1 22v2m1-103v1m1-4v1m1-6v2m1-16v4m1-13v4m4-4v3m1 4v2m1 4v2m1 4v2m1 6v1m1 7v1m1 9v1m2 15v1m1 6v1m2 10v1m1 5v1m1 8v1m1 9v1m1 11v1m1 21v2m96-139v1m0 169v1m1-157v2m0 134v2m1-124v1m0 62v7m5-13v24m1-47v2m1-6v1m1 12v2m1 39v6m0 27v6m27-105v3m1 11v3m1 5v3m0 101v3m1-103v2m1-1v3m1-2v3m1-2v2m1-1v2m1-2v2m1-2v2m1-1v1m1-1v2m1-2v2m1-2v1m1-1v1m1-1v1m1-2v2m1-2v2m1-2v1m1-1v1m1-1v1m1-1v1m1-1v1m1-2v2m1-2v1m1-1v1m1-1v1m1-1v1m1-1v1m1-1v1m1-1v1m1-1v1m1-1v1m1-1v1m1-1v1m1-1v1m1 0v1m1-1v1m1-1v1m1 0v1m1-1v1m2 0v1m2 0v1m1 0v1m1-1v1m1 0v1m1 0v1m1-1v1m1 0v1m1 0v1m1 0v1m1-1v2m1-1v2m1-1v2m1-1v2m1-1v2m1-1v2m1-1v2m1 0v1m1 0v1m1 0v1m1 0v1m1 0v1m1 0v1m1 0v1m1 0v1m1 0v2m1 0v1m1 1v2m1 0v2m1 1v1m1 1v2m1 2v1m1 4v2m1 4v2m1 5v3m1 3v3m1 2v3m1 2v3m1 2v3m1 2v3m1 2v3m1 2v3m1 1v1"/>
<path stroke="#52abae" d="M79 347v2m1 1v1m1 3v1m2 9v1m1 7v1m1 13v2m1 17v2m3-54v2m0 44v5m1-54v2m1-2v2m1 0v1m1 1v1m1 2v1m1 3v1m1 5v1m1 7v1m1 13v2m1 16v2m3-54v2m0 45v4m1-52v1m1 1v1m1 2v1m1 3v1m1 5v1m1-67v5m0 2v4m0 65v1m1-89v1m0 34v1m0 66v1m1-109v1m0 53v2m0 69v2m1-56v3m1-80v1m0 100v2m2-109v1m1-9v4m1-18v4m6-5v3m1 4v2m1 5v1m1 7v1m1 7v1m1 9v1m1 8v1m1 6v1m1 6v1m1 5v1m1 4v1m1 5v1m1 8v1m1 9v1m1 10v2m1 20v2m96-136v1m0 167v1m1-154v1m0 131v2m1-121v1m0 56v5m6-27v2m1-7v2m1 12v2m1 43v9m0 9v9m27-104v5m1 12v2m1 5v3m1 1v3m1-1v2m1-1v2m1-1v2m1-1v2m1-2v2m1-1v1m1-1v2m1-2v2m1-2v2m1-2v2m1-2v2m1-2v2m1-2v1m1-1v1m1-1v1m1-1v1m1-1v1m1-1v1m1-1v1m1-2v1m1-1v1m1-1v1m1-1v1m1-1v1m1-1v1m1-1v1m1-1v1m1-1v1m1-1v1m1-1v1m3 0v1m1-1v1m1-1v1m1 0v1m1-1v1m1 0v1m1-1v1m1 0v1m1-1v1m1 0v1m1-1v1m1 0v1m1 0v1m1-1v1m1 0v1m1 0v1m1-1v2m1-1v1m1 0v1m1 0v1m1 0v1m1 0v1m1 0v1m1 0v1m1 0v2m1-1v2m1-1v2m1-1v2m1-1v2m1-1v2m1 0v1m1 0v1m1 0v1m1 1v1m1 1v1m1 1v1m1 2v1m1 1v1m1 3v1m1 3v2m1 4v2m1 5v2m1 4v2m1 3v2m1 3v2m1 3v2m1 3v2m1 2v3m1 2v3m1 1v3"/>
<path stroke="#54aead" d="M79 346v1m1 2v1m1 3v1m1 4v1m2 12v1m1 13v1m1 18v1m3-54v2m0 51v6m1-61v1m1-1v1m1 0v2m1 1v1m1 2v1m2 9v1m2 21v1m1 17v1m2-46v8m1-16v2m0 51v5m1-58v1m1 1v1m1 2v1m3-59v3m0 11v2m0 62v1m1-90v2m0 36v2m0 63v1m1-109v1m0 56v1m0 67v1m1-129v1m0 77v2m1-83v1m0 103v2m1-108v1m1-5v1m1-12v4m1-18v4m6-3v2m1 5v2m1 5v2m1 7v1m1 7v1m1 9v1m1 8v1m1 6v1m2 12v1m3 19v1m1 9v1m1 10v1m1 19v3m96-133v1m0 165v1m1-152v1m0 128v2m1-118v1m0 52v3m6-20v2m1-7v2m1 12v3m0 95v2m1-48v9m27-100v5m1 15v2m1 5v2m1 2v2m1 0v2m1 0v1m1-1v2m1-1v2m1-1v1m1-1v2m1-2v2m1-2v2m1-1v1m1-1v1m1-1v1m1-1v1m1-1v1m1-1v1m1-1v1m1-1v1m1-1v1m1-1v1m1-1v1m12-1v1m1-1v1m1-1v1m1-1v1m2 0v1m1-1v1m1 0v1m1-1v1m1 0v1m1-1v1m1 0v1m1-1v1m1 0v1m1 0v1m1-1v1m1 0v1m1-1v2m1-1v1m1 0v1m1 0v1m1-1v2m1-1v2m1-1v2m1-1v2m1-1v2m1-1v2m1 0v1m1 0v1m1 0v1m1 0v1m1 0v1m1 0v2m1 0v1m1 0v1m1 1v1m1 1v1m1 1v1m1 2v1m1 1v1m1 3v1m1 3v1m1 4v2m1 5v2m1 4v2m1 3v2m1 3v2m1 3v2m1 2v3m1 2v2m1 2v3m1 1v3m1 0v4"/>
<path stroke="#56b0ad" d="M79 345v1m1 2v1m1 3v1m1 4v1m1 5v1m2 20v1m1 17v2m3-55v2m0 59v12m1-75v2m1-2v2m1 0v1m1 2v1m1 2v1m1 4v1m2 13v1m1 12v1m1 16v2m2-50v5m0 8v4m1-22v2m0 58v11m1-70v1m1 1v1m1 2v1m1 4v1m1 5v1m1-71v2m0 16v2m0 59v1m1-90v1m0 40v1m0 61v1m1-50v2m0 63v2m1-48v1m1 22v2m1-111v1m1-5v1m1-16v5m1-15v1m6-1v2m1 6v1m1 6v1m1 7v2m1 7v1m1 9v1m1 8v1m2 14v1m2 10v1m1 5v1m1 7v1m1 9v1m1 10v1m1 18v2m96-129v1m0 163v1m1-150v1m0 125v2m1-115v2m0 48v2m6-15v2m1-7v2m1 13v2m0 91v2m28-142v5m1 18v2m1 4v3m1 1v3m1 0v2m1 0v2m1-1v1m1-1v2m1-1v2m1-2v2m1-1v1m1-1v1m1-1v2m1-2v2m1-2v2m1-2v2m1-2v2m1-2v2m1-2v2m1-2v2m1-2v2m1-2v2m1-1v1m1-1v1m1-1v1m1-1v1m1-1v1m1-1v1m1-1v1m1-1v1m1-1v1m1-1v1m1-1v1m1-1v1m1-1v1m1-1v1m1-1v1m2 0v1m1-1v1m2 0v1m1-1v1m1 0v1m1-1v1m1 0v1m1-1v1m1 0v1m1 0v1m1-1v1m1 0v1m1-1v1m1 0v1m1 0v1m1-1v2m1-1v1m1 0v1m1 0v1m1 0v1m1 0v1m1 0v1m1 0v2m1-1v2m1 0v1m1 0v1m1 0v1m1 0v1m1 0v2m1 0v1m1 1v1m1 1v1m1 1v1m1 1v2m1 1v1m1 2v2m1 3v1m1 4v1m1 4v3m1 4v2m1 3v2m1 3v2m1 3v2m1 2v2m1 3v2m1 2v2m1 1v3m1 1v2m1 1v3"/>
<path stroke="#58b2ac" d="M79 343v2m1 2v1m1 3v1m1 4v1m1 5v1m1 7v1m1 12v1m1 17v1m2-46v13m1-22v2m1-4v2m1-1v1m1 1v1m1 2v1m2 7v1m1 5v1m1 7v1m1 12v1m1 16v1m2-51v3m0 17v3m1-26v1m1-1v2m1 1v1m1 2v1m1 4v1m1 5v1m1-72v2m0 20v1m0 57v1m1-90v1m0 42v1m0 59v1m1-108v1m0 60v2m0 60v1m1-127v1m0 81v2m1-87v1m0 108v2m1-114v1m1-5v1m1-19v4m8-4v2m1 5v2m1 7v1m1 8v1m1 9v1m1 8v1m1 7v1m1 6v1m1 5v1m1 4v1m1 5v1m1 6v2m1 8v2m1 10v1m1 17v2m96-126v1m0 160v2m1-148v1m0 122v2m1-111v1m0 45v2m6-11v2m1-7v2m1 13v3m0 86v2m28-169v29m1 21v2m1 4v2m1 2v2m1 1v2m1 0v2m1-1v2m1-1v1m1-1v2m1-1v1m1-1v2m1-2v2m1-1v1m1-1v1m1-1v1m1-1v1m1-1v1m1-1v1m1-1v1m1-1v1m1-1v1m1-1v1m1-1v2m1-1v1m1-1v1m1-1v1m1-1v1m1-1v1m1-1v1m1-1v1m1-1v1m1-1v1m1-1v1m1-1v1m1-1v1m1-1v1m2 0v1m1-1v1m1-1v1m1 0v1m1-1v1m2 0v1m2 0v1m2 0v1m1 0v1m1-1v1m1 0v1m1-1v1m1 0v1m1 0v1m1-1v1m1 0v1m1 0v1m1 0v1m1 0v1m1-1v2m1 0v1m1 0v1m1 0v1m1 0v2m1-1v2m1 0v1m1 0v1m1 0v1m1 1v1m1 1v1m1 1v1m1 1v1m1 1v1m1 2v1m1 2v1m1 3v2m1 3v2m1 4v1m1 4v3m1 3v2m1 3v2m1 3v2m1 2v2m1 2v3m1 1v3m1 1v2m1 1v3m1 0v3m1 0v3"/>
<path stroke="#5ab4ab" d="M79 342v1m1 3v1m1 3v1m3 18v1m1 12v1m1 17v1m2-49v4m0 13v3m1-28v3m1-4v2m1-1v2m1 1v1m1 2v1m1 3v1m1 3v1m1 5v1m1 7v1m1 12v1m1 16v1m2-52v2m0 23v2m1-30v2m1-1v1m1 2v1m4-58v1m0 23v2m0 54v1m1-45v2m0 56v1m1-44v2m0 57v1m1-42v2m1 22v1m2-122v3m1-23v5m8-2v2m1 6v1m1 7v2m1 8v1m1 9v1m1 8v1m1 7v1m1 6v1m1 5v1m2 10v1m1 6v1m1 9v1m1 11v1m1 16v2m96-123v1m0 158v1m1-145v2m0 118v2m1-108v1m0 42v2m6-7v2m1-7v1m1 15v6m0 77v3m28-170v3m1 47v3m1 4v2m1 2v2m1 1v2m1 0v2m1-1v2m1-1v2m1-1v1m1-1v2m1-2v2m1-1v1m1-1v2m1-2v2m1-1v1m1-1v1m1-1v1m1-1v1m1-1v1m1-1v1m1-1v1m1-1v1m1-1v1m1 0v1m1-1v1m1-1v1m1-1v1m1-1v1m1-1v1m1-1v1m1-1v1m1-1v1m1-1v1m1-1v1m3 0v1m1-1v1m3 0v1m1-1v1m1 0v1m1-1v1m1 0v1m1-1v1m1 0v1m1-1v1m1 0v1m1-1v1m1 0v1m2 0v1m1 0v1m1-1v1m1 0v1m1 0v1m1 0v1m1-1v2m1-1v1m1 0v2m1-1v2m1 0v1m1 0v1m1 0v1m1 0v2m1 0v1m1 0v1m1 1v1m1 1v1m1 1v1m1 1v1m1 1v1m1 2v1m1 2v1m1 3v1m1 4v1m1 4v2m1 3v2m1 4v2m1 3v2m1 3v2m1 2v2m1 2v2m1 2v2m1 2v2m1 1v2m1 1v2m1 1v2m1 1v2"/>
<path stroke="#5cb7aa" d="M79 341v1m1 3v1m2 9v1m1 5v1m2 19v1m1 16v2m2-52v4m0 20v3m1-33v2m1-3v2m1 0v1m1 1v2m1 2v1m1 3v1m4 30v1m1 16v1m2-54v3m0 27v2m1-33v1m1 0v1m1 2v1m1 3v1m1 4v1m1 5v1m1-74v2m0 26v1m0 52v1m1-89v1m0 46v1m0 54v1m1-107v1m0 65v1m0 55v1m1-126v1m0 86v1m1-91v1m0 112v2m1-118v1m1-13v6m1-21v1m8 2v1m1 7v1m1 7v1m1 9v1m1 9v1m1 8v1m1 7v1m1 6v1m2 11v1m1 4v1m1 6v1m1 9v1m1 11v1m1 15v2m96-120v1m0 156v1m1-142v1m0 114v3m1-105v1m0 39v2m6-3v2m0 94v5m1-107v2m1 19v5m0 70v2m29-119v2m1 6v1m1 2v2m1 1v2m1 0v2m1-1v2m1-1v2m1-1v2m1-2v2m1-1v1m1-1v2m1-1v1m1-1v1m1-1v2m1-1v1m1-1v1m1-1v1m1-1v1m1-1v1m1-1v1m1-1v1m1-1v1m1 0v1m1-1v1m1-1v1m1-1v1m1-1v1m1-1v1m1-1v1m1-1v1m1-1v1m3 0v1m1-1v1m1-1v1m2 0v1m1-1v1m1-1v1m2 0v1m2 0v1m2 0v1m2 0v1m2 0v1m1 0v1m1-1v1m1 0v1m1-1v1m1 0v1m1 0v1m1 0v1m1-1v1m1 0v1m1 0v1m1 0v1m1 0v2m1 0v1m1 0v1m1 0v1m1 0v2m1 0v1m1 1v1m1 1v1m1 1v1m1 1v1m1 1v1m1 2v1m1 2v1m1 3v1m1 3v2m1 3v2m1 3v2m1 4v2m1 3v2m1 3v2m1 2v2m1 2v2m1 2v2m1 2v2m1 0v3m1 0v3m1 0v3m1 0v3m1 0v2"/>
<path stroke="#5eb9a9" d="M79 339v2m1 3v1m1 4v1m1 4v1m1 5v1m1 7v1m1 11v1m1 16v1m2-54v4m0 27v2m1-38v3m1-3v2m1 0v2m1 1v1m1 3v1m1 3v1m1 4v1m1 5v1m1 7v1m1 11v1m1 15v2m2-55v2m0 32v2m1-37v2m1 0v1m1 2v1m1 3v1m1 4v1m2-68v1m0 29v1m1-38v1m0 48v1m0 52v1m1-39v2m0 51v2m1-126v1m0 88v1m1-93v1m0 115v2m1-121v1m1-18v6m9-14v2m1 6v2m1 7v1m1 8v2m1 9v1m1 8v1m1 7v1m1 6v1m1 6v1m1 4v1m2 11v1m1 9v1m1 10v2m1 15v1m96-117v1m0 154v1m1-140v1m0 110v3m1-101v1m0 36v2m6 1v2m0 83v9m1-100v2m1 22v5m0 62v3m29-119v2m1 6v2m1 2v1m1 1v2m1 0v2m1 0v1m1 0v1m1-1v2m1-1v1m1-1v2m1-1v1m1-1v2m1-1v1m1-1v1m1-1v2m1-2v2m1-1v1m1-1v1m1-1v1m1-1v1m1-1v1m1-1v1m1 0v1m1-1v1m1-1v1m1-1v1m1-1v1m1-1v1m1-1v1m1-1v1m2 0v1m1-1v1m1-1v1m1-1v1m2 0v1m1-1v1m1-1v1m2 0v1m1-1v1m1 0v1m1-1v1m1 0v1m1-1v1m1 0v1m1-1v1m1 0v1m1-1v1m1 0v1m1-1v1m1 0v1m2 0v1m1 0v1m1 0v1m1-1v1m1 0v1m1 0v1m1 0v1m1 0v1m1 0v2m1 0v1m1 0v1m1 0v1m1 1v1m1 0v2m1 0v2m1 1v1m1 1v1m1 1v1m1 2v1m1 2v1m1 3v1m1 3v1m1 4v1m1 4v1m1 4v2m1 3v2m1 3v2m1 3v1m1 3v1m1 2v2m1 2v2m1 0v2m1 1v2m1 1v2m1 1v2m1 0v3m1 1v1"/>
<path stroke="#60bba8" d="M79 338v1m1 4v1m1 4v1m3 18v1m1 11v1m1 16v1m1 23v2m1-82v4m0 33v3m1-45v4m1-2v2m1 1v1m1 2v1m1 3v1m4 22v1m1 11v1m1 15v1m2-55v2m0 36v2m1-40v1m1 1v1m1 2v1m3-48v9m0 54v1m1-76v2m0 31v1m0 49v1m1-39v2m0 49v1m1-106v1m0 69v1m0 49v1m1-34v1m1 24v2m1-124v1m1-22v5m9-9v1m1 7v1m1 7v2m1 8v1m1 10v1m1 8v1m1 7v1m2 13v1m2 10v1m1 5v1m1 9v1m1 10v1m1 15v2m1 46v6m95-167v1m0 151v2m1-32v4m1-97v2m0 32v2m6 5v3m0 65v15m1-89v1m1 26v4m0 55v3m29-120v4m1 6v2m1 2v2m1 1v1m1 1v1m1 0v2m1-1v2m1-1v1m1-1v2m1-1v1m1-1v2m1-1v1m1-1v2m1-1v1m1-1v1m1-1v1m1 0v1m1-1v1m1-1v1m1-1v1m1-1v1m1-1v1m1 0v1m1-1v1m1-1v1m1-1v1m1-1v1m1-1v1m1-1v1m2 0v1m1-1v1m1-1v1m1-1v1m2 0v1m1-1v1m1-1v1m2 0v1m1-1v1m2 0v1m2 0v1m2 0v1m2 0v1m2 0v1m2 0v1m1 0v1m1-1v1m1 0v1m1 0v1m1-1v1m1 0v1m1 0v1m1 0v1m1 0v1m1 0v1m1 0v2m1 0v1m1 0v1m1 1v1m1 0v1m1 1v1m1 2v1m1 1v1m1 1v1m1 2v1m1 2v1m1 3v1m1 3v1m1 3v2m1 3v2m1 3v2m1 3v2m1 3v2m1 3v2m1 2v2m1 1v2m1 2v2m1 0v2m1 1v2m1 1v2m1 0v3m1 0v2m1 1v3m1 0v1"/>
<path stroke="#62bda7" d="M79 337v1m1 4v1m1 4v1m1 5v1m1 5v1m2 18v1m1 16v1m1 22v2m1-87v7m0 40v2m1-51v4m1-1v3m1 1v2m1 2v1m1 3v1m1 4v1m1 4v1m1 5v1m3 34v1m1 22v2m1-80v2m0 40v2m1-44v2m1 1v1m2 7v1m1 4v1m1-59v2m0 9v2m0 51v1m1-76v1m0 34v1m0 47v1m1-89v1m0 52v1m0 47v1m1-34v1m0 47v1m1-124v1m0 91v2m1-97v1m0 120v2m1-128v2m1-25v4m10 3v1m1 7v1m1 9v1m1 10v1m1 8v1m2 15v1m1 5v1m1 5v1m1 4v1m1 5v1m1 8v2m1 10v1m1 15v1m1 42v6m95-160v1m0 149v1m1-136v1m0 99v6m1-91v5m0 24v3m6 10v3m0 34v28m1-73v2m1 28v4m0 48v3m29-121v4m1 8v2m1 2v2m1 1v2m1 0v2m1-1v2m1 0v1m1-1v2m1-1v1m1 0v1m1-1v1m1 0v1m1-1v1m1-1v2m1-1v1m1-1v1m1-1v2m1-1v1m1-1v1m1-1v1m1-1v1m1-1v1m1 0v1m1-1v1m1-1v1m1-1v1m1-1v1m1-1v1m2 0v1m1-1v1m1-1v1m1-1v1m2 0v1m1-1v1m1-1v1m2 0v1m1-1v1m2 0v1m1-1v1m1 0v1m1-1v1m1 0v1m1-1v1m1 0v1m1-1v1m1 0v1m1-1v1m1 0v1m1-1v1m1 0v1m2 0v1m1 0v1m2 0v1m1 0v1m1 0v1m1 0v1m1 0v1m1 0v1m1 0v2m1 0v1m1 0v2m1 0v1m1 1v1m1 2v1m1 1v1m1 1v1m1 2v1m1 2v1m1 3v1m1 3v1m1 3v1m1 3v2m1 3v2m1 4v1m1 3v2m1 3v2m1 2v2m1 2v1m1 2v2m1 0v2m1 1v2m1 0v3m1 0v2m1 0v3m1 0v3m1 0v3m1 0v1"/>
<path stroke="#64c0a6" d="M79 335v2m1 4v1m1 4v1m1 5v1m2 13v1m1 10v1m1 16v1m1 21v2m1-91v6m0 49v2m1-56v3m1 0v3m1 2v2m1 3v1m1 3v1m1 4v1m1 4v1m2 13v1m1 11v1m1 14v1m1-51v11m0 60v3m1-81v3m0 44v2m1-47v1m1 2v1m1 3v1m1 3v1m2-55v2m0 13v1m1-26v1m0 36v1m1-43v1m0 54v2m0 44v1m1-105v1m0 72v2m0 44v1m1-29v1m0 49v1m1-149v1m0 123v2m1-135v5m11-17v1m1 7v1m1 8v2m1 9v2m1 8v1m1 8v1m1 6v1m2 11v1m1 4v1m1 5v1m1 8v1m1 11v1m1 14v2m1 39v4m95-153v1m0 146v2m1-134v1m0 90v8m1-80v24m6 16v7m0 15v12m1-43v2m0 95v3m1-68v4m0 40v4m29-121v3m1 10v2m1 3v1m1 2v1m1 1v1m1 0v1m1 0v2m1-1v1m1 0v1m1-1v2m1-1v1m1-1v2m1-1v1m1-1v1m1-1v2m1-1v1m1-1v1m1-1v2m1-1v1m1-1v1m1-1v1m1-1v1m1 0v1m1-1v1m1-1v1m1-1v1m1-1v1m2 0v1m1-1v1m1-1v1m1-1v1m2 0v1m1-1v1m1-1v1m2 0v1m1-1v1m2 0v1m1-1v1m2 0v1m2 0v1m2 0v1m1-1v1m1 0v1m1-1v1m1 0v1m2 0v1m1 0v1m1-1v1m1 0v1m1 0v1m1-1v1m1 0v1m1 0v1m1 0v1m1 0v1m1 0v1m1 0v1m1 1v1m1 0v1m1 1v1m1 1v1m1 2v1m1 1v1m1 1v1m1 2v1m1 2v1m1 3v1m1 3v1m1 3v1m1 3v1m1 4v1m1 4v2m1 3v1m1 3v2m1 2v2m1 2v2m1 1v2m1 0v2m1 1v2m1 0v2m1 1v2m1 0v2m1 1v2m1 0v3m1 0v3"/>
<path stroke="#66c2a5" d="M79 334v1m1 5v1m3 17v1m2 17v1m1 16v1m1 20v2m1-92v3m0 57v2m1-60v2m1 1v2m1 4v1m1 4v1m4 20v1m2 18v1m1 14v1m1-55v5m0 11v4m0 55v1m1-80v2m0 49v2m1-51v2m1 2v1m1 3v1m2 9v1m1-62v2m0 16v1m0 48v1m1-77v1m0 38v1m0 44v1m1-32v1m0 42v1m1-29v1m0 42v1m1-123v1m0 95v1m0 46v2m1-22v2m1-143v6m11-13v1m1 6v2m1 8v1m1 10v1m1 9v1m1 8v1m1 6v1m1 6v1m3 15v1m1 8v1m1 10v2m1 14v1m1 37v4m95-148v1m0 144v1m1-131v1m0 77v12m7-25v15m1-29v2m0 91v2m1-61v4m0 32v4m29-122v5m1 11v2m1 3v2m1 1v2m1 0v2m1 0v1m1 0v1m1 0v1m1-1v2m1-1v1m1-1v2m1-1v1m1-1v2m1-1v1m1-1v1m1 0v1m1-1v1m1-1v1m1 0v1m1-1v1m1-1v1m1-1v1m1 0v1m1-1v1m1-1v1m1-1v1m1-1v1m1 0v1m1-1v1m1-1v1m1-1v1m2 0v1m1-1v1m1-1v1m2 0v1m1-1v1m2 0v1m1-1v1m2 0v1m1-1v1m1 0v1m1-1v1m1 0v1m1-1v1m2 0v1m2 0v1m1 0v1m1-1v1m1 0v1m2 0v1m1 0v1m2 0v1m1 0v1m1 0v1m1 0v1m1 0v1m1 0v1m1 1v1m1 0v1m1 1v1m1 1v1m1 2v1m1 1v1m1 1v1m1 2v1m1 2v1m1 2v2m1 2v2m1 3v1m1 3v1m1 3v2m1 3v2m1 3v2m1 2v2m1 2v2m1 2v2m1 1v2m1 1v1m1 1v2m1 0v2m1 1v2m1 0v2m1 0v3m1 0v2m1 1v2m1 1v3"/>
<path stroke="#69c3a5" d="M79 332v2m1 5v1m1 5v1m1 5v1m2 13v1m2 26v1m1-70v28m0 61v2m1-93v3m0 62v2m1-64v2m1 2v1m1 4v2m1 4v1m1 4v1m1 4v1m1 4v1m2 13v1m1 10v1m1 14v1m1-60v6m0 20v2m0 51v2m1-81v2m0 53v2m1-54v1m1 3v1m1 3v1m1 4v1m2-57v1m0 19v1m1-30v1m0 40v2m1-47v1m0 58v1m1-63v1m0 76v1m0 40v1m1-25v1m0 43v2m1-147v1m0 128v3m1-151v5m11-9v2m1 6v1m1 8v2m1 9v2m1 9v1m1 8v1m1 6v1m1 6v1m1 5v1m1 4v1m1 4v1m1 7v2m1 10v1m1 14v2m1 34v4m95-143v1m0 141v2m1-129v1m0 66v10m8-25v2m0 86v3m1-55v6m0 20v6m29-148v30m1 14v2m1 4v1m1 2v1m1 1v1m1 0v2m1-1v2m1-1v2m1-1v1m1 0v1m1-1v1m1 0v1m1-1v1m1 0v1m1-1v1m1-1v2m1-1v1m1-1v1m1-1v2m1-1v1m1-1v1m1-1v1m1-1v2m1-1v1m1-1v1m1-1v1m1-1v1m1 0v1m1-1v1m1-1v1m2 0v1m1-1v1m1-1v1m2 0v1m1-1v1m2 0v1m1-1v1m2 0v1m1-1v1m2 0v1m2 0v1m2 0v1m1-1v1m1 0v1m1-1v1m1 0v1m2 0v1m1 0v1m1-1v1m1 0v1m1 0v1m2 0v1m1 0v1m1 0v1m1 0v1m1 0v1m1 1v1m1 0v1m1 1v1m1 1v1m1 1v2m1 1v1m1 1v1m1 2v1m1 2v1m1 2v1m1 3v1m1 3v2m1 2v2m1 3v1m1 3v2m1 3v2m1 3v1m1 3v1m1 2v2m1 1v2m1 1v2m1 0v2m1 0v2m1 1v2m1 0v2m1 0v2m1 1v2m1 0v3m1 0v3m1 0v3"/>
<path stroke="#6bc4a5" d="M79 331v1m1 6v1m1 5v1m1 5v1m1 6v1m2 17v1m1 15v1m1-74v5m0 28v5m0 55v1m1-93v2m0 67v2m1-68v2m1 2v2m1 4v1m1 5v1m1 4v1m1 4v1m2 11v1m2 17v1m1 14v1m1-63v4m0 28v1m0 48v2m1-81v2m0 57v2m1-57v1m1 3v1m3 14v1m1-64v2m0 21v2m1 11v1m0 40v1m1-29v1m0 39v1m1-26v1m0 38v1m1-122v1m0 98v1m0 40v2m1-146v1m0 132v3m1-157v3m11-5v1m1 7v1m1 8v1m1 10v1m1 10v1m1 8v1m1 6v1m1 6v1m1 5v1m1 4v1m2 12v1m1 10v2m1 14v1m1 33v3m94 23v1m1-162v1m0 139v1m1-126v1m0 58v7m8-13v3m0 79v4m1-46v20m30-101v3m1 4v2m1 1v2m1 0v2m1 0v1m1 0v1m1 0v1m1 0v1m1-1v2m1-1v1m1-1v2m1-1v1m1-1v2m1-1v1m1-1v1m1 0v1m1-1v1m1-1v1m1 0v1m1-1v1m1-1v1m1-1v1m1 0v1m1-1v1m1-1v1m1-1v1m1 0v1m1-1v1m1-1v1m1 0v1m1-1v1m1-1v1m2 0v1m1-1v1m2 0v1m1-1v1m2 0v1m1-1v1m2 0v1m1-1v1m1 0v1m1-1v1m1 0v1m1-1v1m2 0v1m2 0v1m1 0v1m1-1v1m1 0v1m2 0v1m1 0v1m1 0v1m2 0v1m1 0v1m1 0v1m1 0v1m1 1v1m1 0v1m1 1v1m1 1v1m1 1v1m1 2v1m1 1v1m1 2v1m1 2v1m1 2v1m1 3v1m1 3v1m1 3v1m1 3v2m1 3v1m1 4v1m1 3v2m1 2v2m1 2v1m1 2v1m1 1v2m1 0v2m1 1v1m1 1v2m1 0v2m1 0v2m1 0v3m1 0v2m1 0v3m1 0v3m1 0v3"/>
<path stroke="#6ec5a5" d="M79 330v1m1 6v1m4 26v1m1 9v1m1 15v1m1-79v6m0 38v2m0 51v2m1-95v3m0 71v3m1-72v1m1 3v1m1 4v2m1 5v1m1 4v1m2 10v1m2 13v1m1 9v1m2-50v3m0 33v2m0 45v1m1-81v2m0 61v2m1-60v1m1 3v1m1 4v1m1 4v1m2-59v1m0 25v1m0 43v1m1-78v1m0 44v1m1-50v1m0 61v1m0 37v1m1-104v1m0 79v1m0 36v1m1-21v1m0 37v2m1-145v1m0 136v15m1-175v3m11-3v1m1 7v1m1 8v1m1 9v2m1 10v1m1 8v1m1 6v1m1 6v1m1 5v1m2 10v1m1 5v2m1 10v1m1 14v2m1 31v3m94-149v1m0 173v1m1-160v1m0 136v2m1-124v1m0 54v3m8-3v5m0 71v3m31-126v3m1 5v2m1 2v1m1 1v1m1 0v2m1 0v1m1 0v1m1-1v2m1-1v1m1 0v1m1-1v1m1 0v1m1-1v1m1 0v1m1-1v1m1-1v2m1-1v1m1-1v1m1-1v2m1-1v1m1-1v1m1-1v1m1 0v1m1-1v1m1-1v1m1-1v1m1 0v1m1-1v1m1-1v1m1 0v1m1-1v1m1-1v1m1 0v1m1-1v1m1-1v1m1 0v1m1-1v1m1-1v1m1 0v1m1-1v1m2 0v1m1-1v1m2 0v1m2 0v1m2 0v1m2 0v1m2 0v1m2 0v1m1 0v1m2 0v1m1 0v1m1 0v1m5 4v1m1 0v1m1 1v1m1 1v1m1 1v1m1 2v1m1 1v1m1 2v1m1 2v1m1 2v1m1 3v1m1 3v1m1 3v1m1 3v1m1 3v2m1 3v2m1 2v2m1 3v1m1 2v2m1 1v2m1 0v2m1 1v1m1 1v2m1 0v2m1 0v2m1 0v2m1 0v2m1 1v2m1 0v2m1 0v3m1 0v3m1 0v3"/>
<path stroke="#71c6a5" d="M79 329v1m1 6v1m1 6v1m1 5v1m1 6v1m2 16v1m1-66v20m0 61v1m1-81v3m0 46v2m0 48v1m1-95v2m0 77v3m1-77v2m1 3v1m1 4v1m1 6v1m1 4v1m1 5v1m2 11v1m3-33v9m0 56v1m1-67v2m0 38v1m0 42v2m1-82v2m0 65v3m1-65v2m1 3v1m1 4v1m2 10v1m1-65v1m0 27v1m1-36v1m0 46v1m0 37v1m1-26v1m0 35v1m2-107v1m0 101v2m0 34v1m1-146v3m1-24v1m11-1v1m1 7v1m1 7v2m1 9v1m1 10v2m1 8v1m1 6v1m1 6v1m1 5v1m1 5v1m1 4v1m1 5v1m1 10v2m1 13v2m1 29v4m94-145v1m0 171v1m1-158v1m0 133v2m1-70v3m8 5v6m0 60v5m31-125v2m1 6v2m1 2v2m1 0v2m1 0v1m1 0v2m1-1v2m1-1v1m1 0v1m1 0v1m1-1v1m1 0v1m1-1v1m1 0v1m1-1v1m1-1v1m1 0v1m1-1v1m1-1v1m1 0v1m1-1v1m1-1v1m1 0v1m1-1v1m1-1v1m1-1v1m1 0v1m1-1v1m1-1v1m1 0v1m1-1v1m1-1v1m1 0v1m1-1v1m2 0v1m1-1v1m2 0v1m1-1v1m1 0v1m1-1v1m2 0v1m1-1v1m1 0v1m1-1v1m1 0v1m1-1v1m1 0v1m1-1v1m1 0v1m1-1v1m1 0v1m2 0v1m1 0v1m2 0v1m1 0v1m1 0v1m1 0v1m1 0v1m1 0v1m1 0v1m1 0v1m1 1v1m1 1v1m1 1v1m1 2v1m1 1v1m1 2v1m1 2v1m1 2v1m1 3v1m1 3v1m1 3v1m1 3v1m1 3v1m1 3v2m1 3v1m1 3v2m1 1v2m1 1v2m1 1v1m1 1v2m1 0v2m1 0v2m1 0v2m1 0v2m1 0v2m1 0v3m1 0v2m1 0v2m1 0v3m1 0v3m1 0v3"/>
<path stroke="#74c7a5" d="M79 328v1m1 6v1m1 6v1m3 20v1m2-58v2m0 20v5m0 55v1m1-82v2m0 51v2m0 44v2m1-97v3m0 82v3m0 21v2m1-104v1m1 4v1m1 4v1m1 6v1m3 16v1m2 13v1m1 9v1m1-54v4m0 9v6m0 49v1m1-67v1m0 41v2m0 39v1m1-81v1m0 70v3m0 19v1m1-89v1m3 15v1m1-50v8m1-19v2m0 29v1m0 40v1m1-30v1m1-53v1m0 64v1m1-69v1m0 81v1m0 34v1m1-122v1m0 104v1m0 31v2m1-149v4m13-14v1m1 7v1m1 9v2m1 10v1m1 8v2m1 6v1m1 6v1m2 11v1m1 4v1m1 5v1m1 10v1m1 14v1m1 28v3m94-140v1m0 169v1m1-156v1m0 131v1m1-119v1m0 48v2m8 14v6m0 49v5m31-123v3m1 6v2m1 2v2m1 1v1m1 1v1m1 0v1m1 0v1m1 0v1m1 0v1m1-1v2m1-1v1m1 0v1m1-1v1m1-1v2m1-1v1m1-1v1m1 0v1m1-1v1m1-1v1m1 0v1m1-1v1m1-1v1m1 0v1m1-1v1m1-1v1m1-1v1m1 0v1m1-1v1m1-1v1m1 0v1m1-1v1m2 0v1m1-1v1m1 0v1m1-1v1m1-1v1m1 0v1m1-1v1m2 0v1m1-1v1m1 0v1m1-1v1m2 0v1m2 0v1m2 0v1m2 0v1m2 0v1m1 0v1m2 0v1m1 0v1m2 0v1m1 0v1m1 0v1m1 0v1m1 0v1m1 0v1m1 0v1m1 1v1m1 1v1m1 1v1m1 2v1m1 1v1m1 2v1m1 2v1m1 2v1m1 3v1m1 3v1m1 2v2m1 2v2m1 2v2m1 3v1m1 3v2m1 2v2m1 2v1m1 2v1m1 1v2m1 0v2m1 0v2m1 0v2m1 0v2m1 0v2m1 0v2m1 0v2m1 1v2m1 0v2m1 0v2m1 0v3m1 0v3m1 0v3"/>
<path stroke="#76c8a5" d="M79 327v1m1 6v1m2 13v1m1 6v1m2-49v5m0 60v1m1-68v1m0 27v2m0 52v1m1-82v1m0 55v2m0 41v1m1-96v1m0 88v5m0 10v6m1-104v2m1 4v1m1 4v1m1 6v1m1 5v1m1 5v1m2 11v1m2 16v1m1-55v2m0 19v4m0 44v1m1-68v2m0 44v1m0 37v1m1-81v1m0 74v6m0 7v6m1-89v1m1 5v1m1 4v1m2-46v2m0 8v2m0 44v1m1-67v1m0 32v1m1-39v1m0 49v1m0 34v1m1-23v1m0 32v1m1-20v1m0 32v1m1-15v1m0 29v1m1-151v4m13-11v1m1 7v1m1 9v1m1 11v1m1 8v1m1 7v1m1 6v1m1 6v1m1 4v1m1 4v1m1 5v1m1 9v2m1 13v2m1 26v3m94 32v1m1-154v1m0 128v2m1-117v1m0 45v2m8 22v9m0 33v7m31-121v3m1 7v2m1 3v1m1 2v1m1 0v2m1 0v1m1 0v1m1 0v1m1 0v1m1-1v1m1 0v1m1-1v2m1-1v1m1-1v1m1 0v1m1-1v1m1 0v1m1-1v1m1-1v1m1 0v1m1-1v1m1-1v1m1-1v2m1-1v1m1-1v1m1-1v1m1 0v1m1-1v1m2 0v1m1-1v1m1 0v1m1-1v1m1-1v1m1 0v1m1-1v1m2 0v1m1-1v1m1 0v1m1-1v1m2 0v1m2 0v1m2 0v1m1-1v1m1 0v1m1-1v1m1 0v1m1-1v1m1 0v1m2 0v1m1 0v1m1-1v1m1 0v1m1 0v1m2 0v1m1 0v1m1 0v1m1 0v1m1 0v1m1 0v1m1 1v1m1 1v1m1 1v1m1 2v1m1 1v1m1 2v1m1 2v1m1 2v1m1 3v1m1 3v1m1 2v1m1 3v1m1 3v1m1 3v2m1 3v1m1 3v1m1 2v2m1 1v2m1 0v2m1 1v1m1 1v1m1 1v1m1 1v1m1 1v1m1 1v1m1 0v2m1 0v3m1-1v3m1 0v2m1 0v2m1 0v3m1 0v3m1 0v3"/>
<path stroke="#79c9a5" d="M80 333v1m1 7v1m3 20v1m1-58v2m0 5v3m1-11v1m0 30v3m0 48v1m1-82v1m0 58v2m0 38v1m1-97v2m0 94v10m1-99v1m1 5v1m1 4v1m1 6v1m1 5v1m1 5v1m1 5v1m2 13v1m2-47v2m0 25v2m0 41v1m1-68v1m0 47v2m0 33v2m1-81v1m0 81v7m1-84v1m1 5v1m2 10v1m1-53v2m0 12v1m1-24v1m0 72v1m1-27v1m1-56v1m0 67v1m0 30v1m1-103v1m0 84v1m0 30v1m1-121v1m0 107v2m0 26v1m1-152v2m13-8v1m1 7v1m1 9v1m1 10v2m1 8v1m1 7v1m1 6v1m1 6v1m3 15v1m1 9v1m1 14v1m1 25v3m94-133v1m0 166v1m1-152v1m0 124v3m1-114v1m0 43v1m8 33v33m31-118v4m1 8v2m1 3v2m1 1v2m1 0v1m1 1v1m1 0v1m1 0v1m1 0v1m1-1v1m1 0v1m1-1v1m1 0v1m1-1v1m1 0v1m1-1v1m1 0v1m1-1v1m1-1v1m1 0v1m1-1v1m1-1v1m1-1v1m1 0v1m1-1v1m1-1v1m1 0v1m1-1v1m1 0v1m1-1v1m1-1v1m1 0v1m1-1v1m2 0v1m1-1v1m1 0v1m1-1v1m2 0v1m2 0v1m1-1v1m1 0v1m1-1v1m1 0v1m1-1v1m2 0v1m2 0v1m2 0v1m1 0v1m2 0v1m2 0v1m1 0v1m1 0v1m3 1v1m1 0v1m1 0v1m2 2v1m1 1v1m1 1v1m1 2v1m1 1v1m1 2v1m1 2v1m1 2v1m1 3v1m1 3v1m1 2v1m1 3v1m1 3v1m1 3v1m1 3v2m1 2v2m1 2v1m1 2v1m1 1v1m1 1v2m1 0v2m1 0v2m1 0v2m1 0v2m1 0v2m1 0v1m1 0v2m1 0v2m1 0v3m1-1v3m1 0v2m1 0v3m1 0v3m1-1v4"/>
<path stroke="#7ccaa5" d="M79 326v1m1 5v1m1 7v1m1 6v1m1 6v1m2-51v1m0 10v3m0 53v1m1-69v1m0 34v2m0 45v1m1-82v1m0 61v1m0 35v2m1-97v1m1 6v1m1 5v1m2 11v1m4 24v1m2-42v14m0 44v1m1-58v2m0 29v2m0 38v1m1-68v1m0 50v1m0 31v1m1-80v1m1 4v1m1 5v1m1 5v1m2-48v1m0 15v1m1 10v1m1-41v1m0 52v1m0 31v1m1-20v1m0 28v1m1-16v1m0 28v1m1-121v1m0 110v1m0 23v2m1-153v2m13-7v1m1 7v1m1 8v2m1 10v1m1 9v1m1 7v1m1 6v1m1 6v1m1 5v1m1 4v1m1 4v1m1 8v2m1 13v2m1 23v3m94-129v1m0 164v1m1-150v1m0 121v2m1-110v1m0 40v2m39-57v6m1 9v3m1 3v2m1 2v1m1 1v1m1 0v2m1 0v1m1 0v1m1 0v1m1-1v1m1 0v1m1-1v1m1 0v1m1-1v1m1 0v1m1-1v1m1-1v2m1-1v1m1-1v1m1-1v2m1-1v1m1-1v1m1-1v1m1 0v1m1-1v1m1-1v1m1 0v1m1-1v1m1 0v1m1-1v1m1-1v1m1 0v1m1-1v1m1 0v1m1-1v1m2 0v1m1-1v1m1 0v1m1-1v1m1 0v1m1-1v1m2 0v1m2 0v1m2 0v1m1-1v1m1 0v1m1-1v1m1 0v1m2 0v1m1 0v1m1-1v1m1 0v1m3 1v1m1 0v1m1 0v1m4 3v1m1 0v1m1 1v1m1 1v1m1 2v1m1 1v1m1 2v1m1 2v1m1 2v1m1 3v1m1 3v1m1 2v1m1 3v1m1 3v1m1 3v1m1 3v1m1 3v1m1 2v2m1 1v2m1 0v2m1 0v2m1 0v2m1 0v2m1 0v2m1 0v2m1 0v2m1 0v2m1 0v1m1 0v2m1 0v2m1 0v2m1 0v3m1-1v3m1 0v3m1-1v3m1 0v4"/>
<path stroke="#7ecca5" d="M79 325v1m5 35v1m1-60v2m0 14v4m0 48v1m1-69v1m0 37v2m0 42v1m1-82v1m0 63v2m0 32v1m1-96v1m1 5v2m1 5v1m1 5v1m1 5v1m1 6v1m1 5v1m3 19v1m1-55v6m0 14v2m0 41v1m1-59v2m0 33v2m0 35v1m1-68v1m0 52v2m0 28v1m5-57v1m1-55v2m0 17v1m0 40v1m1-68v1m0 36v1m1 12v1m1-59v1m1-4v1m0 87v1m0 26v1m1-121v1m0 112v2m0 20v1m1-153v2m14 2v1m1 8v1m1 10v2m1 9v1m1 7v1m1 6v1m1 6v1m1 5v1m1 4v1m2 12v2m1 13v2m1 22v3m94-125v1m0 161v2m1-148v1m0 118v2m1-107v1m0 37v2m39-60v5m1 13v2m1 5v1m1 2v2m1 1v1m1 0v1m1 1v1m1 0v1m1-1v2m1-1v1m1 0v1m1-1v1m1 0v1m1-1v1m1 0v1m1-1v1m1-1v1m1 0v1m1-1v1m1-1v1m1 0v1m1-1v1m1-1v1m1 0v1m1-1v1m1-1v1m1 0v1m1-1v1m1 0v1m1-1v1m1-1v1m1 0v1m1-1v1m1 0v1m1-1v1m1 0v1m1-1v1m2 0v1m2 0v1m1-1v1m1 0v1m1-1v1m1 0v1m1-1v1m1 0v1m1-1v1m2 0v1m2 0v1m1 0v1m2 0v1m2 0v1m1 0v1m1 0v1m2 0v1m1 0v1m1 0v1m1 0v1m1 0v1m1 0v1m1 0v1m1 1v1m1 1v1m1 2v1m2 4v1m1 2v1m2 6v1m1 3v1m1 2v1m1 3v1m1 2v2m1 2v2m1 2v2m1 2v2m1 2v1m1 1v2m1 1v1m1 1v1m1 1v1m1 1v1m1 1v1m1 0v2m1 0v2m1 0v2m1 0v2m1-1v2m1 0v2m1 0v2m1 0v2m1 0v2m1 0v3m1-1v3m1 0v3m1 0v4m1-1v1"/>
<path stroke="#81cda5" d="M80 331v1m1 7v1m1 6v1m1 6v1m2-53v1m0 20v2m1-23v1m0 40v2m0 39v1m1-15v1m0 30v1m2-90v1m1 6v1m1 5v1m1 5v1m1 6v1m2 12v1m2-43v5m1-5v2m0 22v2m1-20v1m0 37v1m0 33v1m1-68v1m0 55v1m0 26v1m1-79v1m1 4v1m1 5v1m1 5v1m2-50v1m0 20v1m1-29v1m0 38v1m0 34v1m1-79v1m0 84v1m1-18v1m0 26v1m1-103v1m0 114v1m1-121v1m0 115v2m0 16v2m1-154v2m13-4v1m2 15v1m1 10v1m1 9v2m1 7v1m1 6v1m1 6v1m1 5v1m1 4v1m1 5v1m1 6v1m1 13v2m1 22v2m94 39v1m1-145v1m0 114v3m1-104v1m0 34v2m39-66v8m1 16v2m1 5v2m1 2v1m1 1v2m1 0v1m1 0v2m1 0v1m1-1v1m1 0v1m1 0v1m1-1v1m1 0v1m1-1v1m1 0v1m1-1v1m2 0v1m1-1v1m2 0v1m1-1v1m1-1v1m1 0v1m1-1v1m2 0v1m1-1v1m1 0v1m1-1v1m2 0v1m2 0v1m1-1v1m1 0v1m1-1v1m1 0v1m1-1v1m1 0v1m1-1v1m2 0v1m2 0v1m2 0v1m2 0v1m2 0v1m2 0v1m1 0v1m1-1v1m1 0v1m2 0v1m1 0v1m1 0v1m2 0v1m1 0v1m1 0v1m1 0v1m1 0v1m2 2v1m1 1v1m1 2v1m1 2v1m1 1v1m1 2v1m1 3v1m1 2v1m1 3v1m1 2v1m1 3v1m1 2v1m1 3v1m1 3v1m1 3v1m1 2v2m1 1v1m1 1v2m1 0v2m1 0v2m1 0v2m1 0v2m1 0v1m1 0v2m1 0v2m1 0v2m1 0v1m1 0v2m1 0v2m1 0v2m1 0v2m1 0v2m1 0v2m1 0v3m1-1v4m1-1v4m1-1v2"/>
<path stroke="#84cea5" d="M79 324v1m1 5v1m4-27v6m0 50v1m1-37v3m0 42v1m1-26v2m1-44v1m0 67v2m0 26v2m1-95v1m1 4v1m1 6v1m4 25v1m2 12v1m1-51v2m0 5v3m0 47v1m1-57v1m0 26v2m0 36v1m1-61v2m0 39v2m0 30v1m1-68v1m0 57v2m0 22v2m1-79v1m1 4v1m1 5v1m1 5v1m1 5v1m1-56v1m0 60v1m1-28v1m1 11v1m1-61v1m0 72v1m0 24v1m1-12v1m0 23v1m1-122v2m0 118v2m0 12v2m1-154v2m13-3v1m1 7v1m1 7v1m1 9v2m1 9v1m1 8v1m1 6v1m1 6v1m3 16v1m1 5v2m1 12v2m1 21v3m94-119v1m0 158v1m1-33v4m1-100v1m0 29v4m39-71v7m1 22v2m1 5v2m1 2v2m1 1v1m1 1v1m1 0v1m1 1v1m1-1v1m1 0v1m1 0v1m1-1v1m1 0v1m1-1v1m1 0v1m1-1v1m1 0v1m1-1v1m1-1v1m1 0v1m1-1v1m1-1v1m2 0v1m1-1v1m1 0v1m1-1v1m1-1v1m1 0v1m1-1v1m1 0v1m1-1v1m1 0v1m1-1v1m2 0v1m2 0v1m2 0v1m1-1v1m1 0v1m1-1v1m1 0v1m1-1v1m1 0v1m1-1v1m1 0v1m1-1v1m1 0v1m1-1v1m1 0v1m2 0v1m2 0v1m1 0v1m3 1v1m1 0v1m4 2v1m2 2v1m1 0v1m1 1v1m1 2v1m1 2v1m1 1v1m1 2v1m1 3v1m1 2v1m1 3v1m1 2v1m1 2v2m1 2v1m1 3v1m1 3v1m1 2v2m1 2v1m1 1v2m1 1v1m1 1v1m1 1v1m1 1v1m1 0v2m1 0v2m1 0v1m1 0v2m1 0v2m1 0v2m1-1v2m1 0v2m1 0v2m1 0v2m1-1v3m1-1v3m1-1v3m1 0v2m1 0v3m1-1v4m1-1v3"/>
<path stroke="#86cfa5" d="M79 323v1m2 14v1m1 6v1m1 6v1m1-51v2m0 6v2m1-12v1m0 26v2m1-29v1m0 45v2m0 34v1m1-82v1m0 70v2m0 23v1m1-94v1m1 4v1m2 13v1m1 5v1m1 6v1m2 12v1m2-45v1m0 10v3m1-13v1m0 29v1m1-26v1m0 43v1m1-39v1m0 60v1m0 20v1m1-78v1m5-34v2m0 23v1m1-31v1m0 41v1m0 31v1m1-79v1m0 57v1m1 12v1m1-79v1m0 91v1m0 21v1m1-124v3m0 122v2m0 7v3m1-153v1m13-2v1m1 7v1m1 7v1m1 9v1m1 10v1m1 8v1m1 6v1m1 6v1m1 6v1m1 4v1m1 4v1m1 5v1m1 13v1m1 21v2m94-115v1m0 156v1m1-142v1m0 103v6m1-95v1m0 20v8m40-41v3m1 5v2m1 3v1m1 2v1m1 1v1m1 0v1m1 0v2m1-1v1m1 0v1m1 0v1m1-1v1m1 0v1m1-1v1m1 0v1m1-1v1m1 0v1m1-1v1m1-1v1m1 0v1m1-1v1m1-1v1m1 0v1m1-1v1m1-1v1m1 0v1m1-1v1m1-1v1m1 0v1m1-1v1m1 0v1m1-1v1m1 0v1m1-1v1m1 0v1m1-1v1m1 0v1m1-1v1m1 0v1m1-1v1m2 0v1m2 0v1m2 0v1m2 0v1m2 0v1m2 0v1m1 0v1m1-1v1m1 0v1m2 0v1m1 0v1m1 0v1m2 0v1m1 0v1m1 0v1m1 0v1m2 1v1m1 0v1m3 5v1m1 2v1m1 1v1m1 2v1m1 3v1m1 2v1m1 3v1m1 2v1m1 2v1m1 3v1m1 3v1m1 3v1m1 2v1m1 2v2m1 1v1m1 1v2m1 0v2m1 0v2m1 0v2m1 0v1m1 0v2m1 0v2m1 0v1m1 0v2m1 0v2m1 0v1m1 0v2m1 0v2m1 0v2m1-1v2m1 0v2m1 0v2m1 0v3m1-1v3m1-1v3m1 0v3m1-1v4"/>
<path stroke="#89d0a4" d="M80 329v1m1 7v1m3-37v1m0 10v1m1-14v1m0 29v1m0 38v1m1-70v1m0 48v1m0 32v1m1-8v2m0 19v2m2-89v1m1 7v1m1 5v1m1 5v1m2 13v1m2 12v1m1-52v1m0 14v3m1-17v1m0 31v2m0 32v1m1-62v1m0 45v1m0 27v1m1-69v1m0 62v2m0 16v2m2-72v1m1 5v1m1 5v1m1-42v5m1-15v1m0 26v1m1-33v1m0 43v1m1 11v1m0 25v1m1-90v1m0 97v1m1-9v1m1-105v2m0 127v7m1-152v2m13-2v1m1 7v1m1 7v1m1 9v1m1 9v2m1 7v2m1 6v1m1 6v1m1 6v1m1 4v1m1 4v1m1 5v1m1 12v2m1 20v2m94-112v1m0 154v1m1-140v1m0 88v14m1-88v2m0 12v6m40-35v2m1 6v2m1 3v2m1 1v2m1 1v1m1 0v1m1 0v1m1 0v1m1 0v1m1 0v1m1-1v1m1 0v1m1-1v1m1 0v1m1-1v1m1 0v1m1-1v1m1-1v1m1 0v1m1-1v1m1-1v1m1 0v1m1-1v1m1-1v1m1 0v1m1-1v1m1-1v1m1 0v1m1-1v1m1 0v1m1-1v1m1 0v1m1-1v1m1 0v1m1-1v1m1 0v1m2 0v1m2 0v1m1-1v1m1 0v1m1-1v1m1 0v1m1-1v1m1 0v1m1-1v1m1 0v1m1-1v1m1 0v1m2 0v1m2 0v1m1 0v1m2 0v1m1 0v1m1 0v1m3 1v1m1 0v1m1 0v1m1 0v1m1 0v1m1 1v1m1 1v1m1 1v1m1 2v1m1 1v1m1 2v1m1 3v1m1 2v1m1 3v1m1 2v1m1 2v1m1 3v1m1 3v1m1 2v2m1 2v1m1 2v1m1 2v1m1 1v1m1 1v1m1 1v1m1 0v2m1 0v2m1 0v1m1 1v1m1 0v2m1 0v1m1 0v2m1 0v2m1-1v2m1 0v2m1 0v2m1-1v2m1 0v2m1 0v2m1 0v2m1-1v3m1-1v3m1 0v3m1-1v3m1-1v5m1-2v2"/>
<path stroke="#8cd1a4" d="M79 322v1m3 21v1m2-45v1m0 12v1m0 45v1m1-62v1m0 31v2m1-34v1m0 50v2m0 29v1m1-81v1m0 75v2m0 15v2m1-92v1m2 11v1m3 19v1m2 12v1m1-45v6m1-7v1m0 18v2m0 38v1m1-24v1m1-31v1m0 47v1m0 25v1m1-69v1m0 65v3m0 11v2m1-76v1m1 4v1m1 5v1m2-38v3m0 5v2m0 40v1m1-59v1m0 28v1m0 34v1m2-73v1m1 72v1m0 20v1m1-102v1m0 94v1m0 18v1m1-127v2m15-9v1m1 7v1m1 8v2m1 9v1m1 8v1m1 7v1m1 6v1m1 6v1m3 15v1m1 11v2m1 20v2m94 43v2m1-138v1m0 69v18m1-72v12m40-32v3m1 7v1m1 4v1m1 2v1m1 2v1m1 0v1m1 0v1m1 0v1m1 0v1m1 0v1m2 0v1m2 0v1m1-1v1m1 0v1m1-1v1m1-1v1m1 0v1m1-1v1m1-1v1m1 0v1m1-1v1m1-1v1m1 0v1m1-1v1m2 0v1m1-1v1m1 0v1m1-1v1m1 0v1m2 0v1m2 0v1m1 0v1m1-1v1m1 0v1m1-1v1m2 0v1m2 0v1m2 0v1m2 0v1m2 0v1m1 0v1m2 0v1m2 0v1m1 0v1m3 1v1m1 0v1m1 0v1m3 1v1m1 0v1m2 2v1m1 1v1m1 1v1m1 2v1m1 1v1m1 2v1m1 3v1m1 2v1m1 3v1m1 2v1m1 2v1m1 3v1m1 2v2m1 2v1m1 3v1m1 2v1m1 1v2m1 0v2m1 0v2m1 0v2m1 0v1m1 1v1m1 0v2m1 0v2m1 0v1m1 0v2m1 0v1m1 0v2m1 0v1m1 0v2m1 0v2m1-1v2m1 0v2m1 0v2m1-1v3m1-1v2m1 0v2m1 0v3m1-1v3m1-1v3m1-1v4m1-1v3"/>
<path stroke="#8fd2a4" d="M80 328v1m1 7v1m2 14v1m1-53v1m0 14v2m1-19v1m0 34v1m0 34v1m1-17v1m0 27v1m1-81v1m0 78v3m0 10v2m1-91v1m1 4v1m1 6v1m1 6v1m1 5v1m1 6v1m1 6v1m2-39v1m0 6v2m1-10v1m0 21v2m1-22v1m0 35v1m0 29v1m1-63v1m0 49v1m0 23v1m1 1v3m0 5v3m5-101v1m0 10v1m2-24v1m0 45v1m0 28v1m1-18v1m0 23v1m1-90v1m0 77v1m1-83v1m0 96v1m0 15v2m1-128v2m16 0v1m1 8v1m1 9v2m1 8v1m1 7v1m1 6v1m1 6v1m1 5v1m1 4v1m1 4v1m1 10v2m1 19v3m94-107v1m0 150v1m1-74v8m41-76v2m1 8v2m1 3v2m1 2v1m1 1v2m1 0v1m3 2v1m1 0v1m1 0v1m1-1v1m1 0v1m1-1v1m1-1v1m1 0v1m1-1v1m2 0v1m1-1v1m1-1v1m1 0v1m1-1v1m1-1v1m1 0v1m1-1v1m1 0v1m1-1v1m2 0v1m2 0v1m1 0v1m1-1v1m1 0v1m1-1v1m1 0v1m2 0v1m2 0v1m2 0v1m2 0v1m2 0v1m2 0v1m2 0v1m1 0v1m1-1v1m1 0v1m2 0v1m1 0v1m1 0v1m2 0v1m1 0v1m1 0v1m1 0v1m3 2v1m1 0v1m1 1v1m1 1v1m1 2v1m1 1v1m2 6v1m1 2v1m1 3v1m1 2v1m1 2v1m1 3v1m1 2v1m1 3v1m1 2v2m1 1v2m1 1v1m1 1v1m1 1v1m1 1v1m1 0v2m1 0v2m1 0v1m1 0v2m1 0v2m1-1v2m1 0v2m1-1v2m1 0v2m1-1v2m1 0v2m1-1v2m1 0v2m1-1v3m1-1v2m1 0v2m1-1v3m1-1v3m1-1v3m1-1v3m1-1v3m1-1v4m1-1v4m1-2v2"/>
<path stroke="#91d3a4" d="M79 321v1m1 5v1m2 15v1m2-46v1m0 17v1m0 41v1m1-26v1m1-37v1m0 54v1m0 25v1m1 2v10m2-85v1m7-6v2m0 9v1m0 41v1m1-54v1m0 24v1m0 34v1m1-59v1m0 37v1m1-35v1m0 51v1m0 21v1m1-68v1m0 72v5m1-72v1m1 4v1m1 5v1m1 6v1m1-47v2m0 12v1m0 37v1m1-59v1m0 30v1m0 32v1m1-22v1m1-52v1m0 62v1m1 30v1m1-103v1m0 98v1m0 13v1m1-127v1m15-6v1m1 6v1m1 8v1m1 9v1m1 9v1m1 7v1m1 6v1m1 6v1m1 5v1m1 4v1m2 14v2m1 19v2m94-103v1m0 148v1m1-134v1m0 57v3m41-69v1m1 8v2m1 4v1m1 3v1m1 1v1m1 1v1m1 1v1m1 0v1m1-1v1m1 0v1m1 0v1m1-1v1m1 0v1m1-1v1m2 0v1m1-1v1m1 0v1m1-1v1m1-1v1m2 0v1m1-1v1m2 0v1m1-1v1m1 0v1m1-1v1m1 0v1m1-1v1m1 0v1m1-1v1m1 0v1m1-1v1m1 0v1m2 0v1m1 0v1m1-1v1m1 0v1m1-1v1m1 0v1m1-1v1m1 0v1m1-1v1m1 0v1m1-1v1m1 0v1m1-1v1m1 0v1m2 0v1m2 0v1m1 0v1m3 1v1m1 0v1m3 1v1m1 0v1m1 0v1m1 0v1m1 0v1m2 2v1m1 1v1m1 2v1m1 1v1m1 3v1m1 2v1m1 2v1m1 3v1m1 2v1m1 2v1m1 3v1m1 2v1m1 3v1m1 2v1m1 2v1m1 2v1m1 1v1m1 0v2m1 0v2m1 0v1m1 1v1m1 0v2m1 0v1m1 0v2m1 0v1m1 0v2m1 0v1m1 0v2m1 0v1m1 0v2m1-1v2m1 0v2m1-1v2m1 0v2m1 0v2m1-1v2m1 0v2m1 0v2m1-1v3m1-1v3m1-1v3m1-1v4m1-1v3m1-1v3"/>
<path stroke="#94d4a4" d="M81 335v1m2 14v1m1-54v1m0 19v1m1-22v1m0 37v1m0 31v1m1-71v1m0 56v1m0 22v2m1-80v1m1 2v1m2 11v1m1 6v1m1 5v1m1 6v1m2 13v1m1-48v1m0 12v1m1-14v1m0 26v2m1 13v1m0 26v1m1-10v1m0 19v1m1-68v1m1 5v1m4-29v1m0 15v1m1-23v1m0 32v1m1-38v1m0 48v1m0 25v1m1 6v1m1-90v1m0 79v1m0 16v1m1-103v1m0 100v2m0 10v1m1-128v2m15-6v1m2 15v1m1 9v1m1 9v1m1 7v1m1 6v1m1 6v1m1 5v1m2 10v1m1 7v2m1 19v2m1 56v9m93-165v1m0 145v2m1-132v1m0 54v2m41-68v2m1 8v1m1 4v2m1 2v2m1 1v1m1 1v1m1 1v1m1 0v1m2 0v1m1 0v1m1-1v1m1 0v1m1-1v1m1 0v1m1-1v1m1-1v1m1 0v1m1-1v1m1-1v1m1 0v1m1-1v1m1-1v1m1 0v1m1-1v1m1-1v1m1 0v1m1-1v1m1 0v1m1-1v1m1 0v1m1-1v1m1 0v1m2 0v1m1 0v1m1-1v1m1 0v1m2 0v1m2 0v1m2 0v1m2 0v1m2 0v1m2 0v1m1 0v1m1-1v1m1 0v1m2 0v1m1 0v1m1 0v1m2 0v1m1 0v1m1 0v1m3 1v1m1 0v1m2 2v1m3 5v1m2 5v1m1 2v1m1 2v1m1 3v1m1 2v1m1 2v1m1 3v1m1 2v1m1 3v1m1 2v1m1 2v1m1 1v2m1 0v2m1 0v1m1 1v1m1 1v1m1 0v2m1 0v1m1 0v2m1 0v1m1 0v2m1 0v1m1 0v2m1 0v1m1 0v2m1-1v2m1 0v1m1 0v2m1 0v1m1 0v2m1 0v2m1-1v2m1 0v2m1-1v3m1-1v2m1 0v2m1 0v2m1-1v3m1-1v4m1-2v4m1-1v4m1-2v2"/>
<path stroke="#97d5a4" d="M79 320v1m1 5v1m1 7v1m2-33v3m1-9v1m0 21v2m0 37v1m1-63v1m0 39v1m1 18v2m0 19v1m3-71v1m1 6v1m4 27v1m2-42v1m0 14v1m1 14v1m1-28v1m0 40v1m0 24v1m1-63v1m0 54v1m0 17v1m1-68v1m3 17v1m1 6v1m1-49v2m0 17v1m0 34v1m3-67v1m0 64v1m1 12v1m1-88v1m0 103v2m0 6v2m1-128v1m15-5v1m1 7v1m1 7v1m1 9v1m1 8v2m1 7v1m1 6v1m1 6v1m2 11v1m1 4v1m1 6v2m1 18v3m1 51v7m93-11v1m1-129v1m0 51v2m41-67v1m1 8v2m1 4v1m1 3v1m1 2v1m1 1v1m1 1v1m1 0v1m1 0v1m1-1v1m1 0v1m2 0v1m1-1v1m1 0v1m1-1v1m2 0v1m1-1v1m2 0v1m1-1v1m1-1v1m1 0v1m1-1v1m2 0v1m1-1v1m1 0v1m1-1v1m1 0v1m2 0v1m1 0v1m1-1v1m1 0v1m2 0v1m1 0v1m1-1v1m1 0v1m2 0v1m2 0v1m2 0v1m2 0v1m2 0v1m2 0v1m1 0v1m3 1v1m1 0v1m3 1v1m1 0v1m1 0v1m3 2v1m1 0v1m1 1v1m1 1v1m1 1v1m1 2v1m1 2v1m1 2v1m1 2v1m1 3v1m1 2v1m1 2v1m1 3v1m1 2v1m1 3v1m1 2v1m1 2v1m1 1v1m1 1v1m1 1v1m1 0v2m1 0v2m1 0v1m1 0v2m1 0v1m1 0v2m1 0v1m1 0v2m1 0v1m1 0v2m1-1v2m1 0v1m1 0v2m1-1v2m1 0v2m1-1v2m1 0v2m1-1v2m1 0v2m1-1v2m1 0v2m1-1v3m1-1v3m1-1v2m1 0v2m1-1v3m1-1v4m1-1v3m1-1v3"/>
<path stroke="#99d6a4" d="M82 342v1m1-44v3m0 3v2m1-12v1m0 24v1m1-27v1m0 41v1m0 28v1m1-71v1m0 60v1m0 17v1m1-78v1m1 2v1m3 18v1m1 5v1m1 6v1m2 13v1m1-49v1m0 16v1m0 37v1m1-55v1m0 30v1m0 29v1m1-60v1m0 42v1m1-40v1m0 56v2m0 13v2m2-61v1m1 5v1m3-37v1m0 20v1m1-26v1m0 34v1m0 29v1m1-70v1m0 50v1m1 11v1m1-71v1m0 82v1m0 13v1m1-105v2m0 106v6m1-128v2m16 3v1m1 7v1m1 8v2m1 8v1m1 8v1m1 6v1m1 6v1m1 6v1m1 4v1m1 4v1m1 6v1m1 18v2m1 49v5m93-148v1m0 141v2m1-78v2m41-66v1m1 8v1m1 5v1m1 3v1m1 2v1m1 1v1m1 1v1m1 0v1m1 0v1m2 0v1m1 0v1m1-1v1m2 0v1m1-1v1m1 0v1m1-1v1m1-1v1m1 0v1m1-1v1m1-1v1m2 0v1m1-1v1m1 0v1m1-1v1m2 0v1m2 0v1m1 0v1m1-1v1m1 0v1m2 0v1m1 0v1m2 0v1m2 0v1m1 0v1m1-1v1m1 0v1m1-1v1m1 0v1m2 0v1m2 0v1m2 0v1m2 0v1m1 0v1m1 0v1m2 0v1m1 0v1m1 0v1m2 0v1m1 0v1m1 0v1m1 0v1m1 0v1m2 2v1m1 1v1m1 1v1m1 2v1m1 2v1m1 2v1m1 2v1m1 3v1m1 2v1m1 2v1m1 3v1m1 2v1m1 2v2m1 2v1m1 1v2m1 1v1m1 1v1m1 0v2m1 0v1m1 1v1m1 0v2m1 0v1m1 0v2m1 0v1m1 0v2m1 0v1m1 0v2m1-1v2m1 0v1m1 0v2m1-1v2m1 0v1m1 0v2m1-1v2m1 0v2m1-1v2m1-1v3m1-1v2m1-1v3m1-1v2m1 0v2m1-1v3m1-1v3m1-1v2m1 0v2m1-1v4m1-2v4m1-1v4m1-2v2"/>
<path stroke="#9cd7a4" d="M79 319v1m2 13v1m2-36v1m0 8v2m0 40v1m1-56v1m0 26v1m1 15v1m1 19v1m0 15v1m3-70v1m1 6v1m4 27v1m2-24v1m1-19v1m0 32v1m1 13v1m0 21v1m1-4v1m0 11v1m1-66v1m3 17v1m1 6v1m2-54v1m0 36v1m1 11v1m0 22v1m1-80v1m0 85v1m1-91v1m0 96v1m1-106v2m1-15v1m15-3v1m1 6v1m1 7v1m1 8v1m1 9v1m1 8v1m1 6v1m1 6v1m1 6v1m3 16v1m1 17v2m1 46v5m93-142v1m0 138v2m1-125v1m0 47v1m41-66v2m1 7v2m1 4v2m1 3v1m1 2v1m1 1v1m1 1v1m1 0v1m1 0v1m1 0v1m1-1v1m1 0v1m1-1v1m1 0v1m1-1v1m2 0v1m1-1v1m2 0v1m1-1v1m1-1v1m1 0v1m1-1v1m2 0v1m1-1v1m1 0v1m1-1v1m1 0v1m1-1v1m1 0v1m2 0v1m1 0v1m2 0v1m1 0v1m1-1v1m1 0v1m2 0v1m2 0v1m2 0v1m1 0v1m1-1v1m1 0v1m1-1v1m1 0v1m2 0v1m3 1v1m1 0v1m2 0v1m1 0v1m1 0v1m6 5v1m1 0v1m1 1v1m1 1v1m1 2v1m1 2v1m1 2v1m1 2v1m1 3v1m1 2v1m1 2v1m1 3v1m1 2v1m1 2v1m1 3v1m1 1v1m1 2v1m1 1v1m1 0v1m1 1v1m1 0v2m1 0v1m1 0v2m1 0v1m1 0v2m1 0v1m1 0v2m1-1v2m1 0v1m1 0v2m1-1v2m1 0v1m1 0v2m1-1v2m1-1v2m1 0v2m1-1v2m1 0v1m1 0v2m1-1v2m1 0v2m1-1v3m1-1v2m1 0v2m1-1v3m1-1v3m1-1v2m1 0v2m1-1v4m1-2v4m1-1v3m1-1v1"/>
<path stroke="#9fd8a4" d="M80 325v1m2 15v1m1-45v1m0 11v1m1 12v1m0 33v1m1-64v1m0 44v1m0 25v1m1-71v1m0 63v2m0 12v1m1-77v1m1 2v1m2 10v1m1 7v1m2 12v1m2-32v7m1-10v1m0 19v1m0 34v1m1-21v1m0 26v1m1-60v1m0 45v1m1-43v1m0 60v2m0 7v2m1-66v1m1 6v1m1 5v1m3-37v1m0 22v1m0 31v1m2-64v1m1 64v1m1 12v1m1-96v2m1-14v1m15-3v1m2 14v1m1 8v1m1 9v1m1 7v2m1 6v1m2 13v1m1 5v1m1 4v1m1 5v1m1 15v3m1 44v4m93-136v1m0 136v1m1-122v1m0 44v2m41-68v3m1 8v1m1 5v1m1 3v2m1 2v1m1 1v1m1 1v1m1 0v1m1 0v1m1 0v1m2 0v1m2 0v1m1-1v1m1 0v1m1-1v1m1-1v1m1 0v1m1-1v1m1-1v1m2 0v1m1-1v1m1 0v1m1-1v1m1-1v1m1 0v1m1-1v1m1 0v1m2 0v1m1 0v1m1-1v1m1 0v1m1 0v1m2 0v1m2 0v1m1 0v1m2 0v1m2 0v1m2 0v1m2 0v1m2 0v1m1 0v1m2 0v1m1 0v1m2 0v1m1 0v1m3 1v1m1 0v1m1 0v1m1 0v1m1 0v1m1 0v1m1 0v1m2 2v1m2 4v1m1 2v1m1 2v1m1 2v1m1 3v1m1 2v1m1 2v1m1 3v1m1 2v1m1 2v1m1 2v2m1 1v1m1 2v1m1 0v2m1 0v1m1 1v1m1 0v1m1 1v1m1 0v1m1 0v2m1 0v1m1 0v2m1 0v1m1 0v1m1 0v2m1-1v2m1 0v1m1 0v2m1-1v2m1-1v2m1 0v1m1 0v2m1-1v2m1 0v2m1-1v2m1-1v2m1 0v2m1-1v2m1 0v2m1-1v3m1-1v2m1 0v2m1-1v3m1-1v3m1-1v2m1-1v3m1-1v4m1-2v4m1-2v3"/>
<path stroke="#a2d9a4" d="M79 318v1m2 13v1m2-38v2m0 13v1m0 37v1m1-56v1m0 29v1m1 15v1m1-47v1m0 66v1m0 10v1m1-77v1m2 7v1m3 20v1m2 13v1m1-41v2m0 7v1m0 37v1m1-50v1m0 21v1m1-22v1m0 35v1m1 13v1m0 18v1m1 0v7m5-39v1m1-50v1m1-5v1m0 38v1m0 26v1m1-16v1m1-59v1m0 69v1m0 15v1m1-91v1m0 86v1m0 9v1m1-108v1m1-13v1m15-3v1m1 7v1m1 6v1m1 8v1m1 8v2m1 7v1m1 7v1m1 7v1m2 11v1m1 4v1m1 5v1m1 14v2m1 43v4m93 3v2m1-78v2m41-69v3m1 10v1m1 5v1m1 3v1m1 3v1m2 3v1m3 2v1m1 0v1m1-1v1m1 0v1m1-1v1m2 0v1m1-1v1m2 0v1m1-1v1m2 0v1m1-1v1m2 0v1m1-1v1m2 0v1m2 0v1m1 0v1m1-1v1m1 0v1m2 0v1m1 0v1m1 0v1m1-1v1m1 0v1m2 0v1m1 0v1m2 0v1m2 0v1m2 0v1m2 0v1m2 0v1m1 0v1m2 0v1m1 0v1m2 0v1m1 0v1m1 0v1m3 1v1m1 0v1m1 0v1m1 0v1m2 2v1m2 3v1m1 1v1m1 2v1m1 2v1m2 6v1m1 2v1m1 2v1m1 3v1m1 2v1m1 2v1m1 2v1m1 2v1m1 1v2m1 0v1m1 1v1m1 0v2m1 0v1m1 0v2m1 0v1m1 0v1m1 0v2m1 0v1m1 0v2m1-1v2m1 0v1m1 0v1m1 0v2m1-1v2m1-1v2m1 0v1m1 0v2m1-1v2m1-1v2m1 0v2m1-1v2m1-1v2m1 0v2m1-1v2m1 0v2m1-1v2m1 0v2m1-1v3m1-1v2m1-1v3m1-1v3m1-1v2m1-1v3m1-1v3m1-1v3m1-1v4m1-2v2"/>
<path stroke="#a4daa4" d="M80 324v1m2 15v1m1-47v1m1-3v1m0 31v1m0 30v1m1-64v1m0 47v1m0 22v1m1-3v3m0 4v3m2-73v1m2 10v1m1 7v1m2 12v1m2-34v1m0 10v1m1-14v1m0 23v1m1-24v1m1 2v1m0 48v1m1-46v1m1 5v1m1 6v1m1 5v1m1 5v1m1-37v7m1-14v1m0 25v1m1 10v1m1-45v1m0 75v1m1-81v1m1-5v1m0 88v1m0 7v1m1-109v2m1-14v2m16 5v1m2 15v1m1 8v1m1 8v1m1 7v1m1 7v1m1 6v1m3 15v1m1 13v2m1 41v4m93-127v1m0 131v2m1-118v1m0 40v1m41-71v4m1 12v1m1 5v1m1 3v1m1 3v1m1 2v1m2 2v1m1 0v1m2 0v1m2 0v1m2 0v1m1-1v1m2 0v1m1-1v1m2 0v1m1-1v1m1-1v1m1 0v1m1-1v1m1-1v1m1 0v1m1-1v1m1 0v1m1-1v1m1 0v1m2 0v1m1 0v1m2 0v1m1 0v1m2 0v1m1 0v1m2 0v1m1 0v1m1-1v1m1 0v1m2 0v1m2 0v1m2 0v1m2 0v1m1 0v1m2 0v1m1 0v1m3 1v1m1 0v1m1 0v1m5 4v1m1 0v1m1 1v1m1 1v1m1 1v1m1 2v1m1 2v1m1 3v1m1 2v1m1 2v1m1 2v1m1 3v1m1 2v1m1 2v1m1 2v1m1 2v1m1 1v1m1 1v1m1 1v1m1 0v1m1 1v1m1 0v1m1 0v2m1 0v1m1 0v1m1 0v2m1 0v1m1 0v1m1 0v2m1-1v2m1-1v2m1 0v1m1 0v1m1 0v2m1-1v2m1-1v2m1 0v1m1 0v2m1-1v2m1 0v1m1 0v2m1-1v2m1 0v2m1-1v2m1 0v2m1-1v2m1 0v2m1-1v2m1 0v2m1-1v3m1-1v2m1-1v3m1-1v3m1-1v3m1-1v3m1-1v3m1-1v1"/>
<path stroke="#a7dba4" d="M79 317v1m2 13v1m2-39v1m0 17v1m1-21v1m0 33v1m1-35v1m0 49v1m0 20v1m1-71v1m0 71v4m1-74v1m2 7v1m3 20v1m2 13v1m1-42v1m0 12v1m1 10v1m0 30v1m1-18v1m0 23v1m1-10v1m0 15v1m6-76v2m0 7v1m0 34v1m1-23v1m0 28v1m1-61v1m0 65v1m1-14v1m1 11v1m0 13v1m1-92v1m0 90v2m0 4v1m1-109v1m1-13v1m15-1v1m1 6v1m1 7v1m1 7v1m1 8v1m1 8v1m1 7v1m1 7v1m1 6v1m1 5v1m1 4v1m2 16v3m1 39v4m92 37v1m1-160v1m0 127v3m1-115v1m0 37v2m41-72v2m1 15v1m1 5v1m1 3v1m1 3v1m1 2v1m1 1v1m1 0v1m1 0v1m1 0v1m1-1v1m1 0v1m1-1v1m1 0v1m1-1v1m2 0v1m1-1v1m1-1v1m1 0v1m1-1v1m1-1v1m2 0v1m1-1v1m2 0v1m2 0v1m2 0v1m1 0v1m1-1v1m1 0v1m1 0v1m2 0v1m1 0v1m2 0v1m1 0v1m2 0v1m2 0v1m1 0v1m2 0v1m2 0v1m2 0v1m2 0v1m1 0v1m2 0v1m1 0v1m1 0v1m3 1v1m1 0v1m1 0v1m1 0v1m1 0v1m1 0v1m2 2v1m1 1v1m1 1v1m1 2v1m1 2v1m1 3v1m1 2v1m1 2v1m1 2v1m1 3v1m1 2v1m1 2v1m1 2v1m1 2v1m1 1v1m1 1v1m1 0v2m1 0v1m1 0v2m1 0v1m1 0v1m1 0v2m1 0v1m1 0v1m1 0v2m1-1v2m1-1v2m1 0v1m1 0v1m1 0v2m1-1v2m1-1v2m1 0v1m1 0v1m1 0v2m1-1v2m1-1v2m1 0v2m1-1v2m1-1v2m1 0v2m1-1v2m1 0v2m1-1v2m1-1v3m1-1v2m1-1v3m1-1v2m1-1v3m1-1v2m1-1v3m1-1v3m1-1v3m1-2v4m1-2v4m1-2v3m1-1v1"/>
<path stroke="#aadca4" d="M80 323v1m2 15v1m1-48v1m0 19v1m0 34v1m1-22v1m0 27v1m1-13v1m3-46v1m2 10v1m1 7v1m2 12v1m2-35v1m0 14v1m0 33v1m1-51v1m0 26v1m1-27v1m0 39v1m1-38v1m0 51v1m0 13v1m1-63v1m1 5v1m1 6v1m2 11v1m1-39v1m0 10v2m1-18v1m1 38v1m1-47v1m0 57v1m0 17v1m1-81v1m0 73v1m1-80v1m0 93v4m1-110v2m17-6v1m1 7v1m1 7v1m1 8v1m1 8v1m1 7v1m1 7v1m1 6v1m1 5v1m2 10v1m1 9v2m1 38v4m92 39v2m1-158v1m0 124v2m1-76v2m43-48v1m1 3v1m1 3v1m1 2v1m1 1v1m1 0v1m1 0v1m1 0v1m2 0v1m2 0v1m1-1v1m1 0v1m1-1v1m1-1v1m2 0v1m1-1v1m2 0v1m1-1v1m2 0v1m1-1v1m1 0v1m1-1v1m1 0v1m1-1v1m1 0v1m2 0v1m1 0v1m1 0v1m2 0v1m1 0v1m2 0v1m1 0v1m2 0v1m2 0v1m1 0v1m1-1v1m1 0v1m2 0v1m2 0v1m2 0v1m1 0v1m3 1v1m1 0v1m1 0v1m3 1v1m1 0v1m1 0v1m2 2v1m2 2v1m2 4v1m1 2v1m1 3v1m1 2v1m1 2v1m1 2v1m1 3v1m1 2v1m1 2v1m1 2v1m1 2v1m1 1v1m1 1v1m1 0v1m1 1v1m1 0v1m1 1v1m1 0v1m1 0v1m1 0v2m1-1v2m1 0v1m1 0v1m1 0v1m1 0v2m1-1v2m1-1v2m1 0v1m1 0v1m1 0v2m1-1v2m1-1v2m1-1v2m1 0v1m1 0v2m1-1v2m1 0v1m1 0v2m1-1v2m1 0v2m1-1v2m1-1v2m1 0v2m1-1v2m1 0v2m1-1v2m1-1v3m1-1v2m1-1v3m1-1v3m1-1v2m1-1v3m1-1v3m1-2v4m1-2v3m1-1v1"/>
<path stroke="#acdda4" d="M79 316v1m2 13v1m2-18v1m1-24v1m0 36v1m1-38v1m0 52v1m0 17v1m1-71v1m1 1v1m2 7v1m3 20v1m3-29v1m1-2v1m0 28v1m1 13v1m0 20v1m1-7v1m4-31v1m2-34v1m0 13v1m1 10v1m0 26v1m1-61v1m1-5v1m1 82v1m1-94v2m1-13v1m18 3v1m1 7v1m1 8v1m1 8v1m1 7v1m1 7v1m1 6v1m2 11v1m1 4v1m1 8v2m1 36v4m92 42v1m1-34v3m1-109v1m0 31v3m42-52v1m1 4v1m1 3v1m1 3v1m1 2v1m1 1v1m3 2v1m1 0v1m2 0v1m1-1v1m2 0v1m1-1v1m2 0v1m1-1v1m2 0v1m1-1v1m2 0v1m1-1v1m2 0v1m2 0v1m2 0v1m1 0v1m2 0v1m1 0v1m1 0v1m2 0v1m1 0v1m2 0v1m1 0v1m2 0v1m2 0v1m2 0v1m1 0v1m2 0v1m2 0v1m3 1v1m1 0v1m2 0v1m1 0v1m1 0v1m1 0v1m4 3v1m1 0v1m1 1v1m2 3v1m1 1v1m1 2v1m1 3v1m1 2v1m1 2v1m1 2v1m1 3v1m1 2v1m1 2v1m1 2v1m1 2v1m1 1v1m1 1v1m1 0v1m1 1v1m1 0v1m1 0v2m1 0v1m1 0v1m1 0v1m1 0v1m1 0v2m1-1v2m1 0v1m1 0v1m1 0v1m1 0v1m1 0v2m1-1v2m1-1v2m1-1v2m1 0v1m1 0v1m1 0v2m1-1v2m1 0v1m1 0v2m1-1v2m1-1v2m1 0v2m1-1v2m1-1v2m1 0v2m1-1v2m1-1v3m1-1v2m1-1v2m1 0v2m1-1v2m1 0v2m1-1v3m1-2v3m1-1v3m1-2v3m1-1v3m1-1v3m1-2v3m1-1v1"/>
<path stroke="#aedea3" d="M83 291v1m0 54v1m1-58v1m0 38v1m1-40v1m0 54v1m0 15v1m3-65v1m2 10v1m1 7v1m3 20v1m1-44v1m0 17v1m0 31v1m1-21v1m0 26v1m1-57v1m0 42v1m1-41v1m0 54v1m0 10v1m2-57v1m4-21v1m0 15v1m0 29v1m1-51v1m1 40v1m0 21v1m1-11v1m1-65v1m0 75v1m0 9v1m1-95v2m1-12v1m17-4v1m1 6v1m1 7v1m1 8v1m1 8v1m1 7v1m1 7v1m1 6v1m1 6v1m1 4v1m2 12v2m1 34v4m92-126v1m0 170v1m1-154v1m0 116v4m1-105v1m0 27v3m42-50v1m1 4v1m1 3v1m1 3v1m1 2v1m1 1v1m1 1v1m1 0v1m2 0v1m1 0v1m1-1v1m2 0v1m1-1v1m2 0v1m1-1v1m2 0v1m1-1v1m1-1v1m1 0v1m1-1v1m1-1v1m1 0v1m1-1v1m1 0v1m1-1v1m1 0v1m2 0v1m1 0v1m2 0v1m1 0v1m1 0v1m2 0v1m1 0v1m2 0v1m1 0v1m2 0v1m2 0v1m2 0v1m1 0v1m2 0v1m2 0v1m1 0v1m2 0v1m1 0v1m3 1v1m1 0v1m1 0v1m1 0v1m1 0v1m1 0v1m2 2v1m1 1v1m1 1v1m3 8v1m1 2v1m1 2v1m2 6v1m1 2v1m1 2v1m1 2v1m1 2v1m1 1v1m1 1v1m1 0v1m1 1v1m1 0v1m1 0v1m1 0v2m1 0v1m1 0v1m1 0v1m1 0v1m1 0v1m1 0v2m1-1v2m1-1v2m1-1v2m1-1v2m1 0v1m1 0v1m1 0v1m1 0v2m1-1v2m1-1v2m1 0v1m1 0v2m1-1v2m1-1v2m1 0v1m1 0v2m1-1v2m1 0v1m1 0v2m1-1v2m1-1v2m1 0v2m1-1v2m1-1v3m1-1v2m1-1v3m1-1v2m1-1v2m1-1v3m1-1v2m1-1v3m1-1v3m1-2v3m1-1v3m1-2v3m1-1v1"/>
<path stroke="#b1dfa3" d="M79 315v1m1 6v1m2 15v1m1-49v1m0 23v1m1 14v1m0 23v1m1-9v2m1-57v1m1 1v1m6 35v1m2-37v1m0 19v1m1-21v1m0 31v1m1 31v1m1-4v1m0 8v1m1-62v1m2 12v1m1 5v1m1 5v1m1-41v1m1 27v1m1-36v1m0 45v1m1-51v1m0 61v1m0 14v1m1-82v1m0 77v1m1-87v1m1-11v1m17-4v1m2 14v1m1 8v1m1 8v1m1 7v1m1 7v1m2 13v1m2 10v1m1 6v1m1 32v4m92 48v1m1-152v1m0 72v17m0 18v8m1-100v1m0 23v3m42-48v1m1 4v1m1 3v1m1 3v1m1 2v1m2 3v1m1 0v1m1 0v1m2 0v1m2 0v1m1-1v1m2 0v1m1-1v1m2 0v1m1-1v1m3 0v1m1-1v1m2 0v1m2 0v1m2 0v1m1 0v1m2 0v1m1 0v1m3 1v1m1 0v1m3 1v1m2 0v1m1 0v1m2 0v1m2 0v1m2 0v1m1 0v1m2 0v1m2 0v1m1 0v1m3 1v1m1 0v1m4 2v1m1 0v1m2 2v1m1 0v1m1 1v1m1 1v1m1 2v1m1 2v1m1 2v1m1 2v1m1 2v1m1 3v1m1 2v1m1 2v1m1 2v1m1 2v1m1 2v1m1 1v1m1 1v1m1 0v1m1 0v2m1 0v1m1 0v1m1 0v1m1 0v2m1 0v1m1 0v1m1 0v1m1 0v1m1 0v1m1 0v1m1 0v1m1 0v1m1 0v1m1 0v2m1-1v2m1-1v2m1-1v2m1-1v2m1 0v1m1 0v2m1-1v2m1-1v2m1 0v1m1 0v2m1-1v2m1-1v2m1 0v2m1-1v2m1-1v2m1 0v1m1 0v2m1-1v2m1-1v2m1 0v2m1-1v2m1-1v3m1-1v2m1-1v2m1-1v3m1-1v2m1-1v3m1-2v3m1-1v3m1-2v3m1-2v4m1-2v3m1-2v2m1-1v1"/>
<path stroke="#b3e0a2" d="M81 329v1m1-34v5m1-12v1m0 25v1m0 29v1m1-58v1m0 41v1m1-43v1m0 58v1m0 11v1m1-71v1m2 5v1m1 4v1m1 5v1m1 7v1m1 6v1m2 13v1m1-45v1m1-1v1m0 33v1m0 23v1m1-57v1m0 44v1m1-43v1m0 57v2m0 5v1m2-56v1m4-22v1m0 18v1m0 27v1m1-51v1m0 56v1m1-62v1m2-9v1m0 79v1m0 6v1m1-97v2m1-12v2m18 4v1m1 6v1m1 8v1m1 8v1m1 7v1m1 7v1m1 7v1m2 11v1m2 11v1m1 29v4m92-117v1m0 167v1m1-150v1m0 64v7m0 17v18m1-91v1m0 20v2m42-46v1m2 8v1m1 3v1m2 5v1m4 3v1m2 0v1m1-1v1m2 0v1m1-1v1m2 0v1m1-1v1m2 0v1m1-1v1m1-1v1m2 0v1m1-1v1m1 0v1m1-1v1m1 0v1m1-1v1m1 0v1m1 0v1m2 0v1m1 0v1m1 0v1m2 0v1m1 0v1m1 0v1m2 0v1m3 1v1m2 0v1m2 0v1m2 0v1m1 0v1m2 0v1m3 1v1m1 0v1m2 0v1m1 0v1m1 0v1m1 0v1m3 2v1m1 0v1m2 2v1m2 4v1m1 2v1m1 2v1m1 2v1m1 2v1m1 3v1m1 2v1m1 2v1m1 2v1m1 2v1m1 2v1m1 1v1m1 1v1m1 0v1m1 0v1m1 1v1m1 0v1m1 0v1m1 0v1m1 0v2m1-1v2m1-1v2m1-1v2m1-1v2m1-1v2m1-1v2m1-1v2m1-1v2m1-1v2m1-1v2m1 0v1m1 0v1m1 0v1m1 0v2m1-1v2m1-1v2m1 0v1m1 0v2m1-1v2m1-1v2m1 0v1m1 0v2m1-1v2m1-1v2m1 0v2m1-1v2m1-1v2m1-1v2m1 0v2m1-1v2m1-1v2m1-1v3m1-1v2m1-1v2m1-1v3m1-1v2m1-1v2m1-1v3m1-2v3m1-1v2m1-1v3m1-2v3m1-2v3m1-2v3m1-2v2m1-1v1"/>
<path stroke="#b5e1a2" d="M80 321v1m2-28v2m0 5v2m0 34v1m1-50v1m1-2v1m0 43v1m0 20v1m1-5v1m0 9v1m2-68v1m7 4v4m1 13v1m0 28v1m2-4v1m0 15v1m1 0v5m1-61v1m2 12v1m3-9v1m1-25v1m0 33v1m1 10v1m0 18v1m1-72v1m0 63v1m0 12v1m1-83v1m0 81v1m0 4v1m1-97v1m1-11v1m17-2v1m1 6v1m2 15v1m1 8v1m2 15v1m1 7v1m1 6v1m2 10v1m1 5v1m1 27v3m92-112v1m0 165v1m1-148v1m0 61v2m1-48v1m0 17v2m43-39v1m2 6v1m1 3v1m1 1v1m1 1v1m1 0v1m1 0v1m1-1v1m1 0v1m1-1v1m2 0v1m3 0v1m1-1v1m2 0v1m1-1v1m1-1v1m2 0v1m1-1v1m2 0v1m2 0v1m2 0v1m1 0v1m1 0v1m2 0v1m1 0v1m1 0v1m3 1v1m1 0v1m2 0v1m1 0v1m2 0v1m2 0v1m2 0v1m3 1v1m2 0v1m1 0v1m2 0v1m1 0v1m3 1v1m1 0v1m1 0v1m1 0v1m1 0v1m2 2v1m2 3v1m1 1v1m1 2v1m1 2v1m1 2v1m1 2v1m1 3v1m1 2v1m1 2v1m1 2v1m1 2v1m1 2v1m1 1v1m1 1v1m1 0v1m1 0v1m1 1v1m1 0v1m1 0v1m1 0v1m1 0v1m1 0v1m1 0v1m1 0v1m1 0v1m1 0v1m1 0v1m1 0v1m1 0v1m1 0v1m1 0v1m1 0v2m1-1v2m1-1v2m1-1v2m1 0v1m1 0v1m1 0v2m1-1v2m1-1v2m1 0v1m1 0v2m1-1v2m1-1v2m1 0v1m1 0v2m1-1v2m1-1v2m1-1v2m1 0v2m1-1v2m1-1v2m1-1v2m1 0v2m1-1v2m1-1v2m1-1v3m1-2v3m1-1v2m1-1v2m1-1v3m1-2v3m1-2v3m1-2v3m1-2v3m1-2v3m1-2v3m1-2v3m1-2v2m1-1v1"/>
<path stroke="#b8e2a1" d="M79 314v1m2 13v1m1-37v2m0 9v1m1 12v1m1 15v1m1-46v1m0 61v2m0 6v1m1-70v1m3 10v1m2 13v1m2 13v1m1-34v2m0 4v2m0 32v1m1-45v1m1-1v1m0 35v1m1-35v1m0 47v1m5-22v1m1 5v1m1-42v1m0 46v1m1 6v1m1-62v1m2-10v1m0 83v4m1-97v1m1-11v1m17-2v1m1 6v1m1 7v1m1 7v1m1 8v1m1 8v1m2 14v1m1 6v1m1 5v1m1 4v1m2 30v4m92 56v1m1-87v2m1-45v1m0 14v2m42-43v1m1 4v1m1 3v1m2 6v1m2 3v1m1 0v1m1 0v1m2 0v1m2 0v1m2 0v1m1-1v1m1-1v1m2 0v1m1-1v1m3 0v1m1-1v1m2 0v1m2 0v1m2 0v1m2 0v1m1 0v1m1 0v1m2 0v1m1 0v1m1 0v1m1 0v1m2 0v1m1 0v1m2 0v1m1 0v1m2 0v1m2 0v1m2 0v1m1 0v1m2 0v1m2 0v1m1 0v1m3 1v1m1 0v1m6 5v1m1 0v1m1 1v1m1 1v1m1 1v1m1 2v1m1 2v1m1 2v1m2 6v1m1 2v1m1 2v1m1 2v1m1 2v1m1 2v1m1 1v1m1 0v2m1 0v1m1 0v1m1 0v2m1 0v1m1 0v1m1 0v1m1 0v1m1 0v1m1 0v1m1 0v1m1 0v1m1 0v1m1 0v1m1 0v1m1 0v1m1 0v1m1-1v2m1-1v2m1 0v1m1 0v1m1 0v1m1 0v2m1-1v2m1-1v2m1 0v1m1 0v1m1 0v2m1-1v2m1-1v2m1 0v1m1 0v2m1-1v2m1-1v2m1-1v2m1 0v1m1 0v2m1-1v2m1-1v2m1-1v2m1 0v2m1-1v2m1-1v2m1-1v2m1-1v2m1-1v3m1-1v2m1-1v2m1-1v2m1-1v2m1-1v2m1-1v2m1-1v2m1-1v2m1-1v2m1-2v3m1-2v3m1-2v3"/>
<path stroke="#bae3a1" d="M82 291v1m0 12v1m0 31v1m1-50v1m0 29v1m0 26v1m1-12v1m0 17v1m1-1v6m2-67v1m1 3v1m2 10v1m2 14v1m2-29v2m0 8v2m1-15v1m0 24v1m0 26v1m1-53v1m0 37v1m0 20v1m1-8v1m0 12v1m1-60v1m2 9v1m1 6v1m3-7v1m1-27v1m0 35v1m1 10v1m0 16v1m1-72v1m0 65v1m0 10v1m1-84v1m1-10v1m1-11v1m17-2v1m1 6v1m1 7v1m1 7v1m1 8v1m1 8v1m1 7v1m1 6v1m4 24v1m1 21v3m92-104v1m0 161v2m1-145v1m0 56v2m1-42v1m0 11v2m42-43v2m2 8v1m1 3v1m1 2v1m1 2v1m4 3v1m2 0v1m2 0v1m1-1v1m3 0v1m1-1v1m2 0v1m1-1v1m1-1v1m2 0v1m1-1v1m1 0v1m1-1v1m1 0v1m1-1v1m1 0v1m2 0v1m1 0v1m1 0v1m3 1v1m1 0v1m1 0v1m2 0v1m1 0v1m2 0v1m1 0v1m2 0v1m2 0v1m2 0v1m1 0v1m2 0v1m3 1v1m1 0v1m2 0v1m1 0v1m1 0v1m1 0v1m1 0v1m1 0v1m1 0v1m2 2v1m1 1v1m2 4v1m1 2v1m1 2v1m1 3v1m1 2v1m1 2v1m1 2v1m2 5v1m1 2v1m1 1v1m1 0v1m1 1v1m1 0v1m1 0v1m1 1v1m1 0v1m1 0v1m1 0v1m1 0v1m1 0v1m1 0v1m1 0v1m1 0v1m1-1v2m1-1v2m1-1v2m1-1v2m1-1v1m1 0v1m1 0v2m1-1v2m1-1v2m1-1v2m1 0v1m1 0v1m1 0v2m1-1v2m1-1v2m1 0v1m1 0v1m1 0v2m1-1v2m1-1v2m1-1v2m1 0v1m1 0v2m1-1v2m1-1v2m1-1v2m1-1v2m1 0v2m1-1v2m1-1v2m1-1v2m1-1v2m1-1v2m1-1v3m1-2v3m1-2v3m1-1v2m1-1v2m1-2v3m1-2v3m1-2v3m1-2v3m1-2v2m1-1v2m1-2v3"/>
<path stroke="#bce4a0" d="M79 313v1m1 6v1m2-32v2m0 14v1m1 12v1m1-33v1m0 47v1m1-49v1m8 39v1m1-36v1m0 12v1m0 28v1m1-46v1m0 26v1m1 12v1m1-38v1m0 50v1m2-44v1m5-17v1m2-8v1m0 51v1m1-57v1m0 67v1m0 8v1m1-85v2m1-11v2m1-11v1m19 13v1m1 7v1m1 8v1m1 8v1m1 7v1m2 14v1m1 5v1m1 4v1m1 5v1m1 19v3m92-100v1m0 159v1m1-142v1m0 54v1m1-39v1m0 8v2m42-42v1m1 6v1m1 2v1m1 3v1m1 2v1m1 2v1m1 1v1m1 0v1m1 0v1m2 0v1m2 0v1m1-1v1m2 0v1m1-1v1m3 0v1m1-1v1m3 0v1m1-1v1m2 0v1m2 0v1m2 0v1m1 0v1m3 1v1m1 0v1m1 0v1m3 1v1m1 0v1m3 1v1m2 0v1m1 0v1m2 0v1m2 0v1m3 1v1m2 0v1m1 0v1m2 0v1m1 0v1m4 2v1m1 0v1m1 0v1m2 2v1m3 5v1m4 11v1m1 2v1m1 2v1m2 6v1m1 1v1m1 2v1m1 1v1m1 0v1m1 1v1m1 0v1m1 0v1m1 1v1m1 0v1m1 0v1m1 0v1m1 0v1m1 0v1m1 0v1m1-1v2m1-1v2m1-1v1m1 0v1m1 0v1m1 0v1m1 0v1m1 0v1m1 0v1m1 0v1m1 0v1m1 0v1m1 0v2m1-1v2m1-1v2m1 0v1m1 0v1m1 0v2m1-1v2m1-1v2m1-1v2m1 0v1m1 0v1m1 0v2m1-1v2m1-1v2m1-1v2m1-1v2m1 0v1m1 0v2m1-1v2m1-1v2m1-1v2m1-1v2m1-1v2m1-1v2m1-1v2m1-1v2m1-1v3m1-2v3m1-2v2m1-1v2m1-1v2m1-1v2m1-1v2m1-2v3m1-2v2"/>
<path stroke="#bfe5a0" d="M81 327v1m1-40v1m0 17v1m0 28v1m1-50v1m0 56v1m1-9v1m0 14v1m2-64v1m1 1v1m1 3v1m1 4v1m1 5v1m1 7v1m3-23v1m2-3v1m0 40v1m0 17v1m1 5v1m1-60v1m2 9v1m1 6v1m1 6v1m1-31v4m0 32v1m1-18v1m0 22v1m1-52v1m0 37v1m0 19v1m1 5v1m1-3v1m1-78v1m1-10v1m1-10v1m17-1v1m1 6v1m1 6v1m1 7v1m1 8v1m1 8v1m1 7v1m1 7v1m1 6v1m4 34v3m92 62v1m1-88v2m1-37v8m42-41v1m3 13v1m2 5v1m1 1v1m2 1v1m1 0v1m2 0v1m1-1v1m2 0v1m1-1v1m2 0v1m1-1v1m1-1v1m2 0v1m1-1v1m1-1v1m2 0v1m2 0v1m2 0v1m2 0v1m1 0v1m1 0v1m2 0v1m1 0v1m1 0v1m1 0v1m3 1v1m1 0v1m2 0v1m3 1v1m2 0v1m2 0v1m1 0v1m2 0v1m2 0v1m1 0v1m3 1v1m1 0v1m1 0v1m4 3v1m1 0v1m1 1v1m1 1v1m1 1v1m1 2v1m1 2v1m1 2v1m1 2v1m1 2v1m1 2v1m1 3v1m1 2v1m2 4v1m1 1v1m2 2v1m1 0v1m1 0v1m1 1v1m1 0v1m1 0v1m1 0v1m1 0v1m1 0v1m1-1v2m1-1v1m1 0v1m1 0v1m1 0v1m1 0v1m1 0v1m1-1v2m1-1v2m1-1v2m1-1v2m1-1v2m1-1v2m1-1v2m1 0v1m1 0v1m1 0v2m1-1v2m1-1v2m1-1v2m1 0v1m1 0v1m1 0v2m1-1v2m1-1v2m1-1v2m1-1v2m1 0v1m1 0v1m1 0v2m1-1v2m1-1v2m1-1v2m1-1v2m1-1v2m1-1v2m1-1v2m1-1v2m1-1v2m1-1v2m1-1v2m1-1v2m1-1v2m1-1v2m1-1v2m1-2v3m1-2v2m1-1v2"/>
<path stroke="#c1e6a0" d="M79 312v1m1 6v1m2-13v1m1 11v1m1-35v1m0 50v1m0 12v1m8-31v1m2-31v1m0 15v1m1-19v1m0 28v1m0 23v1m1-11v1m1-41v1m0 52v2m0 7v1m6-66v1m0 4v2m1-12v1m2-8v1m0 53v1m1-59v1m0 70v1m0 5v1m1-86v1m1-10v1m19-3v1m1 6v1m1 7v1m1 8v1m1 8v1m1 7v1m1 7v1m1 6v1m1 6v1m1 4v1m1 5v1m1 14v3m1 75v3m91-171v1m0 155v2m1-139v1m0 50v1m43-70v2m1 7v1m1 2v1m1 2v1m1 3v1m3 5v1m2 0v1m1 0v1m1-1v1m2 0v1m1-1v1m2 0v1m1-1v1m3 0v1m1-1v1m3 0v1m2 0v1m1-1v1m1 0v1m1-1v1m1 0v1m2 0v1m1 0v1m1 0v1m3 1v1m1 0v1m1 0v1m1 0v1m2 0v1m1 0v1m2 0v1m1 0v1m2 0v1m2 0v1m2 0v1m1 0v1m2 0v1m3 1v1m1 0v1m3 1v1m1 0v1m1 0v1m1 0v1m1 0v1m2 2v1m1 1v1m1 1v1m1 2v1m1 2v1m1 2v1m1 2v1m1 2v1m1 2v1m1 3v1m1 2v1m1 2v1m1 1v1m1 1v1m1 1v1m1 0v1m1 0v1m1 0v1m1 0v2m1 0v1m1 0v1m1 0v1m1 0v1m1-1v2m1-1v1m1 0v1m1 0v1m1 0v1m1 0v1m1-1v2m1-1v2m1-1v1m1 0v1m1 0v1m1 0v1m1 0v1m1 0v1m1 0v1m1 0v2m1-1v2m1-1v2m1-1v2m1 0v1m1 0v1m1 0v2m1-1v2m1-1v2m1-1v2m1 0v1m1 0v1m1 0v1m1 0v2m1-1v2m1-1v2m1-1v2m1-1v2m1-1v2m1-1v2m1-1v2m1-1v2m1-1v2m1-1v2m1-1v2m1-1v2m1-1v2m1-1v2m1-1v2m1-1v2m1-1v2m1-2v2m1-1v2m1-1v2"/>
<path stroke="#c3e79f" d="M81 326v1m1-40v1m0 20v1m0 25v1m1-50v1m0 34v1m0 21v1m1-6v1m1-53v1m1 0v1m2 5v1m3 18v1m2 13v1m1-38v1m0 17v1m0 25v1m2-46v1m0 58v1m1-2v1m0 5v1m1-59v1m1 4v1m2 11v1m2-25v1m0 7v2m1-15v1m0 26v1m1-31v1m0 39v1m0 17v1m1-63v1m0 55v1m0 11v1m1-73v1m0 72v2m0 1v2m1-86v1m1-10v1m19-3v1m2 14v1m1 8v1m1 8v1m1 7v1m1 7v1m5 37v3m1 72v6m91-14v2m1-136v1m0 48v1m43-71v2m1 8v1m3 9v1m1 2v1m1 1v1m1 0v1m1 0v1m2 0v1m2 0v1m3 0v1m1-1v1m2 0v1m1-1v1m1-1v1m2 0v1m1-1v1m2 0v1m1-1v1m2 0v1m2 0v1m1 0v1m2 0v1m1 0v1m1 0v1m1 0v1m3 1v1m1 0v1m1 0v1m2 0v1m1 0v1m2 0v1m1 0v1m2 0v1m2 0v1m3 1v1m2 0v1m1 0v1m2 0v1m1 0v1m1 0v1m3 1v1m1 0v1m2 2v1m1 0v1m1 1v1m2 4v1m1 2v1m1 2v1m1 2v1m1 2v1m2 6v1m1 2v1m1 2v1m1 1v1m1 1v1m1 1v1m1 0v1m1 0v1m1 0v1m1 0v1m1 1v1m1 0v1m1 0v1m1-1v2m1-1v1m1 0v1m1 0v1m1 0v1m1 0v1m1-1v2m1-1v1m1 0v1m1 0v1m1 0v1m1 0v1m1-1v2m1-1v2m1-1v2m1-1v2m1 0v1m1 0v1m1 0v1m1 0v1m1 0v2m1-1v2m1-1v2m1-1v2m1 0v1m1 0v1m1 0v2m1-1v2m1-1v2m1-1v2m1-1v2m1-1v2m1-1v2m1-1v2m1 0v1m1 0v1m1 0v1m1 0v1m1 0v1m1 0v1m1-1v2m1-1v2m1-1v2m1-1v2m1-1v2m1-1v2m1-1v2m1-2v2m1-1v2m1-1v2"/>
<path stroke="#c6e89f" d="M79 311v1m3-26v1m1 34v1m1-38v1m0 53v1m0 9v1m3-61v1m2 8v1m1 5v1m2 14v1m2-32v1m0 19v1m1-22v1m0 30v1m0 21v1m1-9v1m1-43v1m0 56v5m3-48v1m2 13v1m1-33v1m0 10v1m0 26v1m1 5v1m2 1v1m1-63v1m0 75v1m1-86v2m1-10v1m20 5v1m2 15v1m1 8v1m1 7v1m1 7v1m1 7v1m1 6v1m2 10v1m1 10v2m1 71v4m91-161v1m0 151v1m1-87v2m43-73v3m2 13v1m1 2v1m1 2v1m1 2v1m1 1v1m3 2v1m2 0v1m2 0v1m1-1v1m3 0v1m1-1v1m3 0v1m1-1v1m2 0v1m1-1v1m2 0v1m2 0v1m2 0v1m1 0v1m3 1v1m1 0v1m1 0v1m1 0v1m3 1v1m1 0v1m3 1v1m2 0v1m1 0v1m2 0v1m2 0v1m1 0v1m2 0v1m3 1v1m3 1v1m1 0v1m1 0v1m3 2v1m1 0v1m3 5v1m2 4v1m1 2v1m1 2v1m1 2v1m1 3v1m1 2v1m1 2v1m1 2v1m1 1v1m1 1v1m1 1v1m1 0v1m1 0v1m1 0v1m1 0v1m1 1v1m1 0v1m1-1v2m1-1v1m1 0v1m1 0v1m1 0v1m1 0v1m1 0v1m1-1v1m1 0v1m1 0v1m1 0v1m1-1v2m1-1v2m1-1v1m1 0v1m1 0v1m1 0v1m1 0v2m1-1v2m1-1v2m1-1v2m1-1v2m1 0v1m1 0v1m1 0v1m1 0v2m1-1v2m1-1v2m1-1v2m1-1v2m1 0v1m1 0v1m1 0v1m1 0v1m1 0v1m1 0v2m1-1v2m1-1v2m1-1v2m1-1v2m1-1v2m1-1v1m1 0v1m1-1v2m1-1v2m1-1v2m1-1v2m1-1v2m1-2v2m1-1v2m1-1v2"/>
<path stroke="#c8e99e" d="M80 318v1m2-10v1m0 23v1m1-50v1m0 37v1m0 18v1m1-3v1m0 7v1m7-38v1m3 20v1m1-14v1m1 13v1m0 12v1m3-49v1m4-14v1m0 12v1m1-18v1m0 28v1m1-33v1m0 41v1m0 15v1m1-63v1m0 67v1m1-74v1m1-10v1m1-9v1m19-2v1m1 6v1m1 7v1m1 7v1m1 8v1m1 7v1m1 7v1m1 7v1m1 6v1m1 5v1m1 4v1m1 8v3m1 68v5m91-156v1m0 148v2m1-132v1m0 44v1m43-72v1m1 12v1m1 2v1m1 2v1m1 2v1m1 2v1m2 3v1m1 0v1m2 0v1m2 0v1m1-1v1m2 0v1m1-1v1m3 0v1m1-1v1m3 0v1m1-1v1m2 0v1m1-1v1m1 0v1m2 0v1m2 0v1m1 0v1m1 0v1m4 2v1m1 0v1m1 0v1m3 1v1m1 0v1m2 0v1m3 1v1m2 0v1m2 0v1m1 0v1m2 0v1m1 0v1m2 0v1m1 0v1m3 1v1m1 0v1m1 0v1m1 0v1m2 2v1m1 1v1m1 1v1m1 2v1m2 4v1m1 2v1m1 2v1m1 3v1m1 2v1m1 2v1m1 2v1m1 1v1m1 1v1m1 1v1m1 0v1m1 0v1m1 0v1m1 0v1m1 1v1m1 0v1m1-1v1m1 0v1m1 0v1m1 0v1m1 0v1m1 0v1m1-1v2m1-1v1m1 0v1m1 0v1m1-1v2m1-1v1m1 0v1m1 0v1m1 0v1m1 0v1m1 0v1m1 0v1m1 0v1m1 0v1m1 0v1m1 0v1m1 0v2m1-1v2m1-1v2m1-1v2m1 0v1m1 0v1m1 0v1m1 0v1m1 0v2m1-1v2m1-1v2m1-1v2m1-1v2m1-1v2m1-1v2m1-1v2m1-1v2m1-1v2m1-1v2m1-1v2m1-1v2m1-1v1m1-1v2m1-1v2m1-1v2m1-1v2m1-1v1m1-1v2m1-1v2"/>
<path stroke="#caea9e" d="M79 310v1m2 14v1m1-41v1m0 46v1m1-10v1m0 16v1m1-1v2m0 3v2m1-63v1m1 0v1m1 1v1m1 3v1m1 4v1m4 27v1m1-39v1m0 21v1m1 29v1m1-53v1m0 46v1m1-46v1m1 3v1m3 16v1m2-12v1m1 29v1m2 3v1m0 7v1m1-75v2m1-10v1m1-9v1m19-2v1m1 6v1m1 7v1m1 7v1m1 8v1m3 23v1m4 26v1m1 67v4m91-150v1m0 145v2m1-129v1m0 41v2m44-59v1m5 14v1m1 0v1m1 0v1m1 0v1m2 0v1m1-1v1m2 0v1m1-1v1m2 0v1m1-1v1m1-1v1m2 0v1m1-1v1m1-1v1m2 0v1m1-1v1m2 0v1m1 0v1m1-1v1m1 0v1m3 1v1m1 0v1m1 0v1m1 0v1m3 1v1m1 0v1m1 0v1m2 0v1m1 0v1m2 0v1m1 0v1m2 0v1m2 0v1m3 1v1m2 0v1m1 0v1m3 1v1m1 0v1m5 4v1m1 0v1m1 1v1m1 1v1m1 2v1m1 2v1m2 4v1m2 6v1m1 2v1m1 2v1m1 2v1m1 1v1m1 1v1m1 1v1m1 0v1m1 0v1m1 0v1m2 2v1m1 0v1m1-1v1m1 0v1m1 0v1m1 0v1m1 0v1m1 0v1m1-1v1m1 0v1m1 0v1m1 0v1m1-1v1m1 0v1m1 0v1m1 0v1m1 0v1m1 0v1m1-1v2m1-1v2m1-1v2m1-1v2m1-1v2m1 0v1m1 0v1m1 0v1m1 0v1m1 0v1m1 0v2m1-1v2m1-1v2m1-1v2m1-1v2m1-1v2m1-1v2m1-1v2m1-1v2m1-1v2m1-1v2m1-1v2m1-1v2m1-1v2m1-1v2m1-1v2m1-1v2m1-1v2m1-1v1m1 0v1m1-1v2m1-1v2m1-1v2m1-1v1m1-1v2"/>
<path stroke="#cdeb9d" d="M82 310v1m1 13v1m1-42v1m0 58v3m6-43v1m1 6v1m1 7v1m2 12v1m1-46v1m0 33v1m1 14v1m0 9v1m4-43v1m2 13v1m1-34v1m0 38v1m1-44v1m0 30v1m1-35v1m0 43v1m0 13v1m1-63v1m0 60v2m0 4v1m1-75v1m1-9v1m1-9v1m21 13v1m1 7v1m1 8v1m1 8v1m1 7v1m2 14v1m1 5v1m1 4v1m1 7v1m1 65v3m91-2v2m1-86v1m45-54v1m1 2v1m1 2v1m1 2v1m1 1v1m3 2v1m1 0v1m1-1v1m2 0v1m3 0v1m1-1v1m3 0v1m1-1v1m3 0v1m1-1v1m2 0v1m2 0v1m2 0v1m1 0v1m1 0v1m2 0v1m1 0v1m1 0v1m1 0v1m1 0v1m3 1v1m1 0v1m3 1v1m2 0v1m1 0v1m2 0v1m2 0v1m1 0v1m2 0v1m3 1v1m1 0v1m3 1v1m1 0v1m1 0v1m1 0v1m1 0v1m2 2v1m2 4v1m1 2v1m1 2v1m2 5v1m1 2v1m1 2v1m1 2v1m1 2v1m1 1v1m1 1v1m1 1v1m1 0v1m1 0v1m1 0v1m1 1v1m1 0v1m1 0v1m1-1v1m1 0v1m1 0v1m1 0v1m1 0v1m1 0v1m1-1v1m1 0v1m1 0v1m1-1v2m1-1v1m1 0v1m1 0v1m1 0v1m1-1v2m1-1v2m1-1v1m1 0v1m1 0v1m1 0v1m1 0v1m1 0v2m1-1v2m1-1v2m1-1v2m1-1v2m1-1v2m1-1v2m1 0v1m1 0v1m1 0v1m1 0v1m1 0v1m1 0v1m1 0v1m1 0v1m1 0v1m1 0v1m1 0v1m1 0v1m1 0v1m1-1v2m1-1v2m1-1v2m1-1v2m1-1v2m1-1v1m1-1v2m1-1v2m1-1v2m1-2v2"/>
<path stroke="#cfec9d" d="M80 317v1m1 6v1m1-41v1m0 46v1m1-49v1m0 41v1m0 13v1m5-50v1m6-6v1m0 23v1m1 10v1m0 16v1m1-3v1m0 7v1m1-57v1m1 3v1m1 4v1m2 11v1m2-10v1m2-25v1m0 57v1m1-63v1m0 63v4m1-75v1m1-9v1m20-9v1m1 6v1m1 6v1m1 7v1m1 8v1m1 8v1m1 7v1m1 7v1m1 6v1m3 18v1m1 62v4m91-142v1m0 140v2m1-124v1m0 37v2m44-57v1m2 5v1m1 2v1m1 2v1m2 3v1m1 0v1m2 0v1m2 0v1m2 0v1m1-1v1m3 0v1m1-1v1m3 0v1m1-1v1m3 0v1m2 0v1m2 0v1m2 0v1m1 0v1m1 0v1m4 2v1m1 0v1m1 0v1m1 0v1m3 1v1m1 0v1m2 0v1m3 1v1m2 0v1m3 1v1m2 0v1m1 0v1m3 1v1m1 0v1m3 1v1m1 0v1m2 2v1m2 3v1m2 4v1m1 2v1m1 2v1m1 2v1m1 2v1m1 2v1m1 2v1m1 2v1m2 3v1m1 1v1m1 0v1m1 0v1m2 2v1m1 0v1m1 0v1m1-1v1m1 0v1m1 0v1m1 0v1m1 0v1m1-1v2m1-1v1m1 0v1m1 0v1m1-1v1m1 0v1m1 0v1m1 0v1m1-1v2m1-1v1m1 0v1m1 0v1m1 0v1m1 0v1m1 0v1m1 0v1m1 0v1m1 0v1m1 0v1m1 0v1m1 0v1m1 0v1m1 0v1m1 0v2m1-1v2m1-1v2m1-1v2m1-1v2m1-1v2m1-1v2m1-1v2m1-1v2m1-1v2m1-1v2m1-1v2m1-1v2m1-1v1m1 0v1m1 0v1m1-1v2m1-1v2m1-1v2m1-1v1m1-1v2m1-1v2m1-1v1"/>
<path stroke="#d1ed9c" d="M79 309v1m2-21v6m1 16v1m1 14v1m0 11v1m2-56v1m1 0v1m1 1v1m2 8v1m1 5v1m3-13v6m0 28v1m2-3v1m1-37v1m0 50v1m0 5v1m7-61v1m0 17v1m1-23v1m0 48v1m1-7v1m1-52v1m1-8v1m1-9v1m1-8v1m19-2v1m1 6v1m1 6v1m1 7v1m1 8v1m1 8v1m1 7v1m1 7v1m2 13v1m1 4v1m1 6v1m1 59v4m91-137v1m0 136v3m1-121v1m0 34v2m44-56v1m1 3v1m4 10v1m2 1v1m1 0v1m2 0v1m2 0v1m1-1v1m2 0v1m1-1v1m1-1v1m2 0v1m1-1v1m1-1v1m2 0v1m1-1v1m2 0v1m2 0v1m2 0v1m3 1v1m1 0v1m1 0v1m1 0v1m4 2v1m1 0v1m1 0v1m2 0v1m1 0v1m2 0v1m1 0v1m2 0v1m2 0v1m1 0v1m2 0v1m3 1v1m1 0v1m2 0v1m1 0v1m1 0v1m3 2v1m1 0v1m1 1v1m1 1v1m1 2v1m1 1v1m1 2v1m1 2v1m1 2v1m1 2v1m1 2v1m2 5v1m1 2v1m2 2v1m1 0v1m1 0v1m1 1v1m1 0v1m1 0v1m1 0v1m1-1v1m1 0v1m1 0v1m1 0v1m1 0v1m1-1v1m1 0v1m1 0v1m1 0v1m1-1v1m1 0v1m1 0v1m1-1v2m1-1v1m1 0v1m1 0v1m1 0v1m1 0v1m1 0v1m1 0v1m1 0v1m1-1v2m1-1v2m1-1v2m1-1v2m1-1v2m1-1v2m1-1v2m1-1v2m1 0v1m1 0v1m1 0v1m1 0v1m1 0v1m1 0v1m1 0v1m1 0v1m1 0v1m1-1v2m1-1v2m1-1v2m1-1v2m1-1v2m1-1v2m1-1v1m1 0v1m1-1v2m1-1v2m1-1v1m1-1v2m1-1v2"/>
<path stroke="#d3ed9c" d="M80 316v1m1-30v2m0 6v2m1-14v1m0 28v1m0 17v1m1-49v1m0 44v2m0 8v1m1-56v1m7 25v1m1 7v1m1-30v2m0 6v2m1 13v1m0 18v1m1-46v1m0 51v1m1 0v5m4-41v1m2 13v1m1-35v1m0 39v1m1-11v1m1-38v1m0 47v1m0 9v1m1-64v1m1-8v1m1-9v1m1-8v1m19-2v1m1 6v1m2 14v1m1 8v1m1 8v1m1 7v1m1 7v1m1 7v1m3 17v1m1 55v5m91-56v13m0 44v3m1-84v1m44-55v1m2 6v1m1 2v1m1 2v1m1 1v1m1 1v1m3 1v1m2 0v1m1-1v1m2 0v1m1-1v1m3 0v1m1-1v1m3 0v1m1-1v1m2 0v1m2 0v1m1-1v1m1 0v1m2 0v1m1 0v1m2 0v1m1 0v1m1 0v1m1 0v1m1 0v1m1 0v1m3 1v1m1 0v1m3 1v1m3 1v1m2 0v1m3 1v1m2 0v1m1 0v1m2 0v1m1 0v1m3 1v1m1 0v1m1 0v1m1 0v1m2 2v1m2 4v1m2 4v1m1 2v1m1 2v1m1 2v1m2 6v1m1 1v1m1 2v1m1 1v1m1 0v1m1 0v1m2 2v1m1 0v1m1 0v1m1 0v1m2 0v1m1 0v1m1 0v1m1 0v1m1-1v1m1 0v1m1 0v1m1 0v1m1-1v1m1 0v1m1 0v1m1-1v1m1 0v1m1 0v1m1 0v1m1 0v1m1 0v1m1-1v2m1-1v2m1-1v2m1-1v1m1 0v1m1 0v1m1 0v1m1 0v1m1 0v1m1 0v1m1 0v1m1 0v2m1-1v2m1-1v2m1-1v2m1-1v2m1-1v2m1-1v2m1-1v2m1-1v2m1-1v1m1 0v1m1 0v1m1 0v1m1-1v2m1-1v2m1-1v2m1-1v2m1-1v1m1-1v2m1-1v2m1-1v1m1-1v2"/>
<path stroke="#d6ee9b" d="M79 308v1m2-23v1m0 10v2m0 24v1m2 5v2m0 5v1m5-48v1m5 7v1m1-14v1m1 37v1m0 12v1m2-50v1m1 3v1m1 4v1m2 11v1m2-7v1m1-25v1m0 48v1m1-54v1m0 49v1m0 7v1m1-64v1m1-8v1m1-9v1m1-8v1m20 5v1m1 7v1m1 6v1m1 8v1m1 8v1m1 7v1m1 7v1m1 7v1m1 6v1m1 4v1m2 56v6m91-127v1m0 72v3m0 13v10m0 30v4m1-114v1m0 30v2m44-55v1m1 4v1m2 4v1m1 2v1m2 3v1m1 0v1m1 0v1m2 0v1m1-1v1m2 0v1m3 0v1m1-1v1m3 0v1m1-1v1m3 0v1m2 0v1m1-1v1m2 0v1m1 0v1m2 0v1m1 0v1m4 2v1m1 0v1m1 0v1m1 0v1m1 0v1m3 1v1m1 0v1m2 0v1m1 0v1m2 0v1m2 0v1m1 0v1m2 0v1m3 1v1m3 1v1m1 0v1m5 4v1m2 3v1m1 1v1m1 2v1m2 4v1m1 2v1m2 6v1m1 2v1m2 4v1m1 1v1m1 0v1m1 0v1m1 1v1m1 0v1m1 0v1m1 0v1m1 0v1m1 0v1m1-1v1m1 0v1m1 0v1m1 0v1m1-1v1m1 0v1m1 0v1m1-1v2m1-1v1m1 0v1m1 0v1m1-1v1m1 0v1m1 0v1m1 0v1m1-1v2m1-1v2m1-1v1m1 0v1m1 0v1m1 0v1m1 0v1m1 0v1m1 0v1m1 0v1m1 0v1m1 0v1m1 0v1m1 0v1m1 0v1m1 0v1m1 0v1m1 0v1m1 0v1m1 0v1m1-1v2m1-1v2m1-1v2m1-1v2m1-1v2m1-1v2m1-1v1m1 0v1m1 0v1m1-1v2m1-1v2m1-1v1m1 0v1m1-1v2m1-1v1"/>
<path stroke="#d8ef9b" d="M81 299v1m1-18v1m0 30v1m0 15v1m1 1v5m2-54v1m1 0v1m1 1v1m2 8v1m1 5v1m1 6v1m2-22v1m0 11v1m0 23v1m1-12v1m0 16v1m1-6v1m0 10v1m1-51v1m6 29v1m1-35v1m0 21v1m1 9v1m1 11v1m0 5v1m1-64v1m1-8v1m23-2v1m2 15v1m1 8v1m1 7v1m1 7v1m1 7v1m1 6v1m2 11v1m1 42v8m91-120v1m0 69v2m0 26v8m0 16v6m1-109v1m0 28v1m44-54v1m1 4v1m1 2v1m2 4v1m1 2v1m3 2v1m1 0v1m1-1v1m2 0v1m2 0v1m1-1v1m3 0v1m1-1v1m1-1v1m2 0v1m1-1v1m2 0v1m1-1v1m2 0v1m2 0v1m1 0v1m2 0v1m1 0v1m1 0v1m1 0v1m4 2v1m1 0v1m1 0v1m1 0v1m2 0v1m1 0v1m2 0v1m1 0v1m2 0v1m3 1v1m2 0v1m1 0v1m2 0v1m1 0v1m3 1v1m1 0v1m1 0v1m1 0v1m1 0v1m1 1v1m1 1v1m2 4v1m1 2v1m3 8v1m1 2v1m1 2v1m1 2v1m1 1v1m1 1v1m1 0v1m2 2v1m1 0v1m1 0v1m1 0v1m1 0v1m1 0v1m1-1v1m1 0v1m1 0v1m1 0v1m1-1v1m1 0v1m1 0v1m1-1v1m1 0v1m1 0v1m1 0v1m1-1v1m1 0v1m1 0v1m1 0v1m1-1v1m1 0v1m1 0v1m1 0v1m1 0v1m1 0v1m1 0v1m1 0v1m1-1v2m1-1v2m1-1v2m1-1v2m1-1v2m1-1v2m1-1v2m1-1v2m1-1v2m1-1v2m1-1v2m1-1v2m1-1v1m1 0v1m1 0v1m1 0v1m1 0v1m1-1v2m1-1v2m1-1v2m1-1v2m1-1v1m1 0v1m1-1v2m1-1v2m1-1v1m1-1v2"/>
<path stroke="#daf09a" d="M79 307v1m1 7v1m1-31v1m0 14v1m0 21v1m1 5v1m1-48v1m1-1v1m4 6v1m4 26v1m1-31v1m0 13v1m1-17v1m1-1v1m0 40v1m0 8v1m3-45v1m2 10v1m3 19v1m1-45v1m1-5v1m0 52v1m0 3v1m1-64v1m1-8v1m1-8v1m21-2v1m1 6v1m1 7v1m1 7v1m1 8v1m1 7v1m4 28v1m1 5v1m1 33v10m91-111v1m0 66v2m0 36v16m1-76v2m44-54v1m3 10v1m2 4v1m1 1v1m1 0v1m2 0v1m2 0v1m2 0v1m1-1v1m2 0v1m1-1v1m1-1v1m3 0v1m1-1v1m2 0v1m1-1v1m2 0v1m2 0v1m2 0v1m1 0v1m3 1v1m1 0v1m1 0v1m1 0v1m1 0v1m4 2v1m1 0v1m3 1v1m3 1v1m2 0v1m1 0v1m2 0v1m3 1v1m3 1v1m1 0v1m6 5v1m1 1v1m1 2v1m1 1v1m1 2v1m1 2v1m1 2v1m1 2v1m1 2v1m1 2v1m1 2v1m1 1v1m1 1v1m1 0v1m1 1v1m1 0v1m1 0v1m1 0v1m1 0v1m1 0v1m1 0v1m2 0v1m1 0v1m1 0v1m1-1v1m1 0v1m1 0v1m1-1v1m1 0v1m1 0v1m1-1v2m1-1v1m1 0v1m1 0v1m1-1v2m1-1v1m1 0v1m1 0v1m1 0v1m1 0v1m1 0v1m1-1v2m1-1v2m1-1v1m1 0v1m1 0v1m1 0v1m1 0v1m1 0v1m1 0v1m1 0v1m1 0v1m1 0v1m1 0v1m1-1v2m1-1v2m1-1v2m1-1v2m1-1v2m1-1v2m1-1v1m1 0v1m1 0v1m1-1v2m1-1v2m1-1v2m1-1v1m1-1v2m1-1v2m1-1v1"/>
<path stroke="#ddf19a" d="M81 284v1m0 16v1m1 12v1m11-15v1m1 11v1m0 14v1m1-3v2m0 5v1m4-39v1m2 11v1m2-28v1m0 23v1m1-29v1m0 37v1m0 11v1m1-55v1m0 54v3m1-64v1m1-8v1m1-8v1m21-2v1m1 6v1m1 7v1m1 7v1m1 8v1m1 7v1m1 8v1m1 7v1m1 6v1m3 36v9m91-35v1m1-48v1m0 24v1m44-54v2m1 5v1m1 2v1m1 1v1m1 2v1m1 1v1m1 1v1m1 0v1m1 0v1m2 0v1m2 0v1m3 0v1m1-1v1m3 0v1m1-1v1m3 0v1m1-1v1m2 0v1m2 0v1m2 0v1m2 0v1m1 0v1m1 0v1m3 1v1m1 0v1m1 0v1m1 0v1m1 0v1m1 0v1m3 1v1m1 0v1m2 0v1m1 0v1m2 0v1m3 1v1m2 0v1m1 0v1m2 0v1m1 0v1m3 1v1m1 0v1m1 0v1m1 0v1m1 0v1m3 5v1m2 4v1m1 2v1m1 2v1m1 2v1m1 2v1m1 2v1m1 2v1m1 1v1m1 1v1m2 2v1m1 0v1m1 0v1m1 0v1m1 0v1m1 0v1m1 0v1m1 0v1m1-1v1m1 0v1m1 0v1m1-1v1m1 0v1m1 0v1m1-1v1m1 0v1m1 0v1m1-1v1m1 0v1m1 0v1m1 0v1m1-1v1m1 0v1m1 0v1m1 0v1m1 0v1m1 0v1m1-1v2m1-1v1m1 0v1m1 0v1m1 0v1m1 0v1m1 0v1m1 0v1m1-1v2m1-1v2m1-1v2m1-1v2m1-1v2m1-1v2m1-1v1m1 0v1m1 0v1m1 0v1m1 0v1m1 0v1m1-1v2m1-1v2m1-1v2m1-1v1m1 0v1m1 0v1m1-1v2m1-1v1m1 0v1m1-1v2"/>
<path stroke="#dff299" d="M80 314v1m1-13v1m1-22v1m0 33v1m0 11v1m3-47v1m1 0v1m1 1v1m2 8v1m1 5v1m1 6v1m1 7v1m1-31v1m0 16v1m0 19v1m2 5v5m1-49v1m1 1v1m5 0v3m0 24v1m3-44v1m1-8v2m1-8v1m1-8v1m21-2v1m1 6v1m1 7v1m1 7v1m1 8v1m2 16v1m1 7v1m1 6v1m1 5v1m1 5v1m1 17v8m91-91v1m0 62v2m1-46v1m0 22v1m44-54v1m1 6v1m1 2v1m2 4v1m4 5v1m1 0v1m2 0v1m2 0v1m1-1v1m3 0v1m1-1v1m3 0v1m1-1v1m3 0v1m2 0v1m2 0v1m2 0v1m3 1v1m1 0v1m1 0v1m5 3v1m1 0v1m1 0v1m1 0v1m2 0v1m1 0v1m2 0v1m1 0v1m2 0v1m1 0v1m2 0v1m3 1v1m3 1v1m1 0v1m6 5v1m1 1v1m1 1v1m1 2v1m2 4v1m1 2v1m1 2v1m1 2v1m1 2v1m1 2v1m1 1v1m1 1v1m1 1v1m1 0v1m1 0v1m1 0v1m1 0v1m1 0v1m1 0v1m1 0v1m1 0v1m1-1v1m1 0v1m1 0v1m2 0v1m1 0v1m1-1v1m1 0v1m1 0v1m1-1v1m1 0v1m1 0v1m1 0v1m1-1v1m1 0v1m1 0v1m1 0v1m1 0v1m1-1v2m1-1v1m1 0v1m1 0v1m1 0v1m1 0v1m1 0v1m1-1v2m1-1v2m1-1v1m1 0v1m1 0v1m1 0v1m1 0v1m1 0v1m1 0v1m1-1v2m1-1v2m1-1v2m1-1v2m1-1v2m1-1v1m1 0v1m1 0v1m1-1v2m1-1v2m1-1v2m1-1v1m1-1v2m1-1v2m1-1v1"/>
<path stroke="#e1f399" d="M79 306v1m2-24v1m0 19v1m0 17v1m1-6v1m0 9v1m1-47v1m1-1v1m4 6v1m5 14v1m1-21v1m0 30v1m0 12v1m1-45v1m3 5v1m2 10v1m2-16v2m0 3v2m1-13v1m0 25v1m0 14v1m1-46v1m0 39v1m0 9v1m1-56v1m1-8v1m1-7v1m1-8v1m21-2v1m1 6v1m1 7v1m1 7v1m1 8v1m1 8v1m1 7v1m1 7v1m3 18v1m1 11v7m2-97v1m1-1v1m1-1v1m1-1v1m85 174v1m1-161v1m0 60v1m1-43v1m0 20v1m44-54v1m1 6v1m2 5v1m2 4v1m1 1v1m1 0v1m3 1v1m2 0v1m1-1v1m2 0v1m1-1v1m3 0v1m1-1v1m3 0v1m1-1v1m2 0v1m2 0v1m2 0v1m2 0v1m1 0v1m2 0v1m1 0v1m1 0v1m1 0v1m1 0v1m1 0v1m4 2v1m1 0v1m3 1v1m3 1v1m2 0v1m1 0v1m2 0v1m1 0v1m2 0v1m1 0v1m3 1v1m1 0v1m1 0v1m1 0v1m1 0v1m2 2v1m2 4v1m1 2v1m6 16v1m2 3v1m1 1v1m1 0v1m1 0v1m1 0v1m1 0v1m1 0v1m1 0v1m1 0v1m1 0v1m2 0v1m1 0v1m1 0v1m1-1v1m1 0v1m2 0v1m1 0v1m1-1v1m1 0v1m1 0v1m1 0v1m1-1v1m1 0v1m1 0v1m1 0v1m1 0v1m1-1v1m1 0v1m1 0v1m1 0v1m1 0v1m1 0v1m1-1v2m1-1v1m1 0v1m1 0v1m1 0v1m1 0v1m1 0v1m1-1v2m1-1v2m1-1v2m1-1v1m1 0v1m1 0v1m1 0v1m1 0v1m1 0v1m1-1v2m1-1v2m1-1v1m1 0v1m1 0v1m1-1v2m1-1v1m1 0v1m1-1v2"/>
<path stroke="#e4f498" d="M80 313v1m1-32v1m0 21v1m1-25v1m0 36v1m0 7v1m9-21v1m2-23v1m0 19v1m0 16v1m6-28v1m2 11v1m1-23v1m0 7v1m0 20v1m1-8v1m2-38v1m1-8v1m1-7v1m22-9v1m1 6v1m1 7v1m1 7v1m1 8v1m1 8v1m1 7v1m1 7v1m1 7v1m1 5v1m2-73v1m0 85v4m1-90v2m1-1v2m1-2v2m1-2v2m1-2v2m1-3v2m84 171v2m1-159v1m0 58v1m1-41v1m0 18v1m44-55v2m2 10v1m2 4v1m1 1v1m1 1v1m1 0v1m1 0v1m1 0v1m1-1v1m1 0v1m1-1v1m2 0v1m1-1v1m2 0v1m1-1v1m1-1v1m2 0v1m1-1v1m3 0v1m2 0v1m1-1v1m1 0v1m1-1v1m1 0v1m2 0v1m1 0v1m3 1v1m1 0v1m1 0v1m1 0v1m1 0v1m1 0v1m1 0v1m3 1v1m1 0v1m2 0v1m1 0v1m2 0v1m3 1v1m3 1v1m3 1v1m1 0v1m3 1v1m1 0v1m2 2v1m2 3v1m2 4v1m1 2v1m1 2v1m1 2v1m1 2v1m1 2v1m1 1v1m1 2v1m2 2v1m1 0v1m1 0v1m1 0v1m1 0v1m1 0v1m1 0v1m1 0v1m1 0v1m1 0v1m1-1v1m1 0v1m1 0v1m1-1v1m1 0v1m1 0v1m1-1v1m1 0v1m1-1v1m1 0v1m1 0v1m1 0v1m1-1v1m1 0v1m1 0v1m1 0v1m1-1v2m1-1v1m1 0v1m1 0v1m1 0v1m1 0v1m1-1v2m1-1v1m1 0v1m1 0v1m1 0v1m1 0v1m1-1v2m1-1v2m1-1v1m1 0v1m1 0v1m1 0v1m1 0v1m1-1v2m1-1v2m1-1v2m1-1v2m1-1v1m1 0v1m1 0v1m1-1v2m1-1v2m1-1v1m1 0v1m1-1v2m1-1v1"/>
<path stroke="#e6f598" d="M81 305v1m0 14v1m1-3v1m0 5v1m3-45v1m4 11v1m1 5v1m2 14v1m2 0v1m0 10v1m2-44v1m1 1v1m5 7v1m1-16v1m0 40v1m1-46v1m0 41v1m0 7v1m1-57v1m1-8v1m1-7v1m1-7v1m21-3v1m1 6v1m1 7v1m1 7v1m1 8v1m1 8v1m1 7v1m1 7v1m1 7v1m1 5v1m1-72v2m0 75v1m1-77v2m0 81v2m1-84v2m0 167v5m1-173v2m1-2v2m1-2v2m1-2v2m1-3v2m1-4v1m83 171v1m1-99v1m1-22v1m45-46v1m1 2v1m1 2v1m1 1v1m2 3v1m3 2v1m2 0v1m2 0v1m3 0v1m1-1v1m3 0v1m1-1v1m2 0v1m1-1v1m2 0v1m1-1v1m2 0v1m2 0v1m1 0v1m2 0v1m1 0v1m1 0v1m4 2v1m1 0v1m1 0v1m1 0v1m1 0v1m1 0v1m2 0v1m1 0v1m3 1v1m2 0v1m1 0v1m2 0v1m1 0v1m2 0v1m1 0v1m2 0v1m1 0v1m1 0v1m3 2v1m1 0v1m1 1v1m1 1v1m1 2v1m2 4v1m1 2v1m1 2v1m1 2v1m1 2v1m2 4v1m1 1v1m1 0v1m1 0v1m4 3v1m1 0v1m1 0v1m1 0v1m1 0v1m1-1v1m1 0v1m1 0v1m1-1v1m1 0v1m1 0v1m1-1v1m1 0v1m2 0v1m1 0v1m1 0v1m1-1v1m1 0v1m1 0v1m1 0v1m1-1v1m1 0v1m1 0v1m1 0v1m1 0v1m1-1v2m1-1v1m1 0v1m1 0v1m1 0v1m1 0v1m1-1v2m1-1v1m1 0v1m1 0v1m1 0v1m1 0v1m1-1v2m1-1v2m1-1v1m1 0v1m1 0v1m1 0v1m1-1v2m1-1v2m1-1v2m1-1v1m1 0v1m1-1v2m1-1v2m1-1v1m1-1v2"/>
<path stroke="#e7f59a" d="M79 305v1m1 6v1m1-32v1m0 24v1m1 12v5m1-45v1m1-1v1m2 1v1m1 1v1m1 2v1m5 17v1m1-24v1m0 33v1m1-35v1m3 5v1m2 10v1m1 5v1m1-23v1m0 10v1m0 17v1m1-36v1m0 29v1m1-35v1m0 43v1m0 5v1m1-57v1m1-8v1m1-7v1m1-7v1m23 12v1m1 7v1m1 7v2m1 7v2m1 7v1m1 7v1m1 7v1m1-65v2m1 0v2m0 72v1m1-74v2m0 78v1m1-80v2m0 159v6m1-166v2m1-2v2m1-2v2m1-2v2m1-3v2m1-5v2m83 167v2m1-155v1m0 54v2m1-38v1m0 14v2m45-46v1m2 5v1m2 4v1m2 2v1m1 0v1m2 0v1m2 0v1m2 0v1m1-1v1m3 0v1m1-1v1m3 0v1m1-1v1m2 0v1m1-1v1m2 0v1m2 0v1m2 0v1m1 0v1m2 0v1m1 0v1m1 0v1m1 0v1m1 0v1m5 3v1m1 0v1m1 0v1m3 1v1m1 0v1m2 0v1m3 1v1m3 1v1m3 1v1m4 2v1m1 0v1m1 0v1m4 7v1m1 2v1m1 1v1m1 2v1m1 2v1m1 2v1m1 2v1m1 2v1m1 1v1m1 1v1m1 0v1m2 2v1m1 0v1m1 0v1m2 0v1m1 0v1m1 0v1m1 0v1m2 0v1m1 0v1m1-1v1m1 0v1m1 0v1m1-1v1m1 0v1m1 0v1m1-1v1m1 0v1m1 0v1m1-1v1m1 0v1m1 0v1m1 0v1m1-1v1m1 0v1m1 0v1m1 0v1m1 0v1m1-1v1m1 0v1m1 0v1m1 0v1m1 0v1m1-1v2m1-1v1m1 0v1m1 0v1m1 0v1m1-1v2m1-1v2m1-1v1m1 0v1m1 0v1m1 0v1m1-1v2m1-1v2m1-1v1m1 0v1m1 0v1m1-1v2m1-1v2m1-1v1m1 0v1m1-1v2m1-1v1"/>
<path stroke="#e8f69b" d="M80 311v1m1 7v1m1-41v1m7 11v1m2 12v1m1 7v1m1-31v1m0 22v1m0 13v1m1-4v1m0 7v1m5-33v1m3-12v1m1 35v1m1-47v1m0 45v1m0 3v1m1-57v1m3-20v1m22 5v1m1 6v1m1 7v1m1 7v1m1 8v1m1 8v1m1 7v1m1 7v1m1-62v1m0 67v1m1-67v2m0 69v1m1-71v2m0 75v1m1-77v2m0 147v10m1-158v2m1-2v2m1-2v2m1-2v2m1-3v1m1-4v2m1-5v1m82 168v1m1-152v1m0 52v1m1-35v2m0 11v1m45-45v1m1 3v1m2 4v1m1 1v1m1 1v1m1 0v1m1 0v1m1 0v1m2 0v1m2 0v1m1-1v1m2 0v1m1-1v1m3 0v1m1-1v1m3 0v1m3 0v1m2 0v1m2 0v1m2 0v1m1 0v1m3 1v1m1 0v1m1 0v1m1 0v1m1 0v1m1 0v1m1 0v1m3 1v1m1 0v1m1 0v1m2 0v1m1 0v1m2 0v1m1 0v1m2 0v1m1 0v1m2 0v1m1 0v1m2 0v1m1 0v1m1 0v1m4 3v1m1 1v1m1 1v1m1 1v1m1 2v1m4 10v1m1 2v1m1 2v1m1 1v1m1 1v1m2 2v1m1 0v1m1 0v1m1 0v1m1 0v1m2 0v1m1 0v1m1 0v1m1 0v1m1-1v1m1 0v1m2 0v1m1 0v1m1-1v1m1 0v1m1 0v1m1-1v1m1 0v1m1 0v1m1-1v1m1 0v1m1 0v1m1 0v1m1-1v1m1 0v1m1 0v1m1 0v1m1 0v1m1-1v1m1 0v1m1 0v1m1 0v1m1-1v2m1-1v1m1 0v1m1 0v1m1 0v1m1-1v2m1-1v1m1 0v1m1 0v1m1 0v1m1 0v1m1-1v2m1-1v1m1 0v1m1 0v1m1 0v1m1-1v2m1-1v1m1 0v1m1 0v1m1-1v2m1-1v1m1 0v1"/>
<path stroke="#e9f69d" d="M79 304v1m2-25v1m0 26v1m0 10v1m4-40v1m5 17v1m3 8v1m1 10v1m0 5v1m3-41v1m5-4v1m0 13v1m0 15v1m1-36v1m0 31v1m1-38v1m0 47v3m1-57v1m1-7v1m1-7v1m23-3v2m1 6v1m1 7v1m1 7v1m1 8v1m1 8v1m1 7v1m1 7v1m1-60v2m0 64v1m1-64v2m0 66v1m1-68v2m0 71v2m1-74v2m0 126v19m1-146v2m1-2v2m1-2v3m1-3v2m1-4v2m1-4v1m1-5v2m82 164v2m1-150v1m0 50v1m1-32v1m0 9v1m45-45v1m1 3v1m1 2v1m1 1v1m1 1v1m1 1v1m3 2v1m1 0v1m2 0v1m3 0v1m3 0v1m1-1v1m3 0v1m1-1v1m2 0v1m1-1v1m2 0v1m2 0v1m2 0v1m3 1v1m1 0v1m3 1v1m1 0v1m1 0v1m1 0v1m1 0v1m1 0v1m1 0v1m3 1v1m1 0v1m3 1v1m3 1v1m2 0v1m1 0v1m2 0v1m1 0v1m3 1v1m1 0v1m1 0v1m1 0v1m2 2v1m1 1v1m2 4v1m1 2v1m1 2v1m1 2v1m3 7v1m1 1v1m1 1v1m1 1v1m1 0v1m1 0v1m1 0v1m1 0v1m1 0v1m1 0v1m2 0v1m1 0v1m1 0v1m1-1v1m1 0v1m1 0v1m1-1v1m1 0v1m1-1v1m1 0v1m1 0v1m1-1v1m1 0v1m1 0v1m1-1v1m1 0v1m1 0v1m1 0v1m1-1v1m1 0v1m1 0v1m1 0v1m1-1v2m1-1v1m1 0v1m1 0v1m1 0v1m1-1v1m1 0v1m1 0v1m1 0v1m1 0v1m1-1v1m1 0v1m1 0v1m1 0v1m1-1v2m1-1v2m1-1v1m1 0v1m1 0v1m1-1v2m1-1v2m1-1v1m1 0v1m1-1v2m1-1v2m1-1v1m1 0v1m1-1v2"/>
<path stroke="#eaf79e" d="M80 310v1m1-3v1m2-31v1m1-1v1m2 1v1m1 1v1m5 4v3m0 21v1m1-31v1m0 36v1m1-39v1m0 37v1m0 2v2m1-43v1m1 0v1m2 4v1m1 4v1m1 5v1m1 5v1m1-9v1m1-22v1m0 33v1m0 7v1m1-48v1m1-7v1m1-7v1m1-7v1m23-3v1m1 7v1m1 6v2m1 7v1m1 8v1m1 8v1m1 7v1m1 6v2m1-57v1m0 62v1m1-61v2m0 63v1m1-65v3m0 67v1m1-70v3m0 89v34m1-125v2m1-2v3m1-2v2m1-3v2m1-4v2m1-5v2m1-5v1m1-4v1m81 164v2m1-98v1m1-30v2m0 5v2m45-45v1m2 6v1m3 5v1m1 1v1m1 0v1m2 0v1m1 0v1m1-1v1m1 0v1m1-1v1m2 0v1m1-1v1m3 0v1m1-1v1m3 0v1m3 0v1m2 0v1m2 0v1m2 0v1m1 0v1m2 0v1m1 0v1m1 0v1m6 4v1m1 0v1m1 0v1m1 0v1m3 1v1m1 0v1m2 0v1m1 0v1m2 0v1m3 1v1m3 1v1m1 0v1m5 4v1m3 5v1m2 4v1m1 2v1m1 2v1m1 2v1m1 2v1m1 1v1m2 3v1m1 1v1m1 0v1m1 0v1m1 0v1m1 0v1m1 0v1m1 0v1m1 0v1m1-1v1m1 0v1m1 0v1m2 0v1m1 0v1m1-1v1m1 0v1m2 0v1m1 0v1m1-1v1m1 0v1m1 0v1m1-1v1m1 0v1m1 0v1m1 0v1m1-1v1m1 0v1m1 0v1m1 0v1m1-1v1m1 0v1m1 0v1m1 0v1m1 0v1m1-1v1m1 0v1m1 0v1m1 0v1m1-1v2m1-1v1m1 0v1m1 0v1m1 0v1m1-1v1m1 0v1m1 0v1m1 0v1m1-1v2m1-1v1m1 0v1m1 0v1m1-1v2m1-1v1m1 0v1m1 0v1m1-1v2m1-1v1"/>
<path stroke="#ebf7a0" d="M79 303v1m1-18v3m0 20v1m1-31v1m0 29v1m0 7v1m1-40v1m6 6v1m1 4v1m2 12v1m1-19v2m0 3v2m0 18v1m1-4v1m1 11v2m8-42v1m0 16v1m0 12v1m1-1v1m1-42v1m1-7v1m1-7v1m1-7v1m23-3v1m1 6v2m1 6v1m1 7v2m1 8v1m1 7v2m1 7v1m1-53v1m0 58v1m1-54v1m0 59v2m1-58v2m0 60v1m1-61v2m0 64v1m1-66v2m0 70v17m1-89v2m0 103v58m1-162v2m0 104v56m1-162v2m0 105v55m1-163v3m0 107v53m1-165v3m0 123v39m1-168v2m0 140v26m1-172v2m0 152v18m1-175v1m0 161v13m81-13v2m1-145v1m0 46v2m1-27v5m45-44v1m1 4v1m2 4v1m1 1v1m2 2v1m1 0v1m1 0v1m2 0v1m2 0v1m2 0v1m1-1v1m2 0v1m1-1v1m1-1v1m2 0v1m1-1v1m2 0v1m1-1v1m2 0v1m2 0v1m2 0v1m2 0v1m1 0v1m2 0v1m1 0v1m1 0v1m1 0v1m1 0v1m1 0v1m1 0v1m4 2v1m1 0v1m1 0v1m3 1v1m3 1v1m2 0v1m1 0v1m2 0v1m1 0v1m3 1v1m1 0v1m1 0v1m1 0v1m2 2v1m1 1v1m1 1v1m1 2v1m2 4v1m1 2v1m1 2v1m1 2v1m2 4v1m2 2v1m1 0v1m1 0v1m1 0v1m1 0v1m1 0v1m1 0v1m1 0v1m2 0v1m1 0v1m1 0v1m1-1v1m1 0v1m1-1v1m1 0v1m1 0v1m1-1v1m1 0v1m1-1v1m1 0v1m1 0v1m2 0v1m1 0v1m1 0v1m1-1v1m1 0v1m1 0v1m1 0v1m1-1v1m1 0v1m1 0v1m1 0v1m1-1v2m1-1v1m1 0v1m1 0v1m1 0v1m1-1v1m1 0v1m1 0v1m1 0v1m1-1v2m1-1v1m1 0v1m1 0v1m1-1v2m1-1v1m1 0v1m1 0v1m1-1v2m1-1v1m1 0v1m1 0v1m1-1v2m1-1v1m1 0v1"/>
<path stroke="#ecf7a1" d="M80 285v1m0 3v2m0 17v1m1 1v2m0 4v1m2-40v1m2 0v1m5 17v1m2-13v1m0 7v1m1 15v1m0 8v1m8-16v1m1-25v1m0 18v1m1-25v1m0 36v1m0 4v1m1-49v1m1-7v1m1-7v1m24-9v1m1 6v1m1 7v1m1 7v1m1 8v2m1 7v1m1 8v1m1-51v1m0 56v1m1-52v1m0 57v1m1-54v2m0 57v1m1-58v3m0 59v2m1-63v2m0 65v3m1-70v3m0 80v20m1-102v2m0 85v17m1-104v2m0 87v16m1-105v2m0 91v14m1-109v2m0 102v19m1-127v1m0 118v21m1-144v1m0 133v18m1-156v1m0 146v14m1-5v18m80-15v2m1-142v1m0 44v1m46-65v1m1 4v1m1 2v1m1 1v1m1 1v1m1 1v1m1 0v1m1 0v1m1 0v1m1 0v1m2 0v1m2 0v1m3 0v1m1-1v1m3 0v1m1-1v1m2 0v1m1-1v1m2 0v1m2 0v1m2 0v1m2 0v1m2 0v1m1 0v1m3 1v1m1 0v1m1 0v1m1 0v1m1 0v1m1 0v1m1 0v1m1 0v1m4 2v1m1 0v1m2 0v1m1 0v1m2 0v1m3 1v1m3 1v1m1 0v1m5 4v1m2 2v1m2 4v1m1 2v1m4 10v1m1 2v1m1 1v1m1 1v1m1 0v1m1 0v1m1 0v1m2 1v1m1 0v1m1 0v1m1 0v1m1 0v1m1-1v1m1 0v1m1 0v1m1-1v1m1 0v1m2 0v1m1 0v1m1-1v1m1 0v1m2 0v1m1 0v1m1 0v1m1-1v1m1 0v1m1 0v1m2 0v1m1 0v1m1 0v1m1-1v1m1 0v1m1 0v1m1 0v1m1-1v1m1 0v1m1 0v1m1 0v1m1-1v2m1-1v1m1 0v1m1 0v1m1-1v2m1-1v1m1 0v1m1 0v1m1-1v2m1-1v1m1 0v1m1 0v1m1-1v2m1-1v1m1 0v1m1 0v1m1-1v2m1-1v1m1 0v1m1-1v2"/>
<path stroke="#edf8a3" d="M80 283v2m0 6v2m1 19v4m1-39v1m2-1v1m2 1v1m5 22v1m1-10v1m0 15v1m1-30v1m0 28v1m0 6v1m1-38v1m1-1v1m1 0v1m1 1v1m1 2v1m1 4v1m1 5v1m2 1v1m0 9v1m1-37v1m0 38v4m1-49v1m1-7v1m1-7v1m1-6v1m23-4v1m1 6v1m1 7v1m1 7v1m1 8v1m1 8v1m1 7v2m1-49v1m0 54v1m1-50v1m0 55v1m1-51v2m0 54v1m1-54v2m0 56v1m1-59v3m0 60v2m1-64v3m0 65v12m1-80v3m0 71v11m1-85v3m0 72v12m1-87v2m0 80v9m1-93v2m0 93v7m1-107v2m0 108v8m1-122v1m0 122v10m1-137v1m0 135v10m1-149v1m0 149v8m1 7v11m79-88v4m0 66v3m1-139v1m0 41v2m46-65v1m1 4v1m1 2v1m2 3v1m1 1v1m4 3v1m1 0v1m2 0v1m2 0v1m1-1v1m3 0v1m1-1v1m3 0v1m3 0v1m2 0v1m2 0v1m2 0v1m2 0v1m3 1v1m1 0v1m3 1v1m1 0v1m1 0v1m1 0v1m1 0v1m1 0v1m1 0v1m1 0v1m1 0v1m2 0v1m1 0v1m3 1v1m2 0v1m1 0v1m2 0v1m1 0v1m3 1v1m1 0v1m1 0v1m1 0v1m1 0v1m1 1v1m2 3v1m2 4v1m1 2v1m1 2v1m1 2v1m2 4v1m1 1v1m1 1v1m1 0v1m3 3v1m3 1v1m1 0v1m1 0v1m2 0v1m1 0v1m2 0v1m1 0v1m1-1v1m1 0v1m1-1v1m1 0v1m1 0v1m1-1v1m1 0v1m1 0v1m1-1v1m1 0v1m1 0v1m1 0v1m1-1v1m1 0v1m1 0v1m1-1v1m1 0v1m1 0v1m1 0v1m1-1v1m1 0v1m1 0v1m1 0v1m1-1v1m1 0v1m1 0v1m1 0v1m1-1v1m1 0v1m1 0v1m1 0v1m1-1v1m1 0v1m1 0v1m1 0v1m1-1v1m1 0v1m1 0v1m1-1v2m1-1v1m1 0v1m1-1v2m1-1v1"/>
<path stroke="#eef8a4" d="M79 302v1m1-21v1m0 10v2m0 12v1m1-30v1m6 2v1m1 2v1m1 4v1m3-7v1m0 10v2m0 12v1m1 1v1m9-34v1m0 21v1m0 7v1m1-37v1m1-7v1m1-7v1m2-12v1m24 3v1m1 6v2m1 6v2m1 7v2m1 8v1m1 7v1m1 7v1m1-48v1m0 52v2m1-48v1m0 51v2m1-51v4m0 50v2m1-55v5m0 52v3m1-59v3m0 57v5m1-65v3m0 59v9m1-71v3m0 61v8m1-73v3m0 70v7m1-82v2m0 85v6m1-98v2m0 100v6m1-113v2m0 113v7m1-126v2m0 126v7m1-138v1m0 141v7m1 6v9m79-81v4m0 4v10m0 53v3m1-135v1m0 39v1m46-64v1m3 10v1m2 2v1m1 1v1m1 0v1m1 0v1m2 0v1m1 0v1m2 0v1m1-1v1m2 0v1m1-1v1m3 0v1m1-1v1m2 0v1m1-1v1m2 0v1m2 0v1m2 0v1m2 0v1m2 0v1m1 0v1m2 0v1m1 0v1m1 0v1m6 4v1m1 0v1m1 0v1m1 0v1m1 0v1m3 1v1m1 0v1m2 0v1m3 1v1m3 1v1m1 0v1m6 5v1m1 1v1m1 1v1m1 2v1m1 1v1m1 2v1m1 2v1m1 2v1m1 2v1m1 1v1m2 3v1m2 2v1m1 0v1m1 0v1m1 0v1m1 0v1m2 0v1m1 0v1m1 0v1m1-1v1m1 0v1m1 0v1m1-1v1m1 0v1m1-1v1m1 0v1m2 0v1m1 0v1m1-1v1m1 0v1m1 0v1m1-1v1m1 0v1m1 0v1m1 0v1m1-1v1m1 0v1m1 0v1m2 0v1m1 0v1m1 0v1m1-1v1m1 0v1m1 0v1m1 0v1m1-1v1m1 0v1m1 0v1m1 0v1m1-1v1m1 0v1m1 0v1m1 0v1m1-1v1m1 0v1m1 0v1m1-1v2m1-1v1m1 0v1m1 0v1m1-1v1m1 0v1m1 0v1m1-1v1m1 0v1"/>
<path stroke="#eff9a6" d="M80 281v1m0 13v2m0 8v2m3-31v1m7 18v1m1 5v1m1-20v1m0 13v1m1-18v1m0 31v2m0 1v2m7-21v1m1 5v1m1-26v1m0 23v1m0 5v1m1-37v1m1-8v2m1-7v1m1-6v1m1-7v1m24 3v1m1 6v1m1 7v1m1 8v1m1 9v1m1 7v1m1-45v1m0 51v1m1-46v1m0 50v1m1-45v2m0 48v1m1-45v3m0 45v2m1-48v5m0 45v2m1-53v5m0 49v3m1-57v4m0 50v5m1-59v3m0 53v5m1-62v2m0 62v6m1-73v2m0 78v5m1-90v2m0 94v4m1-105v1m0 108v4m1-117v1m0 119v6m1-130v1m0 134v6m1 6v7m1 15v5m78-94v2m0 18v6m0 44v3m1-93v1m47-58v1m1 2v1m1 1v1m1 1v1m2 2v1m1 0v1m1 0v1m1 0v1m2 0v1m1 0v1m1-1v1m2 0v1m1-1v1m2 0v1m1-1v1m3 0v1m3 0v1m2 0v1m2 0v1m2 0v1m2 0v1m2 0v1m1 0v1m2 0v1m1 0v1m1 0v1m1 0v1m1 0v1m1 0v1m1 0v1m6 4v1m1 0v1m3 1v1m2 0v1m1 0v1m2 0v1m1 0v1m3 1v1m1 0v1m1 0v1m1 0v1m1 0v1m4 7v1m4 10v1m1 2v1m2 4v1m2 2v1m1 0v1m1 0v1m1 0v1m1 0v1m1 0v1m1 0v1m1-1v1m1 0v1m1 0v1m2 0v1m1 0v1m1-1v1m1 0v1m2 0v1m1 0v1m1-1v1m1 0v1m2 0v1m1 0v1m2 0v1m1 0v1m1 0v1m1-1v1m1 0v1m1 0v1m1 0v1m1-1v1m1 0v1m1 0v1m1-1v1m1 0v1m1 0v1m1 0v1m1-1v1m1 0v1m1 0v1m1 0v1m1-1v1m1 0v1m1 0v1m1-1v2m1-1v1m1 0v1m1 0v1m1-1v1m1 0v1m1 0v1m1-1v2m1-1v1m1 0v1m1-1v2m1-1v1m1 0v1"/>
<path stroke="#f0f9a7" d="M79 301v1m1-5v2m0 4v2m1-28v1m1-2v1m2-1v1m1 0v1m4 10v1m3 8v1m0 9v1m1 5v1m1-36v1m1-1v1m4 10v1m3-15v1m0 25v5m1-37v1m1-8v1m1-6v1m1-6v1m1-7v1m24 2v2m1 6v1m1 7v1m1 8v1m1 8v2m1 7v1m1-43v1m0 49v1m1-44v1m0 48v1m1-42v2m0 44v2m1-41v4m0 40v1m1-41v6m0 37v2m1-46v7m0 37v5m1-50v4m0 41v5m1-51v3m0 47v3m1-55v3m0 56v3m1-65v2m0 73v3m1-83v2m0 88v4m1-100v2m0 102v4m1-112v1m0 114v4m1-123v1m0 127v6m1-137v1m0 143v5m1 12v10m78-171v1m0 79v2m0 26v5m0 35v4m1-128v1m0 36v1m47-58v1m1 2v1m2 3v1m1 1v1m1 0v1m3 2v1m1 0v1m2 0v1m2 0v1m3 0v1m3 0v1m1-1v1m2 0v1m1-1v1m2 0v1m2 0v1m2 0v1m2 0v1m2 0v1m2 0v1m1 0v1m3 1v1m1 0v1m1 0v1m1 0v1m1 0v1m1 0v1m1 0v1m1 0v1m1 0v1m1 0v1m3 1v1m1 0v1m2 0v1m3 1v1m3 1v1m1 0v1m6 5v1m1 1v1m1 1v1m2 4v1m1 2v1m1 2v1m2 4v1m1 2v1m1 1v1m1 1v1m1 0v1m1 0v1m1 0v1m1 0v1m1 0v1m1 0v1m1 0v1m2 0v1m1 0v1m1 0v1m1-1v1m1 0v1m2 0v1m1 0v1m1-1v1m1 0v1m1-1v1m1 0v1m1 0v1m1-1v1m1 0v1m1 0v1m1-1v1m1 0v1m1 0v1m1-1v1m1 0v1m1 0v1m1 0v1m1-1v1m1 0v1m1 0v1m1-1v1m1 0v1m1 0v1m1 0v1m1-1v1m1 0v1m1 0v1m1 0v1m1-1v1m1 0v1m1 0v1m1-1v1m1 0v1m1 0v1m1-1v2m1-1v1m1 0v1m1 0v1m1-1v1m1 0v1m1 0v1m1-1v1m1 0v1m1-1v2"/>
<path stroke="#f1f9a9" d="M80 280v1m0 18v4m6-25v1m1 1v1m3 13v1m1 5v1m1-20v1m0 16v2m0 5v2m4-28v1m1 1v1m1 2v1m3 15v1m2-33v1m1-8v1m1-6v1m1-6v1m25-4v1m1 7v1m1 6v2m1 7v2m1 8v1m1 8v1m1-41v1m0 47v1m1-42v1m0 46v1m1-39v1m0 41v2m1-35v2m0 36v2m1-34v7m0 27v3m1-37v37m1-41v6m0 29v6m1-43v4m0 41v2m1-49v3m0 51v2m1-60v3m0 66v4m1-78v2m0 83v3m1-94v1m0 97v4m1-107v1m0 110v3m1-118v1m0 122v4m1-130v1m0 136v6m1 10v7m78-82v1m0 33v6m0 23v6m1-123v1m0 34v1m47-58v1m2 5v1m2 2v1m2 2v1m1 0v1m3 1v1m2 0v1m2 0v1m1-1v1m2 0v1m1-1v1m3 0v1m3 0v1m2 0v1m2 0v1m2 0v1m2 0v1m2 0v1m2 0v1m1 0v1m1 0v1m4 2v1m1 0v1m1 0v1m1 0v1m1 0v1m1 0v1m1 0v1m1 0v1m1 0v1m3 1v1m2 0v1m1 0v1m2 0v1m1 0v1m2 0v1m1 0v1m1 0v1m1 0v1m1 0v1m1 0v1m4 7v1m1 1v1m1 2v1m1 2v1m1 2v1m2 4v1m1 1v1m1 1v1m1 0v1m1 0v1m1 0v1m1 0v1m1 0v1m1 0v1m1 0v1m1 0v1m2 0v1m1 0v1m2 0v1m1 0v1m1-1v1m1 0v1m1-1v1m1 0v1m2 0v1m1 0v1m1-1v1m1 0v1m1 0v1m1-1v1m1 0v1m1 0v1m2 0v1m1 0v1m1 0v1m1-1v1m1 0v1m1 0v1m2 0v1m1 0v1m1 0v1m1-1v1m1 0v1m1 0v1m1 0v1m1-1v1m1 0v1m1 0v1m1-1v1m1 0v1m1 0v1m1-1v1m1 0v1m1 0v1m1-1v2m1-1v1m1 0v1m1-1v2m1-1v1m1 0v1m1-1v1"/>
<path stroke="#f2faaa" d="M79 300v1m1-22v1m1-4v1m1-2v1m1-1v1m5 7v1m4 16v5m1-27v1m6 9v1m1 5v1m1 4v1m1-26v1m1-9v2m1-8v1m1-6v1m1-6v1m25-4v1m1 6v2m1 6v1m1 8v1m1 8v2m1 8v1m1-39v1m0 45v1m1-40v1m0 43v2m1-37v2m0 38v1m1-31v3m0 30v3m1-25v5m0 18v4m2-32v11m0 8v10m1-33v4m0 34v3m1-44v2m0 47v2m1-55v2m0 61v3m1-72v2m0 77v4m1-90v2m0 92v3m1-102v1m0 105v4m1-114v1m0 117v4m1 6v5m1 10v6m78-153v1m0 75v2m0 40v23m1-83v1m48-54v1m1 1v1m1 1v1m2 2v1m1 0v1m1 0v1m1 0v1m1 0v1m2 0v1m2 0v1m1-1v1m2 0v1m1-1v1m2 0v1m1-1v1m2 0v1m1-1v1m2 0v1m2 0v1m2 0v1m1-1v1m1 0v1m2 0v1m2 0v1m3 1v1m1 0v1m1 0v1m1 0v1m10 8v1m1 0v1m2 0v1m3 1v1m3 1v1m3 1v1m1 0v1m1 0v1m2 2v1m1 1v1m1 1v1m1 1v1m2 4v1m1 2v1m1 2v1m1 2v1m3 5v1m6 5v1m1 0v1m1 0v1m1 0v1m1-1v1m1 0v1m1 0v1m1-1v1m1 0v1m1-1v1m1 0v1m2 0v1m1 0v1m1-1v1m1 0v1m2 0v1m1 0v1m2 0v1m1 0v1m1 0v1m1-1v1m1 0v1m1 0v1m1-1v1m1 0v1m1 0v1m1 0v1m1-1v1m1 0v1m1 0v1m1-1v1m1 0v1m1 0v1m1 0v1m1-1v1m1 0v1m1 0v1m1-1v1m1 0v1m1 0v1m1-1v1m1 0v1m1 0v1m1-1v1m1 0v1m1 0v1m1-1v1m1 0v1m1 0v1m1-1v1"/>
<path stroke="#f3faac" d="M80 278v1m4-4v1m1 0v1m4 10v1m2 11v1m1-20v1m2-4v1m7 6v3m1-14v1m1-9v1m1-7v1m1-6v1m26-9v1m1 6v1m1 7v1m1 7v2m1 8v1m1 9v1m1 7v1m1-38v1m0 41v1m1-33v1m0 36v1m1-27v2m0 26v2m1-17v5m0 7v6m2-17v8m1-19v4m0 28v2m1-39v3m0 42v2m1-51v2m0 56v3m1-67v2m0 73v2m1-84v1m0 88v3m1-98v2m0 100v3m1-109v1m0 113v3m1-121v1m0 126v4m1 10v5m1 16v12m77-174v1m0 73v1m1-51v1m0 31v1m47-57v1m1 2v1m3 5v1m1 0v1m1 0v1m2 1v1m1 0v1m1 0v1m2 0v1m1-1v1m2 0v1m3 0v1m3 0v1m1-1v1m2 0v1m2 0v1m2 0v1m1-1v1m2 0v1m1 0v1m2 0v1m2 0v1m1 0v1m2 0v1m1 0v1m1 0v1m1 0v1m1 0v1m1 0v1m1 0v1m1 0v1m1 0v1m1 0v1m1 0v1m1 0v1m3 1v1m2 0v1m1 0v1m2 0v1m1 0v1m2 0v1m1 0v1m4 3v1m2 2v1m1 1v1m2 4v1m4 10v1m1 2v1m1 1v1m2 2v1m1 0v1m1 0v1m1 0v1m1 0v1m2 0v1m1 0v1m1 0v1m2 0v1m1 0v1m2 0v1m2 0v1m1 0v1m1-1v1m1 0v1m1-1v1m1 0v1m1 0v1m1-1v1m1 0v1m1 0v1m1-1v1m1 0v1m1 0v1m1-1v1m1 0v1m1 0v1m2 0v1m1 0v1m1 0v1m1-1v1m1 0v1m1 0v1m1-1v1m1 0v1m1 0v1m1 0v1m1-1v1m1 0v1m1 0v1m1-1v1m1 0v1m1 0v1m1-1v1m1 0v1m1 0v1m1-1v1m1 0v1m1 0v1m1-1v1m1 0v1m1 0v1m1-1v1"/>
<path stroke="#f4faad" d="M79 299v1m2-25v1m5 1v1m4 15v1m3-17v1m2-1v1m1 0v1m1 1v1m1 2v1m2 9v1m1-12v2m0 3v2m0 9v1m1-27v1m1-9v1m1-7v1m1-6v1m1-5v1m26 2v1m1 6v2m1 7v1m1 8v2m1 8v2m1-36v1m0 42v1m1-36v1m0 39v1m1-31v2m0 33v1m1-24v2m0 23v1m1-10v7m3-18v6m0 19v3m1-34v4m0 36v2m1-47v3m0 51v2m1-62v2m0 68v3m1-81v2m0 84v2m1-93v1m0 97v2m1-105v1m0 109v3m1-117v1m0 121v4m1 9v5m1 13v8m77-89v1m1-49v1m0 29v1m47-57v1m2 5v1m1 1v1m1 0v1m3 3v1m3 1v1m1 0v1m1-1v1m2 0v1m2 0v1m1-1v1m2 0v1m1-1v1m3 0v1m2 0v1m2 0v1m3 0v1m2 0v1m1 0v1m2 0v1m2 0v1m1 0v1m3 1v1m1 0v1m1 0v1m1 0v1m1 0v1m1 0v1m4 3v1m1 0v1m1 0v1m2 0v1m3 1v1m3 1v1m3 1v1m1 0v1m1 0v1m2 2v1m3 5v1m1 1v1m1 2v1m1 2v1m1 2v1m2 4v1m1 1v1m1 1v1m1 0v1m1 0v1m1 0v1m1 0v1m1 0v1m1 0v1m2 0v1m1 0v1m1 0v1m1-1v1m1 0v1m1 0v1m1-1v1m1 0v1m1-1v1m1 0v1m1-1v1m1 0v1m2 0v1m1 0v1m1-1v1m1 0v1m1 0v1m2 0v1m1 0v1m2 0v1m1 0v1m1 0v1m1-1v1m1 0v1m1 0v1m1-1v1m1 0v1m1 0v1m1-1v1m1 0v1m1 0v1m1 0v1m1-1v1m1 0v1m1 0v1m1-1v1m1 0v1m1 0v1m1-1v1m1 0v1m1 0v1m1-1v1m1 0v1m1 0v1m1-1v1m1 0v1m1-1v2m1-1v1"/>
<path stroke="#f5fbaf" d="M80 277v1m2-4v1m1-1v1m4 4v1m1 2v1m3 15v1m1-20v1m7 7v1m2-8v2m0 7v2m0 6v1m1-27v1m1-10v2m1-7v1m2-10v1m26 1v2m1 6v1m1 7v2m1 8v1m1-31v1m0 39v1m1-33v1m0 39v2m1-34v2m0 36v1m1-28v1m0 30v2m1-21v2m0 19v2m4-14v9m0 3v7m1-27v3m0 31v2m1-42v2m0 47v2m1-58v2m0 63v3m1-76v2m0 79v3m1-90v1m0 93v3m1-102v1m0 105v3m1-113v1m0 117v3m1-125v1m0 132v5m1 13v5m77-153v1m0 69v2m1-47v1m0 27v1m47-57v1m1 3v1m2 3v1m2 2v1m1 0v1m1 0v1m1 0v1m1 0v1m2 0v1m2 0v1m2 0v1m1-1v1m2 0v1m1-1v1m2 0v1m1-1v1m2 0v1m2 0v1m2 0v1m3 0v1m2 0v1m1 0v1m2 0v1m2 0v1m1 0v1m1 0v1m3 1v1m1 0v1m1 0v1m2 2v1m1 0v1m1 0v1m4 2v1m2 0v1m1 0v1m2 0v1m1 0v1m2 0v1m1 0v1m4 3v1m1 0v1m1 1v1m1 1v1m1 1v1m2 4v1m1 2v1m1 2v1m1 2v1m3 5v1m4 3v1m1 0v1m1 0v1m1 0v1m2 0v1m1 0v1m2 0v1m1 0v1m1-1v1m1 0v1m2 0v1m2 0v1m1 0v1m1-1v1m1 0v1m2 0v1m1 0v1m1 0v1m1-1v1m1 0v1m1 0v1m1-1v1m1 0v1m1 0v1m1-1v1m1 0v1m1 0v1m1-1v1m1 0v1m1 0v1m2 0v1m1 0v1m1 0v1m1-1v1m1 0v1m1 0v1m1-1v1m1 0v1m1 0v1m1-1v1m1 0v1m1 0v1m1-1v1m1 0v1m1 0v1m1-1v1m1 0v1m1-1v1m1 0v1"/>
<path stroke="#f6fbb0" d="M79 298v1m1-23v1m1-3v1m3-1v1m1 0v1m4 10v1m1 5v1m1 4v1m3-22v1m6 15v1m1-14v1m0 11v2m0 2v2m1-27v1m1-10v1m1-6v1m1-5v1m1-6v1m26 1v1m1 6v2m1 7v1m1 8v2m1-29v1m0 36v2m1-31v1m0 37v1m1-30v1m0 34v1m1-26v2m0 27v1m1-17v2m0 15v2m4-3v3m1-17v4m0 25v2m1-38v3m0 42v2m1-54v2m0 58v3m1-71v2m0 75v2m1-86v1m0 90v2m1-98v1m0 102v2m1-109v1m0 113v3m1-121v1m0 127v4m1 12v6m77-79v1m1-18v1m48-53v1m1 2v1m2 2v1m1 0v1m3 2v1m1 0v1m1 0v1m2 0v1m2 0v1m3 0v1m3 0v1m3 0v1m2 0v1m2 0v1m2 0v1m1-1v1m2 0v1m3 1v1m2 0v1m3 1v1m1 0v1m1 0v1m4 3v1m1 0v1m1 0v1m1 0v1m1 0v1m1 0v1m1 0v1m2 0v1m3 1v1m2 0v1m1 0v1m2 0v1m1 0v1m1 0v1m1 0v1m1 0v1m5 9v1m4 10v1m1 2v1m1 1v1m2 2v1m1 0v1m1 0v1m3 1v1m1 0v1m1 0v1m2 0v1m1 0v1m1-1v1m1 0v1m2 0v1m1 0v1m1-1v1m1 0v1m1-1v1m1 0v1m2 0v1m1 0v1m1-1v1m1 0v1m1 0v1m1-1v1m1 0v1m1 0v1m2 0v1m1 0v1m2 0v1m1 0v1m2 0v1m1 0v1m1 0v1m1-1v1m1 0v1m1 0v1m1-1v1m1 0v1m1 0v1m1-1v1m1 0v1m1 0v1m1-1v1m1 0v1m1 0v1m1-1v1m1 0v1m1 0v1m1-1v1m1 0v1m1-1v1m1 0v1"/>
<path stroke="#f7fcb2" d="M79 297v1m3-25v1m1-1v1m3 2v1m5 19v1m1-19v1m1-3v1m2-1v1m1 0v1m1 1v1m4-2v1m0 14v2m1-27v2m1-10v1m1-6v1m1-5v1m1-6v1m26 0v2m1 6v1m1 7v2m1 7v2m1-26v1m0 34v1m1-28v1m0 35v1m1-28v1m0 32v1m1-23v1m0 25v1m1-14v1m0 13v1m5-11v4m0 19v2m1-33v3m0 37v2m1-50v2m0 54v2m1-66v2m0 70v3m1-83v2m0 85v3m1-95v1m0 98v3m1-106v1m0 110v2m1 7v3m1 12v4m1 18v13m76-172v1m0 66v1m1-43v1m0 24v1m49-50v1m1 1v1m3 3v1m1 0v1m3 1v1m1 0v1m2 0v1m2 0v1m1-1v1m2 0v1m1-1v1m2 0v1m3 0v1m2 0v1m2 0v1m3 0v1m2 0v1m1 0v1m2 0v1m2 0v1m1 0v1m2 0v1m1 0v1m1 0v1m1 0v1m1 0v1m1 0v1m1 0v1m5 4v1m1 0v1m3 1v1m2 0v1m3 1v1m2 0v1m1 0v1m1 0v1m2 2v1m1 1v1m1 1v1m1 1v1m1 1v1m1 2v1m1 2v1m1 2v1m2 4v1m1 1v1m1 1v1m1 0v1m1 0v1m1 0v1m1 0v1m1 0v1m2 0v1m1 0v1m1 0v1m1-1v1m1 0v1m2 0v1m1 0v1m1-1v1m1 0v1m1-1v1m1 0v1m2 0v1m1 0v1m1-1v1m1 0v1m2 0v1m1 0v1m2 0v1m1 0v1m1 0v1m1-1v1m1 0v1m1 0v1m1-1v1m1 0v1m1 0v1m1-1v1m1 0v1m1 0v1m1-1v1m1 0v1m1 0v1m1-1v1m1 0v1m1 0v1m1-1v1m1 0v1m1 0v1m1-1v1m1 0v1m1 0v1m1-1v1m1 0v1m1 0v1m1-1v1m1 0v1m1-1v1m1 0v1"/>
<path stroke="#f8fcb4" d="M79 283v2m0 11v1m1-22v1m1-3v1m6 4v1m1 2v1m2 9v1m1 3v1m3-21v1m4 6v1m1 3v1m1 4v1m1-15v1m1-13v3m1-9v1m1-6v1m1-5v1m27-5v1m1 6v2m1 6v2m1 7v2m1-23v1m0 31v2m1-26v1m0 33v1m1-26v1m0 30v1m1-21v2m0 22v1m1-12v3m0 7v3m5-6v4m0 12v3m1-28v3m0 32v2m1-46v2m0 49v3m1-62v2m0 66v2m1-78v1m0 82v2m1-91v1m0 95v2m1-102v1m0 107v2m1-115v1m0 120v3m1 10v5m1 15v7m76-158v1m0 64v1m1-41v1m0 22v1m48-52v1m3 5v1m1 0v1m1 0v1m1 0v1m1 0v1m1 0v1m2 0v1m1 0v1m2 0v1m1-1v1m2 0v1m3 0v1m2 0v1m1-1v1m2 0v1m2 0v1m2 0v1m3 0v1m2 0v1m1 0v1m2 0v1m2 0v1m1 0v1m3 1v1m1 0v1m1 0v1m1 0v1m2 2v1m1 0v1m1 0v1m1 0v1m3 1v1m1 0v1m2 0v1m2 0v1m1 0v1m2 0v1m4 3v1m2 2v1m1 1v1m1 1v1m2 4v1m1 2v1m1 2v1m1 2v1m3 5v1m1 0v1m1 0v1m1 0v1m1 0v1m1 0v1m1 0v1m2 0v1m1 0v1m2 0v1m1 0v1m1-1v1m1 0v1m2 0v1m2 0v1m1 0v1m1-1v1m1 0v1m1-1v1m1 0v1m1 0v1m1-1v1m1 0v1m1 0v1m1-1v1m1 0v1m1 0v1m1-1v1m1 0v1m1 0v1m1-1v1m1 0v1m1 0v1m1-1v1m1 0v1m1 0v1m1-1v1m1 0v1m1 0v1m1-1v1m1 0v1m1 0v1m1-1v1m1 0v1m1 0v1m1-1v1m1 0v1m1 0v1m1-1v1m1 0v1m1 0v1m1-1v1m1 0v1m1-1v1m1 0v1"/>
<path stroke="#f9fcb5" d="M79 280v3m0 2v4m0 6v1m1-22v1m2-3v1m2 0v1m1 0v1m4 10v1m2-2v7m0 2v2m1-18v1m9-2v1m1-13v1m1-8v2m1-6v1m1-5v1m28 2v1m1 7v1m1 7v2m1-20v1m0 28v2m1-23v1m0 30v2m1-24v1m0 28v1m1-18v2m0 19v1m1-8v7m5 1v12m1-22v3m0 27v2m1-42v2m0 45v2m1-57v2m0 61v3m1-75v2m0 78v2m1-88v1m0 92v2m1 5v3m1-112v1m0 116v3m1 9v4m1 14v6m76-88v2m1-39v1m49-28v1m1 1v1m6 5v1m1 0v1m2 0v1m1 0v1m3 0v1m2 0v1m1-1v1m2 0v1m3 0v1m2 0v1m2 0v1m2 0v1m3 0v1m3 1v1m2 0v1m3 1v1m1 0v1m5 4v1m1 0v1m4 3v1m1 0v1m3 1v1m2 0v1m2 0v1m1 0v1m2 0v1m1 0v1m1 0v1m2 2v1m4 7v1m4 10v1m1 2v1m1 1v1m6 5v1m1 0v1m1 0v1m2 0v1m1 0v1m2 0v1m2 0v1m1 0v1m1-1v1m1 0v1m1-1v1m1 0v1m2 0v1m2 0v1m1 0v1m2 0v1m1 0v1m2 0v1m1 0v1m2 0v1m1 0v1m2 0v1m1 0v1m2 0v1m1 0v1m2 0v1m1 0v1m2 0v1m1 0v1m1-1v1m1 0v1m1 0v1m1-1v1m1 0v1m1 0v1m1-1v1m1 0v1m1 0v1m1-1v1m1 0v1m1-1v1m1 0v1"/>
<path stroke="#fafdb7" d="M79 278v2m0 9v6m2-23v1m2-1v1m3 2v1m4 14v1m1-8v1m0 7v2m2-18v1m2-1v1m1 0v1m4 13v1m1-16v1m1-14v2m1-8v1m1-5v1m1-6v2m28 1v2m1 6v2m1 7v1m1 9v2m1-20v1m0 28v1m1-21v2m0 25v1m1-15v1m0 17v1m7-6v4m0 20v3m1-38v3m0 40v2m1-53v1m0 57v3m1-70v2m0 74v2m1-85v1m0 89v2m1-97v1m0 101v2m1-108v1m0 113v2m1 8v4m1 13v5m76-144v1m0 60v1m1-36v1m0 19v1m48-52v1m3 5v1m1 0v1m1 0v1m1 0v1m1 0v1m3 1v1m2 0v1m1 0v1m1-1v1m2 0v1m3 0v1m2 0v1m3 0v1m2 0v1m2 0v1m2 0v1m4 1v1m2 0v1m2 0v1m1 0v1m2 0v1m1 0v1m1 0v1m1 0v1m1 0v1m1 0v1m2 2v1m1 0v1m1 0v1m3 1v1m1 0v1m2 0v1m2 0v1m2 0v1m1 0v1m2 0v1m2 2v1m2 2v1m1 1v1m1 1v1m1 1v1m1 2v1m1 2v1m1 2v1m2 4v1m1 1v1m1 1v1m1 0v1m1 0v1m1 0v1m1 0v1m3 1v1m1 0v1m2 0v1m1 0v1m1-1v1m1 0v1m1-1v1m1 0v1m2 0v1m2 0v1m1 0v1m1-1v1m1 0v1m1-1v1m1 0v1m1 0v1m1-1v1m1 0v1m1 0v1m1-1v1m1 0v1m1 0v1m1-1v1m1 0v1m1 0v1m1-1v1m1 0v1m1 0v1m1-1v1m1 0v1m1 0v1m1-1v1m1 0v1m1 0v1m1-1v1m1 0v1m2 0v1m1 0v1m1-1v1m1 0v1m1 0v1m1-1v1m1 0v1m1 0v1m1-1v1m1 0v1m1-1v1m1 0v1"/>
<path stroke="#fbfdb8" d="M79 277v1m1-5v1m2-3v1m2 0v1m3 4v1m3 11v1m1-8v1m1-7v1m2-3v1m3 3v1m1 2v1m1 3v1m1 3v1m1-17v2m1-15v2m1-7v1m1-5v1m1-6v1m28 1v2m1 6v2m1 6v3m1-16v2m0 21v3m1-17v1m0 25v2m1-18v1m0 23v1m1-13v2m0 13v2m7-1v6m0 11v3m1-32v3m0 35v2m1-50v2m0 53v2m1-65v1m0 70v3m1-82v1m0 86v2m1-94v1m0 98v2m1 6v2m1 7v3m1 13v4m1 21v10m74-1v1m1-169v1m0 58v1m1-34v1m0 17v1m48-52v1m1 2v1m1 1v1m1 0v1m4 3v1m1 0v1m1 0v1m2 0v1m2 0v1m2 0v1m2 0v1m3 0v1m2 0v1m3 0v1m2 0v1m2 0v1m2 0v1m2 0v1m2 0v1m2 0v1m2 0v1m1 0v1m3 1v1m1 0v1m1 0v1m2 2v1m1 0v1m1 0v1m3 2v1m3 1v1m2 0v1m2 0v1m2 0v1m1 0v1m2 1v1m1 0v1m1 1v1m6 12v1m1 2v1m1 2v1m3 5v1m1 0v1m1 0v1m1 0v1m1 0v1m1 0v1m1 0v1m2 0v1m1 0v1m2 0v1m2 0v1m2 0v1m1 0v1m1-1v1m1 0v1m1-1v1m1 0v1m1-1v1m1 0v1m2 0v1m1 0v1m2 0v1m1 0v1m2 0v1m1 0v1m2 0v1m1 0v1m1-1v1m1 0v1m1 0v1m1-1v1m1 0v1m1 0v1m1-1v1m1 0v1m1 0v1m1-1v1m1 0v1m1 0v1m1-1v1m1 0v1m2 0v1m1 0v1m1-1v1m1 0v1m1 0v1m1-1v1m1 0v1m1-1v1m1 0v1"/>
<path stroke="#fcfeba" d="M79 276v1m1-5v1m1-2v1m2-1v1m2 1v1m3 6v1m1 3v1m2-4v1m2-8v1m2-1v1m5 13v1m1-17v1m1-15v2m1-7v2m1-6v2m29-5v2m1 5v3m1 6v2m1-11v1m0 18v2m1-13v2m0 20v3m1-15v2m0 20v1m1-10v3m0 9v1m7 7v11m1-26v5m0 27v3m1-46v2m0 49v2m1-62v2m0 66v2m1-78v2m0 82v2m1-91v1m0 95v2m1-103v1m0 108v2m1 6v3m1 11v5m1 17v8m74 6v3m1-111v2m1-32v1m0 15v1m52-44v1m1 0v1m1 0v1m3 1v1m1 0v1m2 0v1m2 0v1m2 0v1m2 0v1m1-1v1m2 0v1m2 0v1m3 0v1m2 0v1m2 0v1m2 0v1m2 0v1m2 0v1m2 0v1m3 1v1m1 0v1m4 3v1m1 0v1m1 0v1m2 2v1m1 0v1m2 0v1m1 0v1m2 0v1m2 0v1m2 0v1m2 0v1m1 0v1m1 0v1m2 2v1m1 1v1m1 1v1m1 1v1m1 1v1m1 2v1m3 7v1m1 2v1m1 1v1m6 5v1m1 0v1m1 0v1m2 0v1m1 0v1m1-1v1m1 0v1m1-1v1m1 0v1m1-1v1m1 0v1m1-1v1m1 0v1m2 0v1m2 0v1m1 0v1m1-1v1m1 0v1m1 0v1m1-1v1m1 0v1m1 0v1m1-1v1m1 0v1m1 0v1m1-1v1m1 0v1m2 0v1m1 0v1m2 0v1m1 0v1m1-1v1m1 0v1m1 0v1m1-1v1m1 0v1m1 0v1m1-1v1m1 0v1m1 0v1m1-1v1m1 0v1m1-1v1m1 0v1m1 0v1m1-1v1m1 0v1m1-1v1m1 0v1"/>
<path stroke="#fdfebb" d="M79 274v2m1-5v1m1-2v1m1-1v1m4 3v1m4 13v1m1-9v1m1-6v1m4-1v1m3 8v1m1 2v1m1-18v2m1-15v1m1-6v1m1-6v2m30 2v2m1-7v2m0 11v3m1-8v1m0 14v3m1-9v1m0 16v3m1-10v3m0 15v2m1-6v2m0 5v2m8-2v5m0 19v3m1-41v2m0 44v3m1-58v2m0 62v2m1-74v1m0 79v2m1-88v1m0 92v2m1-100v1m0 105v2m1-114v1m0 119v2m1 10v4m1 16v6m74-73v10m0 74v3m1-164v1m0 54v1m1-29v1m0 13v1m49-48v1m1 1v1m1 0v1m4 3v1m1 0v1m3 1v1m2 0v1m2 0v1m2 0v1m3 0v1m2 0v1m2 0v1m3 0v1m2 0v1m2 0v1m2 0v1m2 0v1m2 0v1m2 0v1m1 0v1m2 0v1m1 0v1m1 0v1m1 0v1m1 0v1m3 3v1m1 0v1m1 0v1m1 0v1m3 1v1m2 0v1m2 0v1m1-1v1m1 0v1m1-1v1m1 0v1m1 0v1m1 1v1m2 2v1m1 1v1m1 1v1m2 4v1m1 2v1m1 2v1m2 4v1m1 1v1m1 1v1m1 0v1m1 0v1m1 0v1m1 0v1m3 1v1m1 0v1m2 0v1m2 0v1m2 0v1m2 0v1m2 0v1m1 0v1m1-1v1m1 0v1m1-1v1m1 0v1m2 0v1m1 0v1m2 0v1m1 0v1m2 0v1m1 0v1m1-1v1m1 0v1m1 0v1m1-1v1m1 0v1m1 0v1m1-1v1m1 0v1m2 0v1m1 0v1m2 0v1m1 0v1m1-1v1m1 0v1m1 0v1m1-1v1m1 0v1m2 0v1m1 0v1m1-1v1m1 0v1m2 0v1"/>
<path stroke="#fefebd" d="M79 273v1m4-4v1m1 0v1m1 0v1m2 3v1m2 6v1m1 3v1m1-9v1m3-7v1m3 3v1m1 2v1m2 5v1m1-23v6m1-15v2m1-7v2m1-6v1m30-1v5m1-3v4m0 2v5m1-4v4m0 5v5m1-5v5m0 5v6m1-4v5m0 4v6m1-2v5m8 5v10m0 3v6m1-36v3m0 39v2m1-53v2m0 57v3m1-71v1m0 76v2m1-85v1m0 90v1m1 6v2m1 6v2m1 9v3m1 15v5m74-70v3m0 10v7m0 64v3m1-160v1m0 52v1m1-27v2m0 9v2m52-43v1m1 0v1m1 0v1m3 1v1m1 0v1m2 0v1m2 0v1m2 0v1m2 0v1m1-1v1m2 0v1m2 0v1m2 0v1m3 0v1m2 0v1m2 0v1m2 0v1m2 0v1m2 0v1m2 0v1m1 0v1m3 1v1m1 0v1m2 2v1m1 0v1m1 0v1m5 4v1m2 0v1m2 0v1m1-1v1m2 0v1m2 0v1m1 0v1m1 1v1m1 1v1m4 7v1m3 7v1m1 2v1m3 5v1m3 2v1m1 0v1m1 0v1m1 0v1m2 0v1m1 0v1m1-1v1m1 0v1m2 0v1m2 0v1m2 0v1m2 0v1m2 0v1m2 0v1m1 0v1m2 0v1m1 0v1m1-1v1m1 0v1m1 0v1m1-1v1m1 0v1m2 0v1m1 0v1m2 0v1m1 0v1m1-1v1m1 0v1m1 0v1m1-1v1m1 0v1m1 0v1m1-1v1m1 0v1m2 0v1m1 0v1m1-1v1m1 0v1m1 0v1m1-1v1m1 0v1m1-1v1m1 0v1m1 0v1m1-1v1"/>
<path stroke="#ffffbe" d="M79 272v1m1-3v1m1-2v1m1-1v1m6 9v1m3-2v1m1-5v1m1-2v1m2-1v1m5 10v2m1-25v3m1-11v2m1-8v3m32 2v2m1 5v5m1 5v5m1 7v4m9 24v3m1-27v2m0 35v2m1-49v1m0 54v2m1-67v2m0 72v2m1-82v1m0 87v2m1-96v1m0 100v2m1-109v1m0 114v2m1 8v3m1 14v4m74-67v2m0 20v5m0 55v4m1-105v1m1-24v3m0 4v2m49-46v1m1 1v1m5 4v1m1 0v1m3 1v1m2 0v1m2 0v1m2 0v1m3 0v1m2 0v1m2 0v1m2 0v1m5 1v1m2 0v1m2 0v1m2 0v1m2 0v1m3 1v1m1 0v1m3 2v1m1 0v1m1 0v1m2 2v1m1 0v1m1 0v1m1 0v1m2 0v1m2 0v1m3 0v1m1-1v1m1 0v1m1-1v1m1 0v1m1 1v1m1 1v1m1 1v1m1 1v1m1 1v1m1 1v1m1 2v1m1 2v1m3 7v1m1 1v1m2 2v1m1 0v1m3 1v1m1 0v1m1 0v1m2 0v1m2 0v1m1 0v1m1-1v1m1 0v1m1-1v1m1 0v1m1-1v1m1 0v1m1-1v1m1 0v1m1-1v1m1 0v1m1-1v1m1 0v1m1 0v1m1-1v1m1 0v1m2 0v1m1 0v1m2 0v1m1 0v1m1-1v1m1 0v1m1 0v1m1-1v1m1 0v1m2 0v1m1 0v1m1-1v1m1 0v1m1 0v1m1-1v1m1 0v1m1 0v1m1-1v1m1 0v1m1-1v1m1 0v1m1 0v1m1-1v1m1 0v1m1-1v1m1 0v1m1 0v1m1-1v1"/>
<path stroke="#fffebe" d="M79 270v2m1-3v1m1-2v1m2 0v1m1 0v1m2 2v1m4 12v1m1-10v1m3-6v1m2 1v1m3 8v1m1-1v1m1-26v3m1-11v3m1-7v1m45 40v5m0 28v2m1-46v2m0 50v2m1-63v2m0 68v2m1-79v1m0 84v2m1-93v1m0 98v1m1-106v1m0 112v1m1 8v2m1 13v4m1 21v12m73-97v1m0 27v5m0 46v4m1-152v1m0 49v1m1-20v4m49-45v1m2 3v1m1 0v1m1 0v1m1 0v1m3 1v1m1 0v1m2 0v1m2 0v1m2 0v1m2 0v1m3 0v1m2 0v1m2 0v1m2 0v1m2 0v1m3 0v1m2 0v1m2 0v1m2 0v1m2 0v1m1 0v1m2 0v1m1 0v1m1 0v1m1 0v1m1 0v1m2 2v1m1 0v1m1 0v1m2 1v1m1 0v1m2 0v1m2 0v1m1-1v1m3 0v1m2 0v1m1 1v1m6 12v1m1 2v1m1 2v1m1 2v1m1 1v1m1 1v1m1 1v1m1 0v1m1 0v1m1 0v1m1 0v1m3 1v1m1 0v1m2 0v1m2 0v1m2 0v1m2 0v1m2 0v1m2 0v1m2 0v1m2 0v1m1 0v1m2 0v1m1 0v1m1-1v1m1 0v1m1 0v1m1-1v1m1 0v1m2 0v1m1 0v1m1-1v1m1 0v1m1 0v1m1-1v1m1 0v1m2 0v1m1 0v1m1-1v1m1 0v1m1 0v1m1-1v1m1 0v1m2 0v1m1 0v1m1-1v1m1 0v1m2 0v1m1 0v1m1-1v1"/>
<path stroke="#fffdbc" d="M79 269v1m1-2v1m2-1v1m3 2v1m2 3v1m1 2v1m1 3v1m1 2v1m2-13v1m1-2v1m4 3v1m1 2v1m2 1v2m1-28v3m1-12v4m46 42v7m0 18v3m1-42v2m0 46v2m1-59v1m0 65v2m1-76v1m0 82v1m1-90v1m0 95v2m1 6v2m1 7v2m1 11v4m1 18v7m73-87v2m0 33v5m0 36v5m1-147v1m0 47v1m51-58v1m5 4v1m1 0v1m2 0v1m1 0v1m2 0v1m2 0v1m2 0v1m2 0v1m3 0v1m2 0v1m2 0v1m2 0v1m2 0v1m3 0v1m2 0v1m2 0v1m2 0v1m3 1v1m6 5v1m1 0v1m3 3v1m3 1v1m2 0v1m1-1v1m2 0v1m1-1v1m1-1v1m1 0v1m1-1v1m1 1v1m1 2v1m1 1v1m1 1v1m1 1v1m1 1v1m4 10v1m3 5v1m4 3v1m1 0v1m1 0v1m2 0v1m1 0v1m1-1v1m1 0v1m2 0v1m2 0v1m1-1v1m1 0v1m1-1v1m1 0v1m1-1v1m1 0v1m1-1v1m1 0v1m2 0v1m1 0v1m1-1v1m1 0v1m2 0v1m1 0v1m2 0v1m1 0v1m1-1v1m1 0v1m2 0v1m1 0v1m2 0v1m1 0v1m1-1v1m1 0v1m2 0v1m1 0v1m1-1v1m1 0v1m1 0v1m1-1v1m1 0v1m1-1v1m1 0v1m1 0v1m1-1v1m1 0v1m1-1v1"/>
<path stroke="#fffcba" d="M79 267v2m1-2v1m1-1v1m2 0v1m1 0v1m6 14v1m1-9v1m4-5v1m1 0v1m3 8v1m1-4v2m1-30v4m47 44v18m1-37v1m0 44v1m1-56v2m0 61v2m1-73v1m0 79v2m1 6v1m1-102v1m0 107v2m1 7v2m1 10v3m1 18v4m73-81v1m0 40v6m0 22v8m1-141v1m0 45v1m52-56v1m1 0v1m1 0v1m1 0v1m3 1v1m3 1v1m2 0v1m2 0v1m2 0v1m2 0v1m9 3v1m2 0v1m5 1v1m2 0v1m2 0v1m1 0v1m2 0v1m1 0v1m1 0v1m1 0v1m1 0v1m1 0v1m2 2v1m1 0v1m1 0v1m1 0v1m1 0v1m2 0v1m3 0v1m1-1v1m1-1v1m1-1v1m1 0v1m1-1v1m1 1v1m1 2v1m1 1v1m1 1v1m1 1v1m2 4v1m1 2v1m1 2v1m2 4v1m1 1v1m2 2v1m1 0v1m1 0v1m3 1v1m1 0v1m2 0v1m2 0v1m1 0v1m1-1v1m1 0v1m1-1v1m2 0v1m2 0v1m2 0v1m2 0v1m1 0v1m1-1v1m1 0v1m2 0v1m1 0v1m1-1v1m1 0v1m1 0v1m1-1v1m1 0v1m2 0v1m1 0v1m1-1v1m1 0v1m1 0v1m1-1v1m1 0v1m2 0v1m1 0v1m1-1v1m1 0v1m2 0v1m1 0v1m1-1v1m1 0v1m2 0v1m1 0v1m1-1v1m1 0v1m1-1v1"/>
<path stroke="#fffbb8" d="M79 266v1m1-1v1m1-1v1m1 0v1m3 2v1m1 1v1m3 8v1m1 1v1m1-9v1m1-4v1m1-2v1m1-1v1m3 3v1m1 2v1m2-2v2m1-33v5m48 30v2m0 40v2m1-53v1m0 58v2m1-70v1m0 77v1m1-86v1m0 91v2m1 6v1m1 7v2m1 9v3m1 17v4m63-153v1m10 73v2m0 47v22m52-144v1m5 4v1m1 0v1m2 0v1m1 0v1m2 0v1m2 0v1m2 0v1m2 0v1m2 0v1m2 0v1m2 0v1m2 0v1m5 1v1m2 0v1m3 0v1m2 0v1m3 1v1m3 1v1m1 0v1m3 3v1m1 0v1m1 0v1m3 2v1m1 0v1m2 0v1m1-1v1m1-1v1m1-1v1m1-1v1m2 0v1m1-1v1m1 1v1m1 2v1m4 8v1m2 4v1m1 2v1m1 2v1m3 5v1m1 0v1m1 0v1m1 0v1m1 0v1m1 0v1m2 0v1m1 0v1m2 0v1m2 0v1m2 0v1m2 0v1m2 0v1m2 0v1m1-1v1m1 0v1m1-1v1m1 0v1m2 0v1m1 0v1m1-1v1m1 0v1m2 0v1m1 0v1m2 0v1m1 0v1m1-1v1m1 0v1m2 0v1m1 0v1m1-1v1m1 0v1m1 0v1m1-1v1m1 0v1m2 0v1m1 0v1m1-1v1m1 0v1m2 0v1m1 0v1m1-1v1m1 0v1m1-1v1m1 0v1m1-1v1"/>
<path stroke="#fffab6" d="M79 264v2m1-2v2m1-1v1m1 0v1m1 0v1m4 6v1m1 2v1m2 4v1m5-12v1m4 9v1m1-26v10m0 8v3m49 6v2m0 36v2m1-50v2m0 55v1m1-67v1m0 74v2m1-84v1m0 89v1m1-98v1m0 104v1m1 7v1m1 9v2m1 16v4m63-148v1m10 71v1m1-61v1m0 43v1m52-56v1m1 0v1m1 0v1m1 0v1m3 1v1m3 1v1m2 0v1m2 0v1m2 0v1m2 0v1m2 0v1m2 0v1m2 0v1m2 0v1m2 0v1m3 0v1m2 0v1m6 2v1m2 0v1m1 0v1m3 2v1m1 0v1m1 0v1m3 3v1m1 0v1m3 1v1m1-1v1m5 0v1m1-1v1m1-1v1m1 1v1m1 2v1m1 2v1m1 1v1m1 1v1m1 1v1m1 2v1m3 7v1m1 2v1m1 1v1m6 5v1m1 0v1m2 0v1m1 0v1m2 0v1m2 0v1m2 0v1m2 0v1m1-1v1m1 0v1m1-1v1m2 0v1m2 0v1m1 0v1m1-1v1m1 0v1m2 0v1m1 0v1m1-1v1m1 0v1m1 0v1m1-1v1m1 0v1m2 0v1m1 0v1m1-1v1m1 0v1m2 0v1m1 0v1m1-1v1m1 0v1m1 0v1m1-1v1m1 0v1m1-1v1m1 0v1m1 0v1m1-1v1m1 0v1m1-1v1m1 0v1m2 0v1"/>
<path stroke="#fff8b4" d="M79 262v2m1-1v1m4 4v1m2 2v1m3 8v1m1 0v1m1-8v1m1-4v1m1-2v1m1-1v1m2 1v1m3 7v1m1-31v6m0 10v8m49 11v2m0 33v1m1-46v1m0 52v2m1-65v1m0 71v2m1-81v1m0 87v1m1-96v1m0 101v2m1 6v2m1 8v2m1 15v3m1 25v6m63-176v1m9 71v1m1-59v1m0 41v1m51-57v1m5 4v1m1 0v1m2 0v1m1 0v1m2 0v1m2 0v1m2 0v1m2 0v1m2 0v1m2 0v1m2 0v1m2 0v1m2 0v1m2 0v1m3 0v1m2 0v1m2 0v1m2 0v1m2 0v1m2 0v1m1 0v1m1 0v1m1 0v1m3 3v1m1 0v1m1 0v1m1 0v1m1 0v1m1 0v1m1-1v1m2 0v1m1-1v1m1-1v1m1-1v1m1-1v1m1-2v2m1-2v2m1 0v2m1 2v1m1 2v1m1 1v1m3 6v1m1 2v1m1 2v1m2 4v1m1 1v1m1 1v1m1 0v1m1 0v1m1 0v1m1 0v1m2 0v1m1 0v1m2 0v1m1 0v1m2 0v1m2 0v1m1-1v1m1 0v1m1-1v1m2 0v1m2 0v1m2 0v1m2 0v1m2 0v1m1 0v1m1-1v1m1 0v1m2 0v1m1 0v1m2 0v1m1 0v1m1-1v1m1 0v1m2 0v1m1 0v1m1-1v1m1 0v1m2 0v1m1 0v1m1-1v1m1 0v1m2 0v1m1 0v1m1-1v1m1 0v1m2 0v1m1 0v1m1-1v1m1 0v1"/>
<path stroke="#fff7b2" d="M79 260v2m1 0v1m1 1v1m1 0v1m1 0v1m1 0v1m1 1v1m2 3v1m3 5v2m1-8v1m4-4v1m2 3v1m1 2v1m2-32v4m49 37v4m0 27v2m1-44v1m0 50v1m1-62v2m0 68v1m1 7v2m1 6v1m1 7v1m1 9v1m1 14v3m1 21v7m62-168v1m1-2v1m9 68v2m1-57v1m0 39v1m52-55v1m1 0v1m1 0v1m1 0v1m3 1v1m3 1v1m2 0v1m2 0v1m2 0v1m2 0v1m2 0v1m2 0v1m8 3v1m5 1v1m2 0v1m2 0v1m2 0v1m5 4v1m1 0v1m1 0v1m5 4v1m2 0v1m1-1v1m1-1v1m1-1v1m1-1v1m1-1v1m1-2v1m1-1v1m1 1v1m1 3v1m1 2v1m2 4v1m1 1v1m4 10v1m3 5v1m3 2v1m1 0v1m1 0v1m3 1v1m2 0v1m1 0v1m1-1v1m1 0v1m1-1v1m2 0v1m2 0v1m2 0v1m1-1v1m1 0v1m1-1v1m1 0v1m2 0v1m2 0v1m2 0v1m1 0v1m1-1v1m1 0v1m1 0v1m1-1v1m1 0v1m2 0v1m1 0v1m1-1v1m1 0v1m2 0v1m1 0v1m1-1v1m1 0v1m2 0v1m1 0v1m1-1v1m1 0v1m1-1v1m1 0v1m1 0v1m1-1v1m1 0v1m1-1v1m1 0v1"/>
<path stroke="#fff6b0" d="M79 258v2m1 1v1m1 1v1m1 0v1m6 11v1m1 2v1m1-2v1m2-9v1m1-2v1m1-1v1m2 1v1m3 7v1m50 11v7m0 17v3m1-41v1m0 48v1m1-59v1m0 65v2m1-77v1m0 83v1m1-92v1m0 98v1m1 7v1m1 8v2m1 12v3m1 19v5m62-160v1m1-2v1m9 66v1m1-54v1m57-12v1m3 1v1m2 0v1m2 0v1m2 0v1m2 0v1m2 0v1m2 0v1m3 1v1m2 0v1m2 0v1m3 0v1m2 0v1m3 0v1m2 0v1m2 0v1m3 1v1m1 0v1m1 0v1m1 0v1m3 3v1m1 0v1m1 0v1m1 0v1m2 0v1m5-1v1m1-1v1m1-2v1m1-2v2m1 1v1m1 3v1m2 5v1m1 1v1m2 4v1m1 2v1m1 2v1m2 4v1m1 1v1m2 2v1m1 0v1m4 2v1m1 0v1m2 0v1m2 0v1m2 0v1m2 0v1m2 0v1m1-1v1m1 0v1m1-1v1m2 0v1m2 0v1m1 0v1m1-1v1m1 0v1m1-1v1m1 0v1m2 0v1m2 0v1m1 0v1m2 0v1m1 0v1m1-1v1m1 0v1m2 0v1m1 0v1m1-1v1m1 0v1m2 0v1m1 0v1m1-1v1m1 0v1m1-1v1m1 0v1m2 0v1m1 0v1m1-1v1m1 0v1m1-1v1m1 0v1"/>
<path stroke="#fff5ae" d="M79 257v1m1 2v1m1 1v1m2 2v1m1 0v1m1 1v1m1 1v1m4 6v1m1-6v1m3-5v1m1 0v1m1 0v1m1 2v1m1 2v1m1-24v6m0 19v1m50 19v17m1-37v2m0 44v2m1-57v1m0 62v2m1-74v1m0 80v2m1-90v1m0 96v1m1 7v1m1 8v1m1 12v2m1 19v3m61-158v1m2 2v1m9 63v2m1-15v1m52-55v1m2 1v1m1 0v1m1 0v1m2 0v1m1 0v1m2 0v1m2 0v1m2 0v1m2 0v1m2 0v1m2 0v1m3 1v1m2 0v1m2 0v1m2 0v1m5 1v1m3 0v1m2 0v1m2 0v1m1 0v1m5 4v1m1 0v1m1 0v1m1 0v1m1 0v1m1 0v1m1 0v1m2 0v1m1-1v1m1-1v1m1-1v1m1-2v1m1-1v1m1-3v2m1-2v1m1 1v2m1 3v1m1 3v1m3 6v1m3 7v1m1 2v1m3 5v1m1 0v1m1 0v1m1 0v1m1 0v1m1 0v1m2 0v1m1 0v1m2 0v1m2 0v1m2 0v1m2 0v1m1-1v1m2 0v1m2 0v1m2 0v1m2 0v1m2 0v1m2 0v1m1 0v1m1-1v1m1 0v1m2 0v1m1 0v1m1-1v1m1 0v1m2 0v1m1 0v1m1-1v1m1 0v1m1-1v1m1 0v1m1 0v1m1-1v1m1 0v1m1-1v1m1 0v1m2 0v1m1 0v1m1-1v1m1 0v1m1-1v1m1 0v1m2 0v1"/>
<path stroke="#fff3ac" d="M79 254v3m1 2v1m1 1v1m1 1v1m1 0v1m4 7v1m1 2v1m1 2v1m1-3v1m1-6v1m1-3v1m1-2v1m2-1v1m2 3v1m1 2v1m1-30v7m0 6v5m0 13v1m51 2v1m0 42v1m1-54v2m0 59v1m1-71v1m0 78v1m1 7v2m1 6v2m1 7v2m1 10v3m1 17v4m62-151v1m1-1v1m9 60v2m1-50v1m53-17v1m4 2v1m3 1v1m2 0v1m2 0v1m2 0v1m2 0v1m2 0v1m3 1v1m2 0v1m8 3v1m3 0v1m5 1v1m3 1v1m1 0v1m1 0v1m1 0v1m1 0v1m6 5v1m1 0v1m1-1v1m3-1v1m2-2v1m1-3v1m1-2v2m1 1v1m1 3v2m1 3v1m1 2v1m1 1v1m1 1v1m1 2v1m1 2v1m3 7v1m1 1v1m6 5v1m1 0v1m2 0v1m1 0v1m2 0v1m2 0v1m2 0v1m1-1v1m2 0v1m2 0v1m2 0v1m2 0v1m2 0v1m2 0v1m2 0v1m2 0v1m1 0v1m1-1v1m1 0v1m2 0v1m1 0v1m1-1v1m1 0v1m1-1v1m1 0v1m2 0v1m1 0v1m1-1v1m1 0v1m2 0v1m1 0v1m1-1v1m1 0v1m1-1v1m1 0v1m2 0v1m1 0v1m1-1v1"/>
<path stroke="#fff2aa" d="M79 252v2m1 3v2m1 1v1m1 1v1m2 2v1m1 1v1m1 1v1m3 7v1m1-3v1m3-9v1m1-1v1m1-1v1m1 1v1m3-6v2m0 10v1m51 4v1m0 40v1m1-51v1m0 57v1m1-69v1m0 76v1m1-86v1m0 92v1m1-102v1m0 108v1m1 8v1m1 10v2m1 17v3m61-150v1m1 3v1m1-1v1m9 58v1m1-47v1m0 34v1m55-52v1m1 0v1m3 1v1m2 0v1m2 0v1m2 0v1m2 0v1m2 0v1m3 1v1m2 0v1m3 1v1m2 0v1m2 0v1m3 0v1m3 0v1m2 0v1m4 1v1m6 5v1m1 0v1m1 0v1m1 0v1m1 0v1m2 0v1m2 0v1m1-1v1m2-2v1m1-3v2m1-3v1m1-2v1m1 1v2m1 3v1m1 4v1m1 2v1m3 6v1m1 2v1m1 2v1m1 2v1m1 1v1m1 1v1m1 1v1m1 0v1m1 0v1m1 0v1m1 0v1m2 0v1m1 0v1m2 0v1m1 0v1m1-1v1m1 0v1m1-1v1m1 0v1m1-1v1m2 0v1m2 0v1m1-1v1m1 0v1m1-1v1m1 0v1m1-1v1m1 0v1m1-1v1m1 0v1m1-1v1m1 0v1m1-1v1m1 0v1m2 0v1m2 0v1m1 0v1m1-1v1m1 0v1m2 0v1m2 0v1m1 0v1m1-1v1m1 0v1m2 0v1m1 0v1m1-1v1m1 0v1m1-1v1m1 0v1m2 0v1m1 0v1m1-1v1m1 0v1m1-1v1"/>
<path stroke="#fff1a8" d="M79 250v2m1 4v1m1 2v1m1 1v1m1 1v1m2 2v1m2 4v1m1 2v1m2-1v1m1-5v1m1-3v1m2-3v1m2 1v1m1 2v1m1 2v1m1-9v3m0 5v2m51 6v1m0 37v2m1-49v1m0 54v2m1-67v1m0 73v2m1-84v1m0 90v1m1 7v1m1 8v1m1 10v1m1 17v2m63-142v1m9 56v1m1-45v1m0 32v1m53-53v1m1 0v1m3 1v1m1 0v1m2 0v1m2 0v1m2 0v1m2 0v1m2 0v1m2 0v1m1 0v1m2 0v1m3 1v1m2 0v1m2 0v1m2 0v1m3 0v1m5 1v1m2 0v1m2 0v1m1 0v1m1 0v1m1 0v1m1 0v1m1 0v1m1 0v1m3 2v1m1 0v1m2 0v1m1-1v1m1-1v1m1-1v1m1-2v1m1-3v1m1-3v2m1-3v2m1 1v1m1 4v1m1 4v1m2 5v1m1 1v1m4 10v1m3 5v1m4 3v1m1 0v1m3 1v1m2 0v1m2 0v1m2 0v1m2 0v1m2 0v1m1-1v1m2 0v1m2 0v1m2 0v1m2 0v1m2 0v1m2 0v1m1 0v1m1-1v1m1 0v1m1-1v1m1 0v1m2 0v1m1 0v1m1-1v1m1 0v1m1-1v1m1 0v1m2 0v1m1 0v1m1-1v1m1 0v1m2 0v1m2 0v1m1 0v1m1-1v1m1 0v1m1-1v1m1 0v1m1-1v1"/>
<path stroke="#fff0a6" d="M79 246v4m1 5v1m1 2v1m2 3v1m1 1v1m2 3v1m3 7v1m1-4v1m1-5v1m1-3v1m1-2v1m2-1v1m1 0v1m1 2v1m1-19v6m0 15v1m1-5v5m51 9v2m0 34v1m1-46v1m0 52v1m1-64v1m0 71v1m1 8v1m1-99v1m0 105v1m1 8v1m1 9v2m1 15v3m1 24v6m60-174v1m1 3v1m1 0v1m9 54v1m1-43v1m56-19v1m3 1v1m2 0v1m2 0v1m2 0v1m2 0v1m2 0v1m3 1v1m3 1v1m8 3v1m5 1v1m3 0v1m2 0v1m8 7v1m1 0v1m3 1v1m4-1v1m1-2v1m1-3v1m1-3v1m1-2v1m1 1v2m1 4v1m1 4v1m1 3v1m1 1v1m2 4v1m1 2v1m1 2v1m2 4v1m1 1v1m2 2v1m1 0v1m1 0v1m3 1v1m1 0v1m2 0v1m2 0v1m2 0v1m2 0v1m2 0v1m1-1v1m2 0v1m2 0v1m2 0v1m2 0v1m2 0v1m2 0v1m2 0v1m2 0v1m2 0v1m1 0v1m1-1v1m1 0v1m1-1v1m1 0v1m2 0v1m1 0v1m1-1v1m1 0v1m2 0v1m1 0v1m1-1v1m1 0v1m1-1v1m1 0v1m1-1v1m1 0v1m2 0v1"/>
<path stroke="#feefa3" d="M80 253v2m2 5v1m3 4v1m2 4v1m1 2v1m1 1v1m1-4v1m3-8v1m1-1v1m1-1v1m1 0v1m1 2v1m1-24v6m0 6v6m0 8v1m52 12v2m0 31v1m1-44v1m0 50v1m1-62v1m0 68v2m1-80v1m0 86v2m1-97v1m0 103v1m1 7v2m1 9v1m1 15v2m1 22v5m60-167v1m2 4v1m8 165v2m1-115v1m1-41v1m0 29v1m54-52v1m1 0v1m3 1v1m2 0v1m2 0v1m2 0v1m2 0v1m2 0v1m3 1v1m2 0v1m1 0v1m3 1v1m2 0v1m2 0v1m5 1v1m3 0v1m3 0v1m3 1v1m1 0v1m1 0v1m1 0v1m1 0v1m1 0v1m1 0v1m1 0v1m1 0v1m1 0v1m2 0v1m1-1v1m1-1v1m2-3v1m1-3v1m1-3v1m1-3v2m1 1v1m1 5v1m1 4v1m1 3v1m2 4v1m4 10v1m3 5v1m1 0v1m1 0v1m1 0v1m1 0v1m1 0v1m2 0v1m1 0v1m2 0v1m2 0v1m2 0v1m2 0v1m1-1v1m2 0v1m2 0v1m2 0v1m2 0v1m1-1v1m1 0v1m1-1v1m1 0v1m1-1v1m1 0v1m1-1v1m1 0v1m1-1v1m1 0v1m2 0v1m2 0v1m2 0v1m1 0v1m1-1v1m1 0v1m2 0v1m1 0v1m1-1v1m1 0v1m1-1v1m1 0v1m2 0v1m2 0v1m1 0v1m1-1v1m1 0v1"/>
<path stroke="#feeda1" d="M80 252v1m1 4v1m1 1v1m1 1v1m1 1v1m2 3v1m3 6v1m1-4v1m1-4v1m1-3v1m2-3v1m1-1v1m1-1v2m1 1v2m1-5v4m0 1v3m52 15v2m0 27v2m1-42v1m0 48v1m1-60v1m0 66v1m1-77v1m0 84v1m1 8v1m1 7v1m1 9v2m1 14v2m1 20v4m61-158v1m1 1v1m8 73v14m0 73v4m1-114v1m1-39v1m0 27v1m56-50v1m1 0v1m2 0v1m2 0v1m2 0v1m2 0v1m2 0v1m2 0v1m1 0v1m2 0v1m3 1v1m1 0v1m8 3v1m3 0v1m3 0v1m4 1v1m10 8v1m1 0v1m1-1v1m2-1v1m1-1v1m2-5v1m1-3v1m1-3v1m1 2v1m1 5v1m2 8v1m1 2v1m2 4v1m1 2v1m1 2v1m2 4v1m1 1v1m6 5v1m1 0v1m2 0v1m1 0v1m2 0v1m2 0v1m2 0v1m1-1v1m2 0v1m2 0v1m2 0v1m1-1v1m1 0v1m1-1v1m2 0v1m2 0v1m2 0v1m2 0v1m2 0v1m1 0v1m1-1v1m1 0v1m1-1v1m1 0v1m1-1v1m1 0v1m2 0v1m1 0v1m1-1v1m1 0v1m1-1v1m1 0v1m2 0v1m1 0v1m1-1v1m1 0v1m1-1v1m1 0v1m1-1v1m1 0v1"/>
<path stroke="#feec9f" d="M80 250v2m1 4v1m1 1v1m1 1v1m1 1v1m1 1v1m2 4v1m1 2v1m1 0v1m2-7v1m1-3v1m1-2v1m1-2v1m1-1v1m1-1v1m1-4v7m1 1v1m52 20v8m0 17v2m1-39v1m0 46v1m1-58v1m0 64v1m1-75v1m0 82v1m1-93v1m0 99v2m1 7v1m1 9v1m1 14v2m1 19v3m60-157v1m1 3v1m1 1v1m8 70v2m0 14v7m0 62v4m2-147v1m0 25v1m55-50v1m3 1v1m2 0v1m2 0v1m2 0v1m2 0v1m2 0v1m3 1v1m3 1v1m4 2v1m2 0v1m2 0v1m3 0v1m3 0v1m3 0v1m2 0v1m2 0v1m1 0v1m1 0v1m1 0v1m1 0v1m1 0v1m1 0v1m1 0v1m1 0v1m2 0v1m2 0v1m2-2v1m1-2v1m1-4v1m1-4v2m1-3v1m1 1v2m1 5v1m1 5v1m3 8v1m4 10v1m3 5v1m1 0v1m1 0v1m1 0v1m1 0v1m3 1v1m2 0v1m1 0v1m2 0v1m2 0v1m1-1v1m2 0v1m2 0v1m2 0v1m1-1v1m2 0v1m2 0v1m2 0v1m2 0v1m2 0v1m2 0v1m2 0v1m2 0v1m2 0v1m2 0v1m1 0v1m1-1v1m1 0v1m2 0v1m2 0v1m1 0v1m1-1v1m1 0v1m1-1v1m1 0v1m2 0v1m2 0v1"/>
<path stroke="#feeb9d" d="M80 248v2m1 4v2m5 10v1m2 4v1m2-2v1m3-8v1m1-2v1m1-1v1m1-2v2m1-11v8m53 37v17m1-36v1m0 44v1m1-56v2m0 61v1m1-73v1m0 80v1m1-91v1m0 97v1m1 8v1m1 9v1m1 13v2m1 18v3m62-147v1m8 66v3m0 23v6m0 51v5m1-107v1m1-36v1m57-24v1m2 0v1m6 2v1m2 0v1m3 1v1m2 0v1m1 0v1m3 1v1m1 0v1m2 0v1m4 1v1m11 3v1m9 7v1m1 0v1m2 0v1m1-1v1m1-1v1m1-2v1m1-2v1m1-4v1m1-4v1m1-2v1m1 1v1m1 6v1m1 5v1m1 3v1m1 2v1m1 1v1m1 2v1m1 2v1m1 2v1m2 4v1m1 1v1m5 4v1m1 0v1m1 0v1m2 0v1m2 0v1m1 0v1m1-1v1m1 0v1m1-1v1m2 0v1m2 0v1m2 0v1m1-1v1m2 0v1m2 0v1m2 0v1m2 0v1m2 0v1m2 0v1m1-1v1m1 0v1m1-1v1m1 0v1m1-1v1m1 0v1m1-1v1m1 0v1m2 0v1m2 0v1m1 0v1m1-1v1m1 0v1m1-1v1m1 0v1m2 0v1m2 0v1m1 0v1m1-1v1m1 0v1m1-1v1"/>
<path stroke="#feea9b" d="M80 246v2m1 5v1m1 3v1m1 1v1m1 1v1m1 1v1m1 1v1m1 2v1m2 3v1m1-4v1m1-4v1m1-3v1m1-3v1m1-2v1m1-2v2m1-3v2m1-13v4m54 27v1m0 42v1m1-53v1m0 59v1m1 7v2m1 7v1m1 8v1m1 8v2m1 12v2m1 17v3m60-150v1m1 3v1m2-8v3m7 71v2m0 32v6m0 38v7m1-103v1m1-34v1m0 22v1m56-49v1m2 0v1m3 1v1m2 0v1m6 2v1m2 0v1m3 1v1m1 0v1m6 3v1m5 1v1m3 0v1m3 0v1m4 1v1m1 0v1m1 0v1m1 0v1m1 0v1m1 0v1m1 0v1m3 1v1m5-3v1m1-4v1m1-4v1m1-3v2m1 1v1m1 6v1m1 5v1m1 3v1m1 2v1m2 4v1m1 2v1m1 2v1m1 2v1m3 5v1m1 0v1m1 0v1m1 0v1m3 1v1m1 0v1m2 0v1m2 0v1m2 0v1m2 0v1m2 0v1m2 0v1m1-1v1m2 0v1m2 0v1m2 0v1m2 0v1m1-1v1m1 0v1m1-1v1m1 0v1m1-1v1m2 0v1m2 0v1m2 0v1m2 0v1m1 0v1m1-1v1m1 0v1m1-1v1m1 0v1m1-1v1m1 0v1m2 0v1m1 0v1m1-1v1m1 0v1m1-1v1m1 0v1m1-1v1m1 0v1m1-1v1"/>
<path stroke="#fee999" d="M81 252v1m1 3v1m1 1v1m1 1v1m1 1v1m2 4v1m1 2v1m1 0v1m1-4v1m1-4v1m1-3v1m2-4v1m1-2v1m1-4v3m1-13v2m54 32v1m0 40v1m1-51v1m0 57v1m1-70v1m0 76v1m1-87v1m0 94v1m1 8v1m1 8v1m1 12v2m1 17v2m59-152v1m3 11v1m1-13v2m0 3v5m7 64v2m0 40v7m0 22v9m2-128v1m0 20v1m57-48v1m3 1v1m2 0v1m2 0v1m2 0v1m2 0v1m2 0v1m2 0v1m1 0v1m4 2v1m1 0v1m2 0v1m2 0v1m2 0v1m3 0v1m3 0v1m3 0v1m2 0v1m6 4v1m1 0v1m1 0v1m1 0v1m2 0v1m1-1v1m1-1v1m1-2v1m1-3v1m2-7v1m2 0v1m1 6v1m4 15v1m5 13v1m1 1v1m4 3v1m1 0v1m1 0v1m2 0v1m1 0v1m2 0v1m2 0v1m2 0v1m2 0v1m2 0v1m1-1v1m2 0v1m2 0v1m2 0v1m1-1v1m1 0v1m1-1v1m2 0v1m2 0v1m2 0v1m2 0v1m2 0v1m2 0v1m2 0v1m2 0v1m2 0v1m2 0v1m1 0v1m1-1v1m1 0v1m1-1v1m1 0v1m1-1v1m1 0v1m2 0v1"/>
<path stroke="#fee797" d="M81 251v1m1 3v1m4 8v1m2 4v1m1 0v1m1-4v1m1-4v1m1-3v1m1-2v1m2-4v1m1-5v2m55 25v1m0 38v1m1-49v1m0 55v1m1-68v1m0 74v1m1-85v1m0 92v1m1 8v1m1 8v1m1 11v2m1 16v3m60-144v1m1 3v1m1 2v1m1-4v2m7 60v2m0 49v22m1-88v1m1-31v1m0 18v1m59-46v1m2 0v1m2 0v1m2 0v1m2 0v1m2 0v1m2 0v1m4 2v1m1 0v1m9 4v1m6 1v1m6 2v1m1 0v1m1 0v1m1 0v1m4 2v1m1 0v1m1-1v1m2-1v1m3-6v1m1-5v1m1-2v1m1 1v1m1 6v1m1 6v1m1 3v1m1 2v1m2 4v1m1 2v1m1 2v1m1 2v1m3 5v1m1 0v1m1 0v1m3 1v1m1 0v1m3 1v1m2 0v1m2 0v1m2 0v1m2 0v1m1-1v1m2 0v1m2 0v1m1-1v1m1 0v1m1-1v1m2 0v1m2 0v1m2 0v1m2 0v1m2 0v1m2 0v1m1-1v1m1 0v1m1-1v1m1 0v1m1-1v1m1 0v1m1-1v1m1 0v1m1-1v1m1 0v1m1-1v1m1 0v1m2 0v1m2 0v1m2 0v1m1 0v1m1-1v1m1 0v1"/>
<path stroke="#fee695" d="M81 250v1m1 3v1m1 2v1m1 1v1m1 1v1m1 1v1m1 2v1m1 1v1m1 0v1m1-4v1m1-4v1m2-4v1m1-2v1m1-3v1m1-7v3m55 28v1m0 36v1m1 7v1m1-66v1m0 72v1m1 8v1m1 8v1m1 8v1m1 11v1m1 16v2m1 24v5m58-175v1m2 9v1m1 2v1m1-3v2m7 56v2m2-44v2m0 15v1m58-46v1m2 0v1m2 0v1m2 0v1m2 0v1m2 0v1m2 0v1m3 1v1m1 0v1m4 2v1m1 0v1m2 0v1m2 0v1m5 1v1m6 1v1m2 0v1m5 3v1m1 0v1m1 0v1m2 0v1m2 0v1m2-2v1m1-3v1m1-4v1m2-6v1m1 1v1m1 6v1m1 6v1m3 9v1m5 13v1m1 1v1m4 3v1m1 0v1m3 1v1m1 0v1m2 0v1m2 0v1m2 0v1m2 0v1m1-1v1m2 0v1m2 0v1m1-1v1m2 0v1m2 0v1m2 0v1m2 0v1m2 0v1m1-1v1m1 0v1m1-1v1m1 0v1m1-1v1m2 0v1m2 0v1m2 0v1m2 0v1m2 0v1m2 0v1m1 0v1m1-1v1m1 0v1m1-1v1m1 0v1m1-1v1m1 0v1m1-1v1m1 0v1"/>
<path stroke="#fee593" d="M81 248v2m1 3v1m1 2v1m1 1v1m1 1v1m2 4v1m2 2v1m1-4v1m2-5v1m1-3v1m1-2v1m1-4v2m1-8v2m55 32v1m0 34v1m1-46v1m0 52v1m1-64v1m0 69v2m1-82v1m0 89v1m1 8v1m1 8v1m1 10v2m1 15v2m1 22v4m20-171v1m1-1v1m38 6v1m2 7v1m1-2v2m7 52v2m1-14v1m1-27v1m0 12v2m59-45v1m2 0v1m2 0v1m2 0v1m2 0v1m2 0v1m2 0v1m1 0v1m3 1v1m1 0v1m1 0v1m9 4v1m3 0v1m3 0v1m3 0v1m3 1v1m1 0v1m1 0v1m4 2v1m2 0v1m1-1v1m1-1v1m1-2v1m1-3v1m1-4v1m1-4v1m1-3v1m1 1v1m1 6v1m1 6v1m1 4v1m1 2v1m2 4v1m1 2v1m1 2v1m1 2v1m3 5v1m1 0v1m1 0v1m3 1v1m1 0v1m2 0v1m1 0v1m2 0v1m2 0v1m2 0v1m1-1v1m2 0v1m2 0v1m1-1v1m2 0v1m2 0v1m2 0v1m2 0v1m2 0v1m1-1v1m2 0v1m2 0v1m2 0v1m2 0v1m2 0v1m2 0v1m1-1v1m1 0v1m1-1v1m1 0v1m1-1v1m1 0v1m1-1v1m1 0v1m2 0v1m2 0v1m2 0v1"/>
<path stroke="#fee491" d="M81 247v1m1 4v1m1 2v1m3 6v1m2 4v1m1-1v1m1-4v1m1-3v1m1-3v1m2-4v1m1-4v1m1-8v2m55 35v1m0 32v1m1-44v1m0 50v1m1-62v1m0 67v1m1-79v1m0 87v1m1 8v1m1 8v1m1 10v1m1 15v2m1 20v4m19-167v1m1 0v1m1-1v1m1-2v1m36 1v1m2 9v1m2 3v1m7 49v2m2-37v3m0 5v4m60-43v1m2 0v1m2 0v1m2 0v1m2 0v1m2 0v1m3 1v1m1 0v1m6 4v1m2 0v1m2 0v1m3 0v1m3 0v1m3 0v1m4 1v1m4 2v1m1 0v1m1 0v1m2 0v1m5-4v1m1-4v1m1-4v1m1-3v1m1 1v1m1 6v1m1 6v1m1 4v1m2 5v1m5 13v1m1 1v1m3 2v1m1 0v1m1 0v1m2 0v1m1 0v1m2 0v1m1 0v1m2 0v1m2 0v1m1-1v1m2 0v1m2 0v1m1-1v1m2 0v1m2 0v1m2 0v1m2 0v1m1-1v1m1 0v1m1-1v1m2 0v1m2 0v1m2 0v1m2 0v1m1-1v1m1 0v1m1-1v1m1 0v1m1-1v1m2 0v1m2 0v1m2 0v1m2 0v1m1 0v1m1-1v1m1 0v1m1-1v1m1 0v1m1-1v1"/>
<path stroke="#fee28f" d="M81 246v1m1 4v1m1 2v1m1 2v1m1 1v1m1 1v1m1 2v1m1 1v1m1-1v1m1-4v1m1-3v1m1-3v1m1-2v1m1-3v1m1-5v2m1-8v1m55 38v1m0 30v1m1-42v1m0 48v1m1-60v1m0 65v1m1-77v1m0 84v2m1 7v2m1 8v1m1 10v1m1 14v2m1 19v3m18-163v1m1 0v1m1 0v1m1-1v1m1-2v1m37 6v1m2 7v1m1 0v1m7 46v2m1-11v1m1-22v5m61-39v1m2 0v1m2 0v1m2 0v1m2 0v1m2 0v1m1 0v1m4 2v1m1 0v1m1 0v1m1 0v1m15 5v1m2 0v1m3 1v1m1 0v1m4 2v1m2 0v1m1-1v1m1-1v1m1-2v1m3-10v1m1-3v1m1 1v1m1 6v1m3 15v1m1 1v1m1 2v1m1 2v1m1 2v1m1 2v1m3 5v1m1 0v1m4 2v1m3 1v1m2 0v1m1 0v1m1-1v1m1 0v1m1-1v1m2 0v1m2 0v1m3 0v1m2 0v1m2 0v1m2 0v1m1-1v1m2 0v1m2 0v1m2 0v1m2 0v1m1-1v1m1 0v1m1-1v1m2 0v1m2 0v1m2 0v1m2 0v1m1-1v1m1 0v1m1-1v1m1 0v1m1-1v1m1 0v1m1-1v1m1 0v1m1-1v1m1 0v1m1-1v1"/>
<path stroke="#fee18d" d="M82 250v1m1 2v1m1 2v1m1 1v1m2 4v1m1 1v1m1-1v1m2-6v1m2-4v1m1-3v1m1-5v1m56 34v3m0 25v2m1-40v1m0 46v1m1-58v1m0 63v1m1-75v1m0 82v1m1 8v1m1 9v1m1 9v2m1 13v2m1 19v2m18-159v1m1 0v1m1 0v1m1-1v1m1-2v1m36 0v1m2 9v1m1 3v1m1 0v1m7 44v1m64-64v1m2 0v1m2 0v1m2 0v1m2 0v1m3 1v1m1 0v1m1 0v1m6 4v1m2 0v1m2 0v1m3 0v1m3 0v1m7 2v1m3 1v1m1 0v1m1 0v1m2 0v1m4-2v1m1-3v1m1-4v1m1-5v1m1-3v1m1 1v1m1 6v1m1 7v1m1 4v1m1 2v1m6 16v1m1 1v1m3 2v1m1 0v1m1 0v1m2 0v1m1 0v1m2 0v1m2 0v1m2 0v1m2 0v1m2 0v1m2 0v1m1-1v1m2 0v1m2 0v1m1-1v1m1 0v1m1-1v1m2 0v1m2 0v1m2 0v1m2 0v1m1-1v1m2 0v1m2 0v1m2 0v1m2 0v1m1-1v1m1 0v1m1-1v1m2 0v1m2 0v1m2 0v1m2 0v1m2 0v1"/>
<path stroke="#fee08b" d="M82 249v1m2 5v1m2 4v1m1 1v1m1 1v1m1-1v1m1-3v1m2-5v1m1-3v1m1-3v1m1-6v2m56 38v25m1-37v1m1-11v1m0 61v1m1 8v1m1 8v1m1 9v1m1 9v1m1 14v1m1 18v3m17-158v1m1 1v1m1 0v1m1 0v1m1-1v1m1-2v1m1-4v1m36 8v1m3 9v2m7 41v1m1-9v1m64-55v1m2 0v1m2 0v1m2 0v1m3 1v1m6 4v1m1 0v1m1 0v1m6 2v1m3 0v1m3 0v1m3 0v1m2 0v1m2 0v1m1 0v1m3 1v1m1 0v1m2 0v1m1-1v1m1-1v1m2-5v1m1-4v1m1-5v1m1-4v2m1 1v1m1 6v1m1 7v1m1 4v1m2 5v1m1 2v1m1 2v1m1 2v1m1 2v1m3 5v1m1 0v1m3 1v1m1 0v1m3 1v1m2 0v1m2 0v1m2 0v1m2 0v1m2 0v1m1-1v1m2 0v1m2 0v1m1-1v1m2 0v1m2 0v1m2 0v1m2 0v1m1-1v1m1 0v1m1-1v1m2 0v1m2 0v1m2 0v1m1-1v1m1 0v1m1-1v1m2 0v1m2 0v1m2 0v1m1-1v1m1 0v1m1-1v1m1 0v1m1-1v1m1 0v1m1-1v1m1 0v1"/>
<path stroke="#fede89" d="M82 248v1m1 3v1m1 1v1m1 2v1m1 1v1m2 3v1m1-1v1m1-3v1m1-3v1m1-3v1m1-3v1m1-4v2m1-6v1m57 73v1m1-55v1m1-12v1m0 79v1m1-92v1m0 99v1m1 9v1m1 9v1m1 13v2m1 17v2m17-154v1m1 1v1m1 0v1m1 0v1m1-1v1m2-5v1m35 2v1m2 9v1m1 3v1m1 2v1m7 39v1m66-62v1m2 0v1m2 0v1m2 0v1m1 0v1m2 0v1m1 0v1m1 0v1m1 0v1m1 0v1m5 3v1m2 0v1m9 2v1m8 3v1m1 0v1m3 1v1m1-1v1m2-1v1m1-2v1m4-14v1m1 2v1m1 6v1m1 7v1m2 8v1m5 13v1m1 2v1m1 1v1m3 2v1m1 0v1m3 1v1m1 0v1m2 0v1m2 0v1m2 0v1m2 0v1m2 0v1m1-1v1m2 0v1m2 0v1m1-1v1m2 0v1m2 0v1m2 0v1m2 0v1m1-1v1m2 0v1m2 0v1m2 0v1m1-1v1m1 0v1m1-1v1m2 0v1m2 0v1m2 0v1m1-1v1m1 0v1m1-1v1m2 0v1m2 0v1m2 0v1m2 0v1"/>
<path stroke="#fedc88" d="M82 246v2m1 3v1m2 4v1m1 1v1m1 2v1m1 0v1m1-1v1m1-3v1m1-3v1m1-3v1m1-3v1m1-4v1m1-6v2m57 30v1m0 42v1m1-53v1m0 58v1m1-71v1m0 77v1m1-90v1m0 97v1m1 9v1m1 9v1m1 12v2m1 17v2m17-151v1m1 1v1m1 0v1m1 0v1m1-1v1m1-3v1m1-3v1m36 7v1m1 4v1m1 3v1m1 2v1m7 37v1m1-8v1m66-54v1m2 0v1m2 0v1m3 1v1m9 7v1m6 2v1m3 0v1m6 1v1m2 0v1m2 0v1m3 1v1m1 0v1m3 0v1m3-5v1m1-4v1m1-5v1m1-6v2m1 2v1m1 6v1m2 13v1m2 5v1m1 2v1m1 2v1m1 2v1m4 8v1m1 0v1m3 1v1m1 0v1m2 0v1m1 0v1m2 0v1m2 0v1m2 0v1m2 0v1m1-1v1m2 0v1m2 0v1m1-1v1m2 0v1m2 0v1m2 0v1m2 0v1m1-1v1m2 0v1m2 0v1m2 0v1m1-1v1m2 0v1m2 0v1m2 0v1m1-1v1m1 0v1m1-1v1m2 0v1m2 0v1m2 0v1m1-1v1m1 0v1m1-1v1m1 0v1m1-1v1"/>
<path stroke="#feda86" d="M83 250v1m1 2v1m1 1v1m2 4v1m1 0v1m1-1v1m1-3v1m1-3v1m2-5v1m1-4v1m58 28v1m0 40v1m1-51v1m0 56v1m1-69v1m0 75v1m1 8v1m1 8v2m1 9v1m1 12v1m1 17v2m16-151v1m1 2v1m2 2v1m1 0v1m1-1v1m1-3v1m1-3v1m35 1v1m4 17v1m6 150v2m2-176v1m67-1v1m2 0v1m2 0v1m1 0v1m2 0v1m1 0v1m1 0v1m1 0v1m1 0v1m1 0v1m1 0v1m1 0v1m3 1v1m2 0v1m3 0v1m3 0v1m3 0v1m3 0v1m2 0v1m3 1v1m3 1v1m1-1v1m2-1v1m1-2v1m2-7v1m1-5v1m1-6v1m1 2v2m1 6v1m1 8v1m2 8v1m3 7v1m1 2v1m1 2v1m1 2v1m1 1v1m3 2v1m1 0v1m3 1v1m3 1v1m2 0v1m2 0v1m2 0v1m1-1v1m2 0v1m2 0v1m1-1v1m2 0v1m2 0v1m2 0v1m2 0v1m1-1v1m2 0v1m2 0v1m2 0v1m1-1v1m2 0v1m2 0v1m2 0v1m1-1v1m2 0v1m2 0v1m2 0v1m1-1v1m1 0v1m1-1v1m2 0v1m2 0v1m1-1v1"/>
<path stroke="#fed884" d="M83 249v1m1 2v1m2 4v1m1 1v1m1 0v1m1-1v1m1-3v1m2-4v1m2-7v1m58 30v1m0 38v1m1-49v1m0 54v1m1-67v1m0 72v2m1-87v1m0 94v1m1 8v1m1 10v1m1 11v2m1 16v2m1 23v4m15-175v1m2 3v1m1 1v1m1 0v1m2-3v1m2-7v1m35 10v1m1 4v1m1 3v1m1 3v1m1-10v8m5 147v4m1-115v1m1-8v1m68-53v1m2 0v1m3 1v1m10 8v1m4 1v1m6 1v1m3 0v1m6 2v1m2 0v1m1 0v1m3 0v1m2-3v1m1-3v1m2-10v2m1-7v2m1 1v2m1 7v1m1 8v1m1 5v1m2 5v1m1 2v1m6 14v1m1 0v1m3 1v1m1 0v1m2 0v1m1 0v1m2 0v1m2 0v1m2 0v1m1-1v1m2 0v1m2 0v1m3 0v1m2 0v1m2 0v1m1-1v1m1 0v1m1-1v1m2 0v1m2 0v1m2 0v1m1-1v1m2 0v1m2 0v1m1-1v1m1 0v1m1-1v1m2 0v1m2 0v1m1-1v1m1 0v1m1-1v1m2 0v1m2 0v1m1-1v1m1 0v1m1-1v1"/>
<path stroke="#fed683" d="M83 248v1m1 2v1m1 2v1m1 1v1m1 1v1m1 0v1m1-1v1m1-3v1m1-2v1m1-3v1m1-3v1m1-5v1m58 32v1m0 36v1m1-47v1m0 52v1m1-65v1m0 70v1m1-84v1m0 92v1m1 8v1m1 10v1m1 11v1m1 16v2m1 22v3m14-172v1m1 1v1m1 1v1m1 1v1m1 1v1m1 0v1m1-2v1m1-2v1m1-4v1m1-4v1m34 4v1m3 14v1m2-11v4m0 8v4m5 138v5m2-169v1m69-2v1m3 1v1m3 1v1m1 0v1m1 0v1m1 0v1m1 0v1m1 0v1m1 0v1m1 0v1m3 1v1m5 1v1m4 0v1m5 1v1m2 0v1m2 0v1m3 1v1m1-1v1m2-1v1m3-8v1m1-7v1m1-8v3m1 2v1m1 8v1m1 8v1m1 5v1m1 3v1m3 7v1m1 2v1m1 2v1m1 2v1m1 1v1m3 2v1m1 0v1m3 1v1m3 1v1m2 0v1m2 0v1m1-1v1m2 0v1m2 0v1m2 0v1m1-1v1m2 0v1m2 0v1m1-1v1m2 0v1m2 0v1m2 0v1m2 0v1m1-1v1m2 0v1m2 0v1m1-1v1m2 0v1m2 0v1m2 0v1m1-1v1m2 0v1m2 0v1m1-1v1m1 0v1m1-1v1m2 0v1m2 0v1"/>
<path stroke="#fed481" d="M83 247v1m1 2v1m1 2v1m1 1v1m1 1v1m1 0v1m1-1v1m2-4v1m1-3v1m1-3v1m1-5v1m58 34v1m0 34v1m1-45v1m1-12v1m1-13v1m0 90v1m1 8v1m1 9v2m1 10v2m1 15v2m1 21v3m14-168v1m1 1v1m1 1v1m1 1v1m1 1v1m2-1v1m1-2v1m1-4v1m1-4v1m35 9v1m1 4v1m1 4v1m1 2v1m1-17v2m0 16v2m5 55v9m0 67v5m1-107v1m1-8v1m70-52v1m1 0v1m2 0v1m1 0v1m10 8v1m4 1v1m3 0v1m6 1v1m8 3v1m3 0v1m2-3v1m1-3v1m1-5v1m1-7v1m1-9v2m1 3v2m1 8v1m1 8v1m3 12v1m1 2v1m4 10v1m2 3v1m1 0v1m3 1v1m1 0v1m2 0v1m1 0v1m2 0v1m2 0v1m1-1v1m2 0v1m2 0v1m2 0v1m1-1v1m2 0v1m2 0v1m1-1v1m2 0v1m2 0v1m2 0v1m1-1v1m1 0v1m1-1v1m2 0v1m2 0v1m1-1v1m2 0v1m2 0v1m1-1v1m1 0v1m1-1v1m2 0v1m2 0v1m1-1v1m2 0v1m2 0v1m1-1v1m1 0v1m1-1v1"/>
<path stroke="#fed27f" d="M83 246v1m1 2v1m1 2v1m1 1v1m1 1v1m1 0v1m1-1v1m1-2v1m1-3v1m1-3v1m1-3v1m1-5v1m58 36v1m0 32v1m1 7v1m1-62v1m0 67v1m1-81v1m0 88v1m1 8v1m1 9v1m1 11v1m1 16v1m1 20v3m15-162v1m1 1v1m1 1v1m1 1v1m1-1v1m1-1v1m2-5v1m34-7v1m1 6v1m4 18v1m1-20v2m0 20v1m5 49v5m0 9v13m0 48v6m2-158v1m71-3v1m1 0v1m3 1v1m1 0v1m1 0v1m1 0v1m1 0v1m1 0v1m1 0v1m1 0v1m1 0v1m3 1v1m6 1v1m3 0v1m3 0v1m2 0v1m2 0v1m2 0v1m2 0v1m1-1v1m2-1v1m4-16v2m2-5v2m1 9v1m1 8v1m1 6v1m1 3v1m3 7v1m1 2v1m1 2v1m2 4v1m3 2v1m1 0v1m3 1v1m3 1v1m2 0v1m3 0v1m2 0v1m2 0v1m1-1v1m2 0v1m2 0v1m1-1v1m2 0v1m2 0v1m2 0v1m1-1v1m2 0v1m2 0v1m2 0v1m1-1v1m2 0v1m2 0v1m1-1v1m2 0v1m2 0v1m1-1v1m1 0v1m1-1v1m2 0v1m2 0v1m1-1v1m2 0v1"/>
<path stroke="#fed07e" d="M84 248v1m1 2v1m1 1v1m1 1v1m1 0v1m1-1v1m1-2v1m1-3v1m2-5v1m59 34v1m0 30v1m1-42v1m0 48v1m1-60v1m0 65v1m1-79v1m0 86v1m1 8v1m1 9v1m1 11v1m1 15v2m1 18v3m13-163v1m1 1v1m2 4v1m1 1v1m2 1v1m1-1v1m1-3v1m2-7v1m35 9v1m1 4v1m1 4v1m1 3v1m1-22v1m0 23v1m5 43v5m0 27v11m0 29v8m1-97v1m1-8v1m73-50v1m1 0v1m11 9v1m2 0v1m2 0v1m7 1v1m5 1v1m2 0v1m2 0v1m3 0v1m2-3v1m1-3v1m1-5v1m1-10v2m2-6v3m1 10v1m1 8v1m3 13v1m1 2v1m4 10v1m2 3v1m1 0v1m4 2v1m2 0v1m1 0v1m2 0v1m2 0v1m1-1v1m2 0v1m2 0v1m1-1v1m2 0v1m2 0v1m1-1v1m2 0v1m2 0v1m2 0v1m1-1v1m2 0v1m2 0v1m2 0v1m1-1v1m2 0v1m2 0v1m1-1v1m2 0v1m2 0v1m1-1v1m2 0v1m2 0v1m1-1v1m1 0v1m1-1v1m2 0v1m1-1v1m1 0v1"/>
<path stroke="#fece7c" d="M84 247v1m1 2v1m1 1v1m1 1v1m1 0v1m1-1v1m1-2v1m2-4v1m1-4v1m59 36v1m0 27v2m1-40v1m1-11v1m0 63v1m1 8v1m1 8v1m1 9v1m1 11v1m1 14v2m1 18v2m14-157v1m1 1v1m2 4v1m1 0v1m1 0v1m2-3v1m1-4v1m1-4v1m1-5v1m32 0v1m3 17v1m3-16v2m0 25v1m1-3v5m4 35v5m0 43v29m2-143v1m72-4v1m3 1v1m1 0v1m1 0v1m1 0v1m1 0v1m1 0v1m1 0v1m3 2v1m6 2v1m3 0v1m4 0v1m2 0v1m5 1v1m2 0v1m1-1v1m2-1v1m2-5v1m1-5v1m1-11v2m3 8v1m2 16v1m1 3v1m3 7v1m1 2v1m1 2v1m2 4v1m4 3v1m1 0v1m2 0v1m3 1v1m2 0v1m1-1v1m2 0v1m2 0v1m3 0v1m2 0v1m1-1v1m2 0v1m2 0v1m2 0v1m1-1v1m2 0v1m2 0v1m2 0v1m1-1v1m2 0v1m2 0v1m1-1v1m2 0v1m2 0v1m1-1v1m2 0v1m2 0v1m1-1v1m2 0v1m2 0v1m1-1v1m2 0v1"/>
<path stroke="#fecc7b" d="M84 246v1m1 2v1m2 3v1m1 0v1m1-1v1m1-2v1m1-2v1m1-3v1m1-4v1m59 38v2m0 20v5m1-37v1m0 45v1m1-57v1m0 61v1m1-76v1m0 83v1m1 8v1m1 9v1m1 10v2m1 14v1m1 18v2m13-157v1m2 4v1m1 1v1m2 3v1m1 0v1m1-2v1m1-2v1m1-4v1m1-4v1m1-5v1m33 6v1m1 5v1m2 9v1m1 3v1m1-26v1m0 28v1m1-5v1m0 5v1m4 30v4m1-13v1m1-8v1m73-50v1m1 0v1m8 7v1m1 0v1m3 1v1m2 0v1m6 1v1m6 1v1m2 0v1m3 0v1m3 0v1m4-10v1m1-12v2m3 9v1m1 9v1m1 6v1m2 6v1m1 2v1m4 10v1m2 3v1m1 0v1m1 0v1m3 1v1m2 0v1m1 0v1m2 0v1m3 0v1m2 0v1m2 0v1m1-1v1m2 0v1m3 0v1m2 0v1m2 0v1m1-1v1m2 0v1m2 0v1m2 0v1m1-1v1m2 0v1m2 0v1m1-1v1m2 0v1m2 0v1m1-1v1m2 0v1m2 0v1m1-1v1m2 0v1m2 0v1m1-1v1m2 0v1m1-1v1"/>
<path stroke="#feca79" d="M85 248v1m1 2v1m1 0v1m1 0v1m1-1v1m1-2v1m1-2v1m1-3v1m1-4v1m59 41v20m1 13v1m1-55v1m1-14v1m0 80v2m1 8v1m1 9v1m1 10v1m1 14v2m1 17v2m13-154v1m1 1v1m2 4v1m1 1v1m1 1v1m1 0v1m1-2v1m2-5v1m34-8v1m3 17v1m1 4v1m1 3v1m1-28v1m1 23v2m0 7v1m4 27v2m2-61v1m0 43v1m74-49v1m1 0v1m1 0v1m1 0v1m1 0v1m1 0v1m1 0v1m5 4v1m6 2v1m4 0v1m3 0v1m3 0v1m2 0v1m3 0v1m3-1v1m1-2v1m1-4v1m1-6v1m4-2v2m1 9v1m2 11v1m3 7v1m1 2v1m1 2v1m2 4v1m4 3v1m1 0v1m2 0v1m3 1v1m2 0v1m1-1v1m2 0v1m2 0v1m1-1v1m2 0v1m2 0v1m1-1v1m2 0v1m2 0v1m1-1v1m2 0v1m2 0v1m2 0v1m1-1v1m2 0v1m2 0v1m1-1v1m2 0v1m2 0v1m1-1v1m2 0v1m2 0v1m1-1v1m2 0v1m1-1v1m1 0v1m1-1v1m2 0v1m1-1v1"/>
<path stroke="#fec877" d="M85 247v1m1 2v1m1 0v1m1 0v1m1-1v1m2-3v1m1-3v1m61 28v1m0 42v1m1-53v1m0 58v1m1-73v1m0 78v1m1 9v1m1 9v1m1 10v1m1 13v2m1 17v2m12-154v1m2 4v1m1 1v1m1 2v1m1 1v1m1 1v1m2-1v1m1-3v1m2-7v1m1-5v1m33 6v1m1 5v1m4-15v1m0 31v1m1-9v1m0 10v2m4 24v1m83-56v1m1 0v1m1 0v1m1 0v1m3 1v1m2 0v1m3 0v1m4 0v1m3 0v1m5 1v1m3 0v1m1-1v1m4-11v1m4-2v1m1 10v1m1 7v1m2 6v1m1 2v1m4 10v1m2 3v1m1 0v1m1 0v1m3 1v1m2 0v1m1 0v1m2 0v1m3 0v1m2 0v1m3 0v1m2 0v1m1-1v1m2 0v1m2 0v1m1-1v1m2 0v1m2 0v1m2 0v1m1-1v1m2 0v1m2 0v1m1-1v1m2 0v1m2 0v1m1-1v1m2 0v1m2 0v1m1-1v1m2 0v1m1-1v1m2 0v1m2 0v1m1-1v1m2 0v1"/>
<path stroke="#fdc776" d="M85 246v1m1 2v1m1 0v1m1 0v1m1-1v1m1-1v1m1-3v1m1-3v1m61 30v1m1-10v1m0 56v1m1-71v1m0 76v1m1 9v1m1 9v1m1 10v1m1 13v1m1 17v2m13-149v1m2 4v1m2 4v1m1 1v1m1-1v1m2-3v1m1-4v1m1-4v1m1-5v1m32-1v1m3 17v1m1 4v1m1 3v1m1-31v1m0 33v1m1-11v1m0 13v1m5 16v1m1-51v1m0 41v1m75-48v1m1 0v1m1 0v1m1 0v1m1 0v1m1 0v1m6 5v1m4 1v1m3 0v1m4 0v1m3 0v1m2 0v1m3 0v1m5-2v1m1-4v1m1-7v1m4-3v2m1 10v1m1 7v1m1 4v1m3 7v1m1 2v1m1 2v1m2 4v1m4 3v1m1 0v1m2 0v1m3 1v1m2 0v1m3 0v1m2 0v1m1-1v1m2 0v1m3 0v1m2 0v1m1-1v1m2 0v1m2 0v1m2 0v1m1-1v1m2 0v1m2 0v1m1-1v1m2 0v1m2 0v1m1-1v1m2 0v1m2 0v1m1-1v1m2 0v1m1-1v1m2 0v1m2 0v1m1-1v1m2 0v1m1-1v1"/>
<path stroke="#fdc574" d="M86 248v1m1 0v1m1 0v1m1-1v1m1-1v1m2-5v1m61 72v1m1-50v1m1-14v1m0 74v1m1 9v1m1 9v1m1 10v1m1 12v2m1 16v2m1 23v3m11-175v1m2 4v1m1 2v1m1 1v1m1 2v1m2 1v1m1-2v1m2-5v1m2-8v1m33 5v1m1 5v1m5 6v1m1 11v5m3 21v1m2-16v1m81-41v1m1 0v1m1 0v1m1 0v1m1 0v1m3 1v1m6 1v1m9 2v1m3 0v1m1-1v1m2-1v1m3-12v1m4-4v2m1 11v1m2 12v1m1 2v1m1 2v1m4 10v1m2 3v1m1 0v1m1 0v1m3 1v1m3 1v1m2 0v1m2 0v1m1-1v1m2 0v1m3 0v1m2 0v1m1-1v1m2 0v1m1-1v1m2 0v1m2 0v1m2 0v1m1-1v1m2 0v1m2 0v1m1-1v1m2 0v1m2 0v1m1-1v1m2 0v1m2 0v1m1-1v1m2 0v1m1-1v1m2 0v1m2 0v1m1-1v1m2 0v1m1-1v1"/>
<path stroke="#fdc372" d="M86 247v1m1 0v1m1 0v1m2-1v1m1-2v1m62 30v1m0 38v1m1-48v1m0 53v1m1-68v1m1 82v1m1 9v1m1 10v1m1 12v1m1 16v2m1 22v3m11-171v1m1 1v1m1 2v1m2 4v1m2 3v1m1 0v1m1-2v1m1-3v1m2-7v1m2-9v1m31 3v1m3 17v1m1 4v1m1 3v1m1 3v1m1-15v2m0 16v1m1-6v1m0 5v2m3 18v1m1-7v1m1-49v1m76-7v1m1 0v1m1 0v1m1 0v1m1 0v1m7 6v1m4 1v1m4 0v1m3 0v1m3 0v1m3 0v1m4 0v1m2-3v1m1-4v1m1-8v1m4-4v1m1 12v1m1 8v1m4 12v1m1 2v1m1 2v1m2 4v1m4 3v1m1 0v1m2 0v1m1 0v1m2 0v1m2 0v1m3 0v1m2 0v1m1-1v1m2 0v1m3 0v1m3 0v1m2 0v1m2 0v1m1-1v1m2 0v1m2 0v1m1-1v1m2 0v1m2 0v1m1-1v1m2 0v1m2 0v1m1-1v1m2 0v1m1-1v1m2 0v1m2 0v1m1-1v1m2 0v1m1-1v1m2 0v1"/>
<path stroke="#fdc171" d="M86 246v1m1 0v1m1 0v1m1 0v1m1-2v1m1-2v1m62 32v1m0 36v1m1 6v1m1-66v1m0 71v1m1 8v1m1 9v1m1 10v1m1 12v1m1 16v1m1 21v3m10-170v1m2 4v1m2 4v1m1 2v1m1 1v1m1 1v1m2-1v1m1-3v1m1-4v1m1-4v1m1-5v1m1-5v1m32 9v1m1 5v1m4 18v1m1-18v2m0 19v1m1-8v1m0 8v1m5 2v1m77-46v1m4 4v1m1 0v1m1 0v1m1 0v1m1 0v1m1 0v1m3 1v1m3 0v1m4 0v1m3 0v1m3 0v1m3 0v1m1-1v1m3-1v1m3-14v2m4-6v3m1 12v1m1 8v1m1 4v1m1 2v1m1 2v1m4 10v1m2 3v1m1 0v1m1 0v1m3 1v1m3 1v1m2 0v1m2 0v1m1-1v1m2 0v1m3 0v1m2 0v1m1-1v1m2 0v1m1-1v1m2 0v1m2 0v1m1-1v1m2 0v1m2 0v1m1-1v1m2 0v1m2 0v1m1-1v1m2 0v1m2 0v1m1-1v1m2 0v1m1-1v1m2 0v1m2 0v1m1-1v1m2 0v1m1-1v1m2 0v1m1-1v1"/>
<path stroke="#fdbf6f" d="M87 246v1m2 1v1m1-2v1m1-2v1m62 34v1m0 34v1m1-45v1m1-13v1m0 69v1m1 8v1m1 9v1m1 10v1m1 11v2m1 15v2m1 20v2m11-164v1m2 4v1m1 2v1m2 4v1m1 1v1m1-1v1m3-6v1m1-4v1m1-5v1m1-5v1m31 2v1m3 17v1m1 4v1m1 3v1m2-15v1m0 22v1m1-10v1m0 10v1m2 131v1m1-117v1m2-53v1m0 36v1m78-44v1m1 0v1m1 0v1m8 7v1m2 0v1m3 0v1m4 0v1m3 0v1m3 0v1m4 0v1m1-1v1m2-3v1m1-4v1m1-10v1m5 10v1m5 22v1m1 2v1m1 2v1m2 4v1m4 3v1m1 0v1m2 0v1m1 0v1m2 0v1m2 0v1m3 0v1m2 0v1m1-1v1m2 0v1m1-1v1m2 0v1m3 0v1m2 0v1m1-1v1m2 0v1m2 0v1m1-1v1m2 0v1m2 0v1m1-1v1m2 0v1m2 0v1m1-1v1m2 0v1m1-1v1m2 0v1m2 0v1m1-1v1m2 0v1m1-1v1m2 0v1m1-1v1"/>
<path stroke="#fdbd6d" d="M88 247v1m1-1v1m1-2v1m63 68v1m1-43v1m0 49v1m1-63v1m0 67v1m1-84v1m0 91v1m1 9v1m1 10v1m1 11v1m1 15v2m1 19v3m10-164v1m2 4v1m1 2v1m2 4v1m1 2v1m2 1v1m1-2v1m1-3v1m1-3v1m2-8v1m33 4v1m1 5v1m4 18v1m1-21v1m0 24v1m1-12v1m0 12v1m2 126v4m1-117v1m1-6v1m1-11v1m78-44v1m3 3v1m1 0v1m1 0v1m1 0v1m1 0v1m1 0v1m1 0v1m4 1v1m3 0v1m4 0v1m3 0v1m3 0v1m7-6v1m1-11v2m5 10v1m1 9v1m1 4v1m2 5v1m4 10v1m2 3v1m1 0v1m1 0v1m3 1v1m3 1v1m2 0v1m2 0v1m3 0v1m3 0v1m3 0v1m2 0v1m1-1v1m2 0v1m1-1v1m2 0v1m2 0v1m1-1v1m2 0v1m2 0v1m1-1v1m2 0v1m2 0v1m1-1v1m2 0v1m1-1v1m2 0v1m2 0v1m1-1v1m2 0v1m1-1v1m2 0v1m1-1v1m2 0v1"/>
<path stroke="#fdbb6c" d="M88 246v1m1-1v1m64 35v1m0 31v1m1 7v1m1-61v1m1-16v1m0 89v1m1 9v1m1 10v1m1 11v1m1 15v1m1 19v2m11-158v1m3 7v1m1 2v1m2 3v1m1 0v1m1-2v1m1-3v1m2-7v1m2-9v1m31 2v1m3 17v1m1 4v1m1 3v1m1 4v1m1-24v2m0 26v1m1-14v1m0 14v1m2 120v5m3-163v1m0 33v1m79-42v1m1 0v1m1 0v1m8 7v1m6 1v1m4 0v1m3 0v1m3 0v1m1-1v1m3-1v1m3-17v1m5 11v1m1 9v1m2 8v1m2 4v1m1 2v1m1 2v1m2 4v1m4 3v1m1 0v1m3 1v1m2 0v1m2 0v1m2 0v1m1-1v1m2 0v1m3 0v1m1-1v1m2 0v1m1-1v1m2 0v1m3 0v1m2 0v1m1-1v1m2 0v1m2 0v1m1-1v1m2 0v1m2 0v1m1-1v1m2 0v1m1-1v1m2 0v1m2 0v1m1-1v1m2 0v1m1-1v1m2 0v1m1-1v1m2 0v1m1-1v1"/>
<path stroke="#fdb96a" d="M153 283v1m0 28v2m1-40v1m1-12v1m0 64v1m1-81v1m0 87v1m1 9v1m1 9v2m1 11v1m1 14v2m1 18v2m10-158v1m2 4v1m1 2v1m1 2v1m1 2v1m1 1v1m1 1v1m3-3v1m1-4v1m1-4v1m1-5v1m1-5v1m1-5v1m31 12v1m1 5v1m5-6v1m0 29v1m1-16v1m2 130v6m1-109v1m1-6v1m1-12v1m79-42v1m3 3v1m1 0v1m1 0v1m1 0v1m1 0v1m1 0v1m1 0v1m2 0v1m2 0v1m1-1v1m3 0v1m4 0v1m3 0v1m4 0v1m1-1v1m2-3v1m1-5v1m6 0v1m1 9v1m1 5v1m1 2v1m1 2v1m4 10v1m2 3v1m1 0v1m1 0v1m3 1v1m1 0v1m2 0v1m2 0v1m2 0v1m3 0v1m2 0v1m1-1v1m3 0v1m3 0v1m2 0v1m1-1v1m2 0v1m1-1v1m2 0v1m2 0v1m1-1v1m2 0v1m2 0v1m1-1v1m2 0v1m1-1v1m2 0v1m2 0v1m1-1v1m2 0v1m1-1v1m2 0v1m1-1v1m2 0v1m1-1v1"/>
<path stroke="#fdb768" d="M153 284v1m0 23v4m1-37v1m0 45v1m1-58v1m0 62v1m1-79v1m0 85v1m1 9v1m1 9v1m1 11v2m1 14v1m1 18v2m9-158v1m2 4v1m1 2v1m4 10v1m1 1v1m1-1v1m1-2v1m2-5v1m2-8v1m1-5v1m31 1v1m3 17v1m2 8v1m1 4v1m1-27v1m0 31v1m1 0v1m2 107v6m3-151v1m0 30v1m80-40v1m1 0v1m1 0v1m7 6v1m5 1v1m3 0v1m4 0v1m3 0v1m1-1v1m4-1v1m2-7v1m6 0v1m1 9v1m4 14v1m1 2v1m1 2v1m2 4v1m4 3v1m1 0v1m3 1v1m2 0v1m2 0v1m2 0v1m1-1v1m2 0v1m3 0v1m3 0v1m1-1v1m2 0v1m3 0v1m3 0v1m2 0v1m1-1v1m2 0v1m2 0v1m1-1v1m2 0v1m1-1v1m2 0v1m2 0v1m1-1v1m2 0v1m1-1v1m2 0v1m1-1v1m2 0v1m1-1v1m2 0v1"/>
<path stroke="#fdb567" d="M153 285v1m0 17v5m2-43v1m1-16v1m0 83v1m1 9v1m1 9v1m1 11v1m1 14v2m1 17v2m9-155v1m1 1v1m1 2v1m2 4v1m1 2v1m1 2v1m1 2v1m2 1v1m1-2v1m1-3v1m2-7v1m3-13v1m29-2v1m2 13v1m1 5v1m2 9v1m2 9v1m1-29v1m1 15v1m0 18v1m2 97v9m1-98v1m1-6v1m1-42v1m0 28v1m80-40v1m3 3v1m1 0v1m1 0v1m1 0v1m1 0v1m1 0v1m3 1v1m4 0v1m3 0v1m4 0v1m4 0v1m1-1v1m1-1v1m2-3v1m1-6v1m6 0v1m2 16v1m1 2v1m1 2v1m3 7v1m1 2v1m2 3v1m1 0v1m1 0v1m3 1v1m1 0v1m2 0v1m2 0v1m2 0v1m3 0v1m2 0v1m1-1v1m2 0v1m1-1v1m3 0v1m2 0v1m1-1v1m2 0v1m1-1v1m2 0v1m1-1v1m2 0v1m2 0v1m1-1v1m2 0v1m1-1v1m2 0v1m2 0v1m1-1v1m2 0v1m1-1v1m2 0v1m1-1v1m2 0v1m1-1v1m2 0v1m1-1v1"/>
<path stroke="#fdb365" d="M153 286v2m0 7v8m1-27v1m0 43v1m1-55v1m0 59v1m1-76v1m0 81v1m1 9v1m1 9v1m1 11v1m1 14v1m1 18v1m10-150v1m2 4v1m1 2v1m1 2v1m1 2v1m2 3v1m3-3v1m1-4v1m1-4v1m1-5v1m1-5v1m1-5v1m30 5v1m3 17v1m2 8v1m2-25v1m0 34v1m1-20v1m1 12v3m1 22v80m3-107v1m81-38v1m1 0v1m8 7v1m2 0v1m1-1v1m3 0v1m3 0v1m1-1v1m3 0v1m1-1v1m7-8v1m6-1v2m1 10v1m1 5v1m3 8v1m1 2v1m3 7v1m4 3v1m1 0v1m3 1v1m2 0v1m2 0v1m2 0v1m3 0v1m3 0v1m3 0v1m1-1v1m2 0v1m1-1v1m2 0v1m1-1v1m2 0v1m3 0v1m2 0v1m1-1v1m2 0v1m1-1v1m2 0v1m2 0v1m1-1v1m2 0v1m1-1v1m2 0v1m1-1v1m2 0v1m1-1v1m2 0v1m1-1v1m1-1v1"/>
<path stroke="#fdb163" d="M153 288v7m1 24v1m1-53v1m1-16v2m1 88v1m2 21v1m1 14v1m1 17v2m9-151v1m2 4v1m4 11v1m1 1v1m1 1v1m1-1v1m1-2v1m2-5v1m2-8v1m1-5v1m1-5v1m29-3v1m2 13v1m1 5v1m2 9v1m2 9v1m1-32v1m1 37v1m1-11v2m0 3v2m1 18v2m1-10v1m1-6v1m1-40v1m0 25v1m81-38v1m2 2v1m1 0v1m1 0v1m1 0v1m1 0v1m1 0v1m1 0v1m2 0v1m3 0v1m3 0v1m4 0v1m4 0v1m1-1v1m3-1v1m1-3v1m1-7v1m6-1v1m1 11v1m2 9v1m1 2v1m3 7v1m1 2v1m1 1v1m1 1v1m1 0v1m1 0v1m3 1v1m1 0v1m2 0v1m2 0v1m2 0v1m2 0v1m1-1v1m2 0v1m1-1v1m2 0v1m1-1v1m3 0v1m3 0v1m3 0v1m2 0v1m1-1v1m2 0v1m1-1v1m2 0v1m1-1v1m2 0v1m2 0v1m1-1v1m2 0v1m1-1v1m2 0v1m1-1v1m2 0v1m1-1v1m2 0v1m1-1v1"/>
<path stroke="#fdaf62" d="M154 277v1m0 40v1m1-51v1m0 56v1m1-72v1m0 77v1m1 8v1m1 10v1m1 10v1m1 13v2m1 16v2m10-146v1m2 4v1m1 2v1m1 2v1m2 5v1m3 0v1m1-3v1m2-7v1m2-8v1m31 0v1m3 17v1m2 8v1m1 5v1m1-34v1m0 37v1m1-22v1m1 10v1m0 7v1m1 15v2m3-51v1m0 23v1m82-36v1m1 0v1m7 6v1m2 0v1m3 0v1m3 0v1m1-1v1m3 0v1m5 0v1m1-1v1m2-4v1m1-7v1m6-1v1m1 11v1m1 6v1m4 11v1m7 11v1m1 0v1m3 1v1m2 0v1m2 0v1m2 0v1m3 0v1m3 0v1m3 0v1m1-1v1m2 0v1m1-1v1m2 0v1m1-1v1m2 0v1m1-1v1m2 0v1m1-1v1m2 0v1m3 0v1m2 0v1m1-1v1m2 0v1m1-1v1m2 0v1m1-1v1m2 0v1m1-1v1m2 0v1m1-1v1m2 0v1m1-1v1"/>
<path stroke="#fdad60" d="M154 278v1m1-10v1m1-15v1m0 75v1m1 8v1m1 10v1m1 10v1m1 13v1m1 17v1m1 23v4m7-176v1m1 2v1m2 4v1m1 2v1m1 2v1m1 2v1m1 2v1m1 2v1m1 0v1m1-1v1m3-6v1m1-4v1m1-5v1m2-9v1m1-5v1m28 1v1m2 13v1m1 5v1m2 9v1m2 10v1m1-36v1m0 39v1m1-24v1m0 23v1m1-14v1m0 9v1m1 13v1m2-12v1m1-15v1m82-36v1m2 2v1m1 0v1m1 0v1m1 0v1m1 0v1m1 0v1m2 0v1m2 0v1m3 0v1m4 0v1m3 0v1m1-1v1m5-1v1m2-10v1m6-2v2m1 11v1m1 6v1m1 3v1m1 2v1m1 2v1m2 4v1m1 2v1m1 1v1m1 1v1m1 0v1m1 0v1m3 1v1m1 0v1m2 0v1m2 0v1m2 0v1m2 0v1m1-1v1m2 0v1m1-1v1m2 0v1m1-1v1m3 0v1m3 0v1m3 0v1m3 0v1m3 0v1m2 0v1m1-1v1m2 0v1m1-1v1m2 0v1m1-1v1m2 0v1m1-1v1m2 0v1m1-1v1m2 0v1m1-1v1m2 0v1m1-1v1m1-1v1"/>
<path stroke="#fcaa5f" d="M154 317v1m1-48v1m0 53v1m1-69v1m2 93v1m1 10v1m1 12v2m1 16v2m1 22v2m9-166v1m5 14v1m3 3v1m1-2v1m1-3v1m3-10v1m1-5v1m1-5v1m1-5v1m29 8v1m5 26v1m1 6v1m1-38v1m2 27v1m0 11v1m1 11v1m1-6v1m1-7v1m1-36v1m0 20v1m83-34v1m1 0v1m6 5v1m2 0v1m2 0v1m1-1v1m2 0v1m1-1v1m3 0v1m1-1v1m3 0v1m1-1v1m1-1v1m1-1v1m2-4v1m1-9v2m6-3v2m1 12v1m5 19v1m7 11v1m1 0v1m3 1v1m2 0v1m2 0v1m2 0v1m3 0v1m3 0v1m3 0v1m1-1v1m2 0v1m1-1v1m2 0v1m1-1v1m2 0v1m1-1v1m2 0v1m1-1v1m2 0v1m1-1v1m2 0v1m1-1v1m2 0v1m1-1v1m2 0v1m1-1v1m2 0v1m1-1v1m2 0v1m1-1v1m2 0v1m1-1v1m1-1v1"/>
<path stroke="#fca85e" d="M154 279v1m0 36v1m1 6v1m1-67v1m0 72v1m1 8v1m1 9v1m1 10v1m1 12v1m1 17v1m1 21v3m7-169v1m3 7v1m1 2v1m1 2v1m1 2v1m2 5v1m1 0v1m3-3v1m1-4v1m1-4v1m2-8v1m1-5v1m1-5v1m28 0v1m2 13v1m1 5v1m1 4v1m4 20v1m1-26v1m0 25v1m1-17v1m0 13v1m1 9v1m3-45v1m0 17v2m83-34v1m1 0v1m1 1v1m1 0v1m1 0v1m1 0v1m1 0v1m2 0v1m2 0v1m3 0v1m3 0v1m4 0v1m1-1v1m5-1v1m1-4v1m1-9v1m6-2v1m1 13v1m1 7v1m1 3v1m1 2v1m1 2v1m2 4v1m1 2v1m1 1v1m1 1v1m1 0v1m1 0v1m3 1v1m1 0v1m2 0v1m2 0v1m2 0v1m2 0v1m1-1v1m2 0v1m1-1v1m2 0v1m1-1v1m3 0v1m3 0v1m3 0v1m1-1v1m2 0v1m1-1v1m2 0v1m1-1v1m2 0v1m1-1v1m2 0v1m1-1v1m2 0v1m1-1v1m2 0v1m1-1v1m2 0v1m1-1v1m2 0v1m1-1v1m1-1v1m2 0v1"/>
<path stroke="#fca55d" d="M154 280v1m0 34v1m1-45v1m1-14v1m0 70v1m1 8v1m1 9v1m1 10v1m1 12v1m1 16v2m1 20v2m8-163v1m1 2v1m4 11v1m1 2v1m2 3v1m1-1v1m1-2v1m2-5v1m1-4v1m1-5v1m32-4v1m4 21v1m1 4v1m1 6v1m1-40v1m1 16v1m1 25v1m1 7v1m1-5v1m1-7v1m1-33v1m0 15v1m84-32v1m1 1v1m4 3v1m1 0v1m2 0v1m2 0v1m1-1v1m2 0v1m1-1v1m2 0v1m1-1v1m4 0v1m1-1v1m1-1v1m1-1v1m3-13v1m7 12v1m1 7v1m4 12v1m2 4v1m5 6v1m1 0v1m3 1v1m2 0v1m2 0v1m2 0v1m3 0v1m3 0v1m3 0v1m1-1v1m2 0v1m1-1v1m2 0v1m1-1v1m3 0v1m3 0v1m3 0v1m3 0v1m3 0v1m1-1v1m2 0v1m1-1v1m2 0v1m1-1v1m2 0v1m1-1v1m1-1v1m2 0v1m1-1v1"/>
<path stroke="#fba35c" d="M154 314v1m1-43v1m0 49v1m1-64v1m1 77v1m1 9v1m1 10v1m1 12v1m1 16v1m1 20v2m7-163v1m3 7v1m1 2v1m1 2v1m1 3v1m1 2v1m1 1v1m4-2v1m3-10v1m1-5v1m1-5v1m1-5v1m28 0v1m2 13v1m1 5v1m1 4v1m3 16v1m1-42v1m0 44v1m1-29v1m0 28v1m1-19v1m0 16v1m1 5v1m1-5v1m1-7v1m1-31v1m0 13v1m85-30v1m1 1v1m1 0v1m1 0v1m3 1v1m2 0v1m3 0v1m3 0v1m3 0v1m1-1v1m6-1v1m1-4v1m8 3v1m2 12v1m1 2v1m1 2v1m2 4v1m2 4v1m1 1v1m1 0v1m1 0v1m3 1v1m1 0v1m2 0v1m2 0v1m2 0v1m2 0v1m3 0v1m3 0v1m1-1v1m3 0v1m3 0v1m1-1v1m2 0v1m1-1v1m2 0v1m1-1v1m2 0v1m1-1v1m2 0v1m1-1v1m2 0v1m1-1v1m3 0v1m1-1v1m2 0v1m1-1v1m2 0v1m1-1v1m1-1v1m2 0v1m1-1v1m1-1v1"/>
<path stroke="#fba05b" d="M154 281v1m0 31v1m2-54v1m0 67v1m2 17v1m1 10v1m1 12v1m1 16v1m1 20v1m8-158v1m1 2v1m3 8v1m3 8v1m1 0v1m1-1v1m1-2v1m2-5v1m1-4v1m2-8v1m1-5v1m1-5v1m28 0v1m1 6v1m4 21v1m1 4v1m2-36v1m2 27v1m0 18v1m1 3v1m3-39v2m0 9v2m85-30v1m1 1v1m1 0v1m1 0v1m1 0v1m1 0v1m2 0v1m2 0v1m1-1v1m2 0v1m1-1v1m2 0v1m1-1v1m3 0v1m1-1v1m1-1v1m1-1v1m1-1v1m2-5v1m8 3v1m1 8v1m1 3v1m3 8v1m2 4v1m2 3v1m2 1v1m1 0v1m1 0v1m3 1v1m2 0v1m2 0v1m2 0v1m2 0v1m1-1v1m2 0v1m1-1v1m3 0v1m1-1v1m2 0v1m1-1v1m3 0v1m3 0v1m3 0v1m1-1v1m2 0v1m1-1v1m2 0v1m1-1v1m2 0v1m1-1v1m3 0v1m1-1v1m2 0v1m1-1v1m3 0v1m1-1v1"/>
<path stroke="#fb9d59" d="M154 311v2m1-40v1m0 47v1m1-61v1m1 74v1m2 19v1m1 12v1m1 15v2m1 19v2m10-151v1m1 2v1m2 6v1m1 2v1m5 0v1m1-3v1m1-4v1m1-5v1m2-8v1m1-5v1m1-6v1m29 18v1m1 5v1m3 14v1m1 6v1m1-45v1m0 47v1m1-31v1m0 30v1m1-1v1m1 1v1m1-4v1m1-7v1m1-27v2m0 5v2m86-27v1m5 4v1m2 0v1m1-1v1m2 0v1m1-1v1m2 0v1m1-1v1m2 0v1m1-1v1m1-1v1m5-1v1m1-5v1m8 3v1m1 8v1m2 7v1m1 2v1m2 4v1m2 4v1m2 2v1m4 2v1m1 0v1m2 0v1m2 0v1m2 0v1m2 0v1m3 0v1m3 0v1m1-1v1m3 0v1m3 0v1m1-1v1m2 0v1m1-1v1m2 0v1m1-1v1m3 0v1m3 0v1m1-1v1m2 0v1m1-1v1m2 0v1m1-1v1m1-1v1m2 0v1m1-1v1m2 0v1m1-1v1m1-1v1m2 0v1m1-1v1"/>
<path stroke="#fa9b58" d="M154 282v1m0 25v3m2-49v1m0 64v1m1 7v1m1 9v1m2 22v1m1 15v1m1 19v2m7-157v1m1 2v1m1 2v1m1 2v1m1 2v1m1 2v1m1 3v1m1 2v1m1 1v1m1 0v1m1-1v1m1-2v1m4-11v1m1-5v1m2-8v1m1-6v1m27 4v1m4 23v1m3 17v1m2-29v1m1 10v1m0 21v1m0 114v8m1-124v2m1-4v1m1-7v1m1-24v5m86-26v1m1 1v1m1 0v1m1 0v1m1 0v1m2 0v1m1-1v1m2 0v1m3 0v1m1-1v1m2 0v1m1-1v1m3 0v1m1-1v1m1-1v1m1-1v1m1-2v1m1-5v1m8 3v1m1 8v1m1 4v1m3 8v1m2 4v1m2 3v1m1 0v1m1 0v1m1 0v1m1 0v1m2 0v1m1 0v1m2 0v1m2 0v1m2 0v1m2 0v1m1-1v1m2 0v1m1-1v1m3 0v1m1-1v1m2 0v1m1-1v1m3 0v1m3 0v1m1-1v1m2 0v1m1-1v1m2 0v1m1-1v1m3 0v1m1-1v1m2 0v1m1-1v1m3 0v1m1-1v1m2 0v1m1-1v1m1-1v1m2 0v1m1-1v1m1-1v1"/>
<path stroke="#fa9857" d="M154 283v1m0 22v2m1-34v1m0 45v1m1-58v1m1 70v1m1 9v1m1 10v1m1 11v1m1 15v1m1 19v1m12-139v1m7 6v1m1-3v1m1-4v1m2-8v1m1-5v1m2-9v1m28 10v1m1 6v1m3 14v1m1 5v1m2-40v1m0 49v1m1-34v1m0 33v1m1 0v1m0 103v10m1-120v4m90-51v1m1 0v1m1 0v1m1 0v1m1 0v1m1-1v1m2 0v1m2 0v1m1-1v1m3 0v1m1-1v1m2 0v1m1-1v1m1-1v1m1-1v1m4-6v1m8 3v1m1 8v1m2 8v1m1 2v1m2 4v1m2 4v1m5 4v1m1 0v1m3 1v1m2 0v1m2 0v1m2 0v1m3 0v1m3 0v1m1-1v1m3 0v1m3 0v1m1-1v1m2 0v1m1-1v1m3 0v1m1-1v1m2 0v1m1-1v1m2 0v1m1-1v1m3 0v1m1-1v1m2 0v1m1-1v1m1-1v1m2 0v1m1-1v1m1-1v1m2 0v1m1-1v1m1-1v1"/>
<path stroke="#fa9656" d="M154 304v2m2-42v1m0 61v1m3 27v1m1 11v1m1 15v1m1 18v2m6-157v1m1 3v1m1 2v1m1 2v1m1 2v1m1 2v1m2 6v1m1 2v1m1 1v1m1 0v1m1-1v1m1-2v1m4-11v1m1-4v1m1-5v1m1-5v1m1-5v1m27 3v1m3 18v1m3 15v1m1 6v1m1-49v1m1 16v1m1 11v1m0 24v2m0 89v12m1-115v5m1 1v1m1-7v1m88-44v1m1 0v1m3 2v1m2 0v1m2 0v1m1-1v1m2 0v1m1-1v1m3 0v1m1-1v1m4 0v1m1-1v1m1-2v1m1-6v1m8 3v1m1 8v1m1 5v1m1 2v1m1 2v1m1 2v1m2 4v1m1 1v1m1 1v1m1 0v1m1 0v1m1 0v1m3 1v1m1 0v1m2 0v1m2 0v1m2 0v1m2 0v1m1-1v1m2 0v1m1-1v1m3 0v1m1-1v1m2 0v1m1-1v1m3 0v1m1-1v1m2 0v1m1-1v1m3 0v1m1-1v1m2 0v1m1-1v1m2 0v1m1-1v1m1-1v1m2 0v1m1-1v1m3 0v1m1-1v1m3 0v1m1-1v1m1-1v1m2 0v1"/>
<path stroke="#f99355" d="M154 284v1m0 16v3m1-29v1m0 43v1m1-55v1m1-20v2m0 85v1m1 9v1m1 9v1m1 11v1m1 14v2m1 18v1m12-135v1m1 3v1m6 2v1m1-3v1m1-4v1m1-4v1m2-8v1m1-5v1m1-5v1m28 9v1m1 6v1m2 9v1m1 4v1m4-20v1m0 36v1m1 2v2m0 50v37m1-105v2m1 5v1m1-7v1m89-43v1m1 1v1m1 0v1m2 0v1m2 0v1m1-1v1m2 0v1m1-1v1m2 0v1m1-1v1m1-1v1m2 0v1m1-1v1m1-1v1m1-1v1m1-1v1m1-2v1m1-6v1m8 3v1m2 14v1m4 11v1m6 8v1m1 0v1m1 0v1m3 1v1m2 0v1m2 0v1m2 0v1m3 0v1m3 0v1m1-1v1m3 0v1m1-1v1m2 0v1m1-1v1m3 0v1m1-1v1m2 0v1m1-1v1m3 0v1m1-1v1m2 0v1m1-1v1m3 0v1m1-1v1m2 0v1m1-1v1m1-1v1m2 0v1m1-1v1m1-1v1m1-1v1m2 0v1m1-1v1"/>
<path stroke="#f99153" d="M154 285v1m0 12v3m2 24v1m1-78v1m1 93v1m2 21v1m1 14v1m1 19v1m6-153v1m2 6v1m1 2v1m1 2v1m1 2v1m1 3v1m2 5v1m1 1v1m1 0v1m1-1v1m1-2v1m3-7v1m2-8v1m2-8v1m1-5v1m26-6v1m1 7v1m3 18v1m3 15v1m1 6v1m1-51v1m0 52v1m1-38v1m1 12v1m0 29v8m0 10v32m1-69v1m1 6v1m1-7v1m90-42v2m1 0v1m1 0v1m1-1v1m1 0v1m1-1v1m2 0v1m1-1v1m2 0v1m1-1v1m1-1v1m2 0v1m1-1v1m1-1v1m1-1v1m2-1v1m1-2v1m1-6v1m8 2v2m1 9v1m1 4v1m1 3v1m1 2v1m1 2v1m2 4v1m1 1v1m1 1v1m1 0v1m1 0v1m3 1v1m1 0v1m1 0v1m2 0v1m2 0v1m2 0v1m2 0v1m1-1v1m2 0v1m1-1v1m3 0v1m1-1v1m3 0v1m1-1v1m2 0v1m1-1v1m3 0v1m1-1v1m2 0v1m1-1v1m3 0v1m1-1v1m2 0v1m1-1v1m3 0v1m1-1v1m3 0v1m1-1v1m1-1v1m3 0v1m1-1v1m1-1v1"/>
<path stroke="#f98e52" d="M154 286v2m0 7v3m1-22v1m0 41v1m1-53v1m1-18v1m0 82v1m2 19v1m1 10v1m1 14v1m1 18v2m7-148v1m4 12v1m1 3v1m1 2v1m1 2v1m5-1v1m1-3v1m2-7v1m1-4v1m1-5v1m3-14v1m27 14v1m1 6v1m2 9v1m1 4v1m1 6v1m3-30v1m0 39v1m1-28v1m0 38v10m1-38v1m1 6v1m92-47v2m1 0v1m2 0v1m1-1v1m1 0v1m1-1v1m2 0v1m1-1v1m1-1v1m2 0v1m1-1v1m1-1v1m3 0v1m3-8v1m8 2v1m1 10v1m5 17v1m3 5v1m2 1v1m1 0v1m1 0v1m3 1v1m1 0v1m2 0v1m2 0v1m2 0v1m1-1v1m2 0v1m1-1v1m2 0v1m1-1v1m3 0v1m1-1v1m3 0v1m3 0v1m1-1v1m3 0v1m1-1v1m2 0v1m1-1v1m3 0v1m1-1v1m2 0v1m1-1v1m1-1v1m2 0v1m1-1v1m1-1v1m3 0v1m1-1v1m1-1v1m1-1v1"/>
<path stroke="#f88c51" d="M154 288v7m1 22v1m1-51v1m1-18v1m0 80v1m1 9v1m1 9v1m2 25v1m1 18v1m8-142v1m1 2v1m1 2v1m3 10v1m2 3v1m1 0v1m1-1v1m1-2v1m3-7v1m1-4v1m2-8v1m1-5v1m1-5v1m1-6v1m25-1v1m1 7v1m6 35v1m1 5v1m2-38v1m2 23v1m1 6v1m1-6v1m92-41v2m1-1v2m1-1v1m2 0v1m1-1v1m1 0v1m1-1v1m1-1v1m2 0v1m1-1v1m1-1v1m2 0v1m1-1v1m1-1v1m1-1v1m1-2v1m9-4v1m1 10v1m1 5v1m1 3v1m1 2v1m1 2v1m2 4v1m1 1v1m2 2v1m4 2v1m1 0v1m2 0v1m1 0v1m2 0v1m2 0v1m3 0v1m3 0v1m3 0v1m1-1v1m3 0v1m1-1v1m2 0v1m1-1v1m1-1v1m2 0v1m1-1v1m3 0v1m1-1v1m2 0v1m1-1v1m3 0v1m1-1v1m3 0v1m1-1v1m1-1v1m2 0v1m1-1v1m1-1v1m1-1v1m3 0v1"/>
<path stroke="#f88950" d="M155 277v1m1-10v1m0 55v1m1-74v1m1 88v1m1 9v1m1 11v1m1 13v1m1 18v1m11-131v1m1 3v1m2 5v1m5-1v1m1-3v1m3-10v1m2-8v1m1-5v1m1-6v1m27 13v1m1 6v1m1 4v1m2 9v1m3 15v1m1 1v1m1-30v1m1 9v1m1 6v1m1-6v1m93-40v1m1 0v1m1-1v2m1-1v1m1-1v1m1 0v1m1-1v1m2 0v1m1-1v1m1-1v1m2 0v1m1-1v1m1-1v1m1-1v1m1-1v1m1-2v1m9-5v2m1 10v1m1 5v1m1 3v1m3 8v1m3 5v1m1 0v1m1 0v1m1 0v1m1 0v1m2 0v1m1 0v1m2 0v1m1 0v1m2 0v1m2 0v1m1-1v1m2 0v1m1-1v1m2 0v1m1-1v1m3 0v1m1-1v1m3 0v1m1-1v1m3 0v1m1-1v1m2 0v1m1-1v1m3 0v1m1-1v1m2 0v1m1-1v1m1-1v1m2 0v1m1-1v1m1-1v1m3 0v1m1-1v1m1-1v1m1-1v1m2 0v1m1-1v1m1-1v1"/>
<path stroke="#f8864f" d="M155 316v1m2-65v1m0 77v1m3 30v1m1 13v1m1 17v2m1 26v1m5-174v1m1 3v1m2 6v1m1 2v1m1 3v1m1 3v1m1 2v1m2 3v1m1 0v1m1-1v1m1-2v1m3-7v1m1-4v1m1-4v1m1-5v1m1-4v1m1-5v1m1-6v1m25-2v1m1 7v1m4 22v1m2 12v1m1 5v1m2-40v1m2 22v1m1 6v1m95-44v1m1-1v1m1 0v1m1-1v1m1 0v1m1-1v1m1 0v1m1-1v1m1-1v1m2 0v1m1-1v1m1-1v1m1-1v1m1-1v1m1-1v1m1-2v1m10 7v1m1 5v1m2 7v1m1 2v1m2 4v1m1 1v1m5 4v1m1 0v1m3 1v1m2 0v1m1 0v1m2 0v1m1-1v1m2 0v1m3 0v1m1-1v1m2 0v1m1-1v1m3 0v1m1-1v1m3 0v1m1-1v1m3 0v1m1-1v1m2 0v1m1-1v1m3 0v1m1-1v1m3 0v1m1-1v1m3 0v1m1-1v1m1-1v1m1-1v1m3 0v1m1-1v1m1-1v1m1-1v1"/>
<path stroke="#f7844e" d="M155 278v1m0 36v1m1-47v1m0 53v1m1-71v2m1 84v1m1 9v1m1 10v1m1 13v1m1 17v1m1 26v2m7-165v1m2 6v1m4 12v1m5-1v1m1-3v1m2-6v1m2-8v1m1-4v1m1-5v1m1-6v1m25-2v1m2 13v1m5 29v1m3-36v1m0 44v1m1-32v1m2 15v1m1-5v1m96-39v1m1-1v1m1-1v2m1-1v1m1 0v1m1-1v1m1-1v1m1 0v1m1-1v1m1-1v1m1-1v1m1-1v1m1-1v1m1-1v1m1-2v1m10 7v1m1 5v1m1 4v1m1 2v1m1 2v1m1 2v1m3 5v1m1 0v1m1 0v1m1 0v1m2 0v1m1 0v1m1 0v1m2 0v1m2 0v1m1 0v1m1-1v1m2 0v1m2 0v1m1-1v1m3 0v1m1-1v1m2 0v1m1-1v1m1-1v1m2 0v1m1-1v1m3 0v1m1-1v1m3 0v1m1-1v1m2 0v1m1-1v1m1-1v1m2 0v1m1-1v1m1-1v1m2 0v1m1-1v1m1-1v1m1-1v1m3 0v1m1-1v1m1-1v1m1-1v1m1-1v1m1-1v1"/>
<path stroke="#f7814c" d="M156 270v1m1-16v1m1 82v1m1 9v1m1 10v1m1 13v1m1 17v1m1 24v3m6-166v1m2 6v1m2 6v1m1 3v1m1 2v1m2 3v1m1 0v1m1-1v1m1-2v1m3-7v1m2-7v1m1-4v1m29-7v1m2 12v1m1 4v1m1 4v1m1 4v1m3 15v1m1-45v1m0 46v1m2-24v1m1 5v1m1-5v1m99-38v1m1-1v2m1-1v1m1-1v1m1 0v1m1-1v1m1-1v1m1-1v1m1-1v1m2-1v1m1-3v2m10 7v1m1 5v1m1 4v1m4 11v1m1 1v1m4 3v1m1 0v1m3 1v1m1 0v1m2 0v1m2 0v1m2 0v1m2 0v1m1-1v1m2 0v1m1-1v1m3 0v1m1-1v1m3 0v1m1-1v1m2 0v1m1-1v1m1-1v1m2 0v1m1-1v1m1-1v1m2 0v1m1-1v1m3 0v1m1-1v1m3 0v1m1-1v1m1-1v1m3 0v1m1-1v1m1-1v1m1-1v1m1-1v1"/>
<path stroke="#f67f4b" d="M155 279v1m0 34v1m1 7v1m1-67v1m0 72v1m4 42v1m1 17v1m1 23v2m5-167v1m2 7v1m2 6v1m1 3v1m3 8v1m1 1v1m4-3v1m1-3v1m2-6v1m1-4v1m2-8v1m1-5v1m1-6v1m25-2v1m2 13v1m4 21v1m1 7v1m1 4v1m3-29v1m1 8v1m103-35v1m1-1v1m1-1v2m1-2v2m1-1v1m1-1v1m1-1v1m1-1v2m1-2v1m11 6v1m1 5v1m1 4v1m1 3v1m1 2v1m1 2v1m1 1v1m1 1v1m1 1v1m1 0v1m1 0v1m2 0v1m1 0v1m1 0v1m2 0v1m1 0v1m2 0v1m2 0v1m2 0v1m1-1v1m2 0v1m3 0v1m1-1v1m3 0v1m1-1v1m3 0v1m1-1v1m3 0v1m1-1v1m3 0v1m1-1v1m2 0v1m1-1v1m1-1v1m2 0v1m1-1v1m1-1v1m3 0v1m1-1v1m1-1v1m1-1v1m4 0v1m1-1v1m1-1v1"/>
<path stroke="#f67c4a" d="M155 312v2m1-43v1m1-15v1m1 79v1m1 9v1m1 10v1m1 12v1m1 16v2m1 22v2m8-153v1m1 3v1m2 6v1m1 2v1m3 4v1m1-1v1m1-2v1m3-7v1m3-10v1m1-4v1m1-5v1m1-6v1m26 5v1m1 6v1m1 5v1m1 4v1m3 18v1m3-40v1m0 48v1m1-36v1m2 15v1m1-5v1m105-37v1m1-1v1m1-1v1m1-1v1m1-1v1m11 6v1m5 20v1m3 5v1m1 0v1m1 0v1m1 0v1m3 1v1m1 0v1m2 0v1m1 0v1m2 0v1m2 0v1m1-1v1m2 0v1m2 0v1m1-1v1m1-1v1m2 0v1m1-1v1m3 0v1m1-1v1m1-1v1m2 0v1m1-1v1m1-1v1m2 0v1m1-1v1m1-1v1m2 0v1m1-1v1m1-1v1m2 0v1m1-1v1m1-1v1m2 0v1m1-1v1m1-1v1m1-1v1m3 0v1m1-1v1m1-1v1m1-1v1m1-1v1m1-1v1"/>
<path stroke="#f67a49" d="M155 280v1m0 30v1m1 9v1m1-64v1m0 69v1m2 17v1m1 10v1m1 12v1m1 16v1m1 23v1m6-158v1m1 3v1m1 3v1m2 6v1m1 3v1m1 2v1m1 1v1m1 1v1m7-10v1m1-4v1m1-4v1m1-4v1m1-5v1m1-6v1m1-8v1m24 4v1m5 29v1m1 5v1m3 14v1m1-48v1m0 50v1m2-28v1m1 5v1m121-34v1m1 6v1m1 4v1m1 3v1m1 2v1m2 4v1m1 1v1m4 3v1m1 0v1m1 0v1m2 0v1m1 0v1m2 0v1m1 0v1m1-1v1m1 0v1m1-1v1m2 0v1m2 0v1m1-1v1m3 0v1m1-1v1m2 0v1m1-1v1m1-1v1m3 0v1m1-1v1m3 0v1m1-1v1m3 0v1m1-1v1m3 0v1m1-1v1m1-1v1m2 0v1m1-1v1m1-1v1m1-1v1m2 0v1m1-1v1m1-1v1m1-1v1m1-1v1m1-1v1m1-1v1m1-1v1"/>
<path stroke="#f57748" d="M155 309v2m1-39v1m1-14v1m1 76v1m2 19v1m1 12v1m1 16v1m1 22v2m5-161v1m4 15v1m1 3v1m3 8v1m2 1v1m1-1v1m1-2v1m1-3v1m1-3v1m1-3v1m2-6v1m1-4v1m2-8v1m1-6v1m1-8v2m25 10v1m1 6v1m1 5v1m4 23v1m1 3v1m2 6v1m1-39v1m1 8v1m1 5v1m1-4v1m120-32v2m1 6v1m1 4v1m1 3v1m2 5v1m3 5v1m1 0v1m1 0v1m3 1v1m1 0v1m2 0v1m1 0v1m2 0v1m2 0v1m2 0v1m2 0v1m1-1v1m2 0v1m1-1v1m3 0v1m1-1v1m3 0v1m1-1v1m1-1v1m2 0v1m1-1v1m1-1v1m2 0v1m1-1v1m1-1v1m2 0v1m1-1v1m1-1v1m3 0v1m1-1v1m1-1v1m3 0v1m1-1v1m1-1v1m1-1v1m1-1v1m1-1v1"/>
<path stroke="#f57547" d="M155 281v1m0 26v1m1 11v1m1-61v1m0 66v1m1 7v1m1 9v1m2 22v1m1 16v1m1 21v2m7-150v1m1 3v1m1 3v1m2 6v1m1 2v1m2 3v1m7-10v1m3-10v1m2-9v1m1-7v1m24 2v1m4 24v1m2 10v1m3 14v1m1-50v1m0 53v1m0 64v37m1-142v1m3 11v1m120-32v1m1 7v1m1 4v1m1 3v1m1 3v1m2 4v1m1 1v1m3 2v1m1 0v1m1 0v1m2 0v1m1 0v1m2 0v1m1 0v1m2 0v1m2 0v1m1-1v1m1 0v1m1-1v1m2 0v1m1-1v1m2 0v1m1-1v1m1-1v1m2 0v1m1-1v1m1-1v1m3 0v1m1-1v1m3 0v1m1-1v1m1-1v1m2 0v1m1-1v1m1-1v1m2 0v1m1-1v1m1-1v1m1-1v1m2 0v1m1-1v1m1-1v1m1-1v1m1-1v1m1-1v1m3 0v1m1-1v1m1-1v1"/>
<path stroke="#f57245" d="M155 306v2m1-35v1m4 81v1m1 11v1m1 16v1m1 21v1m4-161v1m2 8v1m4 15v1m3 8v1m2 1v1m1-1v1m1-2v1m1-3v1m1-3v1m1-3v1m2-6v1m1-4v1m1-4v1m1-5v1m1-5v1m1-7v1m24 2v1m1 6v1m1 6v1m3 14v1m1 6v1m1 7v1m3-45v1m0 55v1m0 45v18m0 37v11m2-144v1m1 5v1m121-36v1m1 7v1m1 4v1m2 7v1m1 2v1m3 5v1m1 0v1m3 1v1m1 0v1m2 0v1m1 0v1m2 0v1m1 0v1m1-1v1m1 0v1m1-1v1m2 0v1m2 0v1m1-1v1m2 0v1m1-1v1m3 0v1m1-1v1m3 0v1m1-1v1m1-1v1m2 0v1m1-1v1m1-1v1m3 0v1m1-1v1m1-1v1m2 0v1m1-1v1m1-1v1m1-1v1m2 0v1m1-1v1m1-1v1m1-1v1m1-1v1m3 0v1m1-1v1m1-1v1m1-1v1m1-1v1"/>
<path stroke="#f47044" d="M155 282v1m0 22v1m1 13v1m1-59v1m0 64v1m1 7v1m1 9v1m1 9v1m1 11v1m1 15v2m1 20v2m5-155v1m2 8v1m1 3v1m1 3v1m1 3v1m1 2v1m1 2v1m2 3v1m1 0v1m6-11v1m2-6v1m1-4v1m1-5v1m1-5v1m1-7v1m27 21v1m3 16v1m3 13v1m1 5v2m0 20v23m0 66v1m1-155v1m2 14v1m1-4v1m120-33v1m1 7v1m1 4v1m1 4v1m3 8v1m1 1v1m1 0v1m1 0v1m1 0v1m1 0v1m2 0v1m1 0v1m2 0v1m1 0v1m2 0v1m2 0v1m2 0v1m2 0v1m1-1v1m2 0v1m1-1v1m2 0v1m1-1v1m1-1v1m2 0v1m1-1v1m1-1v1m3 0v1m1-1v1m1-1v1m2 0v1m1-1v1m1-1v1m3 0v1m1-1v1m1-1v1m3 0v1m1-1v1m1-1v1m1-1v1m3 0v1m1-1v1m1-1v1m1-1v1m1-1v1m1-1v1m1-1v1"/>
<path stroke="#f46d43" d="M155 303v2m1-31v1m1-13v1m2 80v1m2 21v1m1 15v1m1 20v2m6-148v1m2 8v1m1 3v1m2 6v1m2 4v1m3 1v1m1-2v1m1-3v1m1-3v1m1-3v1m2-6v1m3-10v1m2-11v1m23-7v1m1 7v1m1 6v1m1 6v1m2 9v1m1 4v1m2 14v1m1 2v1m2-50v1m0 59v3m0 6v11m1-66v1m1 9v1m122-31v1m1 7v1m1 4v1m1 4v1m1 3v1m1 2v1m1 1v1m1 1v1m4 3v1m1 0v1m2 0v1m1 0v1m2 0v1m1 0v1m1-1v1m1 0v1m2 0v1m1-1v1m1 0v1m1-1v1m2 0v1m1-1v1m2 0v1m1-1v1m1-1v1m2 0v1m1-1v1m1-1v1m2 0v1m1-1v1m1-1v1m3 0v1m1-1v1m1-1v1m2 0v1m1-1v1m1-1v1m1-1v1m2 0v1m1-1v1m1-1v1m1-1v1m3 0v1m1-1v1m1-1v1m1-1v1m1-1v1m1-1v1m1-1v1m1-1v1m1-1v1"/>
<path stroke="#f36b43" d="M155 283v1m0 17v2m1 15v1m1-56v1m0 61v1m1 7v1m2 19v1m1 10v1m1 15v1m1 20v1m4-155v1m3 13v1m3 11v1m2 5v1m2 3v1m1 0v1m6-11v1m2-6v1m1-4v1m1-4v1m1-6v1m1-6v1m30 37v1m3 13v1m1-55v1m0 63v6m1-56v1m2 15v1m1-4v1m121-26v1m1 4v1m1 4v1m1 3v1m1 2v1m3 5v1m1 0v1m1 0v1m2 0v1m1 0v1m2 0v1m1 0v1m2 0v1m2 0v1m1 0v1m1-1v1m2 0v1m2 0v1m1-1v1m2 0v1m1-1v1m1-1v1m2 0v1m1-1v1m1-1v1m2 0v1m1-1v1m1-1v1m2 0v1m1-1v1m1-1v1m3 0v1m1-1v1m1-1v1m3 0v1m1-1v1m1-1v1m1-1v1m2 0v1m1-1v1m1-1v1m1-1v1m1-1v1m1-1v1m1-1v1"/>
<path stroke="#f26944" d="M155 284v1m0 15v1m1-26v1m0 41v1m1-54v1m1 67v1m1 9v1m1 9v1m2 26v1m1 19v2m5-149v1m3 13v1m1 3v1m1 3v1m1 2v1m1 2v1m1 1v1m1 1v1m2-1v1m1-2v1m1-3v1m1-3v1m1-3v1m2-6v1m1-3v1m1-4v1m2-9v1m1-6v1m1-9v1m22 0v1m1 7v1m1 6v1m1 6v1m1 4v1m2 9v1m1 7v1m1 6v1m4-36v1m1 10v1m123-24v1m1 4v1m1 4v1m1 3v1m2 5v1m1 1v1m3 2v1m1 0v1m2 0v1m1 0v1m2 0v1m1 0v1m2 0v1m2 0v1m2 0v1m1-1v1m1 0v1m1-1v1m2 0v1m1-1v1m1-1v1m2 0v1m1-1v1m1-1v1m2 0v1m1-1v1m1-1v1m2 0v1m1-1v1m1-1v1m2 0v1m1-1v1m1-1v1m1-1v1m2 0v1m1-1v1m1-1v1m1-1v1m3 0v1m1-1v1m1-1v1m1-1v1m1-1v1m1-1v1m3 0v1m1-1v1m1-1v1m1-1v1"/>
<path stroke="#f06744" d="M155 285v1m0 12v2m2-35v1m0 58v1m2 16v1m1 9v1m1 11v1m1 13v2m1 19v1m6-142v1m1 4v1m1 4v1m1 3v1m4 11v1m2 1v1m1-1v1m5-11v1m1-3v1m2-6v1m1-5v1m1-5v1m1-6v1m1-9v1m22 0v1m5 30v1m2 13v1m2 8v1m1 3v1m1-57v1m2 23v1m1 5v1m1-4v1m121-27v1m1 4v1m1 4v1m2 7v1m3 5v1m1 0v1m2 0v1m1 0v1m2 0v1m1 0v1m2 0v1m1 0v1m1-1v1m1 0v1m1-1v1m1 0v1m1-1v1m2 0v1m1-1v1m1 0v1m1-1v1m1-1v1m2 0v1m1-1v1m1-1v1m2 0v1m1-1v1m1-1v1m2 0v1m1-1v1m1-1v1m2 0v1m1-1v1m1-1v1m1-1v1m2 0v1m1-1v1m1-1v1m1-1v1m2 0v1m1-1v1m1-1v1m1-1v1m1-1v1m1-1v1m3 0v1m1-1v1m1-1v1m1-1v1m1-1v1m1-1v1"/>
<path stroke="#ef6645" d="M155 286v1m0 8v3m1-22v1m0 39v1m1-51v1m1-21v2m0 83v1m3 30v1m1 13v1m1 19v2m5-145v1m5 21v1m1 2v1m1 2v1m2 3v1m1 0v1m2-3v1m1-3v1m1-3v1m1-3v1m3-8v1m2-7v1m1-5v1m1-6v1m1-9v2m22-1v1m1 6v1m1 6v1m1 6v1m1 4v1m2 9v1m6-23v1m2 15v1m1-4v1m121-27v1m3 14v1m1 2v1m1 2v1m1 1v1m1 0v1m1 0v1m1 0v1m2 0v1m1 0v1m2 0v1m1 0v1m2 0v1m2 0v1m2 0v1m2 0v1m1-1v1m2 0v1m1-1v1m2 0v1m1-1v1m1-1v1m2 0v1m1-1v1m1-1v1m2 0v1m1-1v1m1-1v1m2 0v1m1-1v1m1-1v1m3 0v1m1-1v1m1-1v1m1-1v1m2 0v1m1-1v1m1-1v1m1-1v1m1-1v1m3 0v1m1-1v1m1-1v1m1-1v1m1-1v1m1-1v1m1-1v1m1-1v1"/>
<path stroke="#ee6445" d="M155 287v2m0 2v4m1 20v1m1-49v1m0 55v1m1-76v1m1 91v1m1 9v1m1 10v1m1 13v1m1 19v1m4-148v1m2 9v1m1 4v1m1 4v1m1 3v1m1 3v1m1 2v1m2 4v1m1 1v1m2-1v1m1-2v1m1-3v1m3-8v1m1-3v1m2-6v1m1-4v1m1-5v1m1-6v1m1-8v1m27 29v1m2 13v1m1 5v1m1 2v1m1 3v1m1-59v1m1 12v1m1 10v1m2-28v1m121 1v2m1 5v1m1 4v1m1 3v1m2 5v1m1 1v1m3 2v1m1 0v1m2 0v1m1 0v1m2 0v1m1 0v1m1-1v1m1 0v1m1-1v1m1 0v1m1-1v1m1 0v1m1-1v1m2 0v1m1-1v1m2 0v1m1-1v1m1-1v1m2 0v1m1-1v1m1-1v1m2 0v1m1-1v1m1-1v1m2 0v1m1-1v1m1-1v1m2 0v1m1-1v1m1-1v1m1-1v1m3 0v1m1-1v1m1-1v1m1-1v1m3 0v1m1-1v1m1-1v1m1-1v1m1-1v1m1-1v1m1-1v1m1-1v1m1-1v1m1-1v1"/>
<path stroke="#ed6246" d="M155 289v2m1-14v1m0 36v1m1-47v1m1-20v2m0 79v1m1 8v1m1 9v1m1 10v1m1 13v1m1 18v2m8-126v1m1 3v1m3 8v1m1 2v1m2 1v1m1-1v1m3-7v1m1-3v1m3-8v1m1-3v1m1-4v1m1-5v1m1-6v1m1-8v1m22-2v1m1 6v1m1 6v1m1 6v1m3 14v1m1 8v1m3 12v1m1-61v1m1 12v1m2 16v1m1-4v1m121-29v1m1 6v1m1 4v1m1 3v1m1 3v1m3 5v1m1 0v1m2 0v1m1 0v1m2 0v1m1 0v1m2 0v1m2 0v1m2 0v1m2 0v1m1-1v1m1 0v1m1-1v1m1-1v1m1 0v1m1-1v1m1-1v1m2 0v1m1-1v1m1-1v1m2 0v1m1-1v1m1-1v1m2 0v1m1-1v1m1-1v1m2 0v1m1-1v1m1-1v1m1-1v1m2 0v1m1-1v1m1-1v1m1-1v1m1-1v1m2 0v1m1-1v1m1-1v1m1-1v1m1-1v1m1-1v1m1-1v1m1-1v1m1-1v1"/>
<path stroke="#eb6046" d="M156 313v1m1 8v1m1-72v1m3 107v1m1 13v1m1 18v1m5-139v1m1 4v1m1 4v1m3 12v1m1 2v1m1 2v1m2 3v1m1 0v1m1-1v1m1-3v1m1-3v1m1-3v1m2-6v1m1-3v1m1-3v1m2-6v1m1-5v1m1-6v1m1-8v2m22-3v1m1 6v1m1 6v1m2 10v1m5 27v1m1 4v1m3-38v1m2-26v1m121-2v1m1 6v1m1 4v1m1 3v1m1 3v1m1 2v1m1 1v1m1 0v1m1 0v1m1 0v1m2 0v1m1 0v1m2 0v1m1 0v1m1-1v1m1 0v1m1-1v1m1 0v1m1-1v1m1 0v1m1-1v1m2 0v1m1-1v1m2 0v1m1-1v1m2 0v1m1-1v1m1-1v1m2 0v1m1-1v1m1-1v1m2 0v1m1-1v1m1-1v1m2 0v1m1-1v1m1-1v1m1-1v1m2 0v1m1-1v1m1-1v1m1-1v1m1-1v1m2 0v1m1-1v1m1-1v1m1-1v1m1-1v1m1-1v1m1-1v1m4 0v1m1-1v1m1-1v1"/>
<path stroke="#ea5e47" d="M156 278v1m0 33v1m1-44v1m1-18v1m0 76v1m1 8v1m1 9v1m1 9v1m1 12v2m1 17v2m1 28v2m3-173v1m3 15v1m1 4v1m1 3v1m2 6v1m2 4v1m1 1v1m1 0v1m1-1v1m1-3v1m3-8v1m4-10v1m3-12v1m1-7v1m27 26v1m1 5v1m1 8v1m3 13v1m1-64v1m1 12v1m2 16v1m1-4v1m122-23v1m1 4v1m2 7v1m1 2v1m1 1v1m3 2v1m1 0v1m2 0v1m1 0v1m2 0v1m2 0v1m2 0v1m2 0v1m1-1v1m1 0v1m1-1v1m2 0v1m1-1v1m2 0v1m1-1v1m1-1v1m2 0v1m1-1v1m1-1v1m2 0v1m1-1v1m1-1v1m2 0v1m1-1v1m1-1v1m1-1v1m2 0v1m1-1v1m1-1v1m1-1v1m3 0v1m1-1v1m1-1v1m1-1v1m1-1v1m1-1v1m3 0v1m1-1v1m1-1v1m1-1v1m1-1v1m1-1v1"/>
<path stroke="#e95c47" d="M156 311v1m1-42v1m0 50v1m1-69v2m1 82v1m1 9v1m2 22v1m1 18v1m1 26v4m5-160v1m2 10v1m1 3v1m1 2v1m2 5v1m1 2v1m1 1v1m1 0v1m1-1v1m1-3v1m1-4v1m1-3v1m2-6v1m1-3v1m1-3v1m1-3v1m1-4v1m1-5v1m1-5v1m1-7v1m1-10v1m21 5v1m1 6v1m1 6v1m1 5v1m3 15v1m1 8v1m1 3v1m1 3v1m1 5v2m0 50v36m2-140v1m1 11v1m2-24v1m0 24v1m122-23v1m1 4v1m1 4v1m2 5v1m2 3v1m1 0v1m2 0v1m1 0v1m2 0v1m1 0v1m1-1v1m1 0v1m1-1v1m1 0v1m1-1v1m1 0v1m1-1v1m2 0v1m1-1v1m1 0v1m1-1v1m1-1v1m1 0v1m1-1v1m1-1v1m2 0v1m1-1v1m1-1v1m2 0v1m1-1v1m1-1v1m2 0v1m1-1v1m1-1v1m1-1v1m2 0v1m1-1v1m1-1v1m1-1v1m2 0v1m1-1v1m1-1v1m1-1v1m1-1v1m1-1v1m3 0v1m1-1v1m1-1v1m1-1v1m1-1v1m1-1v1m1-1v1m1-1v1"/>
<path stroke="#e85b48" d="M156 279v1m0 29v2m2-56v1m0 72v1m2 17v1m1 10v1m1 11v1m1 17v2m1 24v3m3-166v1m1 4v1m2 10v1m1 5v1m2 6v1m1 2v1m1 2v1m1 2v1m1 1v1m1 0v1m1-1v1m1-3v1m1-4v1m2-6v1m5-12v1m1-5v1m1-5v1m1-7v1m1-10v2m25 28v1m1 4v1m5 30v3m0 13v8m0 6v20m0 36v8m1-161v1m2 23v1m1 5v1m123-27v1m1 4v1m1 4v1m1 3v1m2 4v1m1 0v1m1 0v1m1 0v1m2 0v1m1 0v1m2 0v1m2 0v1m2 0v1m2 0v1m1-1v1m1 0v1m1-1v1m2 0v1m1-1v1m2 0v1m1-1v1m1-1v1m1 0v1m1-1v1m1-1v1m2 0v1m1-1v1m1-1v1m2 0v1m1-1v1m1-1v1m3 0v1m1-1v1m1-1v1m1-1v1m2 0v1m1-1v1m1-1v1m1-1v1m1-1v1m3 0v1m1-1v1m1-1v1m1-1v1m1-1v1m1-1v1m1-1v1m1-1v1m1-1v1m1-1v1"/>
<path stroke="#e75948" d="M156 308v1m1-38v1m0 48v1m1-65v1m0 70v1m1 8v1m2 19v1m1 11v1m1 16v2m1 23v3m5-152v1m1 5v1m2 8v1m2 6v1m1 2v1m1 2v1m1 1v1m1 0v1m1-1v1m1-3v1m1-4v1m1-4v1m2-6v1m1-3v1m1-3v1m1-3v1m2-7v1m1-5v1m1-7v1m1-9v2m20-5v1m1 6v1m1 6v1m1 6v1m1 5v1m3 15v1m1 8v1m1 3v1m1 3v1m1 9v13m0 8v6m0 64v5m2-154v1m2 16v1m1-27v1m0 22v1m122-24v1m1 4v1m1 4v1m1 3v1m1 2v1m1 1v1m3 2v1m1 0v1m2 0v1m1 0v1m1-1v1m1 0v1m1-1v1m1 0v1m1-1v1m1 0v1m1-1v1m2 0v1m1-1v1m1 0v1m1-1v1m1-1v1m1 0v1m1-1v1m1-1v1m2 0v1m1-1v1m1-1v1m1 0v1m1-1v1m1-1v1m2 0v1m1-1v1m1-1v1m2 0v1m1-1v1m1-1v1m1-1v1m3 0v1m1-1v1m1-1v1m1-1v1m3 0v1m1-1v1m1-1v1m1-1v1m1-1v1m1-1v1m1-1v1m1-1v1m1-1v1"/>
<path stroke="#e55749" d="M156 280v1m0 26v1m1-36v1m0 46v1m1-63v1m1 77v1m1 9v1m1 9v1m1 11v1m1 16v1m1 23v2m4-154v1m2 11v1m1 4v1m1 3v1m1 2v1m3 9v1m1 1v1m1 0v1m1-1v1m1-3v1m1-4v1m1-4v1m1-4v1m1-3v1m4-10v1m1-4v1m1-5v1m1-7v1m1-8v1m20-5v1m1 6v1m1 6v1m1 6v1m2 9v1m1 4v1m1 6v1m4 121v4m2-159v1m1 11v1m2 1v1m122-24v1m1 4v1m1 4v1m1 3v1m1 2v1m2 3v1m1 0v1m2 0v1m1 0v1m1-1v1m1 0v1m2 0v1m2 0v1m2 0v1m1-1v1m1 0v1m1-1v1m2 0v1m1-1v1m2 0v1m1-1v1m1-1v1m1 0v1m1-1v1m1-1v1m2 0v1m1-1v1m1-1v1m1 0v1m1-1v1m1-1v1m1-1v1m1 0v1m1-1v1m1-1v1m1-1v1m2 0v1m1-1v1m1-1v1m1-1v1m1-1v1m2 0v1m1-1v1m1-1v1m1-1v1m1-1v1m1-1v1m1-1v1m5 0v1m1-1v1m1-1v1"/>
<path stroke="#e45549" d="M156 281v1m0 23v2m2-49v2m0 66v1m1 7v1m1 9v1m1 9v1m1 11v1m1 15v2m1 21v3m3-157v1m2 10v1m1 6v1m1 4v1m1 3v1m1 2v1m1 2v1m1 2v1m1 3v1m1 1v1m1 0v2m1-2v1m1-3v1m1-4v1m2-7v1m2-6v1m1-3v1m1-3v1m1-3v1m1-4v1m1-5v1m1-7v1m1-8v2m20-6v1m7 42v1m1 7v1m2 7v1m1 108v4m3-152v1m1 5v1m1-25v1m122-5v2m1 4v1m1 4v1m1 3v1m1 2v1m1 2v1m1 0v1m1 0v1m1 0v1m2 0v1m2 0v1m1 0v1m1-1v1m1 0v1m1-1v1m1 0v1m1-1v1m2 0v1m1-1v1m1 0v1m1-1v1m1-1v1m1 0v1m1-1v1m1-1v1m2 0v1m1-1v1m2 0v1m1-1v1m1-1v1m2 0v1m1-1v1m1-1v1m2 0v1m1-1v1m1-1v1m2 0v1m1-1v1m1-1v1m1-1v1m3 0v1m1-1v1m1-1v1m1-1v1m1-1v1m1-1v1m3 0v1m1-1v1m1-1v1m1-1v1m1-1v1m1-1v1m1-1v1"/>
<path stroke="#e3534a" d="M156 304v1m1-32v1m0 44v1m1-59v1m2 82v1m1 9v1m1 10v2m1 14v2m1 21v2m4-148v1m1 5v1m2 11v1m2 6v1m1 2v1m1 2v1m1 3v1m1 1v1m1 1v1m1-2v1m1-3v2m1-5v1m1-5v1m2-6v1m1-3v1m1-3v1m1-3v1m2-6v1m1-5v1m1-7v1m1-7v1m1-9v1m19 2v1m1 5v1m1 6v1m1 6v1m1 4v1m3 17v1m2 10v1m1 4v1m1 111v2m2-166v1m1 10v1m2-17v1m0 18v1m123-20v1m1 4v1m1 3v1m2 5v1m2 1v1m1 0v1m1 0v1m1-1v1m1 0v1m2 0v1m2 0v1m1-1v1m1 0v1m1-1v1m1 0v1m1-1v1m1-1v1m1 0v1m1-1v1m1-1v1m1 0v1m1-1v1m1-1v1m1 0v1m1-1v1m1-1v1m1 0v1m1-1v1m1-1v1m2 0v1m1-1v1m1-1v1m2 0v1m1-1v1m1-1v1m2 0v1m1-1v1m1-1v1m1-1v1m2 0v1m1-1v1m1-1v1m1-1v1m1-1v1m1-1v1m3 0v1m1-1v1m1-1v1m1-1v1m1-1v1m1-1v1m1-1v1m1-1v1m1-1v1"/>
<path stroke="#e2514a" d="M156 282v1m0 19v2m1 13v1m1-57v1m0 63v1m1 7v1m2 18v1m1 10v1m1 14v2m1 20v3m2-157v1m1 5v1m3 17v1m2 8v1m2 6v1m1 2v1m1 3v1m1 1v1m1 1v1m1-2v2m1-3v1m1-5v2m1-6v1m1-4v1m5-12v1m2-7v1m1-7v1m1-7v1m1-9v2m20 7v1m1 6v1m3 15v1m1 4v1m1 8v1m3 15v1m5-37v1m1-22v1m0 16v1m123-20v1m1 4v1m1 3v1m1 3v1m1 1v1m1 1v1m2 0v1m1 0v1m2 0v1m1 0v1m1-1v1m1 0v1m1-1v1m2 0v1m1-1v1m1 0v1m1-1v1m2 0v1m1-1v1m2 0v1m1-1v1m2 0v1m1-1v1m1-1v1m1 0v1m1-1v1m1-1v1m1 0v1m1-1v1m1-1v1m2 0v1m1-1v1m1-1v1m2 0v1m1-1v1m1-1v1m1-1v1m2 0v1m1-1v1m1-1v1m1-1v1m1-1v1m3 0v1m1-1v1m1-1v1m1-1v1m1-1v1m1-1v1m1-1v1m1-1v1m1-1v1m1-1v1"/>
<path stroke="#e1504b" d="M156 283v1m0 16v2m1-28v1m0 41v1m1-55v1m0 61v1m1 7v1m1 9v1m1 8v1m1 10v1m1 13v2m1 19v3m4-142v1m1 5v1m1 6v1m1 4v1m1 3v1m1 2v1m2 6v1m1 3v1m1 1v2m1 0v1m1-1v1m1-3v1m1-4v1m1-6v2m1-5v1m1-4v1m1-3v1m1-3v1m1-3v1m1-3v1m1-4v1m1-4v1m1-7v2m1-8v2m1-9v1m19 0v1m3 19v1m1 4v1m4 24v1m1 3v1m1 5v1m3-56v1m1 10v1m1 5v1m1-5v1m123-20v1m1 4v1m1 3v1m1 3v1m1 1v1m1 1v1m1 0v1m2 0v1m1 0v1m1-1v1m1 0v1m1-1v1m1 0v1m1-1v1m1 0v1m1-1v1m2 0v1m1-1v1m1 0v1m1-1v1m1-1v1m1 0v1m1-1v1m1-1v1m1 0v1m1-1v1m1-1v1m2 0v1m1-1v1m1-1v1m1 0v1m1-1v1m1-1v1m1 0v1m1-1v1m1-1v1m1-1v1m1 0v1m1-1v1m1-1v1m1-1v1m2 0v1m1-1v1m1-1v1m1-1v1m3 0v1m1-1v1m1-1v1m1-1v1m1-1v1m1-1v1m1-1v1m6 0v1"/>
<path stroke="#df4e4b" d="M156 284v1m0 13v2m1-25v1m0 39v1m1-53v2m1 66v1m1 9v1m1 8v1m1 10v1m1 12v2m1 18v3m5-132v1m1 6v1m1 4v1m1 3v1m1 2v1m1 2v1m1 3v2m1 2v1m1 2v1m1 0v1m1-1v2m1-4v2m1-5v2m1-6v1m1-5v1m1-4v1m1-3v1m1-3v1m1-3v1m2-6v1m1-4v1m1-6v1m1-7v1m1-9v2m18-6v1m1 4v1m1 5v1m1 6v1m3 15v1m1 4v1m1 8v1m3 16v3m0 9v10m3-79v1m1 10v1m2-13v1m0 13v1m124-15v1m2 7v1m2 3v1m1 0v1m1 0v1m1-1v1m1 0v1m2 0v1m2 0v1m2 0v1m1-1v1m1 0v1m1-1v1m1-1v1m1 0v1m1-1v1m1-1v1m1 0v1m1-1v1m1-1v1m1 0v1m1-1v1m1-1v1m1 0v1m1-1v1m1-1v1m2 0v1m1-1v1m1-1v1m1 0v1m1-1v1m1-1v1m2 0v1m1-1v1m1-1v1m2 0v1m1-1v1m1-1v1m1-1v1m2 0v1m1-1v1m1-1v1m1-1v1m1-1v1m1-1v1m4 0v1m1-1v1m1-1v1m1-1v1m1-1v1m1-1v1"/>
<path stroke="#de4c4b" d="M156 285v1m0 10v2m1 16v1m1-50v1m0 57v1m1 6v1m1 9v1m1 8v1m1 10v1m1 11v2m1 17v3m2-147v1m1 5v1m1 5v1m1 6v1m1 6v1m1 4v1m2 6v1m1 2v2m1 3v1m1 2v1m1 2v1m1 0v2m1-1v1m1-3v2m1-5v1m1-6v2m1-6v1m1-4v1m4-10v1m1-3v1m2-9v1m1-7v1m1-8v2m1-8v2m6 158v13m1-9v12m1-7v7m1-2v2m8-175v1m1 4v1m1 5v1m1 6v1m1 5v1m1 4v1m2 9v1m1 8v1m1 5v1m1 3v1m1 8v9m0 10v11m0 26v18m4-124v1m1 6v1m1-18v2m0 10v1m123-19v1m2 8v1m1 2v1m1 2v1m1 0v1m1 0v1m1 0v1m2 0v1m1 0v1m1-1v1m1 0v1m1-1v1m1 0v1m1-1v1m2 0v1m1-1v1m2 0v1m1-1v1m2 0v1m1-1v1m1-1v1m1 0v1m1-1v1m1-1v1m1 0v1m1-1v1m1-1v1m1 0v1m1-1v1m1-1v1m2 0v1m1-1v1m1-1v1m1 0v1m1-1v1m1-1v1m2 0v1m1-1v1m1-1v1m1-1v1m2 0v1m1-1v1m1-1v1m1-1v1m1-1v1m3 0v1m1-1v1m1-1v1m1-1v1m1-1v1m1-1v1m1-1v1m1-1v1m1-1v1"/>
<path stroke="#dd4a4c" d="M156 286v3m0 3v4m1-20v1m0 36v1m1-48v1m0 55v1m2 16v1m1 8v1m1 9v2m1 10v2m1 16v3m1 23v8m3-162v1m2 13v1m1 4v1m1 2v1m1 3v1m1 3v1m1 3v1m1 2v1m1 2v1m1 1v1m1-1v2m1-3v2m1-6v2m1-6v2m1-7v1m2-7v1m1-3v1m1-3v1m1-3v1m2-7v1m1-5v1m1-7v1m1-7v1m1-7v1m1-3v1m1-1v1m1-1v1m0 144v12m1-157v1m0 145v22m1-168v1m0 149v26m1-176v1m0 153v6m0 13v3m1-176v1m0 158v5m1-164v1m0 163v5m1-169v1m0 169v4m1-174v1m1-1v1m1-1v1m1-1v1m1-1v1m1-1v1m1-1v1m1 1v1m1 4v1m1 5v1m4 21v1m2 14v1m2 9v1m1 37v26m0 18v11m3-146v1m3 2v1m0 7v2m123-20v2m1 4v1m1 3v1m1 2v1m1 2v1m2 1v1m1 0v1m1 0v1m1-1v1m1 0v1m1-1v1m1 0v1m1-1v1m1 0v1m1-1v1m1 0v1m1-1v1m1-1v1m1 0v1m1-1v1m1-1v1m1 0v1m1-1v1m1-1v1m2 0v1m1-1v1m1-1v1m1 0v1m1-1v1m1-1v1m1 0v1m1-1v1m1-1v1m1 0v1m1-1v1m1-1v1m2 0v1m1-1v1m1-1v1m1 0v1m1-1v1m1-1v1m1-1v1m2 0v1m1-1v1m1-1v1m1-1v1m1-1v1m2 0v1m1-1v1m1-1v1m1-1v1m1-1v1m1-1v1m1-1v1m1-1v1m1-1v1m1-1v1m1-1v1"/>
<path stroke="#dc484c" d="M156 289v3m1-15v1m0 33v2m1-46v2m0 52v1m1-76v2m0 81v1m1 8v1m1 8v1m1 9v1m1 10v2m1 14v4m1 18v8m1-166v1m1 5v1m2 12v1m1 7v1m2 7v1m1 3v1m1 3v1m1 3v1m1 2v1m1 2v1m1 1v1m1 0v2m1-3v2m1-6v2m1-6v2m1-8v2m1-6v1m1-3v1m1-3v1m1-3v1m2-6v1m1-4v1m1-5v1m1-7v2m1-8v2m1-8v2m1-4v2m0 130v15m1-147v1m0 132v25m1-158v1m0 135v8m0 12v12m1-168v1m0 139v5m0 22v8m1-175v1m0 144v4m1-149v1m0 148v4m1-153v1m0 153v4m1-158v1m0 159v3m1-163v1m0 165v3m1-169v1m0 171v3m1-175v1m1-1v1m1-1v1m1-1v1m1-1v1m1-1v2m1 0v1m3 16v1m1 5v1m3 14v1m1 9v1m1 4v1m1 4v1m1 91v6m3-153v1m1 10v1m1 6v1m1-14v7m124-13v1m1 3v1m1 2v1m1 2v1m1 1v1m2 0v1m1 0v1m2 0v1m2 0v1m2 0v1m1-1v1m1 0v1m1-1v1m1-1v1m1 0v1m1-1v1m1-1v1m1 0v1m1-1v1m1-1v1m1 0v1m1-1v1m1-1v1m1-1v1m1 0v1m1-1v1m1-1v1m1 0v1m1-1v1m1-1v1m1 0v1m1-1v1m1-1v1m1 0v1m1-1v1m1-1v1m2 0v1m1-1v1m1-1v1m1-1v1m1 0v1m1-1v1m1-1v1m1-1v1m1-1v1m2 0v1m1-1v1m1-1v1m1-1v1m1-1v1m1-1v1m1-1v1"/>
<path stroke="#da464d" d="M157 278v1m0 30v2m1-42v1m0 50v1m1-73v3m0 77v1m1 8v1m1 8v1m1 8v2m1 9v2m1 12v4m1 15v7m3-145v1m1 6v1m2 11v1m1 3v1m1 3v1m1 3v1m1 3v1m1 2v1m1 2v1m1 1v2m1 0v1m1-2v2m1-6v3m1-7v2m1-8v2m1-7v1m1-3v1m3-8v1m1-3v1m1-4v1m1-5v1m1-6v1m1-7v1m0 113v14m1-134v1m0 119v24m1-146v1m0 123v6m0 15v11m1-157v2m0 125v5m0 25v10m1-167v2m0 129v4m0 32v7m1-174v2m0 134v3m1-139v2m0 138v4m1-144v2m0 143v3m1-148v2m0 148v3m1-153v2m0 154v3m1-159v2m0 160v3m1-165v2m0 166v3m1-171v2m1-2v2m1-2v2m1-2v2m1-2v2m1-1v1m1 0v1m1 3v1m1 5v1m1 6v1m2 9v1m2 10v1m3 19v1m1 96v5m4-148v1m1 6v1m125-20v1m1 3v1m1 2v1m1 2v1m1 1v1m1 0v1m1-1v1m1 0v1m1 0v1m1-1v1m1 0v1m1-1v1m1 0v1m1-1v1m1-1v1m1 0v1m1-1v1m2 0v1m1-1v1m1-1v1m1 0v1m1-1v1m1-1v1m1 0v1m1-1v1m1-1v1m1-1v1m1 0v1m1-1v1m1-1v1m1 0v1m1-1v1m1-1v1m1 0v1m1-1v1m1-1v1m1 0v1m1-1v1m1-1v1m1 0v1m1-1v1m1-1v1m1-1v1m2 0v1m1-1v1m1-1v1m1-1v1m2 0v1m1-1v1m1-1v1m1-1v1m1-1v1m4 0v1m1-1v1m1-1v1m1-1v1m1-1v1"/>
<path stroke="#d9444d" d="M157 279v1m0 28v1m1-39v1m0 48v1m1-69v2m0 74v1m1 7v2m1 8v1m1 8v1m1 9v2m1 10v4m1 13v6m1-150v1m0 164v8m1-167v1m1 6v1m1 6v1m1 6v1m1 4v1m1 3v1m1 3v1m1 3v1m1 3v1m1 2v1m1 2v2m1 1v1m1 0v2m1-2v2m1-5v2m1-7v2m1-8v2m1-8v2m2-7v1m1-3v1m1-3v1m2-6v1m1-5v1m0 102v3m1-111v1m0 101v19m1-127v1m0 107v5m0 14v9m1-142v2m0 113v4m0 24v8m1-153v1m0 118v4m0 32v8m1-163v1m0 121v3m0 40v7m1-172v1m0 125v3m1-129v1m0 129v4m1-134v1m0 134v3m1-138v1m0 139v3m1-143v1m0 145v2m1-148v1m0 150v3m1-154v1m0 156v3m1-160v1m0 162v3m1-166v1m0 169v2m1-172v1m1-1v1m1-1v1m1-1v1m1-1v1m1 0v1m1 3v1m1 5v1m1 6v1m1 4v1m2 8v1m1 6v1m1 8v1m1 4v1m1 5v1m0 14v17m1 69v4m3-163v1m2 16v1m125-20v1m1 3v1m2 5v1m1 1v1m1 0v1m2 0v1m1 0v1m1-1v1m1 0v1m1-1v1m1 0v1m1-1v1m2 0v1m1-1v1m1 0v1m1-1v1m1-1v1m1-1v1m1 0v1m1-1v1m1-1v1m1 0v1m1-1v1m1-1v1m1-1v1m1 0v1m1-1v1m1-1v1m1 0v1m1-1v1m1-1v1m1 0v1m1-1v1m1-1v1m1 0v1m1-1v1m1-1v1m1 0v1m1-1v1m1-1v1m1-1v1m1 0v1m1-1v1m1-1v1m1-1v1m2 0v1m1-1v1m1-1v1m1-1v1m1-1v1m2 0v1m1-1v1m1-1v1m1-1v1m1-1v1m1-1v1m1-1v1m1-1v1"/>
<path stroke="#d8434e" d="M157 306v2m1-37v1m0 46v1m1-66v2m0 71v1m1 7v1m1 8v2m1 8v1m1 8v2m1 9v3m1 11v6m1 9v12m1-158v1m0 163v2m2-152v2m1 5v1m1 4v1m1 3v1m1 3v1m1 3v1m1 3v1m1 2v2m1 2v1m1 1v2m1 0v3m1-3v3m1-6v3m1-8v3m1-9v2m1-8v2m1-6v2m1-4v1m1-3v1m1-3v1m1-4v1m1-3v1m0 92v8m1-105v1m0 91v10m0 3v9m1-119v2m0 95v4m0 19v7m1-133v2m0 102v3m0 28v7m1-147v2m0 108v3m0 36v8m1-160v1m0 115v2m0 44v8m1-170v1m0 117v3m1-121v1m0 121v3m1-125v1m0 125v3m1-129v1m0 130v3m1-134v1m0 135v3m1-139v1m0 141v3m1-145v1m0 147v2m1-150v1m0 153v2m1-156v1m0 159v2m1-162v1m0 165v3m1-169v1m1-1v1m1-1v1m1-1v1m1-1v1m1 0v1m1 3v1m1 5v1m3 15v1m2 11v1m1 8v1m2 10v2m0 8v4m0 17v7m1 66v3m4-156v1m126-14v1m1 3v1m1 3v1m1 1v1m1 1v1m1 0v1m1 0v1m1-1v1m1 0v1m1-1v1m1 0v1m1-1v1m1 0v1m1-1v1m1 0v1m1-1v1m1-1v1m1 0v1m1-1v1m1-1v1m2 0v1m1-1v1m1-1v1m1 0v1m1-1v1m1-1v1m1-1v1m1 0v1m1-1v1m1-1v1m1 0v1m1-1v1m1-1v1m1 0v1m1-1v1m1-1v1m1 0v1m1-1v1m1-1v1m1 0v1m1-1v1m1-1v1m1-1v1m1 0v1m1-1v1m1-1v1m2 0v1m1-1v1m1-1v1m1-1v1m1-1v1m2 0v1m1-1v1m1-1v1m1-1v1m1-1v1m1-1v1m1-1v1m1-1v1m1-1v1"/>
<path stroke="#d7414e" d="M157 280v1m0 23v2m1-34v1m0 44v1m1-63v2m0 68v1m1 7v1m1 8v1m1 8v2m1 7v2m1 8v3m1 9v5m1-137v1m0 143v8m1 4v14m1-157v1m0 155v3m1-150v1m1 5v1m1 4v1m1 3v1m1 3v2m1 2v1m1 3v1m1 3v1m1 2v1m1 2v2m1 1v2m1-2v3m1-6v5m1-10v4m1-11v3m1-9v2m1-6v1m1-4v1m1-3v1m2-6v1m0 87v9m1-16v9m0 8v8m1-112v1m0 85v5m0 22v6m1-123v1m0 90v4m0 30v7m1-138v1m0 98v3m0 38v7m1-152v1m0 105v2m0 47v8m1-167v2m0 110v3m0 54v1m1-170v1m0 114v2m1-117v1m0 117v3m1-121v1m0 121v3m1-125v1m0 126v3m1-130v1m0 131v3m1-135v1m0 137v3m1-141v1m0 143v3m1-147v1m0 149v3m1-153v1m0 156v2m1-159v1m0 162v2m1-165v1m1-1v1m1-1v1m1-1v1m1-1v1m1 0v1m1 3v1m2 11v1m1 4v1m2 8v1m1 7v1m2 12v1m1 7v8m0 28v9m1 60v4m3-171v1m1 9v1m1 6v1m125-21v1m1 3v1m1 3v1m1 1v1m1 1v1m1 0v1m1 0v1m1-1v1m1 0v1m1-1v1m1 0v1m1-1v1m1 0v1m1-1v1m1 0v1m1-1v1m1-1v1m1 0v1m1-1v1m1-1v1m1 0v1m1-1v1m1-1v1m1-1v1m1 0v1m1-1v1m1-1v1m1-1v1m1 0v1m1-1v1m1-1v1m1 0v1m1-1v1m1-1v1m1 0v1m1-1v1m1-1v1m1 0v1m1-1v1m1-1v1m1 0v1m1-1v1m1-1v1m1-1v1m1 0v1m1-1v1m1-1v1m1 0v1m1-1v1m1-1v1m1-1v1m1-1v1m2 0v1m1-1v1m1-1v1m1-1v1m1-1v1m1-1v1m1-1v1m1-1v1m1-1v1m1-1v1"/>
<path stroke="#d63f4f" d="M157 281v2m0 19v2m1-31v1m0 42v1m1-60v2m0 65v1m1 7v1m1 8v1m1 8v1m1 7v2m1 7v3m1 7v5m1 6v6m1-137v1m0 139v9m1-142v1m0 141v13m1-146v1m0 142v6m1-143v1m1 4v1m1 3v2m1 3v1m1 2v2m1 2v1m1 3v1m1 2v2m1 2v2m1 1v2m1-1v3m1-4v4m1-10v4m1-12v4m1-11v3m1-8v2m1-5v1m1-3v1m1-4v1m0 84v5m1-92v1m0 76v10m0 9v6m1-105v1m0 77v5m0 25v5m1-116v1m0 81v3m0 33v6m1-128v1m0 86v3m0 41v6m1-143v2m0 93v3m0 48v7m1-158v2m0 101v2m0 57v3m1-168v1m0 107v2m1-111v1m0 111v2m1-114v1m0 114v2m1-117v1m0 117v3m1-121v1m0 122v3m1-126v1m0 128v2m1-131v1m0 134v2m1-137v1m0 140v2m1-143v1m0 146v2m1-149v1m0 152v3m1-156v1m0 159v2m1-162v1m0 165v3m1-169v1m1-1v1m1-1v1m1-1v1m1 0v1m1 3v1m1 4v1m1 6v1m2 8v1m1 4v1m1 7v1m1 7v1m1 4v1m0 21v14m1 16v26m1 38v1m4-163v1m1 6v1m125-21v1m2 7v1m1 1v1m1 1v1m1 0v1m1 0v1m1-1v1m1 0v1m1-1v1m1 0v1m1-1v1m1 0v1m1-1v1m1 0v1m1-1v1m1-1v1m1 0v1m1-1v1m1-1v1m1 0v1m1-1v1m1-1v1m1-1v1m1 0v1m1-1v1m1-1v1m1-1v1m1 0v1m1-1v1m1-1v1m1 0v1m1-1v1m1-1v1m1 0v1m1-1v1m1-1v1m1 0v1m1-1v1m1-1v1m1 0v1m1-1v1m1-1v1m1-1v1m1 0v1m1-1v1m1-1v1m1 0v1m1-1v1m1-1v1m1-1v1m1-1v1m1 0v1m1-1v1m1-1v1m1-1v1m1-1v1m1-1v1m1-1v1"/>
<path stroke="#d43d4f" d="M157 283v1m0 16v2m1-28v1m0 40v1m1-57v2m0 62v1m1 7v1m1 8v1m1 7v2m1 7v1m1 7v2m1 6v4m1-126v1m0 130v6m1-130v1m0 132v6m1-132v1m0 132v8m1-132v1m0 131v10m1-136v2m0 134v6m1-137v1m1 4v1m1 3v1m1 3v1m1 2v1m1 3v1m1 3v1m1 3v1m1 2v1m1 1v1m1-1v3m1-9v10m1-18v5m1-13v4m1-10v2m1-6v2m1-4v1m1-4v1m0 69v14m0 5v7m1-98v1m0 69v6m0 25v4m1-108v1m0 72v4m0 35v4m1-119v1m0 77v3m0 42v4m1-131v2m0 82v2m0 50v5m1-146v2m0 89v2m0 58v6m1-162v1m0 97v3m1-105v2m0 103v2m1-108v2m0 106v3m1-111v2m0 110v2m1-114v2m0 113v2m1-117v2m0 118v2m1-122v2m0 123v3m1-128v2m0 129v3m1-134v2m0 135v3m1-140v2m0 142v2m1-146v2m0 148v2m1-152v2m0 155v2m1-159v2m0 161v2m1-165v2m1-2v2m1-2v2m1-2v2m1-1v2m1 2v1m1 4v1m2 10v1m3 17v1m2 12v1m0 17v3m0 14v6m1 36v14m4-148v1m2 15v1m126-16v1m1 2v1m2 3v1m1 0v1m1 0v1m1-1v1m1 0v1m2 0v1m1-1v1m1 0v1m1-1v1m1 0v1m1-1v1m1-1v1m1 0v1m1-1v1m1-1v1m1 0v1m1-1v1m1-1v1m1-1v1m1 0v1m1-1v1m1-1v1m1-1v1m1 0v1m1-1v1m1-1v1m1 0v1m1-1v1m1-1v1m1 0v1m1-1v1m1-1v1m1 0v1m1-1v1m1-1v1m1-1v2m1-1v1m1-1v1m1-1v1m1 0v1m1-1v1m1-1v1m1-1v2m1-1v1m1-1v1m1-1v1m1-1v1m1 0v1m1-1v1m1-1v1m1-1v1m1-1v1m1-1v1m1-1v1m1 0v1m1-1v1m1-1v1m1-1v1"/>
<path stroke="#d23a4e" d="M157 284v1m0 12v3m1-25v1m0 38v1m1-54v2m0 59v1m1 7v1m1 7v2m1 7v1m1 7v2m1 6v2m1 5v3m1-121v1m0 124v5m1 2v7m1-125v1m0 124v7m1-123v1m0 122v8m1-124v1m0 123v10m1-130v2m0 127v7m1-131v1m1 3v1m1 3v1m1 2v2m1 2v2m1 2v2m1 2v2m1 1v2m1 0v2m1 0v2m1-1v3m1-16v17m1-26v4m1-12v4m1-8v1m1-4v1m0 60v26m1-90v1m0 60v8m0 26v3m1-100v1m0 63v5m0 35v3m1-110v1m0 68v3m0 43v3m1-121v1m0 73v3m0 49v4m1-133v1m0 79v2m0 57v4m1-148v1m0 86v2m0 66v1m1-162v2m0 93v2m1-100v1m0 100v2m1-104v1m0 103v2m1-106v1m0 106v3m1-110v1m0 110v2m1-113v1m0 115v2m1-118v1m0 120v2m1-123v1m0 126v2m1-129v1m0 132v2m1-135v1m0 139v2m1-142v1m0 145v2m1-148v1m0 152v2m1-155v1m0 159v1m1-161v1m1-1v1m1-1v1m1-1v1m1 0v1m1 2v1m1 4v1m1 5v1m2 8v1m1 4v1m1 8v1m1 6v1m0 28v8m1-31v1m0 14v2m0 23v5m1 45v7m4-156v1m1 9v1m1 5v1m126-16v1m1 2v1m1 2v1m1 0v1m1 0v1m1 0v1m1-1v1m1 0v1m1 0v1m1-1v1m2 0v1m1-1v1m1 0v1m1-1v1m1-1v1m1 0v1m1-1v1m1-1v1m1 0v1m1-1v1m1-1v1m1-1v1m1 0v1m1-1v1m1-1v1m1-1v1m1 0v1m1-1v1m1-1v1m1 0v1m1-1v1m1-1v1m1-1v2m1-1v1m1-1v1m1-1v2m1-1v1m1-1v1m1-1v1m1 0v1m1-1v1m1-1v1m1 0v1m1-1v1m1-1v1m1-1v1m1 0v1m1-1v1m1-1v1m1-1v1m1 0v1m1-1v1m1-1v1m1-1v1m1-1v1m1-1v1m2 0v1m1-1v1m1-1v1m1-1v1"/>
<path stroke="#d0384e" d="M157 285v3m0 5v4m1-21v1m0 35v2m1-51v2m0 56v1m1 7v1m1 7v1m1 7v2m1 6v2m1 6v2m1 4v3m1 3v4m1-118v1m0 119v5m1-117v1m0 117v6m1-115v2m0 113v7m1-115v1m0 114v8m1-118v1m0 117v9m1-123v2m0 121v7m1-126v2m1 2v1m1 3v1m1 3v1m1 3v2m1 2v1m1 2v1m1 1v1m1 1v2m1 0v2m1-1v3m1-25v7m0 6v15m1-36v4m0 24v11m1-46v4m0 38v35m1-80v1m0 48v11m0 26v3m1-92v1m0 54v5m0 37v3m1-102v1m0 59v3m0 43v3m1-112v1m0 64v3m0 49v3m1-123v1m0 70v2m0 56v3m1-135v1m0 75v3m0 63v4m1-151v2m0 82v2m1-91v2m0 89v2m1-97v2m0 96v2m1-101v2m0 99v2m1-103v2m0 103v1m1-106v2m0 106v2m1-110v2m0 111v2m1-115v2m0 116v2m1-120v2m0 122v2m1-126v2m0 129v1m1-132v2m0 135v2m1-139v2m0 142v1m1-145v2m0 148v2m1-152v2m0 155v2m1-159v2m0 162v1m1-165v2m1-2v2m1-2v2m1-1v1m1 2v1m1 4v1m1 5v1m1 3v1m2 9v1m1 8v1m1 6v1m0 24v3m0 8v7m1-37v1m0 10v3m0 30v6m1 46v6m5-153v1m127-10v1m1 2v1m1 2v1m2 1v1m1 0v1m2 0v1m1 0v1m1-1v1m1 0v1m1-1v1m1-1v1m1 0v1m1-1v1m1-1v1m1 0v1m1-1v1m1-1v1m1-1v2m1-1v1m1-1v1m1-1v1m1-1v2m1-1v1m1-1v1m1-1v1m1 0v1m1-1v1m1-1v1m1-1v2m1-1v1m1-1v1m1-1v1m1 0v1m1-1v1m1-1v1m1 0v1m1-1v1m1-1v1m1 0v1m1-1v1m1-1v1m1-1v2m1-1v1m1-1v1m1-1v1m1 0v1m1-1v1m1-1v1m1-1v1m1-1v2m1-1v1m1-1v1m1-1v1m1-1v1m1-1v1m1 0v1m1-1v1m1-1v1m1-1v1m1-1v1"/>
<path stroke="#cd364d" d="M157 288v5m1-16v1m0 32v2m1-47v2m0 53v1m1 7v1m1 6v2m1 7v1m1 6v2m1 5v3m1-115v1m0 117v3m1-114v1m0 115v4m1-113v1m0 113v5m1-111v2m0 109v6m1-107v1m0 106v6m1-107v1m0 106v7m1-109v2m0 107v8m1-112v1m0 111v9m1-117v1m0 116v7m1-121v2m1 2v1m1 3v2m1 3v1m1 2v2m1 1v1m1 1v2m1 1v1m1 1v2m1 0v3m1-21v6m0 15v4m1-36v7m0 12v5m0 11v11m0 7v5m1-65v4m0 28v6m0 35v4m1-83v2m0 41v5m0 40v3m1-94v1m0 49v4m0 45v2m1-103v1m0 55v3m0 49v3m1-114v1m0 61v2m0 55v3m1-125v1m0 66v3m0 61v3m1-137v1m0 72v2m0 70v4m1-153v1m0 79v2m1-87v2m0 85v2m1-93v2m0 92v2m1-97v1m0 96v2m1-99v1m0 100v2m1-103v1m0 104v1m1-106v1m0 108v2m1-111v1m0 114v1m1-116v1m0 120v1m1-122v1m0 126v2m1-129v1m0 133v1m1-135v1m0 139v2m1-142v1m0 146v1m1-148v1m0 153v1m1-155v1m0 160v1m1-162v1m1-1v1m1-1v1m1-1v2m1 1v1m1 4v1m2 9v1m1 3v1m2 14v1m0 33v10m1-15v2m0 18v4m1-40v3m0 4v3m0 39v6m1 46v5m4-168v1m2 15v1m126-17v1m2 5v1m1 1v1m2 0v1m1 0v1m1-1v1m1 0v1m1-1v1m1 0v1m1-1v1m1-1v1m1 0v1m1-1v1m1-1v1m1 0v1m1-1v1m1-1v1m1-1v1m1 0v1m1-1v1m1-1v1m1-1v1m1 0v1m1-1v1m1-1v1m1-1v2m1-1v1m1-1v1m1-1v1m1 0v1m1-1v1m1-1v1m1-1v2m1-1v1m1-1v1m1-1v2m1-1v1m1-1v1m1-1v2m1-1v1m1-1v1m1-1v1m1 0v1m1-1v1m1-1v1m1-1v2m1-1v1m1-1v1m1-1v1m1-1v1m1 0v1m1-1v1m1-1v1m1-1v1m1-1v1m1-1v2m1-1v1m1-1v1m1-1v1m1-1v1"/>
<path stroke="#cb334d" d="M158 278v1m0 29v2m1-43v2m0 50v1m1 6v2m1 6v1m1 7v2m1 6v1m1 5v2m1-111v1m0 114v2m1-110v1m0 111v3m1-108v1m0 108v4m1-104v1m0 102v6m1-100v2m0 97v7m1-100v2m0 97v7m1-100v2m0 98v7m1-103v2m0 101v8m1-107v1m0 105v10m1-112v1m0 110v8m1-116v2m1 3v2m1 2v2m1 2v1m1 1v2m1 1v2m1 0v2m1 1v2m1 1v3m1 1v7m1-36v12m0 27v7m0 5v6m1-67v7m0 17v4m0 45v3m1-84v4m0 33v4m0 48v2m1-95v2m0 43v4m0 51v2m1-104v1m0 50v4m0 55v2m1-115v1m0 57v3m0 60v3m1-127v1m0 63v2m0 67v3m1-139v1m0 69v2m1-76v2m0 74v3m1-83v2m0 81v2m1-89v2m0 88v2m1-94v2m0 93v1m1-96v2m0 96v2m1-100v2m0 100v2m1-104v2m0 105v1m1-108v2m0 110v2m1-114v2m0 116v2m1-120v2m0 123v1m1-126v2m0 129v2m1-133v2m0 136v1m1-139v2m0 142v2m1-146v2m0 149v2m1-153v2m0 156v2m1-160v2m1-2v2m1-2v2m1-1v1m1 1v1m1 4v1m1 4v1m3 13v1m0 44v6m1-41v1m0 29v3m0 10v5m1-42v1m0 19v2m0 24v4m1-41v4m0 48v8m1 43v5m5-164v1m1 5v1m126-17v1m1 3v1m1 1v1m1 1v1m1 0v1m1-1v1m1 0v1m1-1v1m1 0v1m1-1v1m1 0v1m1-1v1m1-1v1m1 0v1m1-1v1m1-1v1m1 0v1m1-1v1m1-1v1m1-1v1m1 0v1m1-1v1m1-1v1m1-1v1m1 0v1m1-1v1m1-1v1m1-1v1m1 0v1m1-1v1m1-1v1m1-1v2m1-1v1m1-1v1m1-1v1m1 0v1m1-1v1m1-1v1m1-1v2m1-1v1m1-1v1m1-1v2m1-1v1m1-1v1m1-1v2m1-1v1m1-1v1m1-1v1m1-1v2m1-1v1m1-1v1m1-1v1m1-1v2m1-1v1m1-1v1m1-1v1m1-1v1m1-1v1m1-1v2m1-1v1m1-1v1m1-1v1"/>
<path stroke="#c9314c" d="M158 279v1m0 26v2m1-39v2m0 47v1m1-73v2m0 77v1m1 7v1m1 7v1m1 6v2m1 4v2m1-108v1m0 110v3m1-107v1m0 107v3m1-104v1m0 103v4m1-99v2m0 96v4m1-92v1m0 91v5m1-91v2m0 89v6m1-91v1m0 90v7m1-94v1m0 92v8m1-98v2m0 94v9m1-101v2m0 98v10m1-106v2m0 103v9m1-109v2m1 2v1m1 2v2m1 1v1m1 2v1m1 1v2m1 1v3m1 1v6m1 2v15m1 6v3m1-63v17m0 52v2m1-82v7m0 22v4m0 54v2m1-95v2m0 37v4m0 57v3m1-106v1m0 45v4m0 61v3m1-117v1m0 52v4m0 66v2m1-128v1m0 59v3m0 72v4m1-142v1m0 65v3m1-72v1m0 71v2m1-78v2m0 77v2m1-85v2m0 84v2m1-90v2m0 89v2m1-93v2m0 93v1m1-96v2m0 97v1m1-100v2m0 101v2m1-105v2m0 107v1m1-110v2m0 113v1m1-116v2m0 119v2m1-123v2m0 125v2m1-129v2m0 132v2m1-136v2m0 139v1m1-142v2m0 146v1m1-149v2m0 153v1m1-156v2m1-2v2m1-2v2m1-2v2m1 0v2m1 3v1m1 4v1m1 3v1m1 3v1m0 48v8m1-51v2m0 38v4m0 6v6m1-46v1m0 26v2m0 18v5m1-46v2m0 15v2m0 30v4m1 15v19m1 29v2m4-176v1m1 8v1m1 5v1m127-13v1m1 1v1m1 1v1m1 0v1m1-1v1m1 0v1m1-1v1m1 0v1m1-1v1m1 0v1m1-1v1m1-1v1m1 0v1m1-1v1m1-1v1m1 0v1m1-1v1m1-1v1m1-1v1m1-1v2m1-1v1m1-1v1m1-1v1m1-1v2m1-1v1m1-1v1m1-1v1m1-1v2m1-1v1m1-1v1m1-1v1m1 0v1m1-1v1m1-1v1m1-1v2m1-1v1m1-1v1m1-1v1m1 0v1m1-1v1m1-1v1m1-1v2m1-1v1m1-1v1m1-1v2m1-1v1m1-1v1m1-1v1m1-1v2m1-1v1m1-1v1m1-1v1m1-1v2m1-1v1m1-1v1m1-1v1m1-1v1m1-1v1m1-1v2m1-1v1m1-1v1"/>
<path stroke="#c72e4c" d="M158 280v1m0 23v2m1-35v1m0 45v1m1-70v3m0 73v1m1 6v2m1 6v2m1 5v2m1 4v2m1-105v1m0 107v2m1-103v1m0 103v3m1-100v1m0 99v3m1-93v2m0 91v3m1-87v2m0 85v4m1-84v2m0 81v6m1-84v2m0 80v8m1-86v2m0 82v8m1-88v2m0 84v8m1-90v1m0 88v9m1-94v2m0 90v11m1-98v2m0 94v11m1-104v2m1 2v1m1 1v2m1 1v3m1 0v3m1 1v5m1 2v11m1 6v4m1 5v3m1 5v2m1-77v22m0 60v2m1-95v5m0 28v4m0 64v2m1-107v2m0 40v3m0 68v2m1-118v1m0 48v3m0 72v4m1-131v2m0 54v3m0 79v4m1-145v2m0 60v3m1-68v2m0 66v3m1-74v1m0 73v3m1-81v2m0 80v2m1-86v2m0 85v2m1-89v2m0 89v2m1-93v2m0 93v2m1-97v2m0 98v1m1-101v2m0 103v2m1-107v2m0 109v2m1-113v2m0 115v2m1-119v2m0 122v1m1-125v2m0 129v1m1-132v2m0 135v2m1-139v2m0 142v2m1-146v2m0 149v2m1-153v2m1-2v2m1-2v2m1-2v2m1 0v2m1 2v2m2 57v13m1-59v1m0 44v3m0 8v6m1-55v1m0 35v2m0 16v5m1-50v1m0 24v1m0 25v3m1-47v1m0 12v2m0 36v5m1 29v10m7-141v1m127-13v1m2 3v1m1 0v1m1-1v1m1 0v1m1-1v1m1 0v1m1-1v1m1 0v1m1-1v1m1-1v1m1 0v1m1-1v1m1-1v1m1-1v2m1-1v1m1-1v1m1-1v1m1-1v1m1 0v1m1-1v1m1-1v1m1-1v1m1-1v2m1-1v1m1-1v1m1-1v1m1 0v1m1-1v1m1-1v1m1-1v2m1-1v1m1-1v1m1-1v1m1-1v2m1-1v1m1-1v1m1-1v2m1-1v1m1-1v1m1-1v1m1-1v2m1-1v1m1-1v1m1-1v2m1-2v2m1-1v1m1-1v1m1-1v2m1-2v2m1-1v1m1-1v1m1-1v2m1-2v2m1-1v1m1-1v1m1-1v1m1-1v1m1-1v2m1-2v2"/>
<path stroke="#c52c4b" d="M158 281v2m0 18v3m1-32v2m0 41v2m1-66v3m0 69v1m1 6v1m1 6v2m1 5v2m1 4v2m1-102v1m0 103v3m1-100v1m0 99v3m1-96v2m0 94v3m1-88v2m0 86v3m1-82v2m0 79v4m1-78v2m0 75v4m1-76v2m0 73v5m1-76v2m0 72v8m1-78v2m0 73v9m1-81v3m0 75v10m1-83v3m0 77v10m1-85v2m0 80v12m1-91v2m0 85v15m1-99v2m0 95v2m1-96v3m1 1v2m1 1v5m1 1v8m1 5v5m1 5v3m1 5v2m1 5v3m1 4v3m1-93v28m0 70v3m1-108v3m0 33v4m0 73v3m1-120v2m0 42v4m0 79v3m1-132v1m0 49v4m0 86v1m1-144v1m0 56v3m1-63v1m0 63v2m1-70v2m0 69v2m1-76v2m0 76v2m1-82v3m0 80v2m1-85v2m0 85v2m1-89v2m0 89v2m1-93v2m0 94v2m1-98v2m0 100v1m1-103v2m0 106v1m1-109v2m0 112v1m1-115v2m0 118v2m1-122v2m0 125v2m1-129v2m0 132v1m1-135v2m0 139v1m1-142v2m0 146v1m1-149v2m0 153v1m1-156v2m1-2v2m1-2v3m1-1v2m1 2v1m0 57v9m1-64v1m0 52v16m1-65v1m0 46v3m0 13v5m1-63v1m0 40v3m0 17v5m1-59v2m0 31v2m0 23v3m1-52v1m0 21v2m0 29v4m1-50v2m0 7v3m0 43v4m1 35v8m6-155v1m1 4v1m127-13v1m1 2v1m1 0v1m1 0v1m1-1v1m1 0v1m1-1v1m1 0v1m1-1v1m1 0v1m1-1v1m1-1v1m1 0v1m1-1v1m1-1v1m1-1v1m1 0v1m1-1v1m1-1v1m1-1v1m1-1v2m1-1v1m1-1v1m1-1v1m1-1v1m1 0v1m1-1v1m1-1v1m1-1v2m1-1v1m1-1v1m1-1v1m1-1v2m1-1v1m1-1v1m1-1v1m1-1v2m1-1v1m1-1v1m1-1v2m1-1v1m1-1v1m1-1v1m1-1v2m1-1v1m1-1v1m1-1v1m1-1v2m1-1v1m1-1v1m1-1v1m1-1v2m1-2v2m1-1v1m1-1v1m1-1v2m1-2v2m1-2v2m1-1v1m1-1v1m1-1v1"/>
<path stroke="#c32a4b" d="M158 283v2m0 13v3m1-27v1m0 39v1m1-61v4m0 64v1m1 6v1m1 6v1m1 6v1m1 4v2m1-99v1m0 100v2m1-96v1m0 96v2m1-91v2m0 89v3m1-83v3m0 80v3m1-77v2m0 74v3m1-72v2m0 69v4m1-70v2m0 67v4m1-69v2m0 65v5m1-68v2m0 64v7m1-69v3m0 62v10m1-70v2m0 63v12m1-73v2m0 65v13m1-77v2m0 69v14m1-82v3m0 73v19m1-91v3m0 79v11m1-90v4m1 2v5m1 4v5m1 5v3m1 5v3m1 4v4m1 4v3m1 4v3m1 5v3m1-108v33m0 80v4m1-122v2m0 36v4m0 86v5m1-136v2m0 43v4m1-52v2m0 50v4m1-59v2m0 58v3m1-66v2m0 65v2m1-72v3m0 70v3m1-77v3m0 75v2m1-81v3m0 80v2m1-85v3m0 85v1m1-89v3m0 90v1m1-94v3m0 95v2m1-100v3m0 101v2m1-106v3m0 107v2m1-112v3m0 114v1m1-118v3m0 120v2m1-125v3m0 127v2m1-132v3m0 134v2m1-139v3m0 141v2m1-146v3m0 148v2m1-153v3m1-3v3m1-2v2m0 60v6m1-67v2m0 56v15m1-70v1m0 52v4m0 9v7m1-70v1m0 48v3m0 16v5m1-69v1m0 43v2m0 21v5m1-67v1m0 37v2m0 25v4m1-61v1m0 28v2m0 28v4m1-55v2m0 17v2m0 35v3m1-51v7m0 50v6m1 37v7m6-163v1m1 4v1m127-13v1m1 2v1m1 0v1m1 0v1m2 0v1m1-1v1m1 0v1m1-1v1m1 0v1m1-1v1m1-1v1m1-1v2m1-1v1m1-1v1m1-1v1m1 0v1m1-1v1m1-1v1m1-1v1m1-1v1m1 0v1m1-1v1m1-1v1m1-1v1m1-1v2m1-1v1m1-1v1m1-1v1m1-1v2m1-1v1m1-1v1m1-1v1m1-1v2m1-1v1m1-1v1m1-1v1m1-1v2m1-1v1m1-1v1m1-1v2m1-2v2m1-1v1m1-1v1m1-1v2m1-2v2m1-1v1m1-1v1m1-1v2m1-2v2m1-1v1m1-1v1m1-1v1m1-1v2m1-2v2m1-1v1m1-1v1m1-1v1m1-1v2m1-2v2m1-2v2"/>
<path stroke="#c1274a" d="M158 285v3m0 5v5m1-23v2m0 35v2m1-56v3m0 60v1m1 5v2m1 5v2m1 5v2m1 3v2m1-96v2m0 95v3m1-93v2m0 91v3m1-87v3m0 83v3m1-77v3m0 74v3m1-72v3m0 68v3m1-67v2m0 64v3m1-64v2m0 61v4m1-63v2m0 59v4m1-61v3m0 56v5m1-59v3m0 53v6m1-58v3m0 51v9m1-59v2m0 50v13m1-62v3m0 48v18m1-65v3m0 49v21m1-69v3m0 53v23m1-75v5m0 55v26m1-79v5m0 57v17m1-70v4m1 4v5m1 3v5m1 3v5m1 2v6m1 1v7m1 1v7m1 2v9m1-129v5m0 11v20m0 95v4m1-138v2m0 37v4m1-46v1m0 46v3m1-53v2m0 52v4m1-61v2m0 60v3m1-67v2m0 66v2m1-71v2m0 71v2m1-76v3m0 75v2m1-80v3m0 80v2m1-85v3m0 85v2m1-90v3m0 90v2m1-95v3m0 96v2m1-101v3m0 102v2m1-107v3m0 109v2m1-114v3m0 116v1m1-120v3m0 122v2m1-127v3m0 129v2m1-134v3m0 136v2m1-141v3m0 144v1m1-148v3m0 55v8m1-66v3m0 52v17m1-72v3m0 50v7m0 6v9m1-74v3m0 48v5m0 15v6m1-75v2m0 47v3m0 20v6m1-75v1m0 44v3m0 24v5m1-73v1m0 40v2m0 28v4m1-70v1m0 34v2m0 31v4m1-64v2m0 25v1m0 34v4m1-57v2m0 13v2m0 40v4m1 8v15m1 29v6m7-165v1m128-10v1m2 1v1m1 0v1m1-1v1m1-1v1m1 0v1m1-1v1m1-1v2m1-1v1m1-1v1m1-1v1m1 0v1m1-1v1m1-1v1m1-1v2m1-1v1m1-1v1m1-1v1m1-1v1m1-1v2m1-1v1m1-1v1m1-1v1m1-1v1m1-1v2m1-1v1m1-1v1m1-1v1m1-1v2m1-1v1m1-1v1m1-1v1m1-1v2m1-1v1m1-1v1m1-1v1m1-1v2m1-1v1m1-1v1m1-1v1m1-1v2m1-1v1m1-1v1m1-1v1m1-1v2m1-1v1m1-1v1m1-1v1m1-1v2m1-2v2m1-1v1m1-1v1m1-1v1m1-1v2m1-2v2m1-2v2m1-1v1m1-1v1m1-1v1"/>
<path stroke="#be254a" d="M158 288v5m1-16v1m0 31v3m1-51v4m0 54v2m1 5v1m1 5v2m1 4v3m1-95v1m0 96v3m1-92v1m0 91v3m1-88v2m0 86v3m1-81v3m0 77v3m1-71v3m0 67v4m1-66v3m0 62v3m1-62v3m0 57v4m1-59v3m0 54v4m1-57v3m0 52v4m1-54v3m0 48v5m1-51v3m0 45v5m1-49v2m0 43v6m1-48v3m0 40v7m1-46v3m0 37v8m1-44v3m0 33v13m1-45v4m0 28v21m1-47v5m0 21v29m1-48v6m0 12v39m1-49v66m1-57v57m1-49v49m1-41v41m1-33v33m1-25v25m1-17v17m1-6v6m1-130v11m1-17v3m0 12v22m1-41v3m0 19v24m1-48v2m0 24v13m0 10v3m1-55v2m0 28v12m0 14v4m1-62v3m0 34v7m0 19v3m1-67v4m0 40v1m0 23v3m1-71v4m0 69v2m1-75v4m0 73v3m1-80v4m0 78v3m1-85v4m0 84v2m1-90v4m0 90v2m1-96v4m0 96v2m1-102v4m0 103v2m1-109v4m0 109v3m1-116v4m0 41v1m0 74v2m1-122v4m0 41v5m0 77v2m1-129v4m0 41v20m0 69v2m1-136v4m0 41v25m0 72v2m1-144v4m0 41v10m0 8v11m1-74v4m0 41v7m0 17v8m1-77v4m0 41v5m0 22v7m1-78v3m0 41v4m0 26v6m1-79v2m0 41v4m0 29v5m1-79v2m0 39v3m0 32v5m1-77v1m0 36v3m0 34v5m1-74v2m0 30v2m0 37v4m1-66v3m0 19v3m0 39v4m1-59v3m0 7v3m0 46v5m1 18v15m7-150v1m1 3v1m128-10v1m1 1v1m1-1v1m1 0v1m1-1v1m1-1v1m1 0v1m1-1v1m1-1v1m1 0v1m1-1v1m1-1v1m1 0v1m1-1v1m1-1v1m1-1v1m1-1v2m1-1v1m1-1v1m1-1v1m1-1v1m1-1v2m1-1v1m1-1v1m1-1v1m1-1v1m1-1v2m1-1v1m1-1v1m1-1v1m1-1v2m1-1v1m1-1v1m1-1v1m1-1v2m1-2v2m1-1v1m1-1v1m1-1v2m1-2v2m1-1v1m1-1v1m1-1v2m1-2v2m1-1v1m1-1v1m1-1v2m1-2v2m1-1v1m1-1v1m1-1v1m1-1v2m1-2v2m1-2v2m1-1v1m1-1v1m1-1v1m1-1v2m1-2v2m1-2v2"/>
<path stroke="#bc2249" d="M159 278v2m0 26v3m1-44v5m0 48v1m1 5v2m1 4v2m1 4v2m1-91v2m0 91v3m1-88v3m0 85v3m1-83v2m0 81v3m1-75v6m0 68v3m1-65v5m0 59v3m1-59v4m0 54v4m1-56v3m0 51v3m1-52v3m0 48v3m1-50v4m0 44v4m1-47v4m0 40v4m1-43v3m0 37v5m1-42v3m0 35v5m1-39v3m0 32v5m1-36v3m0 28v6m1-33v4m0 22v7m1-28v6m0 13v9m1-21v21m1-13v12m10-77v12m1-16v4m0 7v8m1-22v3m0 13v8m0 13v10m1-50v4m0 16v8m0 12v14m1-55v4m0 18v12m0 7v6m0 9v4m1-60v4m0 19v17m0 1v6m0 13v4m1-64v4m0 19v24m0 18v4m1-69v4m0 20v24m0 22v3m1-73v4m0 22v22m0 27v3m1-78v4m0 23v22m0 32v3m1-84v4m0 26v20m0 37v3m1-90v4m0 31v16m0 42v3m1-96v4m0 32v19m0 45v3m1-103v4m0 33v25m0 44v3m1-109v4m0 33v4m0 1v25m0 46v3m1-116v4m0 33v4m0 5v24m0 50v3m1-123v4m0 34v3m0 20v13m0 53v3m1-130v4m0 34v3m0 25v10m0 59v3m1-138v4m0 34v3m0 29v9m0 63v2m1-144v4m0 34v3m0 32v8m1-81v4m0 34v3m0 34v8m1-83v4m0 34v3m0 36v8m1-85v4m0 34v3m0 38v7m1-84v3m0 33v3m0 40v6m1-82v2m0 31v3m0 42v5m1-77v3m0 24v3m0 43v5m1-68v3m0 14v2m0 46v5m1-61v7m0 54v6m1 27v16m7-167v1m1 3v1m128-10v1m1 1v1m1-1v1m1 0v1m1-1v1m2 0v1m1-1v1m1-1v1m1 0v1m1-1v1m1-1v1m1-1v2m1-1v1m1-1v1m1-1v1m1-1v1m1-1v2m1-1v1m1-1v1m1-1v1m1-1v1m1-1v2m1-2v2m1-1v1m1-1v1m1-1v1m1-1v2m1-2v2m1-1v1m1-1v1m1-1v2m1-2v2m1-1v1m1-1v1m1-1v1m1-1v2m1-1v1m1-1v1m1-1v1m1-1v2m1-2v2m1-1v1m1-1v1m1-1v2m1-2v2m1-1v1m1-1v1m1-1v2m1-2v2m1-2v2m1-1v1m1-1v1m1-1v1m1-1v2m1-2v2m1-2v2m1-2v2m1-1v1m1-1v1"/>
<path stroke="#ba2049" d="M159 280v2m0 20v4m1-36v3m0 43v2m1-72v6m0 70v2m1 4v2m1 2v4m1-87v3m0 84v4m1-82v3m0 79v3m1-78v7m0 70v4m1-66v9m0 56v3m1-57v6m0 50v3m1-52v5m0 46v3m1-49v5m0 42v4m1-46v6m0 38v4m1-43v5m0 35v4m1-39v4m0 32v4m1-36v4m0 29v4m1-34v5m0 25v5m1-31v5m0 20v7m1-28v7m0 13v8m1-23v22m1-15v13m13-69v7m1-11v13m1-15v16m1-17v18m0 25v9m1-52v19m0 24v13m1-56v19m0 24v18m1-61v20m0 24v22m1-66v22m0 22v27m1-71v23m0 22v32m1-77v26m0 20v37m1-83v31m0 16v42m1-89v32m0 19v45m1-96v33m0 25v44m1-102v33m0 30v46m1-109v33m0 33v50m1-116v34m0 36v53m1-123v34m0 38v59m1-131v34m0 41v63m1-138v34m0 43v63m1-140v34m0 45v61m1-140v34m0 47v59m1-140v34m0 48v58m1-139v33m0 49v57m1-137v31m0 50v56m1-130v24m0 51v55m1-120v14m0 53v53m1-47v47m1-4v4m8-168v1m129-8v1m2 0v1m1-1v1m1 0v1m1-1v1m1-1v1m1-1v1m1 0v1m1-1v1m1-1v1m1-1v1m1 0v1m1-1v1m1-1v1m1-1v1m1-1v1m1-1v2m1-1v1m1-1v1m1-1v1m1-1v1m1-1v1m1-1v2m1-1v1m1-1v1m1-1v1m1-1v1m1-1v2m1-1v1m1-1v1m1-1v1m1-1v2m1-2v2m1-1v1m1-1v1m1-1v2m1-2v2m1-2v2m1-1v1m1-1v1m1-1v2m1-2v2m1-1v1m1-1v1m1-1v2m1-2v2m1-2v2m1-1v1m1-1v1m1-1v2m1-2v2m1-2v2m1-2v2m1-2v2m1-1v1m1-1v1m1-1v2m1-2v2"/>
<path stroke="#b81e48" d="M159 282v4m0 9v7m1-29v3m0 37v3m1-64v6m0 62v2m1 3v3m1 0v4m1-80v5m0 75v4m1-75v6m0 68v5m1-68v17m0 49v4m1-53v9m0 43v4m1-48v8m0 38v4m1-44v7m0 35v4m1-41v7m0 31v4m1-36v6m0 28v4m1-34v6m0 24v5m1-31v6m0 21v5m1-28v7m0 16v6m1-25v9m0 8v8m1-21v20m1-14v13m49-103v1m1 2v1m129-8v1m1 0v1m1-1v1m1-1v1m1 0v1m1-1v1m1-1v1m1-1v1m1 0v1m1-1v1m1-1v1m1-1v1m1-1v2m1-1v1m1-1v1m1-1v1m1-1v1m1-1v1m1-1v2m1-2v2m1-1v1m1-1v1m1-1v1m1-1v1m1-1v2m1-2v2m1-1v1m1-1v1m1-1v1m1-1v2m1-2v2m1-2v2m1-1v1m1-1v1m1-1v2m1-2v2m1-2v2m1-1v1m1-1v1m1-1v2m1-2v2m1-2v2m1-1v1m1-1v2m1-2v2m1-2v2m1-2v2m1-1v1m1-1v2m1-2v2m1-2v2m1-2v2m1-2v2m1-1v1m1-1v1m1-1v2m1-2v2m1-2v2m1-2v2"/>
<path stroke="#b61b48" d="M159 286v9m1-19v5m0 24v8m1-55v13m0 45v4m1-74v9m0 65v5m1-79v9m0 67v6m1-71v13m0 55v7m1-65v29m0 31v8m1-46v14m0 28v7m1-40v11m0 25v7m1-36v10m0 22v6m1-33v10m0 19v6m1-30v10m0 16v5m1-26v10m0 11v7m1-24v11m0 5v8m1-20v21m1-16v16m1-10v8m51-98v1m1 1v2m130-7v1m1-1v1m1-1v1m1-1v2m1-1v1m1-1v1m1-1v1m1-1v2m1-1v1m1-1v1m1-1v1m1-1v1m1-1v2m1-1v1m1-1v1m1-1v1m1-1v1m1-1v1m1-1v1m1-1v2m1-2v2m1-1v1m1-1v1m1-1v1m1-1v1m1-1v2m1-2v2m1-2v2m1-1v1m1-1v1m1-1v1m1-1v2m1-2v2m1-2v2m1-1v1m1-1v1m1-1v2m1-2v2m1-2v2m1-2v2m1-1v1m1-1v2m1-2v2m1-2v2m1-2v2m1-1v1m1-1v2m1-2v2m1-2v2m1-2v2m1-2v2m1-1v1m1-1v2m1-2v2m1-2v2m1-2v2m1-2v2m1-2v2"/>
<path stroke="#b41947" d="M160 281v24m1-34v45m1-61v65m1-65v67m1-52v55m1-29v31m1-24v28m1-22v25m1-19v22m1-17v19m1-14v16m1-11v11m1-6v5m55-94v5m134-5v1m1-1v1m1-1v1m1-1v1m1-1v2m1-1v1m1-1v1m1-1v1m1-1v1m1-1v2m1-2v2m1-1v1m1-1v1m1-1v1m1-1v1m1-1v1m1-1v1m1-1v2m1-2v2m1-2v2m1-2v2m1-1v1m1-1v1m1-1v1m1-1v2m1-2v2m1-2v2m1-2v2m1-2v2m1-1v1m1-1v2m1-2v2m1-2v2m1-2v2m1-2v2m1-2v2m1-1v2m1-2v2m1-2v2m1-2v2m1-2v2m1-2v3m1-2v2m1-2v2m1-2v2m1-2v2m1-2v2m1-2v3m1-3v3m1-3v3m1-3v3m1-2v2m1-2v2m1-2v2"/>
<path stroke="#b11747" d="M226 248v1m140-3v1m1-1v1m1-1v1m1-1v1m1-1v1m1-1v1m1-1v2m1-2v2m1-2v2m1-2v2m1-1v1m1-1v1m1-1v1m1-1v1m1-1v1m1-1v1m1-1v2m1-2v2m1-2v2m1-2v2m1-2v2m1-2v2m1-2v2m1-2v2m1-1v2m1-2v2m1-2v2m1-2v2m1-2v2m1-2v2m1-2v2m1-2v3m1-3v3m1-3v3m1-2v2m1-2v2m1-2v2m1-2v3m1-3v3m1-3v3m1-3v3m1-3v3m1-3v3m1-3v3m1-3v3m1-2v2m1-2v3m1-3v3m1-3v3"/>
<path stroke="#af1446" d="M226 247v1m150-2v1m1-1v1m1-1v1m1-1v1m1-1v1m1-1v1m1-1v1m1-1v1m1-1v1m1-1v1m1-1v1m1-1v1m1-1v1m1-1v1m1-1v2m1-2v2m1-2v2m1-2v2m1-2v2m1-2v2m1-2v2m1-2v2m1-2v2m1-2v2m1-2v3m1-3v3m1-3v3m1-3v3m1-3v3m1-3v3m1-3v3m1-3v3m1-3v3m1-3v3m1-3v3m1-3v4m1-4v4m1-4v4m1-4v4"/>
<path stroke="#ad1246" d="M226 246v1"/>
</g>
<rect x="85.5" y="9.5" width="331" height="174.5" fill="none" stroke="#000" stroke-width="1.3"/>
<text x="115.59" y="203.2" font-size="15" text-anchor="middle">4</text>
<text x="175.77" y="203.2" font-size="15" text-anchor="middle">6</text>
<text x="235.95" y="203.2" font-size="15" text-anchor="middle">8</text>
<text x="296.14" y="203.2" font-size="15" text-anchor="middle">10</text>
<text x="356.32" y="203.2" font-size="15" text-anchor="middle">12</text>
<text x="416.50" y="203.2" font-size="15" text-anchor="middle">14</text>
<text x="81" y="189.90" font-size="15" text-anchor="end">0</text>
<text x="81" y="146.28" font-size="15" text-anchor="end">20</text>
<text x="81" y="102.65" font-size="15" text-anchor="end">40</text>
<text x="81" y="59.02" font-size="15" text-anchor="end">60</text>
<text x="81" y="15.40" font-size="15" text-anchor="end">80</text>
<path d="M115.59 184v-3.2M115.59 9.5v3.2M175.77 184v-3.2M175.77 9.5v3.2M235.95 184v-3.2M235.95 9.5v3.2M296.14 184v-3.2M296.14 9.5v3.2M356.32 184v-3.2M356.32 9.5v3.2M85.5 140.38h3.2M416.5 140.38h-3.2M85.5 96.75h3.2M416.5 96.75h-3.2M85.5 53.12h3.2M416.5 53.12h-3.2" stroke="#000" stroke-width="1" fill="none"/>
<text x="251.50" y="223.5" font-size="17.5" text-anchor="middle">Wavelength (μm)</text>
<text transform="translate(58.4 95.25) rotate(-90)" font-size="17.5" text-anchor="middle">Incident Angle (°)</text>
<text x="1.8" y="102.9" font-size="16.5">(a)</text>
<rect x="430.5" y="9.5" width="12.5" height="174.5" fill="url(#cb)" stroke="#2a2a30" stroke-opacity="0.7" stroke-width="0.8"/>
<path d="M443 44.19h-2" stroke="#222" stroke-width="0.7"/>
<text x="447" y="50.19" font-size="15">0.8</text>
<path d="M443 79.58h-2" stroke="#222" stroke-width="0.7"/>
<text x="447" y="85.58" font-size="15">0.6</text>
<path d="M443 114.98h-2" stroke="#222" stroke-width="0.7"/>
<text x="447" y="120.98" font-size="15">0.4</text>
<path d="M443 150.37h-2" stroke="#222" stroke-width="0.7"/>
<text x="447" y="156.37" font-size="15">0.2</text>
<text x="496.7" y="103" font-size="16">TE</text>
<rect x="79" y="245.5" width="336" height="176.5" fill="none" stroke="#000" stroke-width="1.3"/>
<text x="109.55" y="441.7" font-size="15" text-anchor="middle">4</text>
<text x="170.64" y="441.7" font-size="15" text-anchor="middle">6</text>
<text x="231.73" y="441.7" font-size="15" text-anchor="middle">8</text>
<text x="292.82" y="441.7" font-size="15" text-anchor="middle">10</text>
<text x="353.91" y="441.7" font-size="15" text-anchor="middle">12</text>
<text x="415.00" y="441.7" font-size="15" text-anchor="middle">14</text>
<text x="73.7" y="427.90" font-size="15" text-anchor="end">0</text>
<text x="73.7" y="383.77" font-size="15" text-anchor="end">20</text>
<text x="73.7" y="339.65" font-size="15" text-anchor="end">40</text>
<text x="73.7" y="295.52" font-size="15" text-anchor="end">60</text>
<text x="73.7" y="251.40" font-size="15" text-anchor="end">80</text>
<path d="M109.55 422v-3.2M109.55 245.5v3.2M170.64 422v-3.2M170.64 245.5v3.2M231.73 422v-3.2M231.73 245.5v3.2M292.82 422v-3.2M292.82 245.5v3.2M353.91 422v-3.2M353.91 245.5v3.2M79 377.88h3.2M415 377.88h-3.2M79 333.75h3.2M415 333.75h-3.2M79 289.62h3.2M415 289.62h-3.2" stroke="#000" stroke-width="1" fill="none"/>
<text x="246.00" y="462.5" font-size="17.5" text-anchor="middle">Wavelength (μm)</text>
<text transform="translate(51.2 336.05) rotate(-90)" font-size="17.5" text-anchor="middle">Incident Angle (°)</text>
<text x="1.8" y="340" font-size="16.5">(b)</text>
<rect x="429.5" y="245.5" width="12.5" height="176.5" fill="url(#cb)" stroke="#2a2a30" stroke-opacity="0.7" stroke-width="0.8"/>
<path d="M442 245.50h-2" stroke="#222" stroke-width="0.7"/>
<text x="446.2" y="251.50" font-size="15">1</text>
<path d="M442 280.80h-2" stroke="#222" stroke-width="0.7"/>
<text x="446.2" y="286.80" font-size="15">0.8</text>
<path d="M442 316.10h-2" stroke="#222" stroke-width="0.7"/>
<text x="446.2" y="322.10" font-size="15">0.6</text>
<path d="M442 351.40h-2" stroke="#222" stroke-width="0.7"/>
<text x="446.2" y="357.40" font-size="15">0.4</text>
<path d="M442 386.70h-2" stroke="#222" stroke-width="0.7"/>
<text x="446.2" y="392.70" font-size="15">0.2</text>
<path d="M442 422.00h-2" stroke="#222" stroke-width="0.7"/>
<text x="446.2" y="428.00" font-size="15">0</text>
<text x="489.5" y="341" font-size="16">TM</text>
</svg></body></html>
